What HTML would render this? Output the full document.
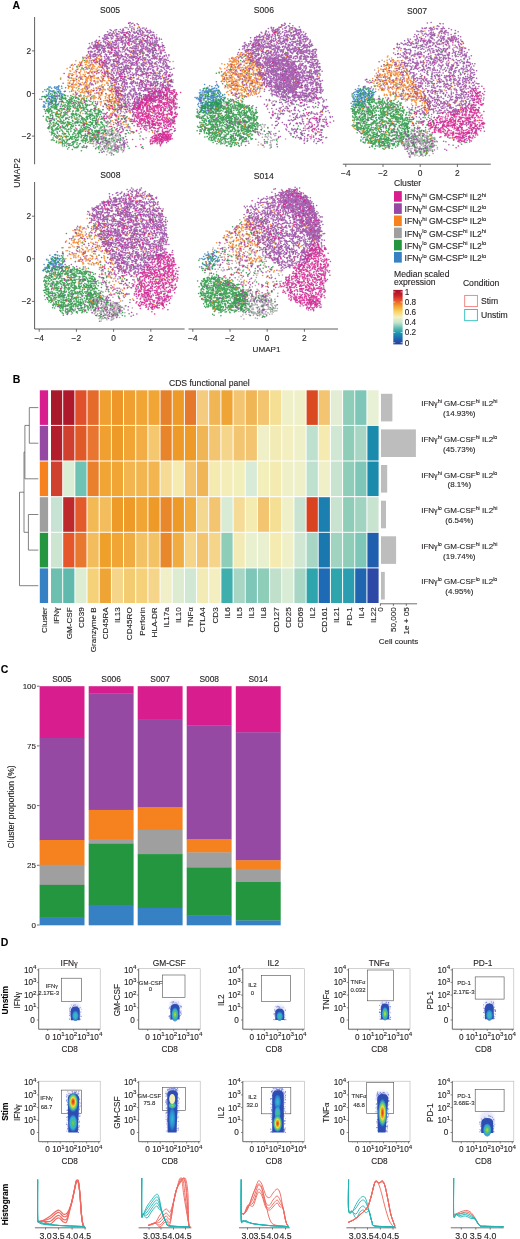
<!DOCTYPE html>
<html><head><meta charset="utf-8"><title>Figure</title>
<style>html,body{margin:0;padding:0;background:#fff;width:520px;height:1239px;overflow:hidden}svg{display:block}text{stroke:#231f20;stroke-width:0.12px}</style>
</head><body>
<svg width="520" height="1239" viewBox="0 0 520 1239" font-family="'Liberation Sans', Arial, sans-serif" fill="#231f20">
<rect x="0.0" y="0.0" width="520.0" height="1239.0" fill="#ffffff"/>
<defs><filter id="sb" x="0" y="0" width="520" height="360" filterUnits="userSpaceOnUse"><feGaussianBlur stdDeviation="0.3"/></filter></defs>
<g filter="url(#sb)"><g transform="scale(0.25)" fill="none" stroke-width="5.6" stroke-linecap="round" stroke-opacity="0.85">
<path d="M626 139h1m-34 0h1m-151 26h1m112 11h1m62-6h1m-30 27h1m18 4h1m-84 22h1m17 11h1m-187 17h1m114 1h1m101 23h1m-82 5h1m107 14h1m-321 29h1m41-6h1m367 3h1m-41 7h1m-155 5h1m-186 2h1m-26 25h1m-31 7h1m69 4h1m285 0h1m-321 8h1m-50 6h1m16 11h1m16 1h1m23-4h1m253-4h1m137 13h1m-232 4h1m-111-4h1m-73 4h1m-28 6h1m42-1h1m64 9h1m75 1h1m17-10h1m28 22h1m-27-9h1m-48 4h1m-136 4h1m-4-6h1m-55-4h1m13 19h1m7-7h1m16 6h1m18-2h1m57 3h1m127-5h1m204-1h1m-150 17h1m-16-3h1m-97 5h1m-109-7h1m-67 9h1m1 1h1m19 3h1m12 3h1m90-1h1m74 5h1m33 1h1m10-3h1m34 9h1m-33 4h1m-13-5h1m-9 7h1m-24-10h1m-31 1h1m-107-1h1m-89 7h1m-21 7h1m44 4h1m55 3h1m142-6h1m22-3h1m40 0h1m115 8h1m13 11h1m-107-6h1m-45 3h1m-6 3h1m-52-2h1m-106 5h1m-34-3h1m-26 2h1m-15-7h1m-58 20h1m50-4h1m149 2h1m19-4h1m14-1h1m13 8h1m24 6h1m-2 6h1m-21-7h1m-1 1h1m-5 1h1m-3-5h1m-4 0h1m-4 0h1m-2 6h1m-7-3h1m-2 2h1m-1 2h1m-6-6h1m-5-1h1m-5 9h1m-5-4h1m-18 4h1m-4 0h1m-1-1h1m-2-4h1m-4 2h1m-46-1h1m-36-3h1m-35-2h1m-78 9h1m6 13h1m24-7h1m28 1h1m1 2h1m106 2h1m4-5h1m3 3h1m4-6h1m1 3h1m0 7h1m5-8h1m5 5h1m5-2h1m8 3h1m0-1h1m0-5h1m1-2h1m5 2h1m6 7h1m0-7h1m0 1h1m1-5h1m1 5h1m2 3h1m5 4h1m-1-1h1m1 1h1m0-10h1m-1 4h1m1 3h1m0-5h1m1 1h1m5-1h1m4 5h1m2 0h1m2-4h1m6 7h1m-1-8h1m107 19h1m-97-1h1m-8-5h1m-8 3h1m-5-6h1m-4 2h1m-4-1h1m-2 5h1m-7 1h1m-2 2h1m-2-1h1m-5-3h1m-17-6h1m-8-1h1m-5 10h1m-2-7h1m-8 3h1m-2 0h1m-6-2h1m-1-3h1m-2 7h1m-1-5h1m-4 7h1m-4-4h1m-4 2h1m-6-6h1m-1 1h1m-2 5h1m-1-3h1m-1 1h1m-5-4h1m-2 3h1m-1-4h1m-1 7h1m-4 0h1m-3-6h1m-2 0h1m-4-1h1m-1 10h1m-5-8h1m-14 1h1m-34-1h1m-5 0h1m-46 8h1m-53-4h1m15 16h1m9-3h1m123 2h1m3-4h1m4 4h1m8-5h1m1-3h1m3 3h1m2-2h1m-1-1h1m2 6h1m1-1h1m0 0h1m1-5h1m0 7h1m0 1h1m2-1h1m0-1h1m0-2h1m1-5h1m1 8h1m1 1h1m2-1h1m0 1h1m1-6h1m3 3h1m7-2h1m-1 5h1m1 2h1m3-7h1m3 1h1m0 4h1m5-7h1m6 7h1m5-6h1m0 5h1m2 1h1m0 1h1m0-7h1m1 1h1m6 5h1m1-3h1m66-2h1m40 11h1m-106-1h1m-1 2h1m-3-3h1m-13 10h1m-13-7h1m-6-5h1m-4 6h1m-2 4h1m-6-9h1m-1 7h1m-5-7h1m-2 0h1m-3 3h1m-6 6h1m-3 1h1m-2 1h1m-1-2h1m-3-6h1m-2-2h1m-3 6h1m-2-1h1m-3-1h1m-11 2h1m-6-2h1m-3 5h1m-3-6h1m-1-5h1m-4 7h1m-5-5h1m-5 4h1m-2 5h1m-10-9h1m-2 6h1m-7-4h1m-2 5h1m-11 2h1m-85-7h1m-40 18h1m62-3h1m59 2h1m8-5h1m2-2h1m11 3h1m0 4h1m3 1h1m4-8h1m10 5h1m4 0h1m0 1h1m-1-3h1m1 4h1m-1 1h1m4 2h1m0-11h1m1 3h1m6 2h1m0 5h1m0 1h1m3-4h1m2 2h1m1-5h1m3-3h1m0 6h1m3 1h1m5-2h1m0 2h1m5-2h1m3 0h1m4-4h1m0 3h1m4-6h1m4 9h1m0-6h1m10-2h1m-9 12h1m-4 6h1m-1 2h1m-3-6h1m-6 8h1m-4-10h1m-3 9h1m-1-1h1m-6-9h1m-3 1h1m-4 11h1m-5-1h1m-2-9h1m-2 7h1m-3-7h1m-1-1h1m-2 2h1m-8 0h1m-5 8h1m-7-2h1m-5-2h1m-8 0h1m-3-3h1m-9 3h1m-3-6h1m-3 7h1m-3 2h1m-4-8h1m-10 3h1m-3 2h1m-10-4h1m-6-2h1m-4 1h1m-5-1h1m-4 4h1m16 7h1m2 2h1m0 0h1m-1 1h1m2 6h1m9-2h1m10 0h1m2-4h1m0-3h1m4 10h1m-1 2h1m4-4h1m-1 2h1m2-8h1m0 9h1m4-8h1m0-1h1m2 1h1m2-2h1m-1 4h1m4-4h1m2 7h1m3-1h1m0 3h1m1-4h1m11-6h1m0 0h1m3 8h1m-46 13h1m-6-9h1m-15 7h1" stroke="#9f9f9f"/>
<path d="M195 348h1m5 0h1m17-1h1m8 0h1m1 1h1m4-5h1m-1 3h1m11 7h1m-9 7h1m-7-8h1m-1 0h1m-1 5h1m-2-4h1m-1 2h1m-6 4h1m-2-9h1m-3 3h1m-5 0h1m-4-3h1m-12 3h1m-11-2h1m-2 8h1m-17 0h1m5 6h1m14-3h1m0 2h1m4 1h1m2 0h1m-1 2h1m1-2h1m4 5h1m1 1h1m1-2h1m4 3h1m3-6h1m3 1h1m2-6h1m3 8h1m1-3h1m18-1h1m-10 12h1m-4 2h1m-3-1h1m-2-4h1m-1 8h1m-1-6h1m-6-2h1m-2-1h1m-2 4h1m-2 6h1m-2-8h1m-5 8h1m-5-3h1m-3-6h1m-10 8h1m-1-7h1m-7 8h1m-10-9h1m-10-1h1m-2 4h1m-7 5h1m-3-2h1m-19 7h1m11-1h1m1 5h1m10 3h1m2-5h1m-1-4h1m0 9h1m1-9h1m-1 10h1m4-9h1m2 4h1m2-4h1m1 6h1m0-7h1m1 8h1m4 2h1m-1-2h1m2 0h1m3-8h1m1 0h1m9 11h1m1-8h1m6 0h1m2 3h1m-10 7h1m-2 8h1m-15-8h1m-3 5h1m-2 3h1m-3 1h1m-8-7h1m-3 2h1m-1-1h1m-2 6h1m-2-6h1m-6-4h1m-1 7h1m-1 1h1m-14-1h1m-1 4h1m-8-9h1m-12 8h1m-16-10h1m16 11h1m2 0h1m3 6h1m10 2h1m0 0h1m1-8h1m0 11h1m1-9h1m3 7h1m3-3h1m13-4h1m1 7h1m5 1h1m40 3h1m-40-1h1m-7 11h1m-23-6h1m-12-4h1m-2 6h1m-13 1h1m-3-7h1m-2 3h1m-3 5h1m-2-9h1m-3 7h1m96 7h1m134 17h1m-224-6h1m82 29h1m122 17h1m-53 1h1m-103 5h1m138 7h1m-53 24h1m-93-1h1m117 16h1m-7 0h1m-93 29h1" stroke="#3680c4"/>
<path d="M551 121h1m-1 14h1m-10-3h1m-35 1h1m-71 9h1m106 16h1m73 19h1m-159 4h1m-79 2h1m-10 0h1m24 18h1m147-6h1m72 6h1m-10 9h1m-41 0h1m37 11h1m-278 14h1m4 7h1m-31 24h1m9 0h1m9 7h1m5 2h1m22-2h1m155 1h1m52 7h1m-73 6h1m-1 2h1m4 18h1m-137 2h1m-121 7h1m41-4h1m21 5h1m148 2h1m64-2h1m104 2h1m59 4h1m-4 4h1m-51 7h1m-63 0h1m-92-10h1m-203 10h1m-32 11h1m29 1h1m162 1h1m18-7h1m164 2h1m-175 15h1m-40-8h1m-9 7h1m-17-4h1m-49 0h1m-24 3h1m-125 0h1m-4 2h1m-18 10h1m24-3h1m-1 5h1m16-5h1m1-1h1m3 6h1m14 0h1m0-2h1m50-2h1m63 6h1m1-5h1m84-3h1m30 0h1m17 2h1m72 10h1m-85 7h1m-5 0h1m-110-4h1m-28 6h1m-14-4h1m-8 3h1m-33-1h1m-22 1h1m-5-4h1m-3 4h1m-38 0h1m-3-11h1m-9 5h1m-10 0h1m-10 4h1m-21 5h1m5 0h1m2 3h1m1-2h1m4-1h1m1 9h1m17-4h1m3 0h1m5-4h1m-1-3h1m2 12h1m-1-9h1m0 7h1m2-9h1m5 7h1m5-8h1m8 11h1m-1-4h1m2 0h1m0-5h1m0 4h1m1 4h1m0 1h1m3-2h1m1-1h1m0 4h1m0-5h1m1 2h1m7-9h1m12 5h1m0 3h1m4-6h1m0 9h1m2-5h1m5-3h1m1 6h1m3-3h1m7 3h1m14 0h1m4 1h1m1-2h1m9 3h1m15-4h1m4-5h1m7 2h1m63 16h1m-77 2h1m-17 0h1m-2-3h1m-5 1h1m-2 0h1m-5-3h1m-12-4h1m-3 5h1m-3 6h1m-1 0h1m-7-10h1m-4 0h1m-3 9h1m-7-3h1m-7 0h1m-3-1h1m-1-2h1m-9-5h1m-1 9h1m-4 0h1m-2-2h1m-1-5h1m-1 7h1m-1-1h1m-5-7h1m-4 4h1m-1 6h1m-1-6h1m-4-2h1m-2 8h1m-6-4h1m-4 0h1m-5-6h1m-14 7h1m-3 3h1m-2-9h1m-2 8h1m-1 1h1m-8-11h1m-17 8h1m-3-5h1m-4 5h1m-10 1h1m-1 3h1m-4-4h1m-5-4h1m-15 6h1m-2-4h1m-21-5h1m26 18h1m4-1h1m3-5h1m4 1h1m1 3h1m5 4h1m4 2h1m-1 0h1m0-5h1m1-5h1m6 9h1m3-3h1m10 1h1m-1 3h1m1-11h1m6 2h1m5 8h1m3-8h1m5 5h1m0-7h1m-1 7h1m-1 1h1m1 1h1m-1-8h1m0 4h1m0 2h1m3-3h1m3-2h1m1 5h1m2 0h1m5 0h1m2 2h1m2 2h1m0-8h1m1 1h1m1 1h1m0 0h1m7-1h1m-1-3h1m3 9h1m1-7h1m4 1h1m-1 1h1m3 3h1m1-1h1m6-7h1m2 9h1m0-2h1m5 3h1m21-8h1m-1 6h1m11-2h1m41 4h1m20-5h1m23 4h1m27-1h1m1 11h1m-43-7h1m-2 12h1m-73-8h1m-2 7h1m-3 1h1m-2-8h1m-4-1h1m-3-1h1m-18-2h1m-2 1h1m-7-1h1m-2 1h1m-5 5h1m-1-4h1m-4 9h1m-1-10h1m-4 8h1m-8 3h1m-1-4h1m-3-6h1m-3 8h1m-7 1h1m-3-6h1m-2-1h1m-1-2h1m-4 8h1m-2-6h1m-3-3h1m-6 5h1m-2 6h1m-7-4h1m-4-7h1m-5 4h1m-2-1h1m-2 6h1m-1-2h1m-4-5h1m-8 3h1m-5-5h1m-1 6h1m-9-2h1m-1 4h1m-3 2h1m-4-7h1m-8 1h1m-1-2h1m-1 1h1m-6-1h1m-3-2h1m-4 5h1m-23 0h1m-3-4h1m-3 9h1m-3-6h1m-2 5h1m-3-4h1m-1 5h1m-7-2h1m-1-8h1m-2 3h1m-5 7h1m-3-5h1m-11 5h1m-19 7h1m7 4h1m0-4h1m1 6h1m1-4h1m1-6h1m0 9h1m1-3h1m0 2h1m4-9h1m0 6h1m0 1h1m3 3h1m8-8h1m4 0h1m2 1h1m2 0h1m0 2h1m4 3h1m3 3h1m-1-3h1m2-7h1m0 1h1m3-1h1m1 9h1m0-5h1m-1-2h1m5-1h1m0 2h1m-1 0h1m11 5h1m-1 0h1m0-4h1m0-2h1m1-3h1m1 2h1m0 4h1m2 0h1m0 5h1m2-9h1m10 8h1m12-8h1m-1 8h1m4-4h1m0-4h1m-1 7h1m-1 1h1m0 1h1m1-2h1m-1-5h1m10-4h1m0 11h1m5-3h1m0-6h1m0-2h1m2 3h1m7 1h1m4 7h1m-1-6h1m10 6h1m0-3h1m0-3h1m3 0h1m7 4h1m0-7h1m-1 7h1m-1-7h1m2-3h1m-1 3h1m0 3h1m0 2h1m2-1h1m7 2h1m-1-3h1m1-3h1m2 8h1m1-2h1m10-2h1m1 0h1m23 2h1m20-1h1m21-5h1m5-2h1m176 8h1m-193 10h1m-55 3h1m-2 1h1m-11-8h1m-6-2h1m-4 4h1m-1-4h1m-2-1h1m-3 11h1m-2-7h1m-2 4h1m-2 4h1m-6-2h1m-4 1h1m-4-2h1m-2-7h1m-2 0h1m-11 6h1m-6-7h1m-2 2h1m-2-1h1m-3 9h1m-3-9h1m-2-1h1m-11 5h1m-1-1h1m-4 4h1m-3 2h1m-2-9h1m-20 3h1m-11-4h1m-7 10h1m-3-2h1m-11 2h1m-3-9h1m-3 7h1m-11-8h1m-17 5h1m-4 3h1m-1-6h1m-2 6h1m-6-2h1m-10-1h1m-1 0h1m-3 3h1m-15-6h1m-2 6h1m-3-4h1m-1-1h1m-1 1h1m-3 4h1m-1-2h1m-3 5h1m-8-6h1m-8-1h1m-2 5h1m-3-8h1m-8 0h1m-4 2h1m-2 4h1m-5-6h1m-9 7h1m-10 12h1m12 3h1m3-1h1m1 0h1m8-7h1m-1-2h1m-1 6h1m1-3h1m6 1h1m11-3h1m1 5h1m0-6h1m1 8h1m-1-1h1m2 2h1m0-10h1m0 9h1m1-8h1m6-1h1m0 7h1m-1-3h1m6 3h1m3 2h1m-1 1h1m0-1h1m0-4h1m-1-2h1m4 0h1m4-3h1m2-1h1m9 12h1m6-2h1m-1-10h1m1 11h1m1-6h1m-1-2h1m4 0h1m1 6h1m3-8h1m1 1h1m1 2h1m2 2h1m4-5h1m3 8h1m0 2h1m1-6h1m4 4h1m21 1h1m0-1h1m0-9h1m3 1h1m-1 8h1m2 0h1m2-5h1m0 3h1m1-4h1m0-1h1m3-1h1m0 7h1m2-4h1m2 3h1m4 2h1m6-1h1m0-3h1m1 7h1m0-2h1m3-6h1m4 8h1m2-10h1m13 9h1m83-4h1m8 4h1m25-9h1m-31 12h1m-6 5h1m-5-4h1m-7 5h1m-16-3h1m-1 4h1m-40-5h1m-20 7h1m-5-6h1m-4 3h1m-3-3h1m-5 4h1m-11-1h1m-10-3h1m-7-4h1m-2 4h1m-6 0h1m-4 3h1m-8 1h1m-2-7h1m-4 2h1m-9 5h1m-1-2h1m-2-4h1m-2 5h1m-4-5h1m-1 0h1m-2-2h1m-5 9h1m-4-3h1m-2 1h1m-5 1h1m-2-2h1m-1-4h1m-3 3h1m-3-5h1m-1 10h1m-13-2h1m-9 1h1m-1-3h1m-11-3h1m-10-1h1m-3 1h1m-11-3h1m-2 9h1m-2-1h1m-9-4h1m-4-1h1m-2 5h1m-13-6h1m-6-1h1m-5 10h1m-2-4h1m-5-5h1m-2-1h1m-11 6h1m-10 4h1m-3-3h1m-4-9h1m-2 8h1m-1 0h1m-1-6h1m-2 5h1m-4 0h1m-5-1h1m-3 1h1m-8-3h1m-10 4h1m-1 4h1m1 1h1m2 5h1m7 0h1m2 2h1m0 3h1m2-9h1m1 1h1m5 8h1m2-2h1m1-8h1m7 8h1m4-6h1m0 1h1m3 2h1m3 2h1m3-1h1m0-6h1m4 6h1m0 4h1m2-2h1m0-8h1m0 1h1m5 9h1m-1-1h1m7-3h1m0 4h1m0-2h1m3-1h1m0 2h1m6 0h1m5-9h1m1 2h1m-1 3h1m9 2h1m-1 3h1m0-1h1m3 1h1m0-5h1m3 5h1m-1-1h1m-1-7h1m3 5h1m5-4h1m-1 7h1m2-1h1m2 2h1m3-8h1m1 4h1m-1-4h1m0 8h1m5-10h1m2-2h1m-1 2h1m0 2h1m0 3h1m10 2h1m2-1h1m1-1h1m0 3h1m3 2h1m0-1h1m1-9h1m-1 10h1m1-3h1m1-7h1m5 0h1m1 6h1m3-7h1m1 9h1m2-3h1m12 3h1m0-3h1m3 3h1m7-8h1m1-1h1m5 10h1m18-7h1m18 8h1m32-4h1m25-2h1m0-1h1m67 5h1m99-8h1m-179 15h1m-39-5h1m-40 0h1m-8 0h1m-2 12h1m-4-1h1m-10-2h1m-6-2h1m-4-5h1m-2-2h1m-8 8h1m-6-3h1m-3 2h1m-6-5h1m-2 6h1m-5-3h1m-1 0h1m-1-5h1m-7 10h1m-2 1h1m-7-6h1m-1-4h1m-4 4h1m-6 4h1m-1-1h1m-6 1h1m-3-2h1m-7-1h1m-2-4h1m-1 0h1m-4 3h1m-4-3h1m-2-1h1m-4 9h1m-2-6h1m-1 3h1m-3-5h1m-2 9h1m-1-7h1m-2 7h1m-2-2h1m-14-1h1m-3 2h1m-1 0h1m-2-1h1m-13 1h1m-5-7h1m-6 9h1m-4-10h1m-5 8h1m-1 2h1m-4-6h1m-6-1h1m-3-4h1m-2 0h1m-3 1h1m-2 5h1m-4 3h1m-4-5h1m-3 3h1m-9-6h1m-2 1h1m-8 7h1m-2-9h1m-5 1h1m-10 8h1m-4-4h1m-4-1h1m-1 0h1m-3-4h1m-5 1h1m-3 7h1m-6-5h1m-1 8h1m-1 0h1m-5-3h1m-9-5h1m-6 6h1m-4-6h1m-7 16h1m3 2h1m0-7h1m2 0h1m5 5h1m1-4h1m2 5h1m2-7h1m4-2h1m6 10h1m2-3h1m0 3h1m2-7h1m1 8h1m5-4h1m0-1h1m-1 3h1m7-6h1m2 1h1m1 0h1m-1 1h1m4 1h1m2-5h1m1 10h1m5-8h1m12 2h1m1-4h1m1 9h1m3-7h1m11 5h1m-1 0h1m17 4h1m3-8h1m0 2h1m3 5h1m6-3h1m0 2h1m1-1h1m3-6h1m0 8h1m2-10h1m-1 11h1m0-7h1m4 1h1m-1-1h1m0 2h1m2 0h1m4-7h1m11 6h1m4 3h1m1-5h1m6-1h1m14 1h1m-1 2h1m-1 4h1m3-6h1m1 0h1m-1 0h1m6-2h1m30 9h1m10-4h1m10-7h1m10 7h1m37-3h1m181 14h1m-31 3h1m-61-1h1m-106-3h1m-14-4h1m-25 8h1m-20-2h1m-28-1h1m-2 4h1m-4-3h1m-2-3h1m-8 0h1m-5 1h1m-8-1h1m-1 0h1m-2 6h1m-5-4h1m-2 5h1m-6-2h1m-2 2h1m-1-5h1m-3 0h1m-3 3h1m-5-2h1m-1 5h1m-11-4h1m-2-3h1m-2-2h1m-2 5h1m-8-6h1m-4 2h1m-3-1h1m-3 6h1m-3 0h1m-10 1h1m-3-8h1m-7 1h1m-3 3h1m-1 3h1m-6 3h1m-2-8h1m-2 6h1m-2-5h1m-3 0h1m-5 2h1m-5 2h1m-11-2h1m-1-1h1m-3 2h1m-3 1h1m-2-5h1m-3-2h1m-14 6h1m-1 2h1m-2-10h1m-8 0h1m-3 2h1m-2 8h1m-6 0h1m-1-6h1m-9-4h1m-10 11h1m-3-6h1m-5-1h1m-7 5h1m-7-7h1m-2 0h1m-8 1h1m-2 1h1m-2-4h1m-7 4h1m-2 2h1m-4 5h1m-4-6h1m-1-2h1m-4 0h1m-2 11h1m0-2h1m0 8h1m1-6h1m0 5h1m0-1h1m4-1h1m3 4h1m8-5h1m19 3h1m5 4h1m0-2h1m-1 0h1m-1-3h1m5 1h1m11-3h1m1 5h1m0 2h1m12 0h1m1-3h1m-1 0h1m2-6h1m3 4h1m4 6h1m4-6h1m2-3h1m0 6h1m-1 1h1m-1-3h1m0-4h1m2 3h1m1-5h1m0 0h1m0 5h1m0 1h1m1 4h1m16-3h1m-1 3h1m8-6h1m1 1h1m-1-2h1m0 4h1m2-1h1m-1-6h1m0 5h1m3-1h1m0 1h1m7-3h1m-1 8h1m-1-8h1m3 6h1m9 2h1m3-9h1m0 1h1m0 8h1m0-9h1m1 7h1m0-6h1m3 0h1m7 2h1m4-2h1m0 2h1m12 0h1m17 6h1m1-4h1m3 3h1m1 1h1m26-1h1m22-3h1m11-4h1m21-1h1m24 14h1m-59 2h1m-9 6h1m-34-10h1m-70 2h1m-2 3h1m-12-1h1m-2 5h1m-3-9h1m-3 10h1m-2-9h1m-2-2h1m-3 9h1m-4-9h1m-5 9h1m-5-1h1m-2 1h1m-1-3h1m-10-2h1m-2-4h1m-3 10h1m-5-9h1m-5 5h1m-4 5h1m-2-10h1m-2 9h1m-8-9h1m-4 8h1m-1 1h1m-1-4h1m-10-3h1m-2 4h1m-2-5h1m-4 6h1m-9-8h1m-1 7h1m-5 4h1m-3-6h1m-7 1h1m-3 2h1m-6-3h1m-2 2h1m-1 4h1m-11-6h1m-5 0h1m-3-2h1m-3 7h1m-2-5h1m-4 0h1m-11 4h1m-5-5h1m-3-1h1m-7 0h1m-4-3h1m-5 5h1m-6-4h1m-3 7h1m-9-8h1m-1 3h1m-12 16h1m4-1h1m0 0h1m0-7h1m3 10h1m11-9h1m7 5h1m2-3h1m1 2h1m6-1h1m-1-1h1m3 6h1m13 3h1m2-6h1m0 4h1m4-5h1m0 0h1m0 1h1m-1-3h1m3-2h1m4 2h1m0 2h1m3-1h1m9 3h1m1 0h1m0 4h1m0-11h1m1 9h1m3 0h1m0-4h1m12 6h1m1-2h1m2 2h1m1-6h1m3 5h1m0 0h1m3 0h1m-1-7h1m2 5h1m0-5h1m1 6h1m-1-5h1m1 4h1m9-3h1m-1 7h1m-1-8h1m2 6h1m0-3h1m0-1h1m0-1h1m1 7h1m3-11h1m-1 5h1m1 1h1m3-6h1m2 2h1m1 3h1m3-6h1m1 8h1m3 3h1m1-6h1m0-4h1m22-1h1m2 9h1m0-9h1m0 3h1m0 8h1m13-9h1m12-1h1m4 9h1m11-4h1m12-5h1m1 7h1m-6 9h1m-40-1h1m-4-1h1m-9 7h1m-19-7h1m-22 0h1m-22 7h1m-6-8h1m-4 7h1m-10-3h1m-9-3h1m-2-1h1m-2 7h1m-10-5h1m-12 6h1m-5 2h1m-10-5h1m-9-6h1m-2 4h1m-2-3h1m-5 8h1m-2-8h1m-2 6h1m-1 4h1m-5-6h1m-9 5h1m-15-7h1m-5 4h1m-5-4h1m-2-4h1m-7 10h1m-2-9h1m-2 4h1m-7 0h1m-4 0h1m-6 3h1m-10-7h1m-2 5h1m23 10h1m7-4h1m0 7h1m7 2h1m7-4h1m1-4h1m1 5h1m5 0h1m4-2h1m2-1h1m1 8h1m12-10h1m4 7h1m22-2h1m10 3h1m47 2h1m25-3h1m6-6h1m68 3h1m14 4h1m58 2h1m-55 6h1m-33-1h1m-38-3h1m-5 6h1m-9-2h1m-3 0h1m-24 4h1m-17-2h1m-13 0h1m-38-4h1m-7-2h1m-10 1h1m-1-1h1m-3-1h1m-18 0h1m-5 3h1m-1-3h1m-6 2h1m-4 1h1m-11 7h1m-15-8h1m-6 6h1m54 7h1m71 7h1m16-5h1m49-2h1m-11 16h1" stroke="#23963f"/>
<path d="M537 100h1m0 2h1m16 5h1m-20 10h1m-60 10h1m29 2h1m0 1h1m58 7h1m-70 4h1m-42-7h1m-12 3h1m20 15h1m2-5h1m18 4h1m13 1h1m84 2h1m-21 7h1m-54-5h1m-123 13h1m48 3h1m67 1h1m14 5h1m84 2h1m-58 8h1m-14 3h1m-44-2h1m-1 1h1m-46 1h1m-22 0h1m-14-4h1m-34 1h1m-12 4h1m-3-12h1m42 15h1m16 8h1m62-6h1m36 5h1m50-2h1m34-6h1m33 5h1m-79 9h1m-4-3h1m-9 5h1m-13 5h1m-28-10h1m-110 3h1m-35 8h1m-8 0h1m-26 3h1m2 7h1m1 1h1m19-4h1m0 5h1m15-4h1m1 0h1m-1-2h1m7 5h1m58-9h1m2 6h1m45-3h1m11-3h1m16 8h1m33-10h1m42 9h1m21 7h1m-172 6h1m-3-3h1m-2-1h1m-57 2h1m-11-1h1m-1 4h1m-6-4h1m-7-2h1m-3 7h1m-14-1h1m-2 1h1m-8-5h1m-8-1h1m-14-4h1m-6 0h1m-4 2h1m-33 11h1m14 8h1m-1-2h1m2 2h1m8-7h1m0-3h1m7 9h1m3-9h1m-1 5h1m2 4h1m-1-7h1m1 0h1m0-2h1m0 5h1m-1 0h1m3 6h1m2-8h1m0-3h1m16 6h1m0 0h1m6 1h1m1-5h1m1 7h1m2-5h1m6 6h1m17-1h1m161-7h1m28 4h1m85-1h1m-73 11h1m-33 0h1m-76-4h1m-50 6h1m-20 4h1m-5 0h1m-20-11h1m-14 6h1m-3 1h1m-24-3h1m-11 6h1m-2-3h1m-5 0h1m-2-2h1m-5 0h1m-2 1h1m-10 6h1m-4-2h1m-8-4h1m-4 1h1m-12 3h1m-8 1h1m-8-2h1m-4-2h1m-22 4h1m-4-5h1m-22 16h1m21-1h1m17-3h1m0-5h1m0 4h1m1 7h1m15-6h1m15-3h1m2 3h1m7-1h1m2-5h1m1 0h1m6 10h1m-1-3h1m3-3h1m-1-3h1m-1 2h1m3 7h1m2-8h1m10 6h1m4-5h1m-1-1h1m2 3h1m3 0h1m2-4h1m-1 1h1m4 4h1m0 2h1m13-6h1m93 7h1m13 1h1m22 0h1m-61 11h1m-24 0h1m-28-5h1m-15 3h1m-3-6h1m-3 6h1m-3 1h1m-6 3h1m-5-9h1m-15 7h1m-7-5h1m-10 4h1m-4-7h1m-5 8h1m-10 0h1m-3-8h1m-7 9h1m-3-5h1m-3 5h1m-10-9h1m-6 11h1m-3-10h1m-6 10h1m-3-8h1m-5-2h1m-9 1h1m-2 0h1m-2 6h1m-21-3h1m-13-4h1m-9 7h1m-4-2h1m-6 16h1m1-5h1m4 1h1m6 0h1m5 4h1m1-10h1m7 7h1m11-6h1m3 2h1m0 8h1m10-2h1m7 0h1m-1 0h1m11-5h1m1-2h1m13-2h1m2 6h1m4-6h1m10 3h1m9-1h1m8 5h1m1-7h1m9 3h1m-1 6h1m1-5h1m9-4h1m0 9h1m5-6h1m4 3h1m125-6h1m16 8h1m42-6h1m20 15h1m-39 6h1m-58-3h1m-51-1h1m-49 3h1m-8-8h1m-4-3h1m-14 12h1m-2-4h1m-2 1h1m-9-6h1m-6 1h1m-9-2h1m-5 9h1m-3-4h1m-21 5h1m-7-10h1m-3 5h1m-2-6h1m-4 3h1m-3 3h1m-3 0h1m-2-1h1m-2 4h1m-5-4h1m-6-5h1m-4 6h1m-1-1h1m-7 4h1m-3 0h1m-10-4h1m-1-3h1m-10 4h1m-2 0h1m-1 2h1m-5 1h1m-7 0h1m-4 2h1m-6-8h1m-4 3h1m-19-7h1m-1 2h1m-12 7h1m-2-7h1m-1-2h1m-3 9h1m-33 3h1m29 9h1m4-8h1m8-1h1m1 9h1m3-7h1m1 6h1m4 2h1m0-9h1m13 9h1m2 2h1m6-10h1m3 2h1m1 2h1m12-1h1m-1 6h1m0-8h1m0 4h1m1 1h1m-1-7h1m0 10h1m1-8h1m2-3h1m6 4h1m0 6h1m3-8h1m-1 0h1m0 6h1m7 4h1m1-2h1m-1-9h1m12 1h1m3 0h1m4 6h1m10-5h1m0-2h1m3 8h1m4 2h1m13-1h1m-1-10h1m0 3h1m-1 0h1m9 0h1m19 1h1m64-4h1m60 3h1m71 5h1m4-1h1m4 11h1m-2 3h1m-105-5h1m-71 0h1m-31 0h1m-3 6h1m-8-4h1m-16-3h1m-2-1h1m-11 9h1m-4-4h1m-3-3h1m-2 5h1m-17-9h1m-2 2h1m-3 2h1m-5-4h1m-11 4h1m-3-3h1m-3 6h1m-2-5h1m-8 3h1m-15 5h1m-4-9h1m-15 0h1m-5 6h1m-5-4h1m-6 7h1m-3 2h1m-7-6h1m-9 4h1m-2 1h1m-7-2h1m-8-5h1m-12-4h1m-4 6h1m-2 5h1m-5 1h1m-10-3h1m-2-4h1m-7 3h1m-2 9h1m1 2h1m7 1h1m5 1h1m1-7h1m3 2h1m1 8h1m3-9h1m2 1h1m0-4h1m1 1h1m-1 2h1m6 6h1m2 2h1m2-4h1m-1-5h1m0-2h1m6 4h1m6-1h1m6 5h1m-1 3h1m0-7h1m5 3h1m-1-6h1m1 8h1m3-2h1m2 0h1m-1-5h1m1 6h1m13-3h1m0-2h1m24 5h1m-1 1h1m6-2h1m0 1h1m1-6h1m9 2h1m28 1h1m9-3h1m31 7h1m132-1h1m47 11h1m-54-3h1m-3 1h1m-15-1h1m-46 0h1m-80 6h1m-5-3h1m-14-1h1m-4 4h1m-6-5h1m-4 4h1m-2-8h1m-3 4h1m-8 2h1m-3-5h1m-5 8h1m-3 0h1m-1-3h1m-12 3h1m-1 2h1m-3-2h1m-6-6h1m-2 5h1m-1 1h1m-1-2h1m-8 3h1m-2-11h1m-13 0h1m-3 8h1m-4-1h1m-5-3h1m-10 1h1m-10 6h1m-9-10h1m-3 2h1m-7 0h1m-1 7h1m-1-8h1m-6-1h1m-9 6h1m-7 2h1m-2-2h1m-6 4h1m-18-8h1m-4 1h1m-8-3h1m-4-1h1m-5 6h1m-1 4h1m-2-10h1m-4 1h1m-13-1h1m-2 5h1m4 14h1m7-3h1m7-1h1m6 8h1m0-6h1m7-4h1m5 4h1m4 6h1m4-3h1m3-4h1m0-2h1m1 9h1m4-5h1m-1 0h1m0 6h1m4-6h1m-1-5h1m0 3h1m9-1h1m5 6h1m-1-5h1m3 4h1m3-6h1m2 1h1m0-1h1m15 9h1m5-2h1m-1 1h1m2-8h1m5 8h1m3-1h1m1-6h1m1 2h1m29-3h1m1 3h1m0 3h1m1 3h1m4-7h1m8-1h1m9-1h1m11 0h1m160 7h1m-111 13h1m-10 2h1m-44-3h1m-3-8h1m-2 3h1m-14 5h1m-3-3h1m-3 0h1m-3-4h1m-9 4h1m-1 5h1m-4-7h1m-9 3h1m-6 1h1m-10 0h1m-5-6h1m-17 5h1m-5 1h1m-2 3h1m-7 1h1m-4-10h1m-15-1h1m-1 1h1m-4 8h1m-5 0h1m-11-6h1m-7 8h1m-4-9h1m-17 6h1m-14 1h1m-6 0h1m-10-9h1m-5 5h1m-1-3h1m-5 5h1m-2 2h1m-10-6h1m-63 6h1m-10-6h1m57 15h1m23-4h1m18-3h1m0 2h1m1 10h1m1-2h1m7-1h1m7-7h1m4 3h1m2-5h1m12 8h1m6 0h1m7 0h1m-1-7h1m4 5h1m8 4h1m7-1h1m19-7h1m-1 7h1m1-5h1m7 3h1m4-5h1m-1 9h1m1-5h1m9 1h1m-1-3h1m3 7h1m4-3h1m3-4h1m1 5h1m5-4h1m5 5h1m7-10h1m2 0h1m2 5h1m81 3h1m13-4h1m14 3h1m53-1h1m45-4h1m-33 16h1m-167 4h1m-3-3h1m-7 4h1m-3 0h1m-21-3h1m-1-7h1m-11 3h1m-3 3h1m-3 1h1m-3 1h1m-1-1h1m-6 2h1m-4-7h1m-6 2h1m-1-2h1m-3 8h1m-5-4h1m-8 1h1m-5-2h1m-5 0h1m-8 1h1m-11 3h1m-6 1h1m-26-11h1m-2 9h1m-13-7h1m-30 0h1m-3 10h1m-8-3h1m-126 10h1m52-6h1m63-1h1m49 9h1m37-5h1m13 1h1m2 2h1m10-6h1m3 9h1m16-3h1m2-6h1m2 4h1m3-3h1m4 4h1m4-3h1m0 0h1m-1 6h1m4-8h1m6 9h1m-1 0h1m15-1h1m58 1h1m29-6h1m2 3h1m-1 1h1m-90 14h1m-2-7h1m-20-1h1m-8 2h1m-1 6h1m-9-9h1m-12 6h1m-1 3h1m-2 0h1m-4-2h1m-7-7h1m-6 1h1m-4 0h1m-3 5h1m-4 0h1m-6 0h1m-3-3h1m-5 5h1m-24-9h1m-105 12h1m-22-10h1m-23 14h1m18 3h1m48-4h1m70 1h1m39 0h1m0 1h1m6-3h1m5-2h1m2 6h1m5 1h1m2 0h1m6 0h1m2-1h1m-1-6h1m8 5h1m2-4h1m2 6h1m9-3h1m21 3h1m92 12h1m-90-1h1m-4 0h1m-27-3h1m-35-2h1m-8 3h1m-6 5h1m-5 1h1m-112 0h1m-11-1h1m-50-6h1m-30 9h1m-4-11h1m-14 5h1m8 17h1m179-4h1m19 0h1m3-3h1m3-3h1m13 4h1m15 6h1m1-7h1m14 6h1m43-2h1m133 1h1m5 7h1m-14 5h1m-65-9h1m-80 9h1m-6-3h1m-2 0h1m-46 2h1m-9 2h1m-39-4h1m-28 2h1m-86-5h1m-11 2h1m-105 3h1m35 8h1m101 4h1m11 3h1m45-3h1m27-2h1m28-3h1m4 7h1m14-7h1m21 8h1m11-9h1m14 1h1m115 18h1m-131-4h1m-10 2h1m-53-3h1m-114-2h1m-59 3h1m-59 2h1m201 17h1m34-7h1m35 0h1m17-1h1m14 5h1m30-7h1m44 21h1m-36-10h1m-32 10h1m-76-3h1m-101 0h1m-21-2h1m-82 7h1m102 10h1m37-11h1m20 10h1m37-5h1m65 1h1m12-2h1m22 2h1m53-4h1m20 3h1m-252 12h1m-4-1h1m-122 2h1m-14 2h1m-12 1h1m-5 3h1m35 5h1m69-2h1m239 3h1m-206 16h1m-16-8h1m-114 5h1m-7-6h1m196 16h1" stroke="#f5821f"/>
<path d="M548 95h1m-18-2h1m-7 2h1m-6-5h1m-6 3h1m3 8h1m8 6h1m8-7h1m15-1h1m31 14h1m-6 5h1m-6-6h1m-7 1h1m-9 7h1m-1-4h1m-5-6h1m-8 3h1m-15 6h1m-2-7h1m-9 2h1m-8-6h1m-2 0h1m-7 9h1m-7-6h1m-8-1h1m-9 6h1m-12 2h1m-16 1h1m-3 0h1m-25 0h1m-11 8h1m8 5h1m1-1h1m3-9h1m7 9h1m1 1h1m3-11h1m3 7h1m10-2h1m7 3h1m5-6h1m0 0h1m-1 6h1m2 2h1m1-8h1m0 8h1m2 0h1m11-3h1m7 1h1m2 2h1m4-7h1m6 4h1m0 2h1m2-2h1m7 1h1m0-3h1m10 1h1m-1-4h1m0-1h1m-1-1h1m2 6h1m1 5h1m3-10h1m2 10h1m-1-5h1m4 2h1m10-1h1m1-3h1m2 4h1m-1-7h1m8 8h1m-1 1h1m-1-9h1m-1-1h1m0 7h1m1 0h1m-1 0h1m1 0h1m6 1h1m1 1h1m1 10h1m-2 0h1m-5 1h1m-2-2h1m-2 2h1m-7 0h1m-8-8h1m-9 8h1m-1 0h1m-6 1h1m-2 1h1m-1-1h1m-4-2h1m-1 0h1m-8 0h1m-2-6h1m-5 9h1m-4-3h1m-3-3h1m-8 0h1m-3-1h1m-1 2h1m-3-6h1m-2 1h1m-5 11h1m-10-11h1m-6 9h1m-3-3h1m-11 1h1m-3 0h1m-2-2h1m-2 1h1m-1 4h1m-12-11h1m-5 7h1m-4 3h1m-5-2h1m-6-8h1m-5 1h1m-1 0h1m-6 11h1m-5-8h1m-6 1h1m-3-2h1m-4-1h1m-2 6h1m-2 4h1m-5-4h1m-12-4h1m-2-1h1m-1 7h1m-6-1h1m-2 2h1m-6-2h1m-2-8h1m-2 8h1m-3-3h1m-6 2h1m-6-1h1m-4 0h1m-4 3h1m-21 5h1m12 6h1m1 0h1m0 1h1m4-6h1m1 6h1m1-7h1m3 1h1m0 4h1m-1 3h1m1-2h1m-1-5h1m4 5h1m9-3h1m0 6h1m0-1h1m3-2h1m0-9h1m0 2h1m0 1h1m10 9h1m1-10h1m1 1h1m1 9h1m0-11h1m-1 2h1m-1 7h1m-1 0h1m0 0h1m0 2h1m2-1h1m3-5h1m3 4h1m1-2h1m0 1h1m0-2h1m-1-5h1m-1 1h1m2 0h1m1 4h1m6-2h1m1-4h1m2 1h1m0 6h1m-1 0h1m8-1h1m2-5h1m3 8h1m3-10h1m1 5h1m-1-4h1m0 10h1m0-3h1m5-1h1m0-3h1m3-1h1m1-1h1m0-2h1m-1 8h1m3 1h1m3-4h1m3-3h1m3 1h1m8 4h1m-1 4h1m0-4h1m4 4h1m1-9h1m9 9h1m2-9h1m1 0h1m4 3h1m4 4h1m2-2h1m1-2h1m1 5h1m-1-2h1m0 2h1m6-8h1m0 6h1m4 3h1m3-1h1m9-1h1m7 4h1m-9 2h1m-8 4h1m-4 1h1m-4-4h1m-4 6h1m-5-2h1m-8-8h1m-2 8h1m-9 4h1m-2-3h1m-3-5h1m-8 4h1m-2-4h1m-2 3h1m-3 2h1m-5-3h1m-3 4h1m-3-2h1m-1 0h1m-4-1h1m-2-2h1m-2-3h1m-8 7h1m-2 0h1m-4-4h1m-2 7h1m-3-11h1m-1 10h1m-4-3h1m-2 2h1m-5-9h1m-5 1h1m-5 7h1m-5-7h1m-1 2h1m-3 8h1m-5-5h1m-7 2h1m-7-7h1m-1 7h1m-4-5h1m-2-2h1m-1 8h1m-3-8h1m-3 4h1m-2-6h1m-2 6h1m-1-1h1m-12-2h1m-2 3h1m-1 0h1m-9 0h1m-1 5h1m-4-1h1m-3-1h1m-2-5h1m-7 1h1m-6 0h1m-4-1h1m-3 3h1m-4 0h1m-7 0h1m-2 0h1m-11 3h1m-27-10h1m-3 2h1m-2 10h1m-6-9h1m-3 6h1m-2-1h1m-16-2h1m-4 2h1m-10-3h1m-4 4h1m-4 1h1m-24 8h1m9 2h1m0-6h1m10 9h1m1 0h1m-1-3h1m-1-5h1m5-1h1m2 6h1m1-1h1m0 0h1m-1 1h1m0 1h1m3 0h1m3 0h1m0-7h1m11-2h1m1 0h1m4 5h1m1 7h1m3-9h1m2 5h1m1 3h1m0-5h1m0 1h1m1-5h1m1 8h1m5-3h1m4-6h1m1 1h1m-1 6h1m4 3h1m0-9h1m2 6h1m2 3h1m0-10h1m1 6h1m7-3h1m7-4h1m0 1h1m2 0h1m1 10h1m1-6h1m6-1h1m1 3h1m3-4h1m5 2h1m1-2h1m2-1h1m0 3h1m1 7h1m7-4h1m1-8h1m4 0h1m9 4h1m-1 3h1m2 3h1m3-2h1m1-1h1m4 1h1m1-6h1m2 0h1m0 0h1m0 1h1m-1 0h1m2 7h1m0-6h1m1 0h1m1 6h1m-1 0h1m4-3h1m7-5h1m3 8h1m-1-3h1m-1-2h1m2-3h1m4 4h1m1-2h1m-1 0h1m1 0h1m0 1h1m-1 6h1m2-2h1m2-4h1m0-2h1m-1 5h1m0-1h1m3 0h1m1-4h1m6 1h1m-1 6h1m1-1h1m0-1h1m-1 2h1m1-9h1m3 9h1m15-7h1m9 19h1m-5-7h1m-6-3h1m-1 5h1m-2 1h1m-7 1h1m-4 2h1m-4 1h1m-2-4h1m-3-4h1m-4 0h1m-8 3h1m-2-2h1m-2 1h1m-4 6h1m-3-9h1m-1 3h1m-3-2h1m-1 9h1m-6-1h1m-2 1h1m-5-6h1m-3-1h1m-6-1h1m-2 0h1m-6 8h1m-5-7h1m-3 2h1m-3 6h1m-3-3h1m-7-5h1m-2 0h1m-1 4h1m-2-2h1m-2-6h1m-6 11h1m-1-6h1m-4 0h1m-2 1h1m-12-2h1m-6 1h1m-2 7h1m-2-12h1m-2 1h1m-3 6h1m-4-2h1m-4-2h1m-2 9h1m-5-5h1m-1 0h1m-9 3h1m-2 0h1m-1 1h1m-4 1h1m-4-10h1m-8 9h1m-8-8h1m-3-1h1m-3 5h1m-2 3h1m-3-3h1m-6 4h1m-2 0h1m-7-1h1m-10-2h1m-2-8h1m-2 1h1m-2 5h1m-4 6h1m-1 0h1m-5-3h1m-2 3h1m-8-1h1m-4-6h1m-2 1h1m-5-1h1m-3-5h1m-1 4h1m-3 6h1m-4-1h1m-2-6h1m-1 7h1m-1-3h1m-6-6h1m-3 8h1m-2-2h1m-1-2h1m-3 6h1m-2 0h1m-4-10h1m-2 1h1m-1 1h1m-7 4h1m-6-4h1m-2 3h1m-1-4h1m-5 7h1m-2-2h1m-2-6h1m-1 8h1m-4-1h1m-3-7h1m-5 7h1m-1-5h1m-3 4h1m-2-5h1m-2 9h1m-3-2h1m-2-2h1m-3-7h1m-1 4h1m-2 7h1m-2-9h1m-4 5h1m-2 5h1m-3-5h1m-3-2h1m-1-3h1m-3 5h1m-4-2h1m-10 5h1m-6-5h1m-2 6h1m-3 1h1m-6 3h1m2-3h1m13 3h1m4-1h1m1-1h1m4 10h1m7-6h1m2 7h1m1-1h1m0-3h1m-1-1h1m1-2h1m1 4h1m1-3h1m5-4h1m2 1h1m0 7h1m0-8h1m1 2h1m1 8h1m-1-10h1m0 7h1m-1-3h1m1 4h1m-1-1h1m0-7h1m15-2h1m-1 1h1m0 0h1m6 3h1m1 6h1m1-5h1m7 4h1m4 0h1m1-7h1m9 6h1m0 0h1m-1 3h1m1-2h1m13-2h1m1-5h1m0 2h1m-1-1h1m6 7h1m0-2h1m0 0h1m2-5h1m4 3h1m-1 2h1m0 2h1m0 0h1m4 0h1m9-8h1m1 0h1m0-2h1m4 9h1m3-6h1m1 0h1m1 5h1m6 2h1m0-2h1m1-8h1m1 10h1m6 0h1m-1-4h1m4-5h1m-1 6h1m0-1h1m0 5h1m2-9h1m9 4h1m4-6h1m0 12h1m-1-8h1m3 8h1m0-2h1m0-1h1m1-6h1m0 6h1m0-6h1m3 7h1m1-4h1m3-5h1m1 4h1m-1 3h1m-1-7h1m0 8h1m3-9h1m0 11h1m2-3h1m0-6h1m0 2h1m4 7h1m8-9h1m2 1h1m4 5h1m10 3h1m2-3h1m2 10h1m-16 5h1m-1-6h1m-2 3h1m-4-7h1m-1 9h1m-2-3h1m-8 4h1m-2 1h1m-6-1h1m-6-4h1m-10 2h1m-1-2h1m-2-4h1m-2 2h1m-2 6h1m-3-7h1m-8 0h1m-4 6h1m-2-8h1m-4 2h1m-5-1h1m-14 5h1m-5 3h1m-5-1h1m-2-10h1m-2 3h1m-1-3h1m-5 0h1m-3 11h1m-1-7h1m-2 2h1m-3-5h1m-2 4h1m-9 6h1m-5 0h1m-2-7h1m-1 2h1m-2-6h1m-4 11h1m-1-9h1m-1 1h1m-3 2h1m-2-1h1m-3 4h1m-1-8h1m-1 3h1m-2 2h1m-4 5h1m-2 0h1m-4-4h1m-1-3h1m-2-1h1m-3-1h1m-3 5h1m-18 4h1m-4-1h1m-7-6h1m-9 1h1m-9 0h1m-1-1h1m-2-2h1m-8 5h1m-1 3h1m-1 1h1m-3-2h1m-3-3h1m-4-3h1m-1 6h1m-3-7h1m-3 10h1m-3-2h1m-1-2h1m-3-2h1m-14 4h1m-1 1h1m-5 1h1m-3-5h1m-4-6h1m-4 5h1m-11-3h1m-1 10h1m-7-6h1m-3-2h1m-9 0h1m-3 6h1m-8-6h1m-6 0h1m-4 2h1m-11 3h1m-3-8h1m-9 3h1m-3 0h1m-3-3h1m-1 2h1m-3 3h1m-2-5h1m-9 7h1m-2-5h1m-8 16h1m10 2h1m1-2h1m-1-6h1m0-1h1m1 5h1m0 0h1m-1 5h1m6-6h1m0 7h1m3-9h1m1 8h1m1-9h1m1 8h1m0-6h1m-1 0h1m-1 3h1m0 2h1m0-4h1m3-2h1m6 2h1m3-3h1m1 3h1m0 1h1m1 3h1m1 3h1m10-1h1m3-8h1m3 7h1m0-4h1m-1-2h1m6 8h1m1 1h1m2-11h1m5 10h1m7-3h1m0-5h1m0 6h1m2-4h1m1 1h1m-1 2h1m4-7h1m0 5h1m-1-3h1m1 0h1m2 3h1m0-5h1m0 1h1m3 3h1m2 3h1m4-3h1m-1-4h1m0 2h1m0 7h1m2-3h1m0 1h1m-1 3h1m5 0h1m4 0h1m4-10h1m4 8h1m0-6h1m1 1h1m3 7h1m5-1h1m2 0h1m3-1h1m0 0h1m1-7h1m0 8h1m0-2h1m4 1h1m3 2h1m4-4h1m0 0h1m7-5h1m0 9h1m0 0h1m-1 0h1m7-2h1m-1 0h1m0-1h1m0-1h1m0 0h1m9-3h1m1-1h1m3 4h1m0-5h1m2 6h1m0-2h1m-1-2h1m4 7h1m12-4h1m-1 3h1m4-3h1m-1-4h1m2 0h1m1 9h1m1-2h1m5-2h1m7 1h1m3 0h1m8 3h1m6-5h1m6-3h1m0 4h1m9-5h1m-1 4h1m-6 9h1m-5 8h1m-5-3h1m-6 0h1m-7-5h1m-6 2h1m-2 5h1m-4 0h1m-2-4h1m-4 2h1m-1-4h1m-4 7h1m-8-7h1m-2 3h1m-4-5h1m-8-1h1m-1 6h1m-5-4h1m-2 0h1m-3 3h1m-6-1h1m-6 5h1m-5-9h1m-8 9h1m-7-7h1m-2 8h1m-2-2h1m-2-6h1m-4-1h1m-2 7h1m-3-4h1m-4-3h1m-4 6h1m-5 1h1m-3 1h1m-1-2h1m-2-8h1m-5 0h1m-2 3h1m-1 2h1m-4 1h1m-3 4h1m-4-8h1m-6 4h1m-3-7h1m-6 2h1m-2 0h1m-2 10h1m-2-10h1m-3 0h1m-5 4h1m-4-4h1m-3 1h1m-2 0h1m-5-1h1m-2 1h1m-10 3h1m-3-3h1m-6 9h1m-9-4h1m-1 3h1m-10-9h1m-4 5h1m-3-2h1m-3-1h1m-2 7h1m-2-4h1m-1-5h1m-6-1h1m-6 5h1m-10 4h1m-5 2h1m-9-1h1m-7 1h1m-2-8h1m-2 5h1m-3-6h1m-2 3h1m-2 6h1m-2-11h1m-2 4h1m-6 4h1m-2 3h1m-5-8h1m-15 5h1m-5 2h1m-15-9h1m-4 8h1m-5-2h1m-20-8h1m-1 4h1m-11-1h1m-7 3h1m-15-5h1m-6 19h1m37-4h1m0-1h1m1 8h1m6-8h1m4 8h1m1 0h1m0-2h1m1-1h1m4 1h1m6-3h1m2-4h1m5 9h1m-1-9h1m1 3h1m1 5h1m1-2h1m2 2h1m3-8h1m-1 0h1m-1 2h1m3 4h1m2 4h1m-1-2h1m-1-3h1m0-1h1m9 5h1m1 0h1m1-6h1m0-4h1m12 0h1m0 4h1m-1 2h1m1-7h1m2 0h1m0 6h1m4 3h1m2-4h1m1 2h1m1 1h1m-1 2h1m0-8h1m-1 1h1m0 0h1m1 6h1m14 0h1m6 2h1m2-7h1m0-2h1m0-1h1m0 10h1m0-10h1m-1 0h1m2 4h1m4-5h1m-1 2h1m0 1h1m1 7h1m1-9h1m2 4h1m5 4h1m3 2h1m-1-10h1m4 10h1m6-4h1m0-3h1m-1 0h1m2 4h1m1-5h1m2 0h1m0-3h1m1 11h1m13-9h1m1 8h1m1-2h1m2 3h1m6-3h1m7 1h1m0-3h1m0-4h1m-1 7h1m2-9h1m0 9h1m2-8h1m0 0h1m6 10h1m-1-3h1m11 2h1m5-3h1m6 4h1m4-6h1m0 2h1m1 4h1m-1-8h1m9-2h1m1 10h1m-1-5h1m4-5h1m1 5h1m0 4h1m4-9h1m5 1h1m-5 19h1m-4-8h1m-3 5h1m-2 3h1m-2 1h1m-1 0h1m-7-7h1m-4 4h1m-3 1h1m-2-7h1m-14 10h1m-10-3h1m-5-5h1m-5-1h1m-4 0h1m-8 8h1m-4 0h1m-2-7h1m-6-1h1m-2 0h1m-2 4h1m-4-5h1m-13-1h1m-1 1h1m-3 2h1m-3-2h1m-3 8h1m-5-4h1m-2 5h1m-2-2h1m-4 3h1m-2-8h1m-2 3h1m-3 3h1m-2-5h1m-15 0h1m-3 0h1m-1 4h1m-3-8h1m-1 8h1m-4-6h1m-5 7h1m-2-2h1m-6-7h1m-2 7h1m-1 2h1m-5-5h1m-2-4h1m-1 5h1m-2 2h1m-1-6h1m-2 9h1m-2 0h1m-3-7h1m-2-2h1m-8 10h1m-4-1h1m-5-1h1m-3 0h1m-4 0h1m-11-1h1m-2-8h1m-4 5h1m-2-5h1m-5 3h1m-5 2h1m-1 0h1m-2 0h1m-6 4h1m-4-5h1m-3-2h1m-10 8h1m-3-6h1m-3 6h1m-3-7h1m-3 1h1m-5 5h1m-2-3h1m-1 1h1m-3-2h1m-11-5h1m-3 4h1m-2-1h1m-6-2h1m-1 0h1m-2 2h1m-3 6h1m-3-2h1m-4 5h1m-1-11h1m-3 8h1m-2-4h1m-2-2h1m-5-3h1m-1 12h1m-11-3h1m-4-5h1m-38 4h1m-35-8h1m-5 9h1m-1-3h1m-2-2h1m-23 2h1m-20 11h1m59 1h1m6 3h1m16 3h1m42-7h1m0-2h1m1 2h1m1 6h1m6-8h1m5-3h1m1 5h1m-1 5h1m1 2h1m-1-10h1m3 6h1m3 0h1m9-7h1m3 11h1m-1-8h1m0 7h1m2 0h1m1-3h1m1-6h1m4 0h1m1-1h1m1 2h1m1 8h1m1-6h1m2 0h1m0 6h1m0-5h1m5 0h1m1-2h1m9-1h1m0 7h1m0-3h1m2 5h1m0-9h1m0-3h1m0 2h1m-1 6h1m3 0h1m1-4h1m2 4h1m-1-1h1m1 5h1m4-1h1m3-6h1m-1 5h1m0 0h1m18 1h1m1-1h1m0-2h1m2-1h1m-1-6h1m0 9h1m4-10h1m0 9h1m1-3h1m-1-1h1m1 0h1m2 5h1m0 0h1m0 1h1m6-10h1m0 3h1m-1 8h1m3-2h1m3 2h1m2-10h1m5 8h1m3-5h1m0 4h1m2-8h1m1 0h1m2 10h1m3-8h1m2 2h1m3 0h1m1-2h1m7-1h1m5 2h1m0 7h1m0-1h1m8-7h1m4-1h1m0 4h1m5 1h1m1-2h1m-1 4h1m5-7h1m2 0h1m0-1h1m0 8h1m2-2h1m1-5h1m0 8h1m0-8h1m0 6h1m3-5h1m16 6h1m-10 4h1m-8 1h1m-11 10h1m-4-1h1m-3-5h1m-1 6h1m-7-10h1m-10 6h1m-6 0h1m-1-5h1m-2 6h1m-5 1h1m-3 0h1m-1-1h1m-10-4h1m-14 2h1m-2 3h1m-1-5h1m-4-4h1m-2 6h1m-9-6h1m-8-1h1m-4 3h1m-1-3h1m-4 2h1m-2 5h1m-11 2h1m-2-8h1m-4 2h1m-4 8h1m-5 0h1m-7-9h1m-1 7h1m-7-6h1m-5 2h1m-2 6h1m-1-5h1m-6 1h1m-3-6h1m-2 3h1m-15-4h1m-8 9h1m-3-4h1m-13 5h1m-1-1h1m-3-7h1m-1 6h1m-1 1h1m-6-8h1m-3 0h1m-2 9h1m-2-7h1m-2-1h1m-2 10h1m-1-10h1m-2 4h1m-6-5h1m-6 9h1m-4-8h1m-2 7h1m-10-4h1m-3 7h1m-6-12h1m-4 7h1m-11 0h1m-4-3h1m-17 7h1m-15-3h1m-13-3h1m-15 0h1m-4 5h1m-81-8h1m-3 8h1m-3 2h1m12 3h1m38 1h1m9-1h1m19 4h1m6-4h1m22 3h1m2-4h1m1 7h1m3-5h1m5-1h1m-1 3h1m0 6h1m4-6h1m6 5h1m0-11h1m1 9h1m1 1h1m4-9h1m0 2h1m-1 1h1m0 2h1m9-3h1m-1 2h1m0 3h1m7 0h1m0-1h1m-1 4h1m1-2h1m1-2h1m1-4h1m1 2h1m1 6h1m1-1h1m1-8h1m5 5h1m1 3h1m9-7h1m0 2h1m1 2h1m3-6h1m1 1h1m0 1h1m2 8h1m2 0h1m4-7h1m4 5h1m4-1h1m3-7h1m0 6h1m1-3h1m-1 6h1m5 0h1m11-1h1m2 2h1m2-2h1m0-7h1m-1 2h1m3 3h1m1 1h1m2-2h1m2-3h1m1 7h1m0-5h1m-1-3h1m5 2h1m6-2h1m6 2h1m1 3h1m5-1h1m-1 3h1m0-9h1m1 5h1m2-4h1m-1 4h1m0 1h1m1 2h1m9-2h1m3-2h1m0 8h1m-1-9h1m1 3h1m14 1h1m2-5h1m4 6h1m0-7h1m-1 0h1m1 1h1m13 0h1m8 7h1m-8 9h1m-4-6h1m-3 4h1m-5-2h1m-1 3h1m-9 6h1m-1-6h1m-6-5h1m-2 10h1m-2 1h1m-6 0h1m-4-10h1m-9 5h1m-4 6h1m-2-3h1m-2 0h1m-2 3h1m-2-8h1m-6 0h1m-3-3h1m-3 4h1m-3 5h1m-2-7h1m-2 8h1m-4-9h1m-4-1h1m-3 9h1m-6-6h1m-10-3h1m-6 1h1m-4 7h1m-2-4h1m-7 4h1m-1-6h1m-12 9h1m-6-8h1m-4-1h1m-6 0h1m-2-1h1m-6-1h1m-12 2h1m-9 8h1m-3 0h1m-2-8h1m-2-2h1m-9 8h1m-4-1h1m-10-5h1m-12 3h1m-3-1h1m-1 5h1m-4-2h1m-9-2h1m-4 1h1m-5-7h1m-3 0h1m-2 5h1m-6 4h1m-3 2h1m-1-1h1m-5 0h1m-5-9h1m-10 8h1m-2-5h1m-2 1h1m-10 4h1m-9-3h1m-6 0h1m-18-1h1m-22 5h1m-26-4h1m-7-2h1m-20 2h1m-23 2h1m-15-3h1m-19-3h1m-16 7h1m-2-3h1m21 17h1m10-4h1m16-3h1m0-1h1m79 9h1m9-11h1m25 10h1m0-11h1m6 2h1m-1 3h1m0 0h1m1 5h1m2-9h1m1 7h1m3 2h1m2-3h1m0-2h1m1 6h1m2-9h1m2 2h1m8 5h1m1-9h1m-1 3h1m2 8h1m7-7h1m0-1h1m0 1h1m0 5h1m-1-2h1m2 0h1m-1-2h1m5 4h1m5-8h1m0 0h1m2 1h1m-1 1h1m5 1h1m4 3h1m20-3h1m4-2h1m-1 3h1m7 2h1m4 3h1m6 1h1m1-11h1m6 8h1m5 0h1m1 3h1m3 1h1m8-10h1m6-2h1m1 7h1m5-3h1m0 0h1m0 0h1m5 1h1m6-2h1m10 1h1m1-2h1m10 7h1m2 1h1m2-5h1m7 0h1m0 1h1m2-4h1m7 8h1m-1-1h1m2-3h1m5 11h1m-5-4h1m-3 2h1m-5-2h1m-3 0h1m-2-1h1m-6 2h1m-4 2h1m-8 0h1m-4 1h1m-3-3h1m-4 5h1m-5 4h1m-8-5h1m-3 0h1m-12-4h1m-3 2h1m-1 5h1m-4-5h1m-2-2h1m-4 5h1m-2 2h1m-4-8h1m-2 6h1m-3 5h1m-1-5h1m-2-3h1m-12-1h1m-2 6h1m-1-4h1m-7-2h1m-2 0h1m-1 2h1m-1-4h1m-1 1h1m-5 1h1m-5 5h1m-8-6h1m-3 9h1m-8-10h1m-4 0h1m-2 3h1m-3-3h1m-1 1h1m-3 3h1m-2-4h1m-1 2h1m-2 3h1m-4 1h1m-2 3h1m-9 0h1m-1-5h1m-7 3h1m-3 2h1m-2-6h1m-7-3h1m-2 5h1m-1-5h1m-3 1h1m-2 7h1m-2 1h1m-4-3h1m-2 2h1m-2-6h1m-2 4h1m-4 3h1m-12-2h1m-4 3h1m-2-1h1m-1-4h1m-4 5h1m-5-5h1m-1-3h1m-4 1h1m-5-3h1m-1 4h1m-3 6h1m-1 0h1m-2-2h1m-16 2h1m-3-9h1m-8 5h1m-4-3h1m-5 1h1m-8 4h1m-3 1h1m-4-1h1m-3-1h1m-62 3h1m-22-4h1m-3 4h1m-20-5h1m-89 3h1m34 5h1m34 0h1m22 9h1m19-8h1m0-2h1m2 0h1m42 10h1m19-6h1m11 0h1m2 2h1m4 0h1m6 2h1m2 3h1m1-10h1m9 0h1m1 10h1m8-6h1m-1-1h1m2-5h1m3 12h1m3-5h1m0-5h1m1 8h1m0 0h1m-1-1h1m6-7h1m0 8h1m8 1h1m8-9h1m3 6h1m5 3h1m9-5h1m1 0h1m7-2h1m-1 5h1m0-2h1m-1-4h1m0 7h1m5-7h1m1 0h1m2 4h1m0-5h1m-1 9h1m9-9h1m-1 4h1m2 6h1m-1-7h1m0-3h1m0 2h1m14 4h1m-1-5h1m0 4h1m2-5h1m4 5h1m-1-7h1m3 5h1m-1-4h1m9 3h1m3 3h1m2-4h1m8 8h1m0-11h1m0 7h1m2-5h1m3 9h1m3-8h1m1 3h1m-1 5h1m6-5h1m2 5h1m4-10h1m-1 2h1m2 5h1m0-1h1m-1 5h1m1-11h1m4 5h1m-1 5h1m1-7h1m4 6h1m1 0h1m-12 9h1m-4 5h1m-5-9h1m-3 8h1m-2-7h1m-4 7h1m-3-1h1m-4-5h1m-23 2h1m-3 5h1m-5-7h1m-4 3h1m-7-4h1m-5 4h1m-2 2h1m-3 1h1m-5-7h1m-2 1h1m-6 3h1m-5 1h1m-4-3h1m-4 4h1m-4-1h1m-1-4h1m-5 6h1m-2-6h1m-6 1h1m-1 3h1m-3-3h1m-2 0h1m-1-5h1m-2 10h1m-2-9h1m-6-1h1m-10 0h1m-1 4h1m-10 2h1m-2-1h1m-3 0h1m-14 2h1m-3-3h1m-1 6h1m-2-5h1m-2 3h1m-4 1h1m-2-2h1m-6 0h1m-7-8h1m-11 3h1m-6 8h1m-5-5h1m-1-5h1m-6 10h1m-5-3h1m-1-5h1m-4 4h1m-8-4h1m-2 0h1m-8 3h1m-4 1h1m-1-7h1m-1 5h1m-6-4h1m-2 10h1m-3-10h1m-1 4h1m-4 2h1m-2-4h1m-13 8h1m-48-4h1m-2 5h1m-5-7h1m-46 1h1m-8 2h1m-82-5h1m-6 15h1m45 5h1m43-4h1m7 3h1m20-9h1m9 1h1m-1 10h1m66-6h1m10-4h1m-1 7h1m-1-2h1m0 2h1m0 1h1m0-5h1m3 6h1m0-3h1m0 2h1m0-6h1m2-2h1m5 3h1m4 1h1m-1-4h1m1-1h1m4 6h1m2-7h1m0 2h1m16 8h1m3-2h1m-1-7h1m2 3h1m2 0h1m7-1h1m0 0h1m1-3h1m1 2h1m0 7h1m-1-4h1m4 5h1m8-9h1m4 10h1m4-9h1m3 0h1m5 2h1m-1 1h1m2-4h1m5 2h1m5-1h1m2 3h1m0 4h1m-1-2h1m0 1h1m-1-3h1m1 5h1m0-3h1m4-1h1m-1 0h1m4-2h1m1-3h1m4 10h1m4-6h1m5-3h1m0 4h1m2 5h1m-1-2h1m0 2h1m2-2h1m3-9h1m1 11h1m0-4h1m1 2h1m-1-5h1m-1-1h1m7 2h1m0 5h1m1 0h1m4-1h1m2-7h1m0-1h1m0 1h1m9 3h1m3 4h1m0-6h1m2 7h1m3 0h1m-1 2h1m11-7h1m-15 12h1m-19 3h1m-1 0h1m-5-1h1m-5 0h1m-3-2h1m-10 6h1m-3-6h1m-1-3h1m-4 3h1m-4-4h1m-4 11h1m-1-10h1m-2 5h1m-3-7h1m-1 12h1m-1-11h1m-1 3h1m-2 4h1m-3 2h1m-14-9h1m-2-1h1m-1 4h1m-2 4h1m-5-5h1m-3 9h1m-1-6h1m-5-2h1m-2-3h1m-7 6h1m-1 1h1m-5-3h1m-3 3h1m-5 1h1m-2 2h1m-5-1h1m-2-3h1m-3 5h1m-2-4h1m-4-1h1m-3-1h1m-14-5h1m-1 8h1m-3-7h1m-3 2h1m-1 4h1m-2-5h1m-8 2h1m-1 2h1m-2-4h1m-6 3h1m-2 1h1m-1 0h1m-2-6h1m-7 3h1m-2 3h1m-6 5h1m-6-7h1m-1 3h1m-1-3h1m-2-1h1m-3 1h1m-4-3h1m-6 2h1m-3 5h1m-2-3h1m-8 3h1m-1-1h1m-3-6h1m-3 10h1m-1-1h1m-1-2h1m-3 2h1m-4 0h1m-2-2h1m-4-2h1m-5 2h1m-8-7h1m-4 6h1m-3-7h1m-3 10h1m-6-9h1m-2 5h1m-30 4h1m-14-8h1m-17-2h1m-12 3h1m-36 4h1m-8-5h1m-49 3h1m-101 4h1m19 4h1m82 6h1m8-7h1m44 10h1m33-6h1m50 0h1m14 5h1m-1-10h1m6 2h1m-1 3h1m1 1h1m1-1h1m0 2h1m5 2h1m5 3h1m3-2h1m0-10h1m3 5h1m2-1h1m1 7h1m6-6h1m2-4h1m1 2h1m1 9h1m0-8h1m11 3h1m0 4h1m0-5h1m0-2h1m2-2h1m4 7h1m1-1h1m1-1h1m2-5h1m2 1h1m1 5h1m4-1h1m1-1h1m6 2h1m-1-7h1m0 9h1m7 1h1m0-6h1m-1 0h1m2 4h1m4-3h1m-1-4h1m0 10h1m1-6h1m0-3h1m3 8h1m0-9h1m0-1h1m3-1h1m-1 10h1m0-9h1m-1 4h1m3 7h1m1-2h1m-1-3h1m-1-2h1m0-3h1m1 9h1m4-2h1m0-5h1m2 4h1m-1 2h1m3 2h1m1-5h1m0-4h1m0-2h1m-1 4h1m3-4h1m5-1h1m0 1h1m1 2h1m1-1h1m-1 8h1m5-1h1m0 0h1m6-7h1m7 0h1m5 8h1m2-5h1m23-5h1m1 3h1m10 11h1m-13 5h1m-20-5h1m-8 0h1m-29 4h1m-3 0h1m-20 0h1m-1 1h1m-4-2h1m-3 2h1m-6-1h1m-5 0h1m-3-2h1m-4 3h1m-5-4h1m-9 4h1m-2 1h1m-2-7h1m-1 3h1m-6-1h1m-4-3h1m-2 5h1m-1 1h1m-1 0h1m-5-5h1m-2 0h1m-6 2h1m-3 6h1m-12-1h1m-2 2h1m-1-7h1m-3 4h1m-1 3h1m-2-6h1m-4 8h1m-2-11h1m-1 7h1m-10-7h1m-3 10h1m-16-8h1m-1 0h1m-7 9h1m-3-2h1m-3-3h1m-2-5h1m-8 10h1m-4-11h1m-4 5h1m-5-3h1m-7 0h1m-2-2h1m-2 5h1m-3-4h1m-5-1h1m-3 1h1m-1 3h1m-2 5h1m-6 0h1m-13 1h1m-30-4h1m-3-2h1m-27-4h1m-22 10h1m-24-3h1m-109 2h1m-5-1h1m-23 0h1m-21 5h1m31-2h1m78 4h1m22-2h1m48 8h1m31-1h1m1-2h1m11 4h1m41 1h1m4-11h1m4 7h1m-1 0h1m8-3h1m3-1h1m0 1h1m0 0h1m-1 0h1m9 0h1m2-3h1m5 3h1m0 1h1m8-1h1m-1 1h1m1 0h1m2-1h1m3 2h1m-1 4h1m1-2h1m1-4h1m0-3h1m0 4h1m0-1h1m0 7h1m4-5h1m0-3h1m-1-1h1m3 7h1m-1-6h1m1 0h1m0 6h1m0-5h1m1-5h1m5 2h1m1 0h1m3 2h1m-1-3h1m1 2h1m4 6h1m3-8h1m-1 5h1m0-3h1m17 0h1m17-2h1m23 1h1m8 7h1m-1 1h1m24-8h1m12 1h1m14 4h1m-7 13h1m-4-1h1m-4-5h1m-13 7h1m-9-2h1m-2 0h1m-24 2h1m-22-7h1m-10 2h1m-23 2h1m-22-6h1m-3 1h1m-7 7h1m-2 2h1m-12-6h1m-2 5h1m-1-6h1m-3 5h1m-4-4h1m-2 4h1m-3-4h1m-7 5h1m-5-5h1m-2 0h1m-4 1h1m-2 3h1m-3 4h1m-6-11h1m-6 5h1m-6-2h1m-7-4h1m-2 8h1m-6-3h1m-2 4h1m-2-9h1m-2 5h1m-1-5h1m-5 8h1m-2-4h1m-6 1h1m-3 2h1m-4 2h1m-2-8h1m-2 2h1m-2 5h1m-2-2h1m-3-4h1m-3 10h1m-5-10h1m-2 7h1m-5-6h1m-28 1h1m-8 7h1m-13-9h1m-14 3h1m-103-5h1m-51 10h1m-20-5h1m211 13h1m7-1h1m9 4h1m3-3h1m6 3h1m19-3h1m6-2h1m-1 2h1m7-5h1m0 1h1m0 9h1m1 1h1m2-7h1m3 4h1m0-2h1m0-4h1m1 1h1m3-3h1m8 1h1m3 9h1m2-11h1m0 3h1m9 5h1m12 3h1m10-10h1m30 4h1m0 6h1m23 0h1m14-5h1m0 2h1m2-6h1m19 8h1m0-5h1m-1 0h1m21-4h1m-4 18h1m-15 4h1m-3-3h1m-10 3h1m-9-10h1m-37 10h1m-15 1h1m-1-5h1m-7-6h1m-9 4h1m-39 5h1m-2-3h1m-28-1h1m-10-1h1m-24-1h1m-4-3h1m-6 7h1m-16-5h1m-4 7h1m-11-6h1m-4-3h1m-14 7h1m-185-5h1m-5 3h1m-59 11h1m109 0h1m39 3h1m1-2h1m56 3h1m2-8h1m5 7h1m30-7h1m2 0h1m1 7h1m-1-3h1m3 0h1m27 1h1m34 3h1m-1-4h1m12-2h1m9 0h1m6 5h1m1 1h1m6-5h1m13 5h1m1 0h1m7-4h1m22 5h1m11-3h1m25-3h1m23-4h1m8 2h1m11 11h1m-22 4h1m-8 7h1m-22-8h1m-10-4h1m-5 3h1m-70 5h1m-31-3h1m-37 0h1m-17 2h1m-41-6h1m-62 8h1m-61-2h1m-25 2h1m-93-3h1m-12-1h1m2 10h1m108 8h1m73 1h1m6-11h1m33 7h1m13 2h1m31-2h1m4-1h1m19-1h1m6 2h1m0-4h1m34 2h1m1 1h1m4-4h1m2 3h1m39 4h1m1-8h1m2 4h1m15-1h1m3 1h1m13 5h1m38-3h1m0-2h1m4 2h1m1-1h1m6 2h1m1-6h1m4 1h1m2 0h1m0 3h1m4-3h1m-34 20h1m-10-8h1m-35 5h1m-6-5h1m-1 0h1m-7 2h1m-13-4h1m-32 1h1m-18 4h1m-3 5h1m-14-1h1m-65-6h1m-7-2h1m-214 17h1m81-3h1m3 0h1m22 6h1m55-3h1m65-7h1m3 1h1m0 8h1m20-10h1m1 7h1m1-6h1m41 1h1m17 3h1m3-2h1m4 2h1m0 0h1m2 7h1m21-9h1m4 4h1m47 2h1m30-5h1m5 14h1m-4 3h1m-20-4h1m-2 4h1m-14 2h1m-12 1h1m-4-4h1m-16 0h1m-5 0h1m-5 3h1m-47-10h1m-36 7h1m-18 3h1m-5 0h1m-6-6h1m-11 1h1m-18-2h1m-1 4h1m-20 0h1m-9-7h1m-22 10h1m-25-2h1m-45 12h1m46-1h1m22 1h1m1 2h1m55-4h1m29-7h1m29 0h1m59 12h1m8 0h1m2-2h1m3-4h1m0 0h1m1 2h1m6 4h1m4-9h1m0 6h1m0-5h1m15 10h1m-6 3h1m-3 0h1m-2 3h1m-4-5h1m-3 2h1m-9 7h1m-5-2h1m-4-3h1m-1 1h1m-6-6h1m-4 5h1m-19 5h1m-1-2h1m-4-7h1m-3 1h1m-134-2h1m-43 1h1m-26 8h1m-11-4h1m-183 0h1m146 13h1m15-3h1m20-1h1m5-3h1m9 10h1m4 1h1m18-11h1m27 7h1m17-7h1m5 10h1m31-5h1m40-3h1m53 3h1m15 6h1m2-5h1m1-1h1m9-3h1m4 0h1m6 2h1m1-5h1m-5 19h1m-20-4h1m-3 1h1m-7 7h1m-3-2h1m-16-8h1m-4 6h1m-111-2h1m-8 3h1m-5 2h1m-5-4h1m-2 6h1m-14-6h1m-14-4h1m-35 1h1m-6 2h1m-4 6h1m-24-5h1m-4 5h1m-7-2h1m-5-3h1m-3-2h1m-14-1h1m-103 7h1m-6 2h1m79 10h1m67-1h1m43 0h1m10 0h1m17-5h1m8 7h1m-1-9h1m74 16h1m-7-4h1m-93-1h1m-2 7h1m-6-3h1m-7-1h1m-2 3h1m-5 3h1m-41-6h1m-85-4h1m74 21h1m38 6h1" stroke="#9649a3"/>
<path d="M514 93h1m-23 25h1m-40 8h1m50 5h1m11-5h1m9-6h1m56 1h1m-71 14h1m-14 6h1m-5-3h1m12 10h1m80 2h1m0-5h1m11 9h1m22-5h1m-47 14h1m-77 2h1m-20-8h1m-23 7h1m-30 2h1m-7-4h1m-40 8h1m41 7h1m69 2h1m10-1h1m0-8h1m23 3h1m21-1h1m6-4h1m32 11h1m53 3h1m-3 10h1m-18-8h1m-75-3h1m-114 11h1m-64-11h1m2 12h1m0 4h1m55-4h1m1 5h1m2 2h1m9-7h1m14 0h1m58 10h1m42-8h1m46 5h1m11 0h1m12 3h1m-132 4h1m-71 3h1m-6-2h1m-88-2h1m100 15h1m14 6h1m29-8h1m47 0h1m106 6h1m-35 8h1m-70 2h1m-19-5h1m-5 8h1m-38-1h1m-120 5h1m2-1h1m21 2h1m11 7h1m4-8h1m36 5h1m10-2h1m2 1h1m28-1h1m47 3h1m133-1h1m-75 9h1m-196 5h1m-12-3h1m-3-4h1m-75 6h1m-39 1h1m200 8h1m33-2h1m107 9h1m-143 5h1m-60 5h1m-172 8h1m94-2h1m27-3h1m29 1h1m62 1h1m13 2h1m86 4h1m16-3h1m12-4h1m61 6h1m10 3h1m10 2h1m-12 5h1m-83-5h1m-64 0h1m-8 10h1m-35-5h1m-3 0h1m-8 0h1m-3-6h1m-64 6h1m-6 13h1m34-6h1m39 0h1m3 4h1m28-5h1m14 11h1m29-1h1m90-7h1m24 8h1m4 4h1m-80 6h1m-17-9h1m-18 6h1m-196-6h1m186 12h1m19 9h1m6-7h1m8 5h1m4-1h1m13 4h1m27-4h1m0-1h1m1-2h1m26 2h1m20 19h1m-5-1h1m-23-4h1m-8-4h1m-5 5h1m-3-4h1m-6-2h1m-3 0h1m-5 3h1m-2-2h1m-1 3h1m-2 6h1m-1-3h1m-2 2h1m-2-1h1m-67 0h1m-20-2h1m-188 7h1m32 9h1m36-9h1m16 4h1m3-1h1m3-4h1m125 8h1m13-3h1m-1-3h1m5 4h1m3 4h1m-1-6h1m0 2h1m-1 1h1m0 1h1m1-10h1m-1 3h1m1 3h1m2-1h1m5 0h1m1-2h1m2 7h1m0-7h1m1 4h1m-1 2h1m5-1h1m4 2h1m9-10h1m2 2h1m1 6h1m-1-4h1m8-4h1m6 10h1m0-7h1m3 7h1m2-8h1m1-1h1m0 6h1m3 2h1m6 2h1m16-1h1m-15 8h1m-4-5h1m-3 10h1m-2-5h1m-3 3h1m-3 2h1m-7-9h1m-4 3h1m-2-1h1m-11 4h1m-9-8h1m-2 5h1m-2 5h1m-1-3h1m-2 2h1m-3 3h1m-1-11h1m-2 7h1m-1 2h1m-5-1h1m-4-1h1m-2 2h1m-2-5h1m-2-2h1m-11 6h1m-6 2h1m-4-2h1m-1 1h1m-16-5h1m-1-2h1m-7 0h1m-8-1h1m-3 9h1m-4 0h1m-3 1h1m-3-10h1m-1-1h1m-5 7h1m-4 2h1m-11-3h1m-18 3h1m-82-4h1m-3-4h1m-10 1h1m-277 20h1m360-2h1m15-7h1m8 2h1m2 7h1m0-2h1m2-4h1m0 1h1m7 4h1m-1-2h1m0 1h1m-1-5h1m-1-1h1m3 4h1m-1 2h1m1 0h1m3 2h1m2-9h1m-1-1h1m1 1h1m0-2h1m0 3h1m1 4h1m1-7h1m1 7h1m3-5h1m1 4h1m3 6h1m3-5h1m2-3h1m0-3h1m0 0h1m1 2h1m4 2h1m2-2h1m0 5h1m-1 4h1m7-3h1m-1 2h1m3-10h1m2 7h1m-1-8h1m1 6h1m1 5h1m4-7h1m1-1h1m6 4h1m7 2h1m-1 2h1m3-6h1m0-4h1m-1 5h1m1-3h1m-1 5h1m1 2h1m-9 7h1m-1 6h1m-1-7h1m-2-3h1m-3 6h1m-3 3h1m-3-8h1m-1 1h1m-3 8h1m-3-3h1m-4-5h1m-2-3h1m-3 8h1m-2-7h1m-6 9h1m-4-2h1m-2-2h1m-7-6h1m-3 3h1m-12-1h1m-3 8h1m-4-4h1m-5 3h1m-5-5h1m-1 4h1m-3 4h1m-4-9h1m-6 2h1m-1-1h1m-4 1h1m-6 5h1m-3-2h1m-3 3h1m-1-9h1m-2 0h1m-6 0h1m-1 9h1m-3 1h1m-3-9h1m-5 6h1m-4-4h1m-2 3h1m-3-7h1m-4 6h1m-5-1h1m-5-6h1m-2 6h1m-5-6h1m-1 4h1m-10 7h1m-1-8h1m-2 1h1m-1 0h1m-2-1h1m-1 6h1m-4 3h1m-6-7h1m-5-4h1m-16 11h1m-3-2h1m-1-6h1m-3 7h1m-71-7h1m-22 8h1m-8-10h1m-3 9h1m-47 1h1m-55-8h1m-44 10h1m95 5h1m113 0h1m35 4h1m9-7h1m3 3h1m4 4h1m2 1h1m1-9h1m0 3h1m1 1h1m0 4h1m2-9h1m-1 4h1m9 2h1m0-3h1m-1 6h1m3-2h1m0-8h1m0 8h1m2-7h1m1-1h1m7 6h1m4-6h1m4 6h1m20 2h1m1-8h1m3-1h1m-1 9h1m2-6h1m2-1h1m6 6h1m1-4h1m0-1h1m2 1h1m0 5h1m-1 3h1m0-8h1m0-2h1m-1 7h1m3 0h1m1-7h1m1 4h1m-1 6h1m0-8h1m-1-1h1m1 3h1m-1-4h1m-1 1h1m2 2h1m1 5h1m2-7h1m6 2h1m-1-4h1m6 10h1m-1-8h1m0 3h1m0 5h1m4-6h1m0 4h1m1-5h1m-1 5h1m14 13h1m-11-2h1m-13-1h1m-2 0h1m-7 4h1m-4-4h1m-3-2h1m-5-3h1m-3 8h1m-4-9h1m-7 7h1m-3 0h1m-5-1h1m-5-3h1m-10 4h1m-4 3h1m-2-9h1m-6 4h1m-1-2h1m-2 6h1m-2-8h1m-2 1h1m-5 2h1m-2 5h1m-2-8h1m-2 4h1m-3-3h1m-1-1h1m-1 6h1m-3 2h1m-2-8h1m-3 1h1m-2 5h1m-5-4h1m-2 2h1m-2 6h1m-5-6h1m-3-4h1m-8 7h1m-6-3h1m-2-1h1m-1-4h1m-5 0h1m-3 11h1m-3-7h1m-1 5h1m-2-8h1m-4 6h1m-5-5h1m-5-3h1m-3 7h1m-4 2h1m-2 0h1m-3-7h1m-9 6h1m-1-4h1m-2 7h1m-2 0h1m-3-3h1m-3-5h1m-4 2h1m-3 6h1m-6 0h1m-6-7h1m-2 7h1m-6-8h1m-3 9h1m-17-12h1m-30 10h1m-40-4h1m-4-3h1m-247 15h1m56-2h1m43-4h1m78 1h1m49 2h1m8 0h1m10-2h1m12 6h1m37-1h1m14 6h1m16-7h1m2 0h1m3-1h1m1 2h1m5 5h1m-1-11h1m-1 4h1m3 8h1m0-7h1m-1-5h1m2 3h1m0 2h1m2-1h1m-1 0h1m1-3h1m4 6h1m4 0h1m0-5h1m13 5h1m-1-3h1m0 3h1m-1 3h1m1-6h1m-1 1h1m0 2h1m4 4h1m1-5h1m0-6h1m-1 4h1m4 2h1m1-2h1m0-2h1m1 3h1m0-3h1m-1 5h1m2-7h1m0 12h1m1-3h1m0-5h1m6 7h1m4-8h1m3 1h1m-1 7h1m8-4h1m0 3h1m-1-7h1m0 7h1m-1-4h1m0 5h1m-1-5h1m0 0h1m9-5h1m-1 3h1m0 6h1m17 0h1m1-3h1m-1 1h1m0 1h1m1-6h1m4 1h1m0 1h1m0-1h1m0-1h1m11 4h1m0-6h1m0 16h1m-4 5h1m-10-5h1m-2 2h1m-2-5h1m-6 4h1m-1-5h1m-11 8h1m-20-1h1m-1-7h1m-2 4h1m-3 3h1m-3 1h1m-4 2h1m-5 1h1m-2 0h1m-4-5h1m-3 2h1m-3-8h1m-1 7h1m-5-1h1m-6 2h1m-8-8h1m-6 7h1m-12-7h1m-6 3h1m-2 6h1m-3 1h1m-1-10h1m-4 0h1m-4 1h1m-2 8h1m-5-4h1m-3 5h1m-2 0h1m-3-9h1m-5 2h1m-3 4h1m-2 3h1m-6-10h1m-4 6h1m-3 2h1m-5 1h1m-1-5h1m-6 4h1m-5-2h1m-2 0h1m-13 2h1m-4-7h1m-83 10h1m-22-6h1m-5 5h1m-19 11h1m24 1h1m12 1h1m3-6h1m13-1h1m2 6h1m21-4h1m7 1h1m39-7h1m4 6h1m1 3h1m-1-5h1m3 7h1m2-4h1m1-4h1m1 5h1m1-9h1m-1 9h1m-1-9h1m11 7h1m2-5h1m-1 5h1m0 3h1m0-2h1m2-6h1m1-2h1m0 11h1m3-10h1m0 9h1m-1-1h1m0 2h1m1-3h1m1-3h1m1 5h1m0-5h1m0-1h1m1 6h1m2-7h1m-1 0h1m0-2h1m3 5h1m2 2h1m3-2h1m6 2h1m6-6h1m0 9h1m3-3h1m3 0h1m4-6h1m4 8h1m3-6h1m3 1h1m0 4h1m-1 3h1m-1-2h1m3-6h1m-1-3h1m0 2h1m7-1h1m1 0h1m1 3h1m2-3h1m8-1h1m1 0h1m3 2h1m-1 3h1m9 5h1m4-2h1m1-8h1m1 9h1m1-7h1m1-3h1m-12 14h1m-3 6h1m-3-7h1m-1 2h1m-1 4h1m-4-5h1m-4 7h1m-6 0h1m-12 1h1m-5-4h1m-2-5h1m-2 2h1m-3 5h1m-6-7h1m-1 7h1m-3-6h1m-6 10h1m-4-4h1m-3-1h1m-2 3h1m-2 0h1m-10-9h1m-2 10h1m-6 0h1m-3-5h1m-2-2h1m-3-3h1m-5 8h1m-7-1h1m-2 1h1m-4-5h1m-8 2h1m-4 1h1m-2-6h1m-1 5h1m-2 5h1m-6-8h1m-2 2h1m-5 4h1m-2-7h1m-1 6h1m-4-5h1m-5 8h1m-4-5h1m-6 2h1m-2 3h1m-2-4h1m-7 3h1m-1-4h1m-6 3h1m-2 0h1m-1-6h1m-7-2h1m-2 4h1m-2 2h1m-3-1h1m-1-1h1m-4-3h1m-10 9h1m-3 1h1m-8-2h1m-5-1h1m-2 1h1m-25-1h1m-56-8h1m-6 6h1m-11-7h1m-5 5h1m-9 1h1m-149-2h1m113 12h1m47 1h1m-1 1h1m31-4h1m7 8h1m10-6h1m42 1h1m5 0h1m3 2h1m2-6h1m15 10h1m0-1h1m2-7h1m-1-3h1m-1 6h1m2 3h1m1-3h1m0-2h1m4-3h1m3 10h1m0-11h1m0 5h1m1-3h1m-1-1h1m2 4h1m2 3h1m0 0h1m8-4h1m-1 5h1m4-2h1m-1 3h1m-1-1h1m7-5h1m0-3h1m-1 11h1m0-10h1m-1-1h1m1 6h1m-1-4h1m0 8h1m5-7h1m8 5h1m2-8h1m0 2h1m5-2h1m2 10h1m0-10h1m8-1h1m2 3h1m1 1h1m-1 7h1m1-2h1m0-6h1m-1 0h1m2 4h1m1 0h1m0 0h1m0-3h1m0-1h1m4 8h1m-1 0h1m2-4h1m1-5h1m0 3h1m1-4h1m1-1h1m8 10h1m-1 1h1m4-2h1m1-8h1m1 6h1m0 8h1m-8-1h1m-9 0h1m-1 5h1m-3 4h1m-4-10h1m-2 5h1m-3-1h1m-4 1h1m-2 2h1m-2 0h1m-5-8h1m-6 6h1m-9 4h1m-10-9h1m-3 6h1m-2-2h1m-2-3h1m-5 9h1m-1-10h1m-5 0h1m-2 6h1m-2 3h1m-1-9h1m-9 2h1m-2 2h1m-2 3h1m-5-4h1m-2 4h1m-3-5h1m-2 1h1m-1 3h1m-2-3h1m-1 1h1m-2 5h1m-2 0h1m-2-6h1m-3 2h1m-2 0h1m-8 5h1m-4-7h1m-1 3h1m-6-6h1m-1 10h1m-7-1h1m-4 0h1m-1-8h1m-3-2h1m-2 10h1m-9 1h1m-7 1h1m-1-7h1m-5-3h1m-5 1h1m-7 4h1m-4-3h1m-21-2h1m-46-1h1m-9 8h1m-22-3h1m-119 0h1m-142 11h1m45-2h1m64 9h1m132-10h1m5 0h1m22 8h1m30-3h1m62 3h1m14 2h1m20-8h1m-1 6h1m1 0h1m3-5h1m2 0h1m8 3h1m-1-1h1m0-1h1m1 2h1m1 2h1m7 1h1m1 0h1m2 1h1m1-5h1m4-3h1m4 1h1m0 1h1m-1 0h1m9-6h1m-1 9h1m-1-7h1m7 5h1m4 4h1m0-11h1m2 2h1m6 1h1m10 0h1m6 7h1m-14 4h1m-5 1h1m-14 8h1m-6-2h1m-3 2h1m-13-10h1m-2 7h1m-21 3h1m-10-4h1m-2 1h1m-14-3h1m-23 1h1m-39 0h1m-60 5h1m-10-9h1m-16 2h1m-109 11h1m8 3h1m28-5h1m88 1h1m1-1h1m133 6h1m-1-3h1m14 8h1m0-3h1m4-2h1m2 1h1m3 2h1m1 0h1m0-6h1m3 0h1m-1 7h1m0-7h1m0 4h1m0-5h1m0-2h1m1 9h1m2 1h1m0-2h1m3 1h1m0-8h1m0 6h1m2 1h1m0 3h1m0-11h1m4 7h1m-1 3h1m1-1h1m0 0h1m5-4h1m-5 10h1m-1-3h1m-2 0h1m-1 4h1m-2 6h1m-2 0h1m-2-2h1m-4-3h1m-1 5h1m-3-7h1m-2 2h1m-2 1h1m-1-2h1m-1 7h1m-2-5h1m-2 0h1m-1 0h1m-3 3h1m-5-6h1m-1 3h1m-2-6h1m-2 8h1m-4-9h1m-3 10h1m-3-3h1m-1-2h1m-2-1h1m-1 0h1m-2 5h1m-2 1h1m-2-7h1m-1 5h1m-2 1h1m-2-8h1m-4 5h1m-2 2h1m-1 2h1m-5-6h1m-7 5h1m-1 0h1m-2 3h1m-2-10h1m-3 9h1m-2-11h1m-2 9h1m-4-3h1m-3-4h1m-1 4h1m-2 4h1m-4-9h1m-2 7h1m-12 1h1m-1-2h1m-3 3h1m-4 1h1m-238 5h1m138 2h1m94 2h1m5 0h1m3-6h1m3 9h1m0-9h1m0 1h1m0-1h1m0 8h1m0-8h1m-1 9h1m-1-6h1m3 3h1m-1-3h1m0-1h1m0-4h1m-1 4h1m1 3h1m0-7h1m1 8h1m-1-6h1m-1 7h1m3-2h1m3 0h1m-1-4h1m-1 2h1m-1 1h1m0 3h1m0-3h1m-1-3h1m1 6h1m-1-6h1m0-1h1m0 3h1m3 1h1m1-1h1m-1 6h1m-1-8h1m1 8h1m3-3h1m1-4h1m2 6h1m0 0h1m1-7h1m0 0h1m0 3h1m0-4h1m0 2h1m-1 8h1m1-4h1m0-5h1m-1 4h1m2-6h1m0 6h1m0 0h1m0-4h1m0-3h1m0 6h1m1-1h1m5-2h1m-17 10h1m-22 3h1m-1-1h1m-4-2h1m-2 0h1m-1 6h1m-2 3h1m-9-6h1m-1-3h1m-3 1h1m-7 3h1m-2 1h1m-2 3h1m-1 0h1m-1 2h1m-3-11h1m-7 1h1m-7 0h1m-4 3h1m-2 6h1m-2-8h1m-5 8h1m-3-1h1m-2 3h1m-2-11h1m-139 14h1m79 7h1m19-7h1m77 4h1m0-4h1m-149 24h1" stroke="#d81e8e"/>
<path d="M1113 154h1m-100 26h1m-28 18h1m32 14h1m212 14h1m-120 23h1m-108 19h1m22 10h1m-154 13h1m121 15h1m-112-6h1m83 20h1m128-5h1m-177 57h1m297 1h1m-53 9h1m-204-2h1m260 23h1m-127 5h1m-5-5h1m-185 2h1m-20 10h1m11-7h1m37 2h1m13 9h1m6-9h1m154 0h1m45 9h1m-25 7h1m-181-1h1m-48-3h1m-23 7h1m-9-7h1m-4 7h1m-25 2h1m-70 12h1m15-11h1m9 2h1m22 7h1m1 2h1m23-3h1m6-1h1m11 3h1m11-7h1m60 3h1m19-6h1m1 7h1m14 0h1m5 3h1m8 12h1m-78-3h1m-11-4h1m-9 6h1m-14-4h1m-48 2h1m-2 12h1m18 2h1m104 14h1m-73-5h1m-4-2h1m-68 12h1m56-3h1m12 3h1m108 7h1m8-8h1m261 18h1m-15 1h1m-212-3h1m-6 1h1m-8-3h1m-26-2h1m-3 1h1m-47 0h1m-11 5h1m-8-1h1m-7 0h1m-152-1h1m30 16h1m40-9h1m15 9h1m71-4h1m18 4h1m46 0h1m3-8h1m-1 0h1m12 0h1m2 6h1m8-5h1m13 5h1m12 13h1m-28-3h1m-31 3h1m-10-3h1m-53 0h1m-146-2h1m50 10h1m23 7h1m59-3h1m20 0h1m52-2h1m0-4h1m1 5h1m0-5h1m3 0h1m11 7h1m16-2h1m0 0h1m33 8h1m-5 1h1m-18 5h1m-9-4h1m-5 6h1m-6-4h1m-5 1h1m-12 2h1m-14-7h1m-78 5h1m-55-1h1m-5 10h1m170 1h1m9 6h1m2-11h1m2 11h1m3-4h1m4 1h1m6-3h1m2 0h1m3-2h1m30 1h1m62 0h1m-97 11h1m-29 3h1m-13-4h1m-8 0h1m-29 3h1m-115 0h1m-27-1h1m2 8h1m134 4h1m16 1h1m28-1h1m4 0h1m0 4h1m-1-7h1m22 1h1m-28 15h1m-25-5h1" stroke="#9f9f9f"/>
<path d="M818 338h1m28 8h1m-1 1h1m14-4h1m4-6h1m6 8h1m-2 4h1m-8 5h1m-8-2h1m-3 0h1m-3 3h1m-3 0h1m-4 0h1m-2 1h1m-10 2h1m-6-2h1m-3 4h1m-3-11h1m-3 4h1m-5-1h1m-2 4h1m-1-3h1m-11 7h1m-18 11h1m2-11h1m2 9h1m5-5h1m0 8h1m2-11h1m2 5h1m0 2h1m1 2h1m0-3h1m2-5h1m1 0h1m-1 9h1m-1-4h1m0-4h1m-1 3h1m1 4h1m0-1h1m0-4h1m1 2h1m-1 5h1m3-10h1m-1 6h1m-1-3h1m1 1h1m3-5h1m-1 2h1m0 5h1m1 0h1m1-3h1m-1 4h1m3-4h1m1 3h1m0 4h1m1-9h1m2 9h1m0 0h1m2-8h1m-1-3h1m3 0h1m2 8h1m0-6h1m-1-2h1m0 0h1m3 2h1m-1 3h1m0 2h1m3 1h1m16 9h1m-9 3h1m-1 1h1m-9-8h1m-5 5h1m-2 4h1m-2-6h1m-5-3h1m-3 10h1m-8 0h1m-2 0h1m-6-1h1m-1-9h1m-4 9h1m-2-10h1m-2 0h1m-3 8h1m-1 3h1m-5-10h1m-3 6h1m-12-2h1m-3 5h1m-4 0h1m-8-1h1m-6-10h1m-4 10h1m-2 1h1m-2-1h1m-4-3h1m-2 4h1m-2-6h1m-6 2h1m-2-3h1m-21 14h1m5 4h1m8 0h1m1-5h1m0-5h1m0 2h1m0 9h1m-1-2h1m1 1h1m0-5h1m-1 5h1m3-4h1m2-5h1m3 8h1m0 1h1m5-1h1m-1-7h1m1 2h1m-1-3h1m4 8h1m1-5h1m3 6h1m-1-7h1m4 0h1m0 0h1m0-1h1m0 3h1m2-3h1m-1 1h1m-1 7h1m0-4h1m0-2h1m0 6h1m1-5h1m-1 3h1m1 0h1m-1-4h1m2 0h1m-1-2h1m5 5h1m0 0h1m1-6h1m-1 8h1m-1-1h1m4-4h1m0-3h1m6 1h1m-1-1h1m1 4h1m0-1h1m-1-3h1m3 9h1m0-7h1m11 6h1m1-4h1m1 2h1m-8 10h1m-4-1h1m-10 7h1m-1-8h1m-2 5h1m-4 0h1m-3-7h1m-3 2h1m-3-2h1m-1 3h1m-8 6h1m-6-2h1m-4 2h1m-3-1h1m-2-6h1m-3 0h1m-2-2h1m-3 5h1m-2 2h1m-5-2h1m-4 6h1m-3-11h1m-3 11h1m-3-1h1m-3-8h1m-2-2h1m-8 10h1m-12-8h1m-8-3h1m-2 7h1m-2 3h1m-3 0h1m-1-5h1m-6 4h1m-2-5h1m-4-3h1m-2 1h1m-2-2h1m-2 22h1m2-5h1m7-1h1m0 2h1m1-3h1m-1-2h1m2 3h1m0-1h1m1 8h1m-1 1h1m3-11h1m4 10h1m-1-5h1m2 2h1m-1 1h1m2-1h1m0-6h1m0 8h1m0-5h1m0-3h1m-1 0h1m0 3h1m1 6h1m4-10h1m1 2h1m0 7h1m1-9h1m1 7h1m-1-2h1m-1-3h1m0 1h1m0-2h1m0 1h1m1 5h1m1-5h1m4-2h1m0-1h1m-1 7h1m0-7h1m4 5h1m-1-2h1m0 6h1m0-3h1m-1-6h1m3 2h1m-1 0h1m0 0h1m0 6h1m1-7h1m0 9h1m-1-4h1m3 3h1m2 8h1m-13 2h1m-2-4h1m-1-2h1m-2 6h1m-6 1h1m-5-4h1m-6-1h1m-5-1h1m-1 7h1m-2-7h1m-1 0h1m-1-1h1m-1 5h1m-1 3h1m-2-7h1m-2 6h1m-2 1h1m-2 0h1m-2 0h1m-1-6h1m-4 5h1m-3-3h1m-3-2h1m-7-1h1m-11 6h1m-2-2h1m-2 3h1m-1-9h1m-2 10h1m-4-5h1m-6 0h1m-3 3h1m-5-7h1m-2 11h1m-10-7h1m10 9h1m0 0h1m0 7h1m-1-7h1m-1-2h1m1 10h1m-1-6h1m3-2h1m5 0h1m1 5h1m-1-7h1m0 8h1m4 3h1m0-1h1m0-9h1m1 10h1m0-6h1m-1 4h1m-1-8h1m5 3h1m0 1h1m1-2h1m2 8h1m-1-1h1m1-7h1m1 1h1m0-2h1m10 6h1m5-6h1m1 6h1m5-7h1m-23 12h1m-10 6h1m-19-1h1m-3 2h1m-1 1h1m-4-8h1m-9 5h1m-9-5h1m-2 0h1m-7 4h1m201 25h1m-166 9h1m81 8h1m69-4h1m-78 22h1m105-5h1m-163 14h1m-15 15h1m131 14h1" stroke="#3680c4"/>
<path d="M1159 121h1m-61 15h1m116 10h1m-55 12h1m82 21h1m-33 3h1m-84 7h1m-98-8h1m-21 3h1m-35 0h1m18 14h1m70 4h1m119 10h1m-45-1h1m-83-1h1m-40-5h1m-62 21h1m4-6h1m10 5h1m50 14h1m-69 3h1m39 6h1m192-4h1m-160 14h1m-30 3h1m-86 11h1m215 12h1m-9-6h1m-31 4h1m-236 11h1m10-4h1m16 8h1m93-6h1m0 2h1m7 3h1m7 1h1m10-2h1m259-2h1m-33 17h1m-270-3h1m-69 5h1m49 7h1m25 3h1m11 1h1m45-6h1m211 16h1m-130-2h1m-44-1h1m-71 4h1m-121 1h1m-6-9h1m-48 17h1m68-6h1m34 6h1m27-4h1m4 3h1m229 9h1m-94 2h1m-78-1h1m-21 0h1m-28-2h1m-8 9h1m-136-2h1m-20-3h1m-11-1h1m-5 2h1m17 14h1m-1 2h1m11-8h1m15 3h1m12 6h1m2-11h1m101 6h1m158 2h1m7 10h1m-57 4h1m-146-4h1m-18-6h1m-37 7h1m-26-3h1m-7 0h1m-4 0h1m-2 2h1m-4-6h1m-3 8h1m-17-3h1m-3-4h1m-4 10h1m-6-7h1m-6 1h1m-17 2h1m-16 10h1m15 0h1m14 3h1m1-6h1m13-2h1m20 5h1m14-6h1m12 11h1m7-5h1m5 5h1m12 1h1m32 0h1m12-8h1m11 6h1m7-6h1m3-2h1m170 1h1m72-2h1m69 20h1m-159-3h1m-168 5h1m-4-3h1m-16-1h1m-9 4h1m-6-1h1m-5 0h1m-6-8h1m-4 6h1m-6-7h1m-2 9h1m-4-4h1m-4 1h1m-16 5h1m-7-1h1m-1-6h1m-3 0h1m-2-3h1m-9 2h1m-2 5h1m-6-1h1m-5-4h1m-2 1h1m-7-5h1m-2 6h1m-3 4h1m-1-8h1m-1 5h1m-1-4h1m-1 3h1m-9-5h1m-2 3h1m-3 6h1m-13-9h1m-8 11h1m-3-8h1m-8 4h1m-3 3h1m-7-7h1m-17-1h1m9 14h1m6 7h1m4-1h1m0-7h1m6 2h1m-1 5h1m4-10h1m4 1h1m2 8h1m2-6h1m3-3h1m1 8h1m0 3h1m2-4h1m1-5h1m0 7h1m1 1h1m1-8h1m0 4h1m1-5h1m0 4h1m1-6h1m0 11h1m0-4h1m0 2h1m-1 0h1m0-2h1m-1 2h1m2-3h1m-1-3h1m2 5h1m2-4h1m0 3h1m0-3h1m-1 3h1m1-6h1m-1 2h1m-1 9h1m17-11h1m0 5h1m-1-3h1m2 9h1m1-6h1m-1 3h1m0-1h1m-1-6h1m0 5h1m-1-1h1m2-3h1m1 1h1m6 5h1m2-1h1m7-5h1m1 7h1m0-1h1m9-6h1m3-1h1m0 7h1m0-2h1m2-2h1m2 4h1m0 2h1m1-3h1m4 3h1m2-2h1m215 1h1m74 9h1m-167-7h1m-90 7h1m-1 5h1m-10-1h1m-2-9h1m-6 4h1m-2 5h1m-4-3h1m-4 2h1m-2 1h1m-1-1h1m-3-3h1m-5-7h1m-2 9h1m-3-5h1m-3 3h1m-2 2h1m-2-6h1m-2 2h1m-2-4h1m-2 8h1m-4-5h1m-1 8h1m-3-2h1m-2-2h1m-1 3h1m-3-10h1m-4 3h1m-2 4h1m-1-8h1m-5 6h1m-2-4h1m-2 10h1m-5 0h1m-1-11h1m-5 5h1m-3 4h1m-1-8h1m-2-1h1m-3 7h1m-7-4h1m-2 4h1m-1 0h1m-8-3h1m-1 3h1m-4-8h1m-6 10h1m-3-9h1m-1 10h1m-2-4h1m-2 3h1m-2 0h1m-2 1h1m-8-3h1m-5 0h1m-3-3h1m-2 3h1m-1-2h1m-6-2h1m-4 6h1m-2-1h1m-5 2h1m-1-9h1m-4 8h1m-1-1h1m-2-5h1m-1 7h1m-3-2h1m-4-8h1m-2 4h1m-2-5h1m-1 7h1m-2 2h1m-3 0h1m-3-4h1m-2-4h1m-2 6h1m-4-6h1m-9 2h1m-3 5h1m-3 3h1m-4-11h1m-2 1h1m-3 3h1m-5-2h1m-4 1h1m-2 1h1m-2 6h1m-4-5h1m-3-3h1m-2 6h1m-1 0h1m-2 1h1m-5-8h1m-1 6h1m-4 0h1m-5-3h1m-4 0h1m-2 6h1m-2-7h1m-1 5h1m-2 3h1m-2-2h1m-3-7h1m-1 8h1m-2-1h1m-2-2h1m-7 3h1m-12 7h1m13 6h1m2-6h1m-1 4h1m-1-4h1m0-3h1m7 9h1m-1-10h1m1 1h1m0 10h1m1-10h1m1-1h1m-1-1h1m0 2h1m8-1h1m-1 2h1m1 8h1m6-9h1m1-1h1m0 3h1m-1 2h1m3-5h1m0 11h1m4-10h1m2 4h1m2 1h1m0 5h1m0-8h1m-1-2h1m1 1h1m1-3h1m1 5h1m0 5h1m0 0h1m1-3h1m-1-7h1m0 5h1m-1 2h1m1-7h1m1 8h1m3-5h1m3 6h1m5-7h1m0 10h1m1-10h1m0 3h1m5-3h1m4 10h1m-1-6h1m-1 6h1m0-10h1m1 2h1m0 7h1m4-10h1m-1 6h1m2-4h1m3 4h1m0 1h1m0-4h1m1-2h1m0-1h1m-1 8h1m6-8h1m1 9h1m0-7h1m8 6h1m0-9h1m1 7h1m1-4h1m1 7h1m2 2h1m-1-1h1m0-6h1m3 0h1m0-1h1m9 6h1m3-9h1m0 10h1m0-3h1m7-7h1m8 1h1m0-1h1m-1 10h1m0-6h1m1 5h1m1-6h1m0 5h1m5-6h1m1-2h1m13 5h1m189 4h1m29 13h1m-125-8h1m-92 3h1m-3-1h1m-3 4h1m-1-9h1m-2 6h1m-2 4h1m-2-1h1m-3 0h1m-6-2h1m-5-4h1m-1-3h1m-6 4h1m-3 6h1m-1-1h1m-5-5h1m-10-1h1m-3 2h1m-2 0h1m-2-5h1m-2 6h1m-3 3h1m-1-2h1m-5-1h1m-2 6h1m-1-8h1m-2-1h1m-4 4h1m-8 1h1m-1 3h1m-2-10h1m-2 6h1m-2-2h1m-1 2h1m-5 0h1m-3 0h1m-1 4h1m-1-6h1m-3-3h1m-2 1h1m-5 3h1m-19 6h1m-2-2h1m-6-2h1m-2 0h1m-2-4h1m-1-3h1m-3 9h1m-2-7h1m-3-3h1m-4 8h1m-1 1h1m-2-2h1m-2-6h1m-1 7h1m-3-5h1m-6 2h1m-2-2h1m-3-3h1m-2 5h1m-4-2h1m-2 3h1m-16 3h1m-3 1h1m-3 1h1m-1 1h1m-2-11h1m-3 2h1m-3 7h1m-3-1h1m-3-9h1m-1 1h1m-5 10h1m-3-8h1m-2 1h1m-1-1h1m-3 6h1m-1-6h1m-4 5h1m-1 1h1m-7 0h1m-2-3h1m-5-2h1m-2-1h1m-3 3h1m-2 2h1m-3 0h1m-3-2h1m-2 4h1m-2-10h1m-3 4h1m-4 4h1m-2-1h1m-7 4h1m-7-8h1m-2 2h1m-5 2h1m-2-5h1m-4 5h1m-1 0h1m-1-1h1m-9-2h1m-5 0h1m-1-1h1m-3 2h1m-5 5h1m-6-3h1m-1-4h1m-5 17h1m1 3h1m0-2h1m3 2h1m-1-6h1m5-2h1m0 8h1m8-2h1m3 1h1m5-4h1m-1-2h1m2 0h1m6 5h1m2-8h1m5 4h1m2 1h1m0 6h1m1-5h1m-1 3h1m2-4h1m0 0h1m1 2h1m1-8h1m-1 11h1m5-4h1m0 2h1m0 3h1m1-7h1m10 0h1m0-2h1m-1 6h1m0-4h1m-1 2h1m0-2h1m2 5h1m1-1h1m6-4h1m0 4h1m0-3h1m7 4h1m3-6h1m-1 1h1m3 5h1m0-7h1m0-2h1m0 8h1m-1 3h1m0-3h1m1-2h1m0 2h1m0-9h1m0 2h1m0 7h1m0 0h1m0 2h1m-1-4h1m0 1h1m0 3h1m-1-1h1m7-1h1m3 1h1m-1-9h1m-1 3h1m0 1h1m1 0h1m-1-2h1m0 2h1m-1-4h1m0 11h1m3-10h1m-1 1h1m3 6h1m-1 1h1m0-7h1m0 8h1m4-10h1m0-1h1m1 3h1m2 1h1m0 0h1m1 5h1m1-5h1m1 5h1m5-4h1m2-1h1m1 0h1m1 1h1m1-1h1m1 7h1m1-5h1m1-2h1m0-4h1m1 9h1m3-3h1m1 4h1m0 0h1m4 2h1m2-11h1m2 3h1m0-1h1m5 2h1m-1 5h1m0-5h1m2-3h1m0 4h1m6 5h1m4 0h1m-2 2h1m-2 3h1m-3 4h1m-2 1h1m-4 0h1m-3-1h1m-4-6h1m-2 9h1m-1-5h1m-2-3h1m-2 9h1m-4-6h1m-5-5h1m-3 2h1m-1 2h1m-2-4h1m-3 9h1m-1-10h1m-2 3h1m-5-3h1m-2 11h1m-2-7h1m-3 6h1m-1 0h1m-2-7h1m-2-1h1m-4 1h1m-7-2h1m-4 1h1m-4 0h1m-5 5h1m-3 3h1m-1-3h1m-2-1h1m-8-4h1m-3 9h1m-7-6h1m-3-2h1m-2 8h1m-4 0h1m-3-3h1m-2 3h1m-3-3h1m-2-5h1m-1 1h1m-4 6h1m-2-7h1m-2 8h1m-9-4h1m-3 1h1m-3-5h1m-2 5h1m-2-6h1m-1 4h1m-3 1h1m-2-5h1m-3 6h1m-2-7h1m-2 5h1m-1-3h1m-2 5h1m-3-1h1m-1-5h1m-6 3h1m-5 5h1m-3-7h1m-5 5h1m-4 1h1m-2-9h1m-2 4h1m-4-1h1m-2 8h1m-1-4h1m-2 2h1m-3-6h1m-3 7h1m-3-9h1m-2 5h1m-6 1h1m-3-6h1m-3 10h1m-5-4h1m-5 5h1m-1-2h1m-4-2h1m-4 3h1m-4-10h1m-5 8h1m-2-7h1m-4 1h1m-1 2h1m-3 1h1m-2 1h1m-1 1h1m-2-6h1m-1-1h1m-4 0h1m-3 11h1m-6-6h1m-3 0h1m-2-2h1m-1-1h1m-2 0h1m-7 6h1m-2 0h1m-1 2h1m-1-3h1m-7-1h1m-4-1h1m-2-2h1m-5 8h1m-2-9h1m-4 1h1m-7 1h1m-10-3h1m9 19h1m-1 2h1m0 0h1m6 0h1m1-10h1m1 1h1m3 7h1m-1-4h1m1-1h1m1 5h1m0-9h1m3 1h1m1 4h1m8 1h1m0 4h1m1-5h1m1 6h1m0-4h1m0 1h1m1 0h1m0-7h1m0 5h1m4 2h1m-1-3h1m0 0h1m1-2h1m-1-2h1m0 5h1m-1-5h1m2 5h1m-1-1h1m0 3h1m0-8h1m1 1h1m0 8h1m0-7h1m1 9h1m1-5h1m1-5h1m0 5h1m0-3h1m1 1h1m1 4h1m0-4h1m2 4h1m0-3h1m4 5h1m0-8h1m3-1h1m-1 6h1m1 3h1m5-2h1m0-7h1m6 5h1m-1-1h1m0 1h1m0 4h1m2-8h1m3 1h1m1 5h1m1-7h1m2 11h1m-1-6h1m0 2h1m0-1h1m-1-5h1m0 4h1m0-2h1m3 6h1m0-2h1m4 0h1m0-3h1m0 3h1m-1-5h1m0 1h1m1 0h1m-1 4h1m0-3h1m6 5h1m-1-1h1m1-3h1m1 6h1m1-2h1m-1 0h1m-1-1h1m0-4h1m0-4h1m3 6h1m-1-1h1m0 1h1m0-1h1m5-4h1m0 3h1m2 4h1m1-4h1m-1-3h1m0 1h1m3 6h1m-1-3h1m0-4h1m1 8h1m1-1h1m0-2h1m1 2h1m-1 1h1m3-4h1m2 0h1m-1-4h1m1-1h1m7-1h1m5 9h1m2-7h1m0 3h1m0-4h1m4 0h1m3 9h1m0 1h1m1 0h1m72 11h1m-61-2h1m-7 1h1m-5-7h1m-3 0h1m-1 6h1m-6 0h1m-6-5h1m-4 5h1m-1 2h1m-5-7h1m-3 7h1m-4-5h1m-2-4h1m-3-1h1m-2 0h1m-2 9h1m-4-8h1m-4 8h1m-2 2h1m-2-3h1m-3 0h1m-11-4h1m-4 5h1m-2-3h1m-2-1h1m-10 6h1m-2-11h1m-6 6h1m-5-5h1m-2 4h1m-3-2h1m-2 3h1m-6-2h1m-2-3h1m-2 1h1m-6 9h1m-3-3h1m-2-4h1m-1-3h1m-5 3h1m-3 6h1m-3-5h1m-6-1h1m-2-3h1m-1 2h1m-6 7h1m-1-10h1m-2 5h1m-4 6h1m-2-9h1m-4 9h1m-3-3h1m-7-4h1m-2 1h1m-6 1h1m-7-5h1m-2 10h1m-4-3h1m-4 4h1m-4-11h1m-5 8h1m-1-9h1m-1 12h1m-2-7h1m-9 2h1m-3 4h1m-2 0h1m-2-11h1m-1 5h1m-2 0h1m-2-5h1m-3 5h1m-1 2h1m-10 0h1m-4-3h1m-3 6h1m-4-5h1m-4 0h1m-1 2h1m-3-5h1m-3 2h1m-3-1h1m-5 3h1m-2 3h1m-7 0h1m-2-6h1m-4 0h1m-1 1h1m-7 4h1m-4-3h1m-2 5h1m-5-4h1m-18 7h1m2 5h1m5-1h1m1-5h1m1 1h1m0 4h1m1-3h1m1 8h1m0-9h1m4-1h1m4 6h1m-1-4h1m2 4h1m0 4h1m3-1h1m3 0h1m5 1h1m2 0h1m3-5h1m1 3h1m-1-7h1m0 10h1m1-4h1m1-5h1m0 6h1m1-3h1m-1 2h1m0-3h1m1 0h1m2-2h1m0 7h1m0-5h1m5 1h1m0-2h1m1 5h1m0 1h1m10 1h1m0 1h1m1-3h1m-1 3h1m12-9h1m5 9h1m2-11h1m1 9h1m0-5h1m0 8h1m-1-3h1m1-4h1m1 1h1m0 5h1m2-7h1m0-3h1m0 2h1m0 2h1m3 0h1m0-3h1m2 7h1m2-5h1m1 3h1m2 5h1m9-8h1m0-1h1m-1-1h1m0 6h1m-1-4h1m0-2h1m0 4h1m-1-3h1m10-1h1m0 6h1m0-1h1m1 4h1m1-8h1m1 6h1m0-8h1m0 1h1m1 8h1m0-9h1m0 4h1m4-4h1m0 6h1m1 0h1m4-5h1m-1 8h1m-1-4h1m0 0h1m3-1h1m1 0h1m0-1h1m0-3h1m0 8h1m3-3h1m0-5h1m0 7h1m0-5h1m3 5h1m6-6h1m2 1h1m-1 7h1m1 2h1m4-8h1m41 2h1m118 4h1m2-10h1m94 16h1m-89-2h1m-85 7h1m-40 2h1m-4-1h1m-18-1h1m-14-6h1m-16-1h1m-9 8h1m-2-1h1m-2 3h1m-2-11h1m-5 9h1m-2-3h1m-4 0h1m-1-7h1m-7 10h1m-3 1h1m-2-6h1m-5 3h1m-2 2h1m-3-9h1m-1 3h1m-2 5h1m-2-9h1m-3 10h1m-1-2h1m-1 1h1m-2 0h1m-1-3h1m-1 1h1m-1-5h1m-3 9h1m-1-9h1m-2 2h1m-2 6h1m-5-8h1m-2 7h1m-6-8h1m-1 3h1m-6 2h1m-6-2h1m-1 4h1m-2-6h1m-8 5h1m-4-3h1m-3 5h1m-1 0h1m-4-4h1m-2 0h1m-8-1h1m-1 2h1m-3 5h1m-2-10h1m-3 9h1m-1-10h1m-8 2h1m-2 5h1m-3 3h1m-5-4h1m-2 0h1m-2 5h1m-1 0h1m-7 0h1m-5-4h1m-2-2h1m-3 2h1m-7-2h1m-4 3h1m-3 3h1m-2-1h1m-1-5h1m-3-1h1m-2 0h1m-1 2h1m-3-2h1m-4 6h1m-3-2h1m-2 4h1m-2-1h1m-5-3h1m-4-7h1m-1 4h1m-2-4h1m-1 8h1m-3-5h1m-2-4h1m-5 2h1m-3 3h1m-4 5h1m-3-8h1m-8 4h1m-5 6h1m-1-11h1m-9 2h1m-5 2h1m-2-4h1m-1 10h1m-2 0h1m-1-5h1m-3-5h1m-1 8h1m-5-4h1m-11-4h1m-3 6h1m-2 3h1m-2-7h1m-2 3h1m-7-6h1m-5 10h1m-2-6h1m-2 6h1m-4-7h1m-2 6h1m-12-2h1m9 12h1m18-3h1m7 0h1m0-1h1m-1 3h1m5 0h1m2 4h1m0-6h1m0-3h1m3 2h1m5 3h1m-1-4h1m1 8h1m0-5h1m0-4h1m2 6h1m1-3h1m-1 3h1m0-6h1m0 9h1m0 2h1m0-9h1m0 4h1m1-1h1m1-1h1m1-4h1m2 9h1m1-1h1m0-8h1m4 5h1m0 5h1m-1-2h1m3 0h1m1-2h1m1-2h1m-1-2h1m0-1h1m12 0h1m4 6h1m3 2h1m2-2h1m-1-2h1m0-3h1m8 8h1m8-3h1m1-1h1m0-1h1m7 5h1m1-5h1m-1 0h1m1-5h1m3 11h1m2-12h1m0 9h1m1 2h1m4-6h1m9 0h1m-1-3h1m-1-1h1m5-1h1m-1 8h1m4 0h1m2-1h1m0-2h1m2-5h1m1 11h1m0-10h1m0 0h1m5 6h1m0 0h1m5 2h1m1 2h1m19-11h1m31 11h1m10-4h1m4-6h1m127 9h1m5 3h1m-41 6h1m-165-6h1m-6 11h1m-4-7h1m-6 3h1m-2-2h1m-3-4h1m-4 0h1m-1-1h1m-4 10h1m-3 1h1m-10-4h1m-4 2h1m-5 1h1m-1-2h1m-3-4h1m-3 6h1m-1-5h1m-2-5h1m-4 1h1m-1 0h1m-2 10h1m-3-10h1m-1 1h1m-1-1h1m-4 0h1m-3 2h1m-2-3h1m-1 4h1m-3-4h1m-7 1h1m-2 9h1m-8-2h1m-2-6h1m-4 3h1m-1-3h1m-1 0h1m-3 0h1m-2 0h1m-3 9h1m-1-4h1m-1-7h1m-2 5h1m-4 1h1m-1 4h1m-18-10h1m-2 2h1m-2-2h1m-2 1h1m-1 2h1m-2 3h1m-5-2h1m-8 4h1m-5 1h1m-6-5h1m-4-1h1m-1 1h1m-7-1h1m-6-1h1m-2 3h1m-1-5h1m-4 3h1m-2 7h1m-6-4h1m-3 1h1m-2-4h1m-5 5h1m-6-7h1m-2 6h1m-6 1h1m-3-9h1m-8 6h1m-2 1h1m-10 1h1m15 6h1m0 5h1m7 3h1m0-8h1m-1 5h1m0-7h1m0 9h1m3 0h1m2-5h1m3-3h1m-1 1h1m0 6h1m4-8h1m7 6h1m0-3h1m4 8h1m1-4h1m1-6h1m3 8h1m3-3h1m1-2h1m3-3h1m0 0h1m1 4h1m0-2h1m-1 7h1m2-8h1m5 3h1m5-3h1m6-1h1m0 10h1m0-10h1m-1 6h1m0 3h1m2-5h1m3 4h1m0-8h1m2 10h1m0-2h1m0 1h1m-1-3h1m0-4h1m0 2h1m1 5h1m-1-1h1m2-3h1m10 3h1m1-5h1m0 2h1m4-3h1m4 7h1m0-2h1m1 4h1m3-5h1m0-6h1m-1 3h1m4 1h1m3-1h1m17-2h1m-1 4h1m4-3h1m13 2h1m33 2h1m48 2h1m121 4h1m-161 7h1m-2-4h1m-76-3h1m-10 1h1m-8 1h1m-9 1h1m-4 5h1m-13 1h1m-3-3h1m-10 0h1m-3 4h1m-2-3h1m-6-3h1m-5 3h1m-2-3h1m-3-1h1m-8 6h1m-1-9h1m-6 11h1m-4-6h1m-1-4h1m-8 2h1m-5 4h1m-1-7h1m-2 7h1m-11 2h1m-7-6h1m-1 4h1m-2 4h1m-3-9h1m-3-2h1m-5 4h1m-7-4h1m-3 10h1m-7-10h1m-10 5h1m52 13h1m2 0h1m9-7h1m2 10h1m2-6h1m0 6h1m1-9h1m-1 2h1m10 2h1m7-3h1m7 4h1m2 3h1m24-3h1m126 5h1m-26 2h1" stroke="#23963f"/>
<path d="M1169 111h1m-6 8h1m-42-11h1m-31 15h1m12 6h1m59 3h1m-75 11h1m-38 9h1m20 0h1m40-4h1m36 3h1m24 0h1m-66 15h1m-32 1h1m-16-2h1m-30 2h1m-6 10h1m35-4h1m14 5h1m-38 13h1m-26-11h1m-18 18h1m36 4h1m23 1h1m98-6h1m27-2h1m5 15h1m-59-1h1m-61-4h1m-81 4h1m-7 6h1m-2-8h1m-8 6h1m-4-2h1m-13 4h1m-13-3h1m-15 15h1m4-3h1m5-4h1m2-2h1m7 2h1m7-3h1m5 4h1m2 3h1m2 3h1m0-4h1m4-5h1m4 3h1m1 5h1m1 0h1m-1 1h1m5-10h1m0 9h1m21-8h1m112 9h1m103 1h1m-46 5h1m-68 4h1m-41-5h1m-14-3h1m-26 5h1m-45 6h1m-5-2h1m-5-3h1m-1-4h1m-9-1h1m-2 7h1m-4 1h1m-3-6h1m-3-2h1m-4 6h1m-2-5h1m-16-3h1m-7 5h1m-3-5h1m-8 2h1m-5 1h1m-13-1h1m-3 9h1m-4 0h1m-2-6h1m-3 0h1m-2 6h1m-3-3h1m-3-6h1m-13 6h1m-1 10h1m3-3h1m1 2h1m0 1h1m4 4h1m0 0h1m-1-4h1m2-1h1m0-3h1m0 6h1m2-5h1m-1 4h1m0-3h1m3 2h1m0-2h1m0 7h1m2-9h1m0 1h1m2-3h1m-1 0h1m-1 1h1m2 11h1m19-4h1m6-6h1m1 10h1m0-11h1m5 1h1m-1 7h1m-1-7h1m0 0h1m7-1h1m10 7h1m2 1h1m3 0h1m5-1h1m-1 1h1m4-2h1m23 1h1m38 0h1m8 4h1m45-5h1m16 3h1m101 4h1m-114 5h1m-47-2h1m-53 6h1m-19 1h1m-6-12h1m-2 10h1m-8-10h1m-4 8h1m-1 0h1m-1-5h1m-7 5h1m-4-7h1m-2 0h1m-3-1h1m-1 5h1m-2 3h1m-4-6h1m-2-1h1m-4 2h1m-5-2h1m-1 10h1m-4 0h1m-14-10h1m-5 8h1m-3 0h1m-11-3h1m-3-5h1m-2 2h1m-6 5h1m-4 4h1m-6-10h1m-4 4h1m-9 0h1m-2 5h1m-9-5h1m-4 1h1m-2 1h1m-6-3h1m-5 5h1m-3-2h1m-2 0h1m-4-5h1m-13 3h1m-12-3h1m-9 17h1m3 4h1m15-2h1m8-4h1m-1 1h1m1-4h1m10 0h1m0 1h1m3-2h1m0 2h1m3 7h1m-1-5h1m2 6h1m2-8h1m4 3h1m6 1h1m4 0h1m0 2h1m-1-6h1m2 7h1m1-6h1m5 2h1m4-2h1m10 4h1m0-6h1m3 5h1m0-2h1m1 0h1m-1-5h1m-1 4h1m5 6h1m1-4h1m0 5h1m1-9h1m0-3h1m2 11h1m-1 0h1m1 0h1m2-1h1m3-5h1m0 3h1m2-8h1m6 1h1m9 9h1m1-1h1m0-1h1m2-7h1m8 2h1m30-2h1m29 2h1m165 17h1m-38-3h1m-5 6h1m-55-7h1m-5-3h1m-120 8h1m-2 2h1m-19-5h1m-4-4h1m-6 9h1m-2-2h1m-4-6h1m-2 0h1m-2 3h1m-2-5h1m-11 4h1m-3 6h1m-17-8h1m-4 1h1m-2 6h1m-5-5h1m-1 0h1m-1-2h1m-3-2h1m-5 4h1m-5 2h1m-1 4h1m-3-6h1m-3-1h1m-5 2h1m-4 4h1m-2-7h1m-6 3h1m-1-1h1m-2 1h1m-16 4h1m-2-1h1m-7-8h1m-1 9h1m-5-9h1m-2 4h1m-3-3h1m-3 1h1m-7 4h1m-1-5h1m-2 7h1m-1-2h1m-5-4h1m-2 2h1m-5-3h1m-3 9h1m-12 1h1m-25 4h1m16 3h1m-1 0h1m2-4h1m-1 4h1m3 0h1m0-2h1m2 3h1m5-6h1m0 1h1m5-3h1m1 5h1m1 7h1m6-2h1m0-2h1m0-6h1m2 4h1m4 4h1m0 1h1m-1-7h1m0-3h1m0 4h1m-1 0h1m0 0h1m1 2h1m-1 4h1m2-1h1m0-10h1m3 6h1m0 2h1m3-1h1m0-1h1m1 5h1m4-3h1m1-3h1m-1 1h1m0 3h1m4-8h1m0 1h1m-1-1h1m4 4h1m4 4h1m3-8h1m2 6h1m3 5h1m-1-8h1m1 0h1m7 4h1m4 2h1m0-9h1m-1 11h1m0-5h1m0-7h1m0 6h1m10 2h1m1 0h1m0 0h1m1-7h1m3 2h1m1 5h1m0-7h1m-1 9h1m-1-2h1m0-6h1m0 4h1m0-6h1m2 1h1m7 9h1m1-5h1m14 2h1m55 3h1m46 0h1m23-7h1m78 16h1m-101-4h1m-116-2h1m-14 7h1m-1 1h1m-6-3h1m-10-2h1m-11 5h1m-3-6h1m-5 8h1m-6-9h1m-8 4h1m-6 6h1m-2-7h1m-2 2h1m-1 1h1m-5-5h1m-1 7h1m-1 2h1m-4-8h1m-3-2h1m-7 5h1m-3-4h1m-3 3h1m-1-5h1m-1 6h1m-3-2h1m-1-3h1m-6-1h1m-5 2h1m-1 1h1m-4 1h1m-6-2h1m-2 7h1m-1-2h1m-2-1h1m-2-2h1m-4 5h1m-2-10h1m-2 2h1m-5 0h1m-2-2h1m-16 8h1m-4 0h1m-5 1h1m-1 3h1m-2-1h1m-7 1h1m-2-7h1m-2-3h1m-6 9h1m-5-10h1m-2 1h1m-3 1h1m-10 2h1m-7 1h1m-1-3h1m-5 0h1m4 17h1m0-7h1m1 5h1m3-4h1m2 6h1m2-1h1m1-2h1m2-5h1m0 5h1m1 0h1m3 1h1m8-3h1m-1 7h1m1-10h1m2 5h1m1 4h1m6-8h1m1 7h1m-1 0h1m6-2h1m8 4h1m0-5h1m1-3h1m1 4h1m0-3h1m5 1h1m9 7h1m-1-5h1m0 1h1m2-1h1m3-5h1m1 7h1m6-2h1m0 3h1m1-3h1m1-5h1m0 2h1m1 6h1m-1 3h1m0-12h1m4 8h1m-1 3h1m4-4h1m2 4h1m2-9h1m2 2h1m5 3h1m0-3h1m0-2h1m0-1h1m0 5h1m3 1h1m4-6h1m5 6h1m4-4h1m0-3h1m82 12h1m41-11h1m9 17h1m-7-2h1m-3-3h1m-5 6h1m-110 5h1m-13-4h1m-3 0h1m-6 1h1m-6-2h1m-9-1h1m-7-3h1m-3 7h1m-2-8h1m-2 5h1m-5-2h1m-1 4h1m-4-4h1m-4 1h1m-6-1h1m-3-3h1m-2 3h1m-4 5h1m-7 2h1m-1-2h1m-9-8h1m-1 3h1m-6 4h1m-1-1h1m-4-5h1m-9-2h1m-5 7h1m-1-5h1m-3 5h1m-18 0h1m-4-8h1m-2 7h1m-6-6h1m-2 8h1m-3-7h1m-8 4h1m-2 5h1m-3-8h1m-1 4h1m-1 0h1m-5-2h1m-2 6h1m-3-10h1m-10 1h1m-1 1h1m-7 3h1m-4-5h1m-19 0h1m12 17h1m0 5h1m7-3h1m-1-1h1m1 0h1m0-1h1m1-2h1m0 4h1m2-6h1m-1 3h1m1 5h1m0-5h1m5 1h1m6-1h1m2-3h1m0-2h1m0 7h1m-1-5h1m0 9h1m5-5h1m-1-5h1m3 3h1m-1 8h1m2-6h1m2-2h1m-1 6h1m5-1h1m4 2h1m0-1h1m2-9h1m13 5h1m1-1h1m-1 2h1m10-2h1m1-2h1m1 1h1m4 1h1m2 5h1m7-2h1m0-2h1m1-2h1m7-3h1m4 9h1m1-10h1m2 4h1m4-1h1m2 4h1m1 0h1m62 2h1m52-8h1m0 4h1m37 2h1m73 2h1m-99 3h1m-133 5h1m-10 5h1m-1-6h1m-11-3h1m-3 10h1m-7-8h1m-1-2h1m-7 7h1m-12-2h1m-3 0h1m-1 3h1m-11 1h1m-3-1h1m-4-5h1m-4-2h1m-2-1h1m-3 3h1m-4 3h1m-2 2h1m-2-1h1m-1 1h1m-12-2h1m-6 4h1m-8-3h1m-5-1h1m-5 0h1m-2-2h1m-2 1h1m-2 6h1m-5-7h1m-2 5h1m-2-3h1m-2 0h1m-6-2h1m-1 1h1m-2 1h1m-5 4h1m-1-9h1m-7-2h1m-8 4h1m-4-1h1m-11 0h1m6 18h1m4-3h1m7-4h1m4 5h1m21-1h1m3-3h1m15-2h1m2-1h1m0 1h1m6 6h1m-1-2h1m4-3h1m2 3h1m13 4h1m6 0h1m1-8h1m0 4h1m0-2h1m0 1h1m2 3h1m0-1h1m4 1h1m1 5h1m2-5h1m1-7h1m9 9h1m1-5h1m136-3h1m7 6h1m70-2h1m-6 10h1m-11 7h1m-207-9h1m-16 4h1m-5-5h1m-6 9h1m-11 0h1m-7-5h1m-2 8h1m-2-4h1m-3-3h1m-4 0h1m-2-4h1m-7 10h1m-3 0h1m-7 0h1m-5 0h1m-2-2h1m-1-9h1m-2 5h1m-7-5h1m-1 11h1m-4-8h1m-9 2h1m-5-4h1m-5 11h1m-7-3h1m-4-3h1m-3 3h1m-17-2h1m-102 0h1m136 13h1m4-2h1m12-2h1m1-2h1m59 1h1m108-3h1m-167 13h1m-11 4h1m-26 6h1m131 10h1m91-7h1m-172 12h1m-18 8h1m-175 8h1m65-6h1m3 0h1m33 5h1m71-3h1m144 6h1m35 3h1m131 6h1m-7-4h1m-31 8h1m-19-2h1m-270 3h1m-126-9h1m36 12h1m349 17h1m-215 5h1m-57 3h1m254 5h1m-238 9h1m-165 3h1m-3 4h1m18 12h1m71-3h1m74-6h1m172 3h1m70 3h1m51 16h1m-253-2h1m-141-2h1m-27 7h1m20-2h1m95 4h1m24 5h1m249 2h1m-48 11h1m-325 9h1m10-3h1m157 19h1m-100-4h1" stroke="#f5821f"/>
<path d="M1159 94h1m-19 2h1m-4-3h1m-13 6h1m0 5h1m1-2h1m1-1h1m5 0h1m7 6h1m7-4h1m3 2h1m13-2h1m25 5h1m3 10h1m-6 1h1m-7 1h1m-5 0h1m-2-3h1m-3-1h1m-3-1h1m-2 5h1m-1-7h1m-3-1h1m-8 0h1m-4 6h1m-3-7h1m-7 0h1m-2 4h1m-3 1h1m-14-7h1m-3 4h1m-5-1h1m-9 4h1m-8-7h1m-5 1h1m-4 7h1m-2-8h1m-2 7h1m-6 1h1m-1-2h1m-2 4h1m-6-1h1m-10-7h1m-3 7h1m-1-2h1m-7-5h1m-2 2h1m-2-4h1m-12 5h1m-30 15h1m17-1h1m1-5h1m0 3h1m8 2h1m12-8h1m1 4h1m0 3h1m4 4h1m0-8h1m1 8h1m0-6h1m-1-4h1m0 10h1m-1-5h1m2-1h1m-1 3h1m4-2h1m2 1h1m0-5h1m4 8h1m1-5h1m9 4h1m1-2h1m7 5h1m0-2h1m-1-8h1m4 1h1m1 7h1m-1-4h1m6 1h1m0-3h1m0 1h1m3 3h1m4 3h1m7-6h1m-1 4h1m0-3h1m-1 1h1m-1-2h1m3 0h1m2-4h1m1 4h1m1 6h1m0-4h1m5-5h1m1 9h1m0-1h1m4-9h1m0 7h1m-1-4h1m0-4h1m3 8h1m7 0h1m8 6h1m-4 4h1m-11 0h1m-4 1h1m-6 4h1m-4-8h1m-3 3h1m-1-1h1m-2-2h1m-1 1h1m-4 0h1m-2 7h1m-2-8h1m-2-1h1m-2 8h1m-4-7h1m-2 2h1m-2-4h1m-5 6h1m-3 4h1m-4-5h1m-5 4h1m-4-1h1m-4 2h1m-4-7h1m-5 7h1m-2-1h1m-6-4h1m-6 1h1m-2 4h1m-8-1h1m-2-4h1m-3 5h1m-2 0h1m-13-8h1m-3 1h1m-6 6h1m-1 0h1m-2-9h1m-3 1h1m-2-1h1m-3 7h1m-1 1h1m-1 1h1m-2-8h1m-9 8h1m-2-3h1m-6-4h1m-18 6h1m-1-4h1m-4 4h1m-7-4h1m-3 6h1m-6-4h1m-1-6h1m-2 0h1m-6 10h1m-10-11h1m-9 12h1m-2-6h1m-4 6h1m-34 7h1m16 0h1m6-6h1m0 4h1m-1-1h1m1 0h1m1-1h1m5 2h1m4 1h1m4-4h1m2-1h1m1 7h1m1-2h1m0-6h1m7 8h1m1 1h1m1-7h1m1 8h1m1-9h1m0 1h1m-1 0h1m2 4h1m-1 2h1m1-4h1m6-1h1m1 3h1m1-6h1m5 10h1m5-8h1m0 6h1m12-1h1m0-2h1m3 7h1m0-8h1m2 6h1m3-8h1m4 9h1m1-3h1m-1 3h1m7 1h1m0-9h1m3-2h1m0 7h1m0-8h1m0 5h1m9 5h1m4-9h1m0 0h1m6 0h1m0 6h1m1-3h1m3 6h1m12-2h1m0-3h1m0 1h1m-1 2h1m2 2h1m0-5h1m-1 7h1m-1-7h1m2-3h1m1 6h1m7-3h1m1-5h1m0 12h1m2-1h1m0-9h1m-1 8h1m2-9h1m1 8h1m1 1h1m1-6h1m3 7h1m9 12h1m-2-1h1m-2-6h1m-1 4h1m-17-1h1m-2 2h1m-2-7h1m-1 8h1m-2-9h1m-10 1h1m-1 2h1m-1 7h1m-5-8h1m-5 9h1m-3-1h1m-1-3h1m-2-2h1m-4 0h1m-4 3h1m-7 0h1m-1-5h1m-7 5h1m-3 2h1m-6 1h1m-2-11h1m-1 9h1m-3-9h1m-4-1h1m-3 2h1m-2 7h1m-17-4h1m-2-4h1m-2 0h1m-1 5h1m-2 5h1m-1-10h1m-3 2h1m-3 1h1m-2 0h1m-3-2h1m-3 7h1m-2-5h1m-2 3h1m-2 4h1m-3-5h1m-2 1h1m-4 3h1m-3 1h1m-9 0h1m-1-1h1m-2-4h1m-2-6h1m-6 7h1m-2 0h1m-9-6h1m-1 0h1m-2 0h1m-1 2h1m-2-3h1m-3 6h1m-6 4h1m-3-5h1m-4 1h1m-4 1h1m-2-6h1m-4 6h1m-2-1h1m-6 4h1m-4-8h1m-7-1h1m-3 2h1m-7 6h1m-2-2h1m-4 2h1m-3-7h1m-5 0h1m-3 5h1m-3-4h1m-7-1h1m-2 3h1m-2-4h1m-2 0h1m-3 3h1m-3-1h1m-1 8h1m-1-4h1m-2-3h1m-4 3h1m-4-4h1m-1-3h1m-4 6h1m-3 5h1m-5-10h1m-2 6h1m-12 4h1m-5-2h1m-25 7h1m1-2h1m1 8h1m1-1h1m10-2h1m1 4h1m4-5h1m0 1h1m9-2h1m0 5h1m1-1h1m-1 1h1m0-7h1m-1 6h1m5 2h1m-1-5h1m2-5h1m0 4h1m2-2h1m-1 0h1m-1-1h1m0-1h1m1 3h1m0 5h1m3-3h1m2 5h1m4-8h1m0-3h1m-1 5h1m1 4h1m6-7h1m2 7h1m0 0h1m3-5h1m5 2h1m1 2h1m0 1h1m0-5h1m3 4h1m3-1h1m1-6h1m2 0h1m9 7h1m8 1h1m3-6h1m3 4h1m5-2h1m1-3h1m2 8h1m0-7h1m1 1h1m0 3h1m4-1h1m4-5h1m3 5h1m0 5h1m1-3h1m6 1h1m2 3h1m1-1h1m0-9h1m2 0h1m2 6h1m3 3h1m1-2h1m0-3h1m0-6h1m7 1h1m1 1h1m2 7h1m1 1h1m-1 2h1m1-6h1m5 2h1m0-3h1m-1 4h1m2-2h1m-1-5h1m1 3h1m11 7h1m3-4h1m0 3h1m-1-11h1m0 0h1m15 5h1m2-3h1m-1 8h1m8-2h1m2 6h1m-7 3h1m-2-3h1m-6 4h1m-2 4h1m-2-3h1m-2-1h1m-5-1h1m-3 6h1m-2-1h1m-3-10h1m-2 10h1m-2 1h1m-2-7h1m-4-4h1m-2 10h1m-2-4h1m-2-5h1m-2 8h1m-4-6h1m-5 3h1m-6 3h1m-4-8h1m-5 1h1m-2 9h1m-6-2h1m-5-8h1m-4 10h1m-3-4h1m-2 1h1m-4 0h1m-7-5h1m-6-1h1m-1-1h1m-8 3h1m-2-2h1m-4 9h1m-3-6h1m-3-4h1m-3 8h1m-5 3h1m-5-5h1m-3-2h1m-2 5h1m-6-5h1m-6 1h1m-11 4h1m-3-3h1m-2-2h1m-2 5h1m-4-4h1m-3 6h1m-3-8h1m-4 7h1m-4-2h1m-2-5h1m-2 8h1m-2-10h1m-4 1h1m-2 3h1m-5-2h1m-4-3h1m-3 3h1m-3-3h1m-4 6h1m-1 5h1m-5-8h1m-2 6h1m-3-6h1m-5 5h1m-3 1h1m-1-5h1m-4 4h1m-2 1h1m-2-6h1m-6 5h1m-3 2h1m-3-5h1m-1-6h1m-2 5h1m-3 0h1m-3 2h1m-3-5h1m-4 2h1m-3 1h1m-2 4h1m-2-2h1m-4-4h1m-4 1h1m-3-2h1m-2 7h1m-4-8h1m-3 1h1m-2 0h1m-2 6h1m-1-5h1m-3-2h1m-2 7h1m-3-3h1m-3 4h1m-2 1h1m-3-1h1m-1-3h1m-4-2h1m-2 1h1m-1 6h1m-2-7h1m-1-1h1m-3-2h1m-3 10h1m-11-7h1m-6 0h1m-2 7h1m-4-9h1m-9 5h1m-2 3h1m-2-7h1m-1 4h1m-7-2h1m-1 11h1m5-1h1m0 0h1m2 7h1m1-1h1m4-2h1m1 1h1m3 2h1m-1-4h1m6 1h1m0 2h1m0-2h1m5-5h1m0 9h1m2-2h1m0-1h1m6-2h1m3-1h1m-1-2h1m0 8h1m1-6h1m1 1h1m1-5h1m0 7h1m-1 3h1m-1-10h1m3 3h1m0-3h1m1 7h1m4-7h1m0 3h1m5 4h1m0-2h1m0-2h1m0-4h1m17 11h1m1-1h1m4-8h1m5-2h1m2 6h1m4 0h1m-1-3h1m5 1h1m0 4h1m0 1h1m4-8h1m2 2h1m0 5h1m1-1h1m0-5h1m1 1h1m3 5h1m3 0h1m0 2h1m2-3h1m4 5h1m0-3h1m0-4h1m1-1h1m9-1h1m1 0h1m0 2h1m0 4h1m0-4h1m0 5h1m3-4h1m0 5h1m0-9h1m4 4h1m-1 2h1m4-3h1m2-5h1m0 3h1m0 9h1m-1-8h1m2 0h1m-1 7h1m0-2h1m1-7h1m-1 2h1m0-3h1m2 10h1m0-9h1m-1 7h1m0 0h1m3-4h1m4 6h1m0-7h1m0-2h1m1 6h1m1-1h1m4 0h1m-1 2h1m1 3h1m2-7h1m2 7h1m0-11h1m4 10h1m5-1h1m0-4h1m4 3h1m2 1h1m1-2h1m2 1h1m11-1h1m0 2h1m-1-3h1m4-1h1m3-1h1m3 1h1m-1 2h1m-4 7h1m-2 6h1m-2-7h1m-2 6h1m-8 1h1m-2 3h1m-1-9h1m-3-3h1m-4 2h1m-1 9h1m-8-3h1m-1-5h1m-3 6h1m-2-8h1m-5 9h1m-5-7h1m-3 3h1m-2 1h1m-2-3h1m-1 3h1m-6-4h1m-1 1h1m-4 1h1m-2-1h1m-3 7h1m-1-3h1m-2-6h1m-1 0h1m-4 8h1m-3-6h1m-1 2h1m-3 3h1m-3-9h1m-3 10h1m-1-6h1m-3 5h1m-4-6h1m-6-2h1m-1 7h1m-3-4h1m-1 7h1m-1-3h1m-4 1h1m-7-7h1m-7 2h1m-5 7h1m-2-3h1m-2 2h1m-2-1h1m-3-3h1m-4-4h1m-2 3h1m-11 3h1m-2 1h1m-1-4h1m-9 3h1m-5 3h1m-6-8h1m-2 2h1m-4 3h1m-2-8h1m-4 1h1m-5 2h1m-10 4h1m-3-6h1m-5 4h1m-2 3h1m-1-3h1m-2 5h1m-6-6h1m-1-2h1m-2 4h1m-2-6h1m-3 7h1m-3 1h1m-9-7h1m-2 4h1m-2 5h1m-2-7h1m-3 4h1m-1-3h1m-2 3h1m-2 1h1m-2 0h1m-4-1h1m-1 0h1m-2 4h1m-2-10h1m-3 9h1m-6-9h1m-3 9h1m-2-3h1m-8-1h1m-1 0h1m-4-4h1m-3 2h1m-3 5h1m-2 1h1m-1-8h1m-2 0h1m-13 9h1m-2-8h1m-1 7h1m-5 1h1m-7 0h1m-5-8h1m-4 8h1m-2-9h1m-1 5h1m-2-1h1m-3 5h1m-1-2h1m-3-2h1m-2 1h1m-3 4h1m-1-12h1m-4 9h1m-3 0h1m-7 1h1m-2 2h1m-3-3h1m-2 0h1m-4-9h1m-2 1h1m-4 1h1m-5 2h1m-15 3h1m-15-1h1m-4 7h1m9 8h1m10-6h1m9 2h1m2-2h1m-1 0h1m7 8h1m1-3h1m9-4h1m3 4h1m-1 2h1m0 1h1m9-5h1m0 2h1m0 1h1m-1-3h1m3 0h1m-1 3h1m0 2h1m4-6h1m0-2h1m0 2h1m2-2h1m-1-3h1m8 6h1m-1-2h1m-1 7h1m0-5h1m8-5h1m2 8h1m-1 0h1m6-6h1m2-1h1m1 5h1m5 1h1m7-1h1m0-5h1m2 2h1m3 4h1m5-3h1m2-4h1m0 1h1m2 7h1m0-6h1m4 2h1m0 5h1m2-3h1m0 3h1m-1-8h1m4 6h1m2 3h1m-1-2h1m0-6h1m1 2h1m3 0h1m-1-2h1m7-1h1m1 0h1m0-2h1m0 6h1m0-1h1m0-2h1m-1-2h1m3 3h1m0 3h1m1 4h1m0-11h1m4 8h1m1-2h1m1 2h1m1-1h1m1 1h1m13 1h1m2 0h1m0-1h1m3 1h1m2-6h1m0-1h1m6 10h1m-1-1h1m2-2h1m-1-1h1m1 3h1m1-4h1m-1-2h1m6 5h1m3-7h1m0 6h1m1-2h1m0 3h1m5-3h1m0 3h1m1 0h1m3 2h1m2-11h1m4 8h1m4 2h1m-1-1h1m2-8h1m0 5h1m3-3h1m2 7h1m2-4h1m3-4h1m-1 1h1m0 8h1m-1 10h1m-5 1h1m-3-11h1m-3 11h1m-5-9h1m-3 8h1m-4-8h1m-2 9h1m-1-6h1m-1 6h1m-7 0h1m-1-9h1m-15-1h1m-2 10h1m-1-8h1m-2 0h1m-4 2h1m-2 6h1m-2-2h1m-1-8h1m-5 7h1m-2-4h1m-4 5h1m-11 0h1m-2-4h1m-4-3h1m-2 6h1m-2 0h1m-8-7h1m-3 3h1m-7 3h1m-2 0h1m-7-7h1m-2 4h1m-3 2h1m-8-4h1m-3 9h1m-2-8h1m-4-2h1m-2 9h1m-2-6h1m-4-1h1m-3 6h1m-6-6h1m-2 9h1m-1-8h1m-2 2h1m-3 1h1m-1-2h1m-5 5h1m-2-9h1m-2 8h1m-2-4h1m-2 6h1m-2-10h1m-1 10h1m-2-4h1m-3-6h1m-2 2h1m-2 6h1m-2 3h1m-5-9h1m-2 8h1m-4 0h1m-2 0h1m-5-2h1m-4-6h1m-2 5h1m-1-2h1m-4-3h1m-1 3h1m-2 0h1m-3 0h1m-2 0h1m-3-4h1m-3-1h1m-1 9h1m-2-6h1m-2 5h1m-4-4h1m-2 5h1m-4-2h1m-2-4h1m-3 7h1m-4-5h1m-4 0h1m-2-6h1m-2 10h1m-1-7h1m-2 8h1m-2-7h1m-2-1h1m-4 6h1m-1-1h1m-2-3h1m-1 2h1m-6-7h1m-2 10h1m-1-5h1m-1 6h1m-2 0h1m-3-7h1m-1-3h1m-3 7h1m-1-2h1m-1 2h1m-4-8h1m-4 1h1m-3 6h1m-3 0h1m-1-5h1m-10 3h1m-3-3h1m-3 5h1m-3-1h1m-3 4h1m-2-6h1m-2 2h1m-2 3h1m-1 1h1m-7 0h1m-6-6h1m-2 1h1m-5-2h1m-6 4h1m-6 5h1m-4-10h1m-4 7h1m-4-6h1m-4 7h1m-12-3h1m-16-3h1m-16 0h1m-10 4h1m9 11h1m14 0h1m5-6h1m1 5h1m22-2h1m1-3h1m4 5h1m1-3h1m3-1h1m-1 8h1m5-3h1m4-7h1m-1 4h1m2 0h1m-1 8h1m-1-2h1m3 0h1m2-8h1m0 3h1m0 4h1m-1-7h1m-1 7h1m0 2h1m-1-11h1m1 11h1m0 0h1m9-8h1m6 5h1m0 0h1m2-3h1m2-5h1m-1 12h1m0-1h1m-1-2h1m0 0h1m1 2h1m-1-2h1m-1-1h1m1-8h1m0 12h1m-1-8h1m-1-4h1m0 8h1m0-3h1m-1-3h1m2 1h1m-1 8h1m0-2h1m0-4h1m-1 4h1m1-6h1m-1 0h1m0 7h1m2-5h1m4 3h1m-1-6h1m-1 7h1m1-6h1m-1 4h1m-1-3h1m2 2h1m0 5h1m0-4h1m-1-5h1m1 1h1m0 2h1m0 4h1m-1-3h1m0-2h1m0 6h1m0-7h1m-1 5h1m0 2h1m0-2h1m-1-7h1m-1 10h1m4-1h1m-1-9h1m1 9h1m-1-5h1m1 2h1m-1 5h1m0-1h1m-1-10h1m3 7h1m0-5h1m5 1h1m0 4h1m0-1h1m1-2h1m0 2h1m-1 0h1m0-7h1m0 3h1m3 2h1m1-4h1m2 1h1m1 3h1m1 5h1m-1-3h1m1-2h1m-1-4h1m0 7h1m0 4h1m-1-10h1m0 4h1m0 3h1m0-9h1m0 0h1m0 7h1m4 0h1m6-3h1m1 4h1m4-2h1m-1 5h1m2 0h1m-1-5h1m0-1h1m2 0h1m0 1h1m5 1h1m4-4h1m5 2h1m7 0h1m12 3h1m4-4h1m4 3h1m1 0h1m3 2h1m0-4h1m1 4h1m1 1h1m2-10h1m0 10h1m0-1h1m4-1h1m6-3h1m0 1h1m2-6h1m3 12h1m0-2h1m1 0h1m1-9h1m-1 5h1m6 8h1m-7 2h1m-4 7h1m-2-7h1m-2 3h1m-8 1h1m-6 1h1m-2 0h1m-1-6h1m-3-2h1m-4 7h1m-1-5h1m-2 1h1m-3 7h1m-1-2h1m-6-2h1m-10-6h1m-10 9h1m-2 1h1m-8 1h1m-4-10h1m-4 6h1m-2-6h1m-1 8h1m-4-3h1m-4 5h1m-3-11h1m-6 8h1m-11 3h1m-5-3h1m-3-4h1m-3-3h1m-4 5h1m-1-1h1m-1-4h1m-2 3h1m-3 6h1m-1-3h1m-2-7h1m-1 0h1m-4 0h1m-1 5h1m-2 2h1m-3-6h1m-1 4h1m-2 2h1m-1-8h1m-6 12h1m-2-7h1m-2-2h1m-1 9h1m-2-7h1m-1-1h1m-3-2h1m-2 7h1m-3-2h1m-1-2h1m-1-2h1m-1-1h1m-2 6h1m-4-7h1m-1 10h1m-1-2h1m-3-7h1m-1-2h1m-1 8h1m-1 0h1m-3-7h1m-1 0h1m-2 0h1m-2 11h1m-1-7h1m-3 6h1m-3-6h1m-2 1h1m-1 0h1m-3-3h1m-2 2h1m-1 5h1m-2-5h1m-1 2h1m-3 4h1m-2-11h1m-2 5h1m-4-5h1m-2 4h1m-1 0h1m-2-1h1m-3 1h1m-1 6h1m-3-7h1m-1 9h1m-3-8h1m-1 7h1m-1-2h1m-2-2h1m-4-6h1m-4 1h1m-2 4h1m-1-6h1m-3 0h1m-2 11h1m-1-6h1m-1 2h1m-3 4h1m-1-4h1m-3 2h1m-1-5h1m-3 5h1m-2-5h1m-2 4h1m-1-6h1m-2 0h1m-1 8h1m-4-4h1m-2-6h1m-2 1h1m-1 11h1m-2-1h1m-2 0h1m-3-9h1m-2 10h1m-1-9h1m-4 5h1m-2 3h1m-2-3h1m-3-2h1m-4-5h1m-1 7h1m-2 1h1m-4 0h1m-2 0h1m-3 3h1m-1-10h1m-2 4h1m-1 0h1m-1-6h1m-4 10h1m-1-7h1m-3 6h1m-2-5h1m-2-3h1m-2 6h1m-4-5h1m-6 8h1m-3-4h1m-2 6h1m-1-7h1m-3 0h1m-4 5h1m-2-6h1m-3-3h1m-3 7h1m-1-7h1m-6 9h1m-3-5h1m-3-5h1m-2 12h1m-1-6h1m-3 3h1m-5-5h1m-25-3h1m-2 3h1m-12-2h1m-27 5h1m-7 2h1m-24-1h1m-9-4h1m-1 4h1m1 7h1m15 1h1m8-1h1m28 5h1m14 2h1m5 0h1m10-5h1m14-2h1m4 3h1m8-1h1m4 4h1m3 1h1m1-5h1m1-3h1m1 5h1m4-2h1m5 5h1m0 1h1m-1-10h1m1 6h1m2-1h1m2 0h1m0 0h1m1-5h1m1 6h1m2-4h1m0 7h1m-1-9h1m0 1h1m-1 1h1m5 7h1m1-3h1m-1-6h1m2 9h1m2-10h1m-1 10h1m2-7h1m4 5h1m0 1h1m-1-8h1m1 7h1m1 1h1m-1 3h1m-1-6h1m0 5h1m2-2h1m0-3h1m0-1h1m1 4h1m0-4h1m0 2h1m0-7h1m0 2h1m3 9h1m0-4h1m-1 4h1m2-1h1m-1-10h1m0 9h1m-1-4h1m0 3h1m1 0h1m-1 2h1m1-1h1m-1 0h1m0 0h1m2 3h1m0-10h1m1-1h1m1 0h1m0 10h1m1-7h1m0 3h1m0 5h1m0-8h1m0-1h1m1 7h1m0-2h1m-1-1h1m0 3h1m0-6h1m-1-1h1m-1-2h1m0 6h1m-1-4h1m-1-3h1m1 6h1m-1 2h1m0 1h1m-1-8h1m1 10h1m-1-8h1m0 3h1m0-1h1m0 2h1m2 2h1m-1-1h1m0-1h1m-1 0h1m1 3h1m0-7h1m1 0h1m0-2h1m3 2h1m0 8h1m-1-4h1m0-3h1m1 8h1m4-3h1m0-7h1m0-1h1m-1 4h1m2 4h1m2-3h1m1-2h1m0 7h1m0-2h1m10-1h1m2-5h1m3 8h1m1-4h1m0-3h1m-1 7h1m11-9h1m3 4h1m2-5h1m0-1h1m2 6h1m4-3h1m2 8h1m0-5h1m0 4h1m6-4h1m1-4h1m5 3h1m2-3h1m0 6h1m2-4h1m7 17h1m-8-7h1m-4 2h1m-6 3h1m-4 4h1m-2-6h1m-3-1h1m-2 1h1m-2 5h1m-3-2h1m-4 1h1m-2-4h1m-6 6h1m-10-7h1m-1 6h1m-7-3h1m-1 0h1m-1-3h1m-2 6h1m-3 1h1m-2 0h1m-8-1h1m-8-5h1m-3 2h1m-1 0h1m-2 5h1m-1-3h1m-6 2h1m-2-4h1m-3-4h1m-6 5h1m-5-7h1m-6 1h1m-7 9h1m-4-7h1m-2 0h1m-4-2h1m-4 4h1m-2-2h1m-2-1h1m-2-3h1m-1 3h1m-3 7h1m-1-7h1m-2 5h1m-2-6h1m-3 7h1m-2-2h1m-1 4h1m-2-10h1m-1 9h1m-3-10h1m-1 5h1m-4 4h1m-3 2h1m-1 0h1m-4-3h1m-1-5h1m-1 5h1m-2-6h1m-3 1h1m-1 9h1m-2-9h1m-1 1h1m-5 8h1m-1-1h1m-1-3h1m-3-2h1m-3-4h1m-1 8h1m-4 2h1m-1-5h1m-3-4h1m-2-3h1m-3 11h1m-1-2h1m-1 2h1m-5-3h1m-4 0h1m-2-7h1m-2 11h1m-3-11h1m-1 6h1m-1-7h1m-2 3h1m-5 0h1m-3-1h1m-1 4h1m-2-2h1m-2-3h1m-5 1h1m-3 2h1m-1 3h1m-2-5h1m-2 4h1m-1 0h1m-2-3h1m-2-2h1m-3 10h1m-2-2h1m-2-8h1m-2-1h1m-2 5h1m-2 2h1m-6 4h1m-2-1h1m-1-7h1m-1-2h1m-4 9h1m-1-2h1m-2-3h1m-1 5h1m-2-5h1m-1 5h1m-2-1h1m-2-9h1m-1 4h1m-1-4h1m-2 9h1m-2 2h1m-1-3h1m-1-6h1m-2 6h1m-2-1h1m-1 3h1m-1 1h1m-2-6h1m-3 4h1m-5-2h1m-2-3h1m-3 0h1m-2 7h1m-5-10h1m-1 1h1m-2 3h1m-2 5h1m-3-10h1m-1 6h1m-4 6h1m-6-8h1m-14 1h1m-7 6h1m-2-8h1m-2 7h1m-29-7h1m-13 1h1m-1 5h1m-18 0h1m-8-8h1m-12 5h1m-17-2h1m-5 2h1m-19-3h1m-5 0h1m-35 8h1m40 2h1m7 3h1m8 5h1m18-2h1m22 3h1m33 1h1m2-5h1m6 4h1m1-2h1m1-5h1m0 0h1m1 3h1m1 5h1m2-7h1m-1 4h1m4 2h1m0-7h1m1 7h1m-1-6h1m1 2h1m1-2h1m-1 6h1m3 0h1m1-1h1m1-3h1m0 0h1m2 0h1m5 4h1m-1-9h1m-1 5h1m0 1h1m0 2h1m-1-7h1m0 8h1m5-10h1m-1 2h1m2-2h1m-1 5h1m0 0h1m0 0h1m1 4h1m1-8h1m0 1h1m3 7h1m-1-6h1m0 8h1m2-1h1m1-2h1m0 2h1m-1-10h1m0 5h1m0-3h1m0-2h1m0 6h1m0-6h1m0 6h1m0 5h1m0-4h1m2 2h1m-1-2h1m0 1h1m-1 4h1m4-1h1m1-6h1m-1 7h1m-1-3h1m0 1h1m0-8h1m-1 5h1m2 2h1m0 2h1m0 0h1m-1-3h1m3-3h1m0 7h1m0-3h1m3-1h1m-1-3h1m1 0h1m1 1h1m0-2h1m-1 4h1m-1-7h1m0 0h1m0 10h1m0-2h1m0-4h1m1 4h1m-1 1h1m1-10h1m1 1h1m0 0h1m0 8h1m-1-6h1m5 5h1m-1-5h1m1 9h1m-1-5h1m1-6h1m-1 11h1m-1-12h1m0 11h1m-1-8h1m1 2h1m-1-1h1m2 3h1m0-1h1m0 5h1m-1-11h1m2 6h1m-1 2h1m1-7h1m5 7h1m-1-6h1m-1 4h1m0-5h1m1 10h1m0-10h1m0 0h1m-1-1h1m-1 9h1m1 1h1m-1-2h1m0-3h1m0-5h1m0 4h1m0 1h1m0 3h1m2 2h1m1-9h1m-1 11h1m1-10h1m1-1h1m0 2h1m1 2h1m2 4h1m-1-6h1m0 5h1m5-7h1m0 4h1m7-2h1m2-1h1m4 1h1m2-3h1m-1 9h1m2-5h1m1-1h1m2 6h1m-1-2h1m1 1h1m2-2h1m4-3h1m2-3h1m-1 0h1m0 8h1m1-4h1m0 6h1m-1-1h1m3-6h1m2 6h1m8-1h1m0 5h1m-12 2h1m-2 3h1m-15 4h1m-2-3h1m-2 3h1m-4-6h1m-1 2h1m-3 5h1m-1-8h1m-4 9h1m-2-6h1m-5-4h1m-1 6h1m-2-4h1m-3-1h1m-2 8h1m-4-5h1m-2-2h1m-1-1h1m-3-2h1m-4 3h1m-1-3h1m-4 3h1m-1 0h1m-4 8h1m-3-1h1m-3-9h1m-2 3h1m-4 2h1m-2-6h1m-4 9h1m-2-5h1m-1 3h1m-2 1h1m-3 1h1m-4-1h1m-3-4h1m-2 6h1m-1-6h1m-2 5h1m-1-8h1m-3 1h1m-1 1h1m-3 0h1m-5 2h1m-4 1h1m-2-7h1m-1 2h1m-2 8h1m-3-4h1m-2-1h1m-1-2h1m-3 6h1m-6-3h1m-1 4h1m-2 1h1m-2-9h1m-2 4h1m-1-4h1m-2-2h1m-1 8h1m-2 0h1m-2-5h1m-1 6h1m-2-6h1m-1 7h1m-4 0h1m-2 0h1m-3-5h1m-3-3h1m-1-1h1m-1 0h1m-1 1h1m-1 3h1m-2-4h1m-2 3h1m-2-1h1m-3 6h1m-2-6h1m-1 2h1m-2 6h1m-4-4h1m-6 0h1m-1-1h1m-2-5h1m-3 7h1m-2 3h1m-1 0h1m-1-9h1m-2 9h1m-2-4h1m-2-5h1m-1 1h1m-5 6h1m-1-1h1m-2-7h1m-1 0h1m-1 3h1m-3-4h1m-1 7h1m-2 5h1m-1-2h1m-2-4h1m-2-1h1m-6-1h1m-1 4h1m-2-3h1m-3 2h1m-6 4h1m-2-4h1m-5-6h1m-2 0h1m-2 4h1m-1-1h1m-2 1h1m-1 6h1m-2-8h1m-2 2h1m-2 1h1m-2-3h1m-5-3h1m-2 1h1m-2 8h1m-2-5h1m-2 6h1m-1 0h1m-2 2h1m-2-11h1m-8 6h1m-4-2h1m-2 7h1m-6-9h1m-2 0h1m-1 5h1m-2 1h1m-7-1h1m-2 0h1m-5-6h1m-7 0h1m-1 9h1m-6-6h1m-3-1h1m-4 8h1m-1-9h1m-1 1h1m-2 5h1m-4-7h1m-7 2h1m-9-4h1m-43 12h1m-8 0h1m-3-3h1m-26-1h1m-3-1h1m-27-4h1m-5 7h1m-19-9h1m-6 10h1m-3 6h1m72-1h1m24 7h1m4-11h1m25 3h1m-1 8h1m24-2h1m2-5h1m2-3h1m1 1h1m-1 4h1m0 1h1m-1 5h1m2-7h1m3-3h1m-1 6h1m2 2h1m1 0h1m7-9h1m0 11h1m1-9h1m-1 5h1m0 1h1m0 1h1m1 0h1m-1-1h1m0 2h1m0-8h1m0 9h1m1-8h1m3 2h1m0 5h1m0-11h1m3 10h1m1-3h1m1 0h1m0-2h1m0 5h1m0-3h1m3 1h1m-1-5h1m-1 3h1m3-5h1m-1 5h1m0-1h1m0-3h1m0-1h1m0 1h1m-1-2h1m0 1h1m-1 8h1m0-8h1m0 10h1m-1 1h1m-1-8h1m1 2h1m0-4h1m-1 7h1m1-7h1m-1 8h1m0-8h1m0-1h1m0 4h1m0 5h1m0-2h1m0-8h1m0 1h1m-1 7h1m0-1h1m0 1h1m-1-7h1m-1 1h1m-1 5h1m2 2h1m1-7h1m-1 3h1m-1 1h1m0-6h1m-1 11h1m0-7h1m0 1h1m2 6h1m-1-1h1m0-5h1m-1-5h1m0 3h1m0-1h1m0 6h1m-1-8h1m1 1h1m0 4h1m0-4h1m0 11h1m-1 0h1m-1-11h1m1 7h1m0 2h1m1-3h1m1-6h1m-1 6h1m-1-4h1m-1 4h1m0-1h1m-1-3h1m0 2h1m2-3h1m1 3h1m1 3h1m-1 2h1m0-10h1m0 4h1m0 0h1m4 0h1m0-1h1m-1 4h1m0 1h1m-1 1h1m1-2h1m-1 1h1m-1 0h1m0 1h1m-1-7h1m1 0h1m0 3h1m-1-3h1m2 5h1m1 2h1m0-6h1m-1 6h1m1-5h1m0-1h1m0 1h1m0 5h1m2 1h1m4-7h1m2 6h1m3 1h1m0-9h1m4 8h1m-1-4h1m1 4h1m-1-8h1m-1 1h1m1 1h1m3 9h1m-1-10h1m2 0h1m0 2h1m0 3h1m0-2h1m6 2h1m2-2h1m2 5h1m2-10h1m3 4h1m0 8h1m1-2h1m0 1h1m1-5h1m0-1h1m3-2h1m2 3h1m1-4h1m3 1h1m1-3h1m-1 10h1m0 2h1m10-2h1m-7 13h1m-2-9h1m-1-1h1m-2 10h1m-9-1h1m-5-5h1m-2 1h1m-3 4h1m-1-1h1m-4 1h1m-1-6h1m-8-3h1m-2 3h1m-3 0h1m-6 2h1m-2 1h1m-6-2h1m-3 1h1m-1 3h1m-1-4h1m-4 3h1m-3 0h1m-8-1h1m-2-7h1m-12 3h1m-6 0h1m-4 4h1m-4 3h1m-1-2h1m-6-2h1m-4 5h1m-1-1h1m-2-10h1m-1 4h1m-4-3h1m-2 8h1m-3-7h1m-2 3h1m-3 5h1m-2-9h1m-1 10h1m-2-11h1m-2 3h1m-2 8h1m-2-8h1m-3 6h1m-3-3h1m-1 1h1m-4-4h1m-3 8h1m-2-2h1m-1-3h1m-2 0h1m-1-1h1m-8-4h1m-2 8h1m-1-7h1m-2-1h1m-1 3h1m-4-3h1m-1 3h1m-2 5h1m-2-7h1m-1-1h1m-2 5h1m-5-5h1m-1 9h1m-1 2h1m-2-4h1m-2-7h1m-4 3h1m-2 0h1m-2-3h1m-2 7h1m-1 2h1m-2-7h1m-2 6h1m-3-2h1m-2 0h1m-3 1h1m-1 2h1m-2 1h1m-3-2h1m-2-8h1m-1 4h1m-3 7h1m-3-2h1m-5-5h1m-4 0h1m-5 6h1m-2-1h1m-1-3h1m-2 1h1m-1-5h1m-8 8h1m-2-9h1m-2 0h1m-1 6h1m-1 2h1m-4-3h1m-2-3h1m-1 3h1m-4-1h1m-2 4h1m-1-4h1m-7 0h1m-7-5h1m-3 2h1m-2 0h1m-1 0h1m-1 5h1m-5-1h1m-2 4h1m-1-11h1m-3 1h1m-2 5h1m-1 0h1m-2 4h1m-4-1h1m-5-7h1m-1 7h1m-3 0h1m-2-1h1m-9-5h1m-1 5h1m-1 3h1m-2-4h1m-3 0h1m-25-3h1m-22-1h1m-3 8h1m-5-2h1m-19 3h1m-17-10h1m-2 5h1m-25-6h1m-18 9h1m-11-9h1m-22 1h1m-32 1h1m3 15h1m32 3h1m28-4h1m14 1h1m2 2h1m28-5h1m6-2h1m29 8h1m27-2h1m1-1h1m4-3h1m6-3h1m-1 4h1m6 8h1m-1-1h1m1-6h1m3-1h1m2 4h1m2 3h1m0-8h1m1 7h1m2-1h1m-1-8h1m2 6h1m0 2h1m0-5h1m7 3h1m-1 1h1m4 1h1m0-5h1m0-2h1m-1 0h1m0 8h1m0 1h1m0-7h1m0 1h1m0-4h1m-1 4h1m1 3h1m-1 0h1m1-5h1m0 7h1m-1-2h1m-1-1h1m2 1h1m2-1h1m-1-5h1m0 8h1m1 0h1m0 1h1m-1-10h1m0 2h1m0-3h1m-1 9h1m0 1h1m0-4h1m-1-2h1m0 7h1m5-4h1m-1 1h1m1-4h1m1-2h1m-1 0h1m1 6h1m3 1h1m0-5h1m0-2h1m0 9h1m0-6h1m0-3h1m1 9h1m-1 0h1m0-3h1m-1 0h1m-1-1h1m0-6h1m0 9h1m-1-2h1m0 0h1m0-2h1m0 0h1m0-3h1m-1 2h1m1-3h1m-1-1h1m0 4h1m0 6h1m-1-5h1m2 0h1m-1 5h1m3 1h1m0-1h1m0-3h1m1-6h1m1 0h1m-1 2h1m0-1h1m0 8h1m-1-2h1m0-6h1m1-1h1m0 2h1m-1 1h1m0 4h1m0-2h1m-1-1h1m2-3h1m1 7h1m-1-5h1m0-2h1m-1 0h1m-1 5h1m3-5h1m-1 7h1m-1-4h1m0 2h1m1-6h1m0-1h1m-1 0h1m1-1h1m-1 12h1m0-1h1m6-5h1m-1-3h1m2 3h1m8 3h1m-1-1h1m0-2h1m1-4h1m1 2h1m0 3h1m-1 3h1m4-8h1m0 9h1m0-3h1m10-1h1m0-4h1m2-3h1m4 9h1m-1-9h1m11 3h1m5 0h1m3 1h1m2 0h1m4 0h1m0 4h1m9 16h1m-7-9h1m-2 8h1m-5 0h1m-1-8h1m-1-1h1m-2 7h1m-5-8h1m-8 2h1m-1-1h1m-3-2h1m-2 9h1m-3-6h1m-2 8h1m-6-5h1m-3 5h1m-1-5h1m-4 5h1m-4-6h1m-2 0h1m-2 0h1m-4 3h1m-10 0h1m-1 0h1m-2-1h1m-1 3h1m-3-3h1m-2 1h1m-3-4h1m-2-3h1m-5 8h1m-1-2h1m-3 1h1m-4-5h1m-11 0h1m-6-1h1m-5-1h1m-3 4h1m-5-5h1m-6 1h1m-5 8h1m-2-1h1m-1-6h1m-5 4h1m-2 5h1m-1-6h1m-3-2h1m-1 1h1m-1 3h1m-4 0h1m-4-6h1m-2 5h1m-2 3h1m-3 0h1m-1-7h1m-3 2h1m-2 6h1m-1-2h1m-4-2h1m-2-2h1m-2 5h1m-2-5h1m-2 1h1m-1 2h1m-3 1h1m-2-6h1m-6 9h1m-1-4h1m-2-1h1m-3-1h1m-2-4h1m-2 6h1m-6-5h1m-3 9h1m-2-10h1m-4-1h1m-1 0h1m-2 8h1m-1-4h1m-2-1h1m-2 7h1m-4-7h1m-1-1h1m-2 7h1m-1-6h1m-2 2h1m-1 4h1m-2-8h1m-2 3h1m-3-4h1m-2 10h1m-3-3h1m-1 5h1m-2-1h1m-2-4h1m-1-4h1m-2 2h1m-1-4h1m-3 10h1m-1-11h1m-2 7h1m-1-1h1m-2-4h1m-1 5h1m-3-5h1m-2 5h1m-2 3h1m-2-10h1m-1 11h1m-3-1h1m-1 2h1m-1-5h1m-3 0h1m-1-5h1m-3-1h1m-3 2h1m-3 9h1m-2-11h1m-2 11h1m-9-1h1m-3-7h1m-3 2h1m-3 2h1m-24 1h1m-17-4h1m-14 2h1m-15 3h1m-19-10h1m-63 11h1m-12-11h1m3 23h1m21-11h1m43 3h1m5-2h1m0 4h1m20-4h1m34 4h1m18-3h1m8-1h1m0 1h1m0 6h1m0-5h1m1 1h1m0 0h1m5 4h1m1-1h1m1-2h1m-1 4h1m3 0h1m2 1h1m-1-3h1m2-1h1m2-1h1m-1 5h1m0-4h1m1-5h1m2 4h1m-1-2h1m2 2h1m5 4h1m1-3h1m0 5h1m1-11h1m-1 1h1m0 3h1m2 5h1m1-7h1m-1 3h1m0 5h1m-1-5h1m1-3h1m2 3h1m-1-3h1m0-2h1m3 11h1m1-6h1m-1-4h1m0 8h1m-1-8h1m-1 0h1m-1 10h1m3-7h1m1 7h1m-1-4h1m-1 1h1m0-3h1m0-2h1m-1 0h1m-1-2h1m1 7h1m0-7h1m-1 5h1m0-4h1m0 7h1m-1-2h1m0 5h1m-1-12h1m-1 9h1m0-3h1m0 3h1m-1-7h1m0 5h1m1-5h1m1 8h1m0-3h1m-1 0h1m-1-6h1m3 6h1m0 1h1m0-2h1m0 6h1m0-3h1m-1-1h1m-1 3h1m-1-1h1m0 1h1m-1-3h1m2 2h1m7-1h1m0 1h1m5 1h1m-1-2h1m0 1h1m2-1h1m1-5h1m1-3h1m-1 9h1m6-9h1m1 2h1m5 2h1m-1-3h1m1-2h1m1 3h1m6 8h1m3 0h1m2-10h1m1 7h1m0-5h1m1 3h1m1-4h1m3 9h1m2 1h1m2-5h1m2-1h1m0 0h1m0-5h1m0 9h1m2 0h1m-1-8h1m6 7h1m2 1h1m0-7h1m-1 7h1m1-1h1m-1-1h1m5-3h1m-7 8h1m-21 5h1m-8 3h1m-2-5h1m-1-4h1m-1 8h1m-4-6h1m-2 0h1m-3 1h1m-7 0h1m-2 0h1m-4 2h1m-3 6h1m-3-6h1m-1-4h1m-1 3h1m-5 4h1m-2 0h1m-2 1h1m-4-7h1m-1 7h1m-4-8h1m-2 9h1m-4-6h1m-1 5h1m-4-9h1m-2 2h1m-2 9h1m-2-7h1m-3-3h1m-2 6h1m-4 4h1m-5-7h1m-2 2h1m-3 6h1m-5-2h1m-2 2h1m-3-3h1m-2 2h1m-5-1h1m-2-2h1m-2-3h1m-4-1h1m-3 4h1m-2-3h1m-3 5h1m-3-4h1m-1 0h1m-2 5h1m-1 0h1m-1-1h1m-5-9h1m-2 7h1m-1-8h1m-2 1h1m-16 1h1m-2 2h1m-8 3h1m-2-4h1m-2 2h1m-8-4h1m-5 6h1m-2 4h1m-6-2h1m-2-8h1m-1 5h1m-3-1h1m-8 2h1m-2-4h1m-2-1h1m-7 8h1m-3-2h1m-1 4h1m-3-9h1m-1-3h1m-3 8h1m-6-1h1m-7-2h1m-4 0h1m-6-2h1m-59 1h1m-23 0h1m-13-2h1m-39-1h1m-9 4h1m-7 3h1m-96 3h1m99 4h1m7 6h1m32-6h1m55-1h1m68-1h1m0 2h1m7 1h1m1 4h1m3-6h1m3 5h1m0-6h1m0 0h1m2 4h1m0-4h1m3 6h1m0-5h1m-1 3h1m-1 0h1m0-4h1m3 8h1m2-9h1m2 4h1m1 6h1m0-2h1m0 1h1m1-5h1m2 3h1m6-4h1m0-2h1m3 3h1m0-2h1m1-1h1m-1 6h1m0 4h1m1-5h1m1 1h1m1-3h1m5 1h1m3-4h1m0 4h1m0 3h1m0-7h1m-1 4h1m0 1h1m2-4h1m0 1h1m0-2h1m0 6h1m1-1h1m1-1h1m8 0h1m0-4h1m2 0h1m4 3h1m0 7h1m-1-8h1m1 0h1m0 1h1m3 0h1m-1-2h1m9 1h1m2-1h1m-1-1h1m-1 2h1m0 3h1m-1 3h1m4 0h1m0-1h1m0-1h1m1 3h1m0-7h1m-1 1h1m5 3h1m-1-1h1m-1-3h1m1 4h1m0 3h1m2-2h1m7-1h1m3 1h1m3-3h1m19 10h1m-11 2h1m-6-5h1m-17 0h1m-4 1h1m-17 3h1m-1 1h1m-8-2h1m-2 4h1m-3 3h1m-5-5h1m-2-3h1m-1 8h1m-3-3h1m-2-6h1m-1 6h1m-3 3h1m-9 2h1m-5-7h1m-4-5h1m-2 9h1m-2-7h1m-3 2h1m-6 3h1m-6-5h1m-8 4h1m-3-6h1m-5 1h1m-8 6h1m-5 4h1m-1-3h1m-6-2h1m-4 0h1m-4-4h1m-1 1h1m-5 6h1m-6-4h1m-10 0h1m-1 5h1m-6 1h1m-3-10h1m-2 11h1m-4-6h1m-9-4h1m-1 2h1m-7-2h1m-10 2h1m-15 6h1m-14-1h1m-14-3h1m-3-4h1m-2 5h1m-12-4h1m-1 1h1m-141 0h1m-125 3h1m107 13h1m147 1h1m29-5h1m10 6h1m19-8h1m6-1h1m3 7h1m11-6h1m10 6h1m9-5h1m1 0h1m1 4h1m0-6h1m2 5h1m4 3h1m25-5h1m0-2h1m4 1h1m9 6h1m8 1h1m25-8h1m9 3h1m9-5h1m1 3h1m2 1h1m14-4h1m17 18h1m-5 0h1m-5 4h1m-5-4h1m-1 2h1m-7-1h1m-3-6h1m-18-1h1m-3 10h1m-17 1h1m-5-5h1m-16 2h1m-7 1h1m-14-9h1m-2 2h1m-5 0h1m-8 3h1m-6-1h1m-7-4h1m-15 9h1m-22-5h1m-3-1h1m-10 7h1m-2-4h1m-16-1h1m-9 5h1m-30-8h1m-5-1h1m-24 1h1m-4 4h1m-41 4h1m-15-7h1m-27 1h1m-55 0h1m-47 1h1m-52 18h1m9-7h1m97-1h1m127 1h1m16-2h1m17 3h1m8 6h1m2-10h1m2 2h1m8 8h1m3-4h1m4 4h1m1-10h1m7 2h1m0 8h1m3-9h1m11 9h1m10-3h1m2-5h1m0 7h1m12-1h1m-1 1h1m25-7h1m2 3h1m66 3h1m2-3h1m1-5h1m8 1h1m8 9h1m4 8h1m-15-5h1m-15-1h1m-6 2h1m-5 4h1m-14 1h1m-11 4h1m-11-4h1m-2-5h1m-2 3h1m-9 0h1m-5 3h1m-20 1h1m-17-7h1m-20 7h1m-3 1h1m-8 0h1m-12-7h1m-5-2h1m-21 8h1m-7-9h1m-2 9h1m-6-1h1m-13 3h1m-10-2h1m-4 0h1m-9-9h1m-15 5h1m-101 5h1m-52-9h1m-21 6h1m-55-5h1m-38 17h1m108 2h1m90-5h1m72-2h1m2-1h1m-1 5h1m18 1h1m9-7h1m11 0h1m39 1h1m10 9h1m2-5h1m0 0h1m1-6h1m13 5h1m0 5h1m5-4h1m4 2h1m1-4h1m3 4h1m7-6h1m27 9h1m5-10h1m19 9h1m0-7h1m4 0h1m12 9h1m17-2h1m8 1h1m-9 3h1m-17 7h1m-3 3h1m-7-3h1m-7 1h1m-14 2h1m-1-8h1m-9 2h1m-6-2h1m-1 8h1m-2-6h1m-17-2h1m-8 3h1m-5 4h1m-9-5h1m-20 4h1m-2-2h1m-3-8h1m-10 1h1m-8 3h1m-4-3h1m-5 0h1m-3 8h1m-2-3h1m-4 4h1m-5-8h1m-10 9h1m-1 0h1m-48-8h1m-2 4h1m-5-4h1m-2 6h1m-2-8h1m-7 4h1m-22 0h1m-2-3h1m-94 2h1m-40 4h1m-14-4h1m-45-3h1m-26 1h1m-5 3h1m-12 4h1m-50-4h1m-11-4h1m111 16h1m18 1h1m19 2h1m10 4h1m17-7h1m2 4h1m123-3h1m4-1h1m21 5h1m23-9h1m4 1h1m11 1h1m2-2h1m24 10h1m10-11h1m0 7h1m22 1h1m3-7h1m-1 6h1m5 3h1m20-8h1m2-2h1m0 11h1m0-5h1m1 4h1m1 1h1m2-10h1m22 7h1m5 0h1m28-4h1m-30 15h1m-11 4h1m-4 1h1m-6 0h1m-2-1h1m-15-4h1m-24 3h1m-17-6h1m-14 8h1m-7-9h1m-10 0h1m-5 0h1m-1-2h1m-13 2h1m-6-1h1m-11 8h1m-14-9h1m-4 5h1m-14 1h1m-9-1h1m-25-5h1m-5 6h1m-4 3h1m-19-2h1m-160-3h1m-24 3h1m-47-4h1m-6 6h1m-37 9h1m84-1h1m88 1h1m3-5h1m100 6h1m47-8h1m20 10h1m46-1h1m13 2h1m3-2h1m2-3h1m-1 4h1m2-9h1m4 5h1m4-3h1m3 8h1m13-7h1m3-3h1m2 10h1m11-11h1m6 2h1m3 3h1m-10 10h1m-4 1h1m-6 8h1m-6-11h1m-17 2h1m-7 8h1m-3-9h1m-16 6h1m-15-3h1m-8 1h1m-8 2h1m-19-7h1m-5 7h1m-2-4h1m-4 6h1m-3-10h1m-3 12h1m-4-10h1m-4 2h1m-4-1h1m-2 0h1m-13 7h1m-10-6h1m-4-4h1m-99 3h1m-24-1h1m-11 5h1m-60 3h1m-72-6h1m-15-1h1m-24 0h1m-26-3h1m17 14h1m101 5h1m33 2h1m46-7h1m11 8h1m8-3h1m37-3h1m2 5h1m11-1h1m64-3h1m2 7h1m0-6h1m12 0h1m9-5h1m14 2h1m1 3h1m-1-3h1m3 9h1m0-6h1m7 0h1m13 5h1m2 0h1m26-5h1m-1-2h1m0 7h1m2-5h1m17 4h1m2-8h1m19 20h1m-4 1h1m-12-4h1m-7 2h1m-33-5h1m-1 5h1m-9-1h1m-17-5h1m-13 4h1m-16 2h1m-3 2h1m-9-1h1m-6-8h1m-2 2h1m-6 7h1m-9-4h1m-54-1h1m-8 2h1m-132 3h1m-19 0h1m-43-3h1m-29 2h1m-16-7h1m78 12h1m25 9h1m213-8h1m5-2h1m10 7h1m-1 2h1m1-8h1m9-1h1m1 1h1m-1 7h1m12-7h1m13 5h1m16-5h1m3 3h1m3 3h1m3-2h1m3 12h1m-16-6h1m-6 1h1m-6 8h1m-11-7h1m-197 6h1m-2-6h1m-64 6h1m-31 7h1m141-3h1" stroke="#9649a3"/>
<path d="M1098 130h1m2-2h1m-13 10h1m-30-1h1m-41 13h1m209 9h1m-85 0h1m-41 9h1m-85-8h1m-12 18h1m25 1h1m168-6h1m22 7h1m-273 18h1m36 1h1m54 5h1m147-7h1m-106 20h1m58 8h1m-111 7h1m-116 1h1m78 11h1m85 5h1m169 5h1m-63 5h1m-109 6h1m88 19h1m-37 2h1m-13-9h1m-226 4h1m177 15h1m95-6h1m57 18h1m-110-6h1m7 20h1m12-10h1m40 17h1m-258-2h1m128 19h1m24 2h1m114-3h1m3-3h1m55 0h1m4 15h1m-112-8h1m-186 1h1m291 33h1m-83-3h1m-244-7h1m314 18h1m11 1h1m-59 7h1m-277 2h1m-30 19h1m298-9h1m-25 19h1m46 21h1m-136 0h1m0 9h1m66 4h1m74-2h1m35-5h1m7 9h1m1 11h1m-3 2h1m-2 0h1m-14-6h1m-7 2h1m-6-2h1m-336 16h1m44 0h1m223 3h1m51-2h1m38-3h1m13-2h1m12 6h1m14-2h1m-12 6h1m-53 4h1m-11-3h1m-21 1h1m18 9h1m9 9h1m3-2h1m50-8h1m-29 15h1m-13 7h1m-7-7h1m-17 4h1m-3-3h1m-145 13h1m180 7h1m-7 0h1m-39 6h1m-127 3h1m149 4h1m-48 19h1m-166 8h1" stroke="#d81e8e"/>
<path d="M1814 143h1m-183 35h1m107-8h1m-66 12h1m-86 22h1m-63 37h1m243 18h1m-81-2h1m-134 3h1m199 13h1m-262 7h1m64 18h1m164-1h1m-230 7h1m-33 15h1m337 14h1m-270 0h1m76 38h1m247-2h1m-257 24h1m175-8h1m126 14h1m-360 9h1m-13-3h1m-55-5h1m-8-2h1m120 22h1m141-1h1m145-2h1m37-8h1m-180 14h1m-32-3h1m-26 2h1m-97 9h1m-20-4h1m-24-5h1m-43 1h1m-14 8h1m-13-1h1m-37-3h1m-38 14h1m39-3h1m9 3h1m99 1h1m265 11h1m-13-7h1m-146-2h1m-23 11h1m-2 0h1m-12-5h1m-52-4h1m-119 2h1m-55-3h1m122 20h1m73-6h1m92 0h1m22 8h1m78-6h1m-122 16h1m-38-7h1m-53 9h1m-4-1h1m-45-9h1m-17 1h1m-87 21h1m38 1h1m83-9h1m23 4h1m89 1h1m89 10h1m-109-3h1m-9 6h1m-7-8h1m-25 4h1m-18 7h1m-3-1h1m-12 1h1m-85-2h1m-2-9h1m-7 7h1m-39 2h1m-2-1h1m-41-1h1m-9 4h1m55 4h1m138 5h1m15 3h1m29-2h1m10-3h1m7-1h1m-1 6h1m175 7h1m-141-6h1m-5 10h1m-11 0h1m-4-2h1m-10-4h1m-11 3h1m-2 0h1m-3-1h1m-20 4h1m-2-1h1m-3-3h1m-2 1h1m-3-2h1m-3-5h1m-4 2h1m-3 8h1m-11-1h1m-16-7h1m-84 9h1m-11-9h1m-84 12h1m22 7h1m0-2h1m4-3h1m35 0h1m57-2h1m38 8h1m1-2h1m16-2h1m0 5h1m5-9h1m10 6h1m6 0h1m3-1h1m5 0h1m1-1h1m6-6h1m2 0h1m3 3h1m1-1h1m-1 8h1m0-5h1m4 2h1m-1-3h1m1-1h1m5 2h1m-1 6h1m12-10h1m1 1h1m4 3h1m9 3h1m2 0h1m14 13h1m-12-2h1m-1 1h1m-2 0h1m-6-7h1m-7 4h1m-5 5h1m-5-7h1m-2-3h1m-3 7h1m-2 2h1m-4-7h1m-3 8h1m-3-6h1m-5-3h1m-4 10h1m-5-1h1m-4-4h1m-3-6h1m-2-1h1m-7 9h1m-7 3h1m-2-6h1m-2-2h1m-4 6h1m-3-8h1m-8 2h1m-5-2h1m-1 9h1m-1-5h1m-1-2h1m-2 2h1m-3-1h1m-7 5h1m-2 1h1m-2 1h1m-4-1h1m-4-9h1m-5 0h1m-1 5h1m-4-1h1m-1-1h1m-2-4h1m-1 3h1m-24 7h1m-79-1h1m-3 1h1m-20-5h1m-4 4h1m-18 1h1m-21-9h1m6 14h1m84-4h1m29 12h1m7-3h1m12-1h1m4-4h1m0 3h1m0-6h1m0 2h1m2-3h1m0 0h1m2 1h1m4 4h1m4 3h1m-1-1h1m2 2h1m1 0h1m0-2h1m2-6h1m11 6h1m-1 3h1m0-6h1m2 2h1m0 6h1m1-12h1m-1 1h1m0 5h1m-1 0h1m4 0h1m2-5h1m0 7h1m1-1h1m3-3h1m4-1h1m-1 6h1m2-5h1m-1 7h1m1-1h1m2-4h1m0-3h1m0 4h1m2 1h1m0 4h1m-1-4h1m2 1h1m8-2h1m-1 4h1m1-9h1m-1 8h1m0-5h1m2-2h1m3 4h1m0-1h1m2-3h1m-1 3h1m2 0h1m0 3h1m0-5h1m2-2h1m-1 9h1m9-6h1m8 7h1m94 7h1m-103-3h1m-8-1h1m-1-1h1m-2 6h1m-2-1h1m-2 0h1m-3 4h1m-10-2h1m-5-6h1m-5 4h1m-2-1h1m-2 0h1m-1 3h1m-4-3h1m-2 3h1m-4 0h1m-1-4h1m-2-2h1m-2-2h1m-11 8h1m-2-6h1m-1 6h1m-2 3h1m-3-2h1m-2-8h1m-2 8h1m-3-4h1m-1 2h1m-3-4h1m-4-1h1m-1-2h1m-2 1h1m-2 3h1m-1-2h1m-2-1h1m-4 5h1m-6-5h1m-3 5h1m-1 3h1m-7 0h1m-6-10h1m-1 5h1m-3-1h1m-2 7h1m-1-7h1m-1 2h1m-2 1h1m-3 2h1m-2-5h1m-2 2h1m-3-1h1m-5 7h1m-4-2h1m-1-7h1m-3 5h1m-2-6h1m-1 9h1m-8-6h1m-5 5h1m-1-9h1m-2 9h1m-1-2h1m-2 3h1m-5 0h1m-1-2h1m-3-1h1m-1-5h1m-5 5h1m-4-4h1m-1 2h1m-3-1h1m-56 2h1m-55 6h1m8 5h1m25 2h1m76-6h1m3 5h1m0-1h1m1-2h1m2 1h1m0-3h1m-1 9h1m0-9h1m2 1h1m3 5h1m0-8h1m0 10h1m-1-7h1m1 0h1m-1 4h1m0 2h1m-1 2h1m1-4h1m-1 5h1m-1-4h1m2-6h1m1 2h1m-1 2h1m5 4h1m5-6h1m-1 4h1m-1 0h1m4-7h1m0 8h1m0-7h1m0 3h1m2 7h1m-1-1h1m4-8h1m2 8h1m8 0h1m0 0h1m0 0h1m0-10h1m2 3h1m0 1h1m6 3h1m0 2h1m-1-8h1m6 8h1m0 1h1m-1-6h1m0 6h1m1-8h1m4 5h1m0 3h1m2-7h1m4 4h1m0-1h1m0 4h1m-1-8h1m-1 3h1m1-3h1m3 6h1m0-2h1m4-4h1m2 7h1m8-4h1m4 14h1m-27-2h1m-2 0h1m-2-3h1m-1 5h1m-4-8h1m-2 7h1m-2 1h1m-2 1h1m-7-2h1m-1 4h1m-3-7h1m-2 2h1m-2 1h1m-9-1h1m-6 4h1m-3-5h1m-2 2h1m-5 1h1m-1 3h1m-4-6h1m-3-2h1m-1 2h1m-1 3h1m-4-3h1m-2 3h1m-2-3h1m-6 0h1m-4-2h1m-3 3h1m-2 6h1m-2-8h1m-3-4h1m-2 8h1m-2-3h1m-2 0h1m-11 1h1m-3 1h1m-4 0h1m-9-2h1m-4-5h1m-1 11h1m-2-4h1m-3-1h1m-3 2h1m-9-5h1m19 10h1m-1 0h1m0 0h1m2 6h1m0-3h1m8 6h1m7-4h1m5 4h1m-1-1h1m-1-2h1m4-3h1m0-1h1m3 6h1m1 2h1m0-6h1m5 0h1m5 6h1m0 0h1m0-7h1m-1 5h1m0-2h1m-1 0h1m1-3h1m2-3h1m0 2h1m0 3h1m0-2h1m2 5h1m6-7h1m-1 4h1m3-4h1m1-1h1m1 1h1m7 2h1m-13 18h1m-9-9h1m-6 4h1m-4-1h1m-12 7h1m-2-6h1m-6-4h1m-3 3h1m-15 5h1m-5-8h1m-3 3h1m-4 7h1m-4-6h1m-2 0h1m-4-1h1m-13 5h1m-2-2h1m0 11h1m0-5h1m34 0h1m15-1h1" stroke="#9f9f9f"/>
<path d="M1435 343h1m23 2h1m33 11h1m-18-2h1m-2 6h1m-2-9h1m-8 7h1m-1 0h1m-7-10h1m-2 0h1m-4 1h1m-7 8h1m-12 1h1m-1 0h1m-1-2h1m-5 4h1m-5-6h1m-12 4h1m-7 13h1m4-3h1m4-1h1m1-5h1m0 6h1m1-4h1m1-2h1m-1 9h1m2-10h1m0 2h1m1 2h1m1 7h1m0-1h1m-1 0h1m2-10h1m0 5h1m0-5h1m5 2h1m1 7h1m-1-9h1m0 1h1m1 1h1m-1 0h1m-1 9h1m-1-3h1m0 3h1m0-6h1m1 6h1m13-1h1m-1-3h1m1-1h1m3-3h1m3 3h1m0 1h1m3-7h1m1 9h1m4 0h1m-4 8h1m-3-6h1m-3 10h1m-1-4h1m-5 4h1m-4-6h1m-7 6h1m-3 0h1m-3-4h1m-1-4h1m-4 9h1m-3-4h1m-3-5h1m-5 1h1m-2-2h1m-2 2h1m-1 4h1m-2-4h1m-2-2h1m-4 8h1m-2-6h1m-3-1h1m-3 1h1m-5 4h1m-1-6h1m-3 7h1m-2-4h1m-3 6h1m-2 0h1m-1-2h1m-3-5h1m-4 7h1m-2-2h1m-4-2h1m-2 2h1m-5-2h1m-9 1h1m-7-4h1m-2 14h1m1 6h1m-1-11h1m2 8h1m0 1h1m3-7h1m0 0h1m8 0h1m0 6h1m2 2h1m2-8h1m1 5h1m0-6h1m0 9h1m0-2h1m0 0h1m3-3h1m-1 6h1m3-6h1m3 5h1m0-8h1m4 2h1m6 5h1m0-8h1m0 8h1m0 0h1m0-2h1m0 0h1m2-5h1m0-1h1m4 3h1m-1 2h1m-6 13h1m-2-3h1m-2-4h1m-5 6h1m-3-2h1m-11 7h1m-2-5h1m-2 3h1m-6 2h1m-5 1h1m-2-7h1m-3-4h1m-1 0h1m-3 4h1m-3 6h1m-4 1h1m-3-10h1m-1 0h1m-3 1h1m-1 6h1m-2-3h1m-2 2h1m-4-1h1m-2-5h1m-2 9h1m-2 1h1m-5-3h1m-3 1h1m-1-7h1m-4 7h1m-3-6h1m-7 6h1m-7 7h1m7 5h1m3-3h1m2 3h1m1-1h1m1-2h1m0 4h1m-1 0h1m0-3h1m-1 3h1m5 1h1m0-5h1m0-6h1m1 8h1m-1 1h1m1-3h1m0-1h1m0-3h1m10 5h1m-1 0h1m1-8h1m2 2h1m4 6h1m19 2h1m-24 8h1m-5-2h1m-10-1h1m-6 5h1m-8-4h1m-12-1h1m-5 8h1m-6-7h1m77 39h1m59-2h1m0-1h1m58 16h1m-96-3h1m-11-3h1m-51 44h1m36-4h1m135-1h1m5 16h1m-94 2h1m-30-9h1m111 22h1m-174 16h1m145 0h1m-21 17h1m-39 2h1m-86-5h1m60 7h1m38 3h1" stroke="#3680c4"/>
<path d="M1738 142h1m65 19h1m-41 2h1m-93 4h1m18 18h1m-50 17h1m129 0h1m-10 6h1m-110 12h1m176-3h1m28 4h1m-138 13h1m-2-4h1m-70 8h1m-16 1h1m-67 0h1m274 6h1m0 1h1m-230 7h1m-73 7h1m-5 3h1m149 2h1m19 5h1m83 12h1m-170 0h1m-2 1h1m82 6h1m33 11h1m96-8h1m-117 14h1m-46 1h1m-34 1h1m-169 14h1m53 2h1m17-11h1m21 7h1m26-3h1m101 2h1m181-4h1m-112 10h1m-45 8h1m-5-1h1m-95 0h1m-48 4h1m-38-4h1m-19-6h1m-45 22h1m13-2h1m24-5h1m56-2h1m14-2h1m264 13h1m-214 1h1m-18-2h1m-103 10h1m-60-6h1m-7 5h1m-2-4h1m-1 0h1m-9 0h1m-3 2h1m-1-7h1m-13 7h1m-10 14h1m8-10h1m9 11h1m10-1h1m9-5h1m2-5h1m6 5h1m8 4h1m10-3h1m107-1h1m27 19h1m-37-3h1m-30-4h1m-11 2h1m-73 5h1m-4 0h1m-3-11h1m-1 9h1m-9-9h1m-3 7h1m-4-3h1m-1-1h1m-10 7h1m-11-3h1m-4 0h1m-10-5h1m-35 1h1m-1 8h1m16 8h1m1-1h1m1-5h1m13-2h1m2 6h1m-1 1h1m13-1h1m1-3h1m14 5h1m4 0h1m3-4h1m0 3h1m4 2h1m23-8h1m0 9h1m0-1h1m13 1h1m47-9h1m69 2h1m46 3h1m3 5h1m162 13h1m-185-3h1m-52-6h1m-23-2h1m-15 8h1m-19-3h1m-10 1h1m-3 1h1m-2 2h1m-5-1h1m-9-8h1m-4 6h1m-1-3h1m-18-4h1m-2 5h1m-3 5h1m-1-5h1m-4 6h1m-2 1h1m-5-9h1m-1 8h1m-5-10h1m-2 8h1m-2 0h1m-18-3h1m-2 6h1m-4-10h1m-3 7h1m-3 0h1m-2-7h1m-3 8h1m-4-6h1m-1-3h1m-8 0h1m-2 2h1m-3 2h1m-5 2h1m-6-6h1m-4 3h1m-3 7h1m-3-9h1m-6 7h1m-14 3h1m-1-1h1m-9-2h1m-4-7h1m-6 7h1m-11 2h1m5 1h1m6 9h1m4-6h1m1 7h1m1-5h1m7 4h1m3-8h1m-1 10h1m-1-6h1m1 2h1m4 1h1m8 4h1m4-11h1m3 1h1m1 4h1m1 5h1m-1-6h1m0 1h1m-1-6h1m0 4h1m-1 7h1m3-1h1m1-9h1m3 1h1m1-2h1m10 4h1m1 1h1m2 3h1m0-4h1m5-1h1m0-3h1m2 7h1m2-5h1m-1 5h1m3 2h1m1 1h1m0-8h1m2 2h1m0 1h1m-1 1h1m0 0h1m3-6h1m2 5h1m-1-2h1m4 5h1m3 1h1m0-1h1m0-3h1m2-2h1m4 6h1m2-1h1m1-7h1m2 7h1m1-4h1m1 4h1m3-1h1m-1-2h1m2 2h1m0 1h1m8 3h1m0-9h1m1 10h1m8-8h1m0 0h1m0 4h1m3-4h1m112 5h1m159-5h1m-178 19h1m-99-9h1m-2-1h1m-1 11h1m-10-5h1m-3-1h1m-2-2h1m-7 8h1m-6-7h1m-6 6h1m-1-4h1m-2 2h1m-2-7h1m-3 7h1m-6-8h1m-3 8h1m-1 0h1m-2 1h1m-2-7h1m-4 6h1m-2-3h1m-3 4h1m-3 0h1m-1-3h1m-1 4h1m-2 1h1m-4 0h1m-2-5h1m-4 3h1m-3-9h1m-2 5h1m-2 1h1m-4 3h1m-8 1h1m-3-6h1m-2-2h1m-1-1h1m-13 10h1m-6-7h1m-2 5h1m-3-2h1m-3 0h1m-2 0h1m-5 1h1m-7-7h1m-3 3h1m-8 2h1m-2-3h1m-4 1h1m-9 6h1m-2 0h1m-4 0h1m-7 0h1m-3-8h1m-5 3h1m-2 1h1m-2 4h1m-2-2h1m-2-1h1m-3-6h1m-4 5h1m-3 2h1m-2 0h1m-3-1h1m-3-7h1m-6 1h1m-1 1h1m-4 8h1m-2-11h1m-3 2h1m-6 8h1m-2-10h1m-2 7h1m-2 0h1m-4-6h1m-1 11h1m-7-4h1m-8-3h1m-4 10h1m2 0h1m1-1h1m0 3h1m0 4h1m2-3h1m2 0h1m-1 3h1m0-3h1m10 6h1m0-2h1m-1-4h1m0 5h1m1-1h1m3-9h1m-1 4h1m1 4h1m2-6h1m-1 3h1m5 5h1m3-1h1m0-8h1m14 3h1m0-1h1m1-3h1m1 7h1m-1 4h1m2-3h1m-1-4h1m-1-2h1m4 5h1m0 3h1m2-10h1m1-1h1m2 10h1m0-4h1m0 5h1m2 0h1m-1-7h1m-1 8h1m0-10h1m1 1h1m2-1h1m1 8h1m0-1h1m-1 1h1m0 2h1m4-11h1m9 8h1m1-7h1m-1 10h1m-1-4h1m3-6h1m0 1h1m3 7h1m1-7h1m-1 8h1m-1-5h1m1-5h1m1 0h1m-1 2h1m1-3h1m8 9h1m1-6h1m2 4h1m0-6h1m3 8h1m0 0h1m-1 2h1m6-11h1m-1 7h1m1-4h1m3 4h1m6 4h1m1-5h1m0 0h1m1 3h1m2-4h1m1 3h1m2-3h1m4 4h1m-1-2h1m0 1h1m1-5h1m2 9h1m2-1h1m1-1h1m1-9h1m3 11h1m0-4h1m1 0h1m32 0h1m28-2h1m87-5h1m146 9h1m-258 4h1m-19 9h1m-1-5h1m-3-5h1m-11 5h1m-14 2h1m-2-2h1m-5-4h1m-6 9h1m-10-7h1m-3 3h1m-3-5h1m-3 10h1m-4-6h1m-1-4h1m-5 5h1m-10-6h1m-1 11h1m-5-9h1m-4 5h1m-3 1h1m-2-1h1m-6 2h1m-2 1h1m-5-1h1m-3 0h1m-1-7h1m-1 2h1m-3 3h1m-1-4h1m-7-2h1m-4 5h1m-3 3h1m-2-8h1m-4 5h1m-4-3h1m-1-4h1m-1 12h1m-2-1h1m-4-6h1m-2 6h1m-3-8h1m-2 4h1m-1-1h1m-2-1h1m-2-1h1m-9-3h1m-15 5h1m-1-1h1m-1 2h1m-10 4h1m-2-5h1m-1 3h1m-2 2h1m-1-3h1m-2-8h1m-3 2h1m-2 3h1m-3 3h1m-2-7h1m-3 3h1m-3-2h1m-4 3h1m-2-4h1m-1 9h1m-6 1h1m-1-7h1m-2-3h1m-1 2h1m-9 1h1m-2 7h1m-1-10h1m-4 11h1m-2-3h1m-4 1h1m-2-9h1m-5 4h1m-8-4h1m-3 4h1m-2 2h1m-2 4h1m-1-3h1m-3-1h1m-4-5h1m-3 2h1m-1-1h1m-3 0h1m-1 2h1m-2-2h1m-2 8h1m-3-3h1m-2-5h1m-3 2h1m-2 4h1m-3-8h1m-3 8h1m-2-1h1m-3 1h1m-3-7h1m0 18h1m0 2h1m5-9h1m2-1h1m-1 8h1m-1-3h1m4-5h1m0 11h1m10 0h1m0 1h1m0-3h1m4-5h1m2-3h1m0 1h1m3 9h1m3-5h1m1-2h1m-1 2h1m-1 4h1m1-1h1m0-5h1m9 4h1m0-8h1m3 1h1m2 4h1m1-2h1m4 6h1m1-7h1m1 6h1m5-1h1m0 1h1m2-3h1m0-1h1m2 2h1m0-3h1m8 1h1m3 2h1m2 6h1m1-10h1m0 9h1m-1 1h1m3-11h1m-1 4h1m0 6h1m2-10h1m1 2h1m0 3h1m2 2h1m0-1h1m0-4h1m0 0h1m2-1h1m3 2h1m0-1h1m10-3h1m0 4h1m0 6h1m3-3h1m0 4h1m4-2h1m0-5h1m2 4h1m0-7h1m0 10h1m2-3h1m2-6h1m0 9h1m2 1h1m5-9h1m1 0h1m3 2h1m0-3h1m0 6h1m1 4h1m1-1h1m1-5h1m1-1h1m12-2h1m-1 2h1m1-4h1m9 4h1m28-4h1m33 6h1m0-6h1m15 4h1m-3 8h1m-7 9h1m-8-7h1m-24-2h1m-25 7h1m-7 3h1m-6-1h1m-6-8h1m-2 9h1m-1-2h1m-8 3h1m-1-9h1m-1 5h1m-4-5h1m-3-1h1m-4 3h1m-2 6h1m-2-3h1m-8 4h1m-3-5h1m-2-6h1m-1 4h1m-2-3h1m-2 6h1m-2-2h1m-6 1h1m-1 3h1m-3-7h1m-6 4h1m-2-4h1m-3-2h1m-3 0h1m-2 10h1m-1-3h1m-2 4h1m-2-6h1m-2-1h1m-1 1h1m-3-2h1m-1 4h1m-2-5h1m-1 7h1m-3-8h1m-2 2h1m-2-2h1m-6 1h1m-3 3h1m-3 0h1m-3-1h1m-8 4h1m-7-2h1m-2 0h1m-4-2h1m-3-1h1m-4-2h1m-15 7h1m-7-1h1m-1-7h1m-4 0h1m-1 1h1m-2-2h1m-3 9h1m-4-2h1m-2-5h1m-10 8h1m-5-6h1m-10-3h1m-2 1h1m-2 9h1m-6-9h1m-3 8h1m-1-7h1m-3 2h1m-6-2h1m-5 2h1m-3-2h1m-1 6h1m-3 0h1m-5 2h1m-4-11h1m-2 7h1m-6-3h1m-4 5h1m-5-6h1m-2 5h1m-2-7h1m-4 7h1m-4-2h1m-1 4h1m-5-8h1m-4 9h1m-3-2h1m-2-4h1m-1 0h1m-2 4h1m-4-9h1m-2 8h1m-5-7h1m-4 9h1m-2-6h1m-7-2h1m-2 12h1m4 1h1m8 8h1m1-10h1m-1 10h1m2-1h1m3 2h1m1-1h1m2-8h1m4 1h1m4 0h1m-1-3h1m3 11h1m-1-1h1m0-4h1m3-2h1m1-1h1m4 6h1m1-1h1m2-7h1m3 0h1m15 9h1m2-3h1m0-2h1m2-3h1m0 5h1m3-2h1m2-5h1m-1 2h1m2-3h1m7 10h1m2-4h1m0-1h1m1 0h1m3-4h1m0 1h1m1 7h1m-1-9h1m1 9h1m0-5h1m4 2h1m-1-2h1m-1 4h1m4-4h1m3 2h1m0 3h1m7-7h1m-1 0h1m0 5h1m0-6h1m-1 4h1m2-1h1m0-4h1m-1 6h1m2 6h1m1-6h1m9 0h1m6-1h1m4 3h1m1-4h1m0 5h1m3-5h1m4 3h1m0 0h1m6 4h1m0-6h1m2-1h1m4-3h1m0 8h1m5 3h1m0-10h1m6 4h1m0 5h1m4-6h1m0 2h1m4-1h1m22-1h1m8 0h1m15 1h1m36 1h1m0-5h1m136 7h1m8-2h1m-167 13h1m-4 0h1m-21-7h1m-13 0h1m-12 0h1m-15 0h1m-18 1h1m-3 3h1m-3-2h1m-2 7h1m-2 0h1m-1-3h1m-2-5h1m-3-1h1m-1 10h1m-2-1h1m-2-3h1m-2 2h1m-2-6h1m-2 8h1m-3-9h1m-1 8h1m-3-2h1m-4-6h1m-2 4h1m-6-1h1m-1 6h1m-2-5h1m-5 2h1m-2 1h1m-4 2h1m-2-10h1m-12 4h1m-3 0h1m-5 5h1m-5-7h1m-1 6h1m-4-7h1m-2-1h1m-2 0h1m-2 4h1m-3 3h1m-2-6h1m-4 3h1m-1-3h1m-3 6h1m-1 3h1m-4-1h1m-2 1h1m-3-9h1m-6 0h1m-1-1h1m-2 1h1m-6 9h1m-4-4h1m-2-1h1m-3 2h1m-6 1h1m-4-2h1m-5-5h1m-6 8h1m-3-9h1m-10 0h1m-4 3h1m-2-3h1m-3-1h1m-2 9h1m-4-8h1m-13 0h1m-1 4h1m-4-1h1m-1 7h1m-4-5h1m-6 1h1m-5-1h1m-6 0h1m-3-1h1m-6-1h1m-2 6h1m-3 0h1m-2-9h1m-7 2h1m-4 8h1m-4 0h1m-3-1h1m-3-5h1m-2-5h1m-6 2h1m-2 1h1m-5-2h1m-3 10h1m-1-4h1m-2-1h1m-1-4h1m-6 7h1m-4 0h1m-1 3h1m-8-5h1m-1 1h1m-4 2h1m3 5h1m9 9h1m2-7h1m-1-2h1m0 9h1m1-3h1m0-6h1m-1 7h1m-1-2h1m2-1h1m0-2h1m2 7h1m1-6h1m0 5h1m3-7h1m0 6h1m-1-2h1m0 1h1m1-8h1m1 10h1m3-4h1m0-3h1m0 7h1m4-8h1m0 0h1m0 6h1m-1-4h1m0 3h1m5-1h1m0 4h1m0-9h1m2 8h1m-1-9h1m0 1h1m-1 0h1m6 7h1m2-3h1m13 2h1m0-2h1m4 4h1m0-8h1m0 5h1m7-4h1m-1 7h1m3-7h1m1 4h1m8-6h1m2 6h1m8-2h1m0 6h1m-1-3h1m0-4h1m7 7h1m3-6h1m-1 7h1m2-12h1m13 11h1m2-10h1m3 1h1m8 7h1m5-5h1m4 4h1m1 0h1m5 1h1m0 1h1m4 2h1m0-11h1m1 3h1m2 7h1m3-9h1m-1 6h1m0-3h1m3 1h1m0 3h1m-1-7h1m4 7h1m1-2h1m19-1h1m20 1h1m22 9h1m-9 3h1m-10-1h1m-1 2h1m-3 3h1m-5-2h1m-24-8h1m-9 6h1m-16-1h1m-3-1h1m-3-2h1m-8 9h1m-1-1h1m-3-3h1m-3-4h1m-1 6h1m-2-7h1m-11 2h1m-12 6h1m-2-5h1m-5-3h1m-3 0h1m-4 8h1m-8-1h1m-2-8h1m-3 1h1m-3 7h1m-2-2h1m-2-4h1m-5-2h1m-2 3h1m-2 6h1m-3-3h1m-10-4h1m-2-1h1m-2 2h1m-3 5h1m-6-3h1m-14 3h1m-8-1h1m-3-6h1m-3-2h1m-1 0h1m-5 10h1m-3-3h1m-3-1h1m-8-7h1m-4 6h1m-4-6h1m-6 1h1m-5 5h1m-4-4h1m-5 1h1m-4 2h1m-1 1h1m-2-3h1m-1 3h1m-3-2h1m-2 4h1m-5 2h1m-5-5h1m-2 3h1m-1 3h1m-2-10h1m-3 5h1m-6 4h1m-4-8h1m-3-1h1m-3 3h1m-3 3h1m-10-4h1m-6 8h1m-2-1h1m-4-8h1m-6 3h1m-2-3h1m-1 13h1m18 4h1m2-2h1m1-5h1m2 12h1m-1-9h1m0 7h1m-1 0h1m-1-9h1m2 10h1m0-2h1m-1-4h1m-1 0h1m3-1h1m0-1h1m-1 4h1m0-1h1m-1-1h1m2 3h1m0 2h1m0-9h1m3 0h1m2 8h1m8-9h1m0 4h1m3 1h1m0 5h1m0 1h1m0-10h1m0 9h1m2-7h1m0 6h1m3 1h1m-1 1h1m0-2h1m2-3h1m0-6h1m-1 7h1m10-6h1m2 8h1m6 0h1m0 1h1m3-2h1m2 0h1m3-5h1m4 8h1m6-8h1m1 9h1m0-3h1m2-5h1m9-2h1m9 10h1m-1-2h1m0 1h1m2-9h1m1 2h1m2 4h1m9-7h1m-1 0h1m-1 5h1m1 0h1m-1 5h1m0-6h1m2 2h1m0-5h1m5-2h1m-1 8h1m4-2h1m2 2h1m-1-2h1m7 3h1m4-8h1m0 9h1m10-5h1m12 3h1m60 4h1m8-4h1m-18 9h1m-22 0h1m-2-2h1m-13-2h1m-9 3h1m-8 3h1m-7-1h1m-4 5h1m-9-4h1m-12 0h1m-4-4h1m-3 3h1m-14 0h1m-4 4h1m-2-5h1m-1 2h1m-5 0h1m-2-7h1m-1 6h1m-1-1h1m-3 6h1m-1-3h1m-2-2h1m-7-3h1m-10-2h1m-3 9h1m-1-6h1m-2-3h1m-2 7h1m-3 1h1m-8-7h1m-6-2h1m-3 3h1m-5 2h1m-7-4h1m-4 2h1m-4 7h1m-7-1h1m-5-2h1m-3-7h1m-2 1h1m-3 1h1m-2 6h1m-1-6h1m-9 2h1m-3-2h1m-2 2h1m-6 1h1m-5-2h1m-5 2h1m-4-4h1m-2 9h1m-2-10h1m-2 10h1m-3-7h1m-1-2h1m-5 6h1m-5-1h1m-3 0h1m-4-4h1m-1 10h1m-1-2h1m-5-5h1m-2 6h1m-1-1h1m-3 2h1m-4-11h1m-1 2h1m-8-1h1m-4 2h1m-5 3h1m-2 5h1m-9-3h1m-6 1h1m-10-2h1m-3 16h1m-1-4h1m18-3h1m0 6h1m0-4h1m4 0h1m1 1h1m-1 0h1m-1 1h1m1 0h1m4-7h1m1 2h1m-1 5h1m2 3h1m-1-11h1m0 3h1m7 6h1m-1-10h1m4 12h1m1-5h1m1-4h1m2 6h1m2-2h1m2-1h1m2 1h1m2 0h1m1-4h1m1 9h1m0-12h1m-1 4h1m2-3h1m0 7h1m1-7h1m0 4h1m5 0h1m0-2h1m-1-2h1m2 5h1m-1 6h1m-1-8h1m2 2h1m2 3h1m0-7h1m1 8h1m-1 0h1m0-3h1m2 3h1m0 2h1m-1-11h1m-1 9h1m0-6h1m0 3h1m1-4h1m2 8h1m2-4h1m1 1h1m0 4h1m3-6h1m2-1h1m-1 7h1m0-10h1m2 2h1m-1-1h1m1-2h1m1 5h1m4-3h1m-1 0h1m5 0h1m7 7h1m0-10h1m1 3h1m0 9h1m0-8h1m3 6h1m3-5h1m12 0h1m14-4h1m5 8h1m13-3h1m31 4h1m5-2h1m23-5h1m2 8h1m6-11h1m6 4h1m126 13h1m-139-5h1m-8 2h1m-5 3h1m-10-4h1m-5 7h1m-12 0h1m-22-8h1m-18 4h1m-4 5h1m-5-2h1m-17 1h1m-25 0h1m-3 1h1m-2-2h1m-8-6h1m-4 4h1m-1-3h1m-4 8h1m-3-8h1m-7 2h1m-3-1h1m-7 7h1m-7 1h1m-1 0h1m-5 0h1m-3-11h1m-6 8h1m-3 2h1m-5-4h1m-3-2h1m-4 6h1m-5-5h1m-2-2h1m-2-1h1m-5 7h1m-2 2h1m-1-3h1m-5-5h1m-1 1h1m-3 5h1m-4-4h1m-2 4h1m-1-6h1m-2 2h1m-3 0h1m-6-5h1m-1 6h1m-3-1h1m-4-4h1m-2 5h1m-1-1h1m-1 2h1m-7-7h1m-4 5h1m-4-4h1m-2 9h1m-1-5h1m-4 5h1m-1-3h1m-2 4h1m-4-3h1m-1 0h1m-6-6h1m-1 6h1m-3 1h1m-3-5h1m-4 5h1m-2-1h1m-6-2h1m-2-4h1m-2 6h1m-3 0h1m-12-3h1m-2 3h1m-8-4h1m33 16h1m1-1h1m0 4h1m1-10h1m0 1h1m7-2h1m1 9h1m8-1h1m5-4h1m1 3h1m1-3h1m-1 6h1m0-5h1m2 2h1m1-2h1m4 1h1m2-4h1m1 0h1m-1 6h1m3-1h1m5 5h1m0-6h1m2-2h1m1 3h1m2 5h1m1-11h1m0 7h1m11-6h1m-1 4h1m2 0h1m1-6h1m1 3h1m-1 0h1m3 9h1m5-7h1m1 3h1m0-3h1m2-4h1m20 3h1m16 1h1m17 1h1m3-4h1m1 1h1m0 8h1m61-1h1m4-1h1m12-4h1m74 0h1m33-4h1m-143 19h1m-2-2h1m-4-4h1m-8 5h1m-18 4h1m-14-9h1m-5-1h1m-30 1h1m-63 4h1m-13-1h1m-1-2h1m-16 0h1m-6 6h1m-6-3h1m-15-6h1m-19 7h1m-22-6h1m150 17h1m14 2h1m15-6h1m1 7h1m4-1h1m12-2h1m2 5h1m13-3h1m7-5h1m0 2h1m-1 5h1m-1-1h1m21-9h1m-23 15h1m-24 6h1m-32-9h1m-7 1h1" stroke="#23963f"/>
<path d="M1736 108h1m-38 16h1m63 1h1m10 6h1m45 11h1m-69-2h1m-69 8h1m120 1h1m-155 17h1m-63 11h1m178-6h1m83-2h1m-1 19h1m-15-1h1m-23 3h1m-25-9h1m-8 1h1m-120 1h1m-90 12h1m24 6h1m179-1h1m0-1h1m60 2h1m-122 13h1m-54 1h1m-122 13h1m1-4h1m104 2h1m30-2h1m150-5h1m-31 20h1m-27-2h1m-45-8h1m-39 9h1m-76-5h1m-58 6h1m-3-7h1m-10 5h1m-21 9h1m10-5h1m-1 9h1m0 0h1m13-4h1m4-4h1m2 8h1m2-5h1m0-2h1m13 0h1m5 1h1m1 7h1m12-10h1m86 10h1m99-2h1m83 7h1m-66-1h1m-210 3h1m-13 2h1m-3 2h1m-2 1h1m-8-9h1m-2 9h1m-2-4h1m-3-4h1m-2 4h1m-2 3h1m-12-1h1m-4 1h1m-3-3h1m-6 0h1m-2 0h1m-4 5h1m-2-7h1m-5 5h1m-2-2h1m-12-1h1m-26 13h1m10 4h1m12-11h1m8 6h1m0 4h1m7 0h1m1-10h1m-1 8h1m1-2h1m6-1h1m-1-4h1m14 8h1m1-9h1m2 9h1m2-9h1m1 0h1m1 9h1m4-5h1m8-4h1m2 3h1m2-1h1m9 5h1m1 3h1m69-7h1m112 0h1m-162 10h1m-11 8h1m-6 0h1m-3-3h1m-14-1h1m-1 1h1m-1-2h1m-11-2h1m-1 8h1m-9-10h1m-3 10h1m-8-5h1m-10 3h1m-5 3h1m-2-3h1m-2-1h1m-9 1h1m-12-3h1m-8 5h1m-2-6h1m-9-5h1m-5 9h1m-3-4h1m-2 4h1m-9-7h1m-11 3h1m-10 12h1m11 6h1m0-3h1m1 0h1m1 1h1m7 2h1m8-5h1m0 4h1m8-4h1m3-4h1m4-1h1m2 11h1m-1-8h1m1 4h1m0-2h1m2-3h1m5 5h1m-1 1h1m7 0h1m-1-2h1m1-6h1m1 6h1m2 4h1m-1-1h1m0-6h1m4-1h1m0 0h1m1 8h1m2-2h1m1-5h1m8 3h1m0-6h1m14 3h1m-1 0h1m0 7h1m-1-6h1m0 5h1m0 0h1m228-5h1m-51 11h1m-25-2h1m-99 1h1m-54 2h1m-1 2h1m-3-5h1m-9-2h1m-9 3h1m-1 8h1m-6-10h1m-5 0h1m-3 0h1m-13 4h1m-4-5h1m-4 9h1m-2 3h1m-2-1h1m-5-9h1m-4 0h1m-3-1h1m-13 4h1m-3-4h1m-3 8h1m-9-9h1m-4 7h1m-4 0h1m-3-1h1m-1 2h1m-7 0h1m-1-8h1m-4 7h1m-9-4h1m-4 7h1m-3-2h1m-6 0h1m-5 0h1m-6 3h1m-4-2h1m-16 5h1m10 8h1m6 0h1m0-8h1m7 7h1m0-1h1m5-1h1m1 1h1m4 2h1m10 1h1m1 0h1m2-3h1m7 3h1m0 1h1m-1-9h1m1 0h1m-1-2h1m5 9h1m10 0h1m6-1h1m0-3h1m2 0h1m1 5h1m2-8h1m4 5h1m2 2h1m3-1h1m7-3h1m3-5h1m11 2h1m-1 6h1m0-3h1m1-2h1m2 0h1m1-1h1m3 6h1m3 0h1m1-8h1m9 7h1m1 2h1m3-7h1m25 1h1m6 0h1m52 4h1m124 2h1m12 13h1m-62-1h1m-12-5h1m-36 5h1m-43 2h1m-84-10h1m-1 3h1m-3-2h1m-3 0h1m-5 9h1m-2-11h1m-2-1h1m-2 5h1m-11-4h1m-1 4h1m-3 4h1m-2-7h1m-2 2h1m-3-1h1m-16 4h1m-2-4h1m-2-1h1m-3 10h1m-1-5h1m-3 1h1m-4-1h1m-12 4h1m-6-3h1m-4-1h1m-7-3h1m-3 0h1m-4 4h1m-3-2h1m-1-6h1m-6 6h1m-4-2h1m-18 2h1m-7 0h1m-2 3h1m-3-4h1m-5 5h1m-13-7h1m-1 8h1m-10-5h1m-4 3h1m-13-7h1m-2 7h1m-8-3h1m-12 2h1m18 11h1m2-1h1m2 2h1m6-2h1m1 4h1m3-7h1m1-2h1m4 6h1m2-1h1m15-4h1m5-2h1m0 2h1m3 7h1m0 3h1m21-7h1m-1-2h1m5 0h1m4 4h1m1-2h1m9-3h1m6 10h1m4-6h1m-1 1h1m2 2h1m0 2h1m0-8h1m0 0h1m0 2h1m0-4h1m2 6h1m12 2h1m1-4h1m1-3h1m5 5h1m4-6h1m0 2h1m2 3h1m0 6h1m2-9h1m3 2h1m1 4h1m0 0h1m13 0h1m0-2h1m0 1h1m36-1h1m88 2h1m1 1h1m43 11h1m-33-4h1m-19-1h1m-130 5h1m-6-2h1m-7-4h1m-3-1h1m-5 9h1m-4-3h1m-3-4h1m-4 2h1m-3 0h1m-1 0h1m-3 3h1m-6-2h1m-13-7h1m-1 1h1m-2 9h1m-2-5h1m-5-3h1m-9 8h1m-3-3h1m-11 2h1m-3-5h1m-1-4h1m-6 2h1m-2 5h1m-2-4h1m-4 3h1m-4 1h1m-1 2h1m-1-2h1m-8-3h1m-10-4h1m-1 9h1m-3-5h1m-2 2h1m-5-5h1m-8 6h1m-7 3h1m-11-6h1m-5 8h1m-8-8h1m-3 4h1m-4-3h1m-5-1h1m-7 7h1m-13-3h1m23 6h1m5 0h1m21 1h1m1 5h1m4 4h1m0-4h1m10 0h1m5 3h1m3-6h1m1-4h1m7 9h1m21-8h1m16 1h1m1-2h1m-1 0h1m4 5h1m9-3h1m-1 4h1m0-5h1m7 8h1m5-3h1m0 4h1m-1 1h1m2-3h1m1-6h1m7 7h1m0 1h1m1-8h1m0 1h1m1 1h1m5 3h1m6-8h1m15 6h1m26 4h1m1-6h1m34-4h1m94 8h1m-171 14h1m-19-3h1m-1 4h1m-2-10h1m-4 1h1m-6-2h1m-7 7h1m-3 4h1m-1-4h1m-3-2h1m-4-1h1m-4-4h1m-2 12h1m-6-8h1m-10-1h1m-3 7h1m-3-1h1m-6-4h1m-2 3h1m-3-2h1m-3-1h1m-1-2h1m-4 2h1m-1 0h1m-6-4h1m-2 6h1m-1 2h1m-2-4h1m-1 6h1m-8-10h1m-3 8h1m-5-5h1m-11 2h1m-15 2h1m-2-5h1m-9-1h1m-4 1h1m-10 8h1m-2-1h1m-2-5h1m-13 5h1m-3-4h1m-9 0h1m-2-1h1m-1 5h1m-71 12h1m74-3h1m9 1h1m28-1h1m1 1h1m2-7h1m2 1h1m2 0h1m1 0h1m2-1h1m15 7h1m-1-2h1m1-4h1m13 9h1m2-2h1m0-4h1m1 4h1m6-5h1m3 0h1m4-4h1m7 2h1m2 5h1m1 5h1m-1-7h1m5 6h1m1-1h1m2-4h1m6-5h1m2 10h1m0-7h1m0 0h1m1 2h1m0 1h1m0-2h1m6-2h1m3 1h1m-1-3h1m152 17h1m-16 5h1m-18-5h1m-3-2h1m-72 1h1m-22 2h1m-15-5h1m-7 5h1m-1 2h1m-6-6h1m-8 7h1m-2 1h1m-2-6h1m-1 1h1m-3-5h1m-9 4h1m-6 3h1m-15-5h1m-3 3h1m-6 5h1m-3-6h1m-3-2h1m-2-1h1m-5 1h1m-2 3h1m-4 2h1m-2-6h1m-17-2h1m-8 8h1m-2-8h1m-7 1h1m-34 0h1m-4 0h1m-20 4h1m-53-3h1m-67 6h1m203 12h1m14-8h1m2 3h1m-1 5h1m24-4h1m8 3h1m-1-4h1m1-3h1m4 3h1m3 3h1m1 5h1m7-7h1m55-1h1m-1-2h1m2 2h1m16 6h1m0-2h1m5 4h1m20-10h1m19 19h1m-104-2h1m-22 0h1m-3 4h1m-2 0h1m-3-6h1m-1 1h1m-14-3h1m-4 1h1m-2 6h1m-2 3h1m-1-3h1m-5 2h1m-5-10h1m-4 2h1m-22-2h1m-54 6h1m-54-1h1m-110 8h1m125 2h1m85 0h1m39 6h1m0-4h1m2 5h1m1-8h1m1 0h1m0 9h1m4-1h1m9-6h1m115 4h1m-23 15h1m-28-5h1m-43-5h1m-43 8h1m-3-5h1m-29 5h1m-84 2h1m-51-9h1m-109-1h1m110 11h1m92 6h1m18-4h1m-10 9h1m-38 10h1m-50-4h1m-74-5h1m-81 11h1m2 11h1m112 0h1m14 1h1m24-2h1m80-1h1m27 2h1m125-7h1m108-2h1m13 11h1m-201 7h1m-37 1h1m-20 3h1m-18-3h1m-2-8h1m-7 9h1m-131 0h1m-7-1h1m-67 2h1m-37 0h1m7 10h1m94 1h1m50 1h1m155-2h1m180 15h1m-90 0h1m-109 0h1m-248-4h1m-9 0h1m2 4h1m17 7h1m77-4h1m134 3h1m192-6h1m-56 22h1m-98-6h1m-104-2h1m-15 1h1m-54-2h1m-17 7h1m-66 1h1m18 6h1m20 7h1m85-2h1m125-5h1m86-1h1m-204 17h1m-130-4h1m-4 3h1m48 8h1m32-2h1m175 7h1m14 7h1m-209 4h1m152 13h1m12 1h1m24 6h1" stroke="#f5821f"/>
<path d="M1772 95h1m-12 0h1m-3-1h1m-36-4h1m-16 2h1m38 12h1m1-1h1m4 3h1m49 13h1m-11-5h1m-19 0h1m-6-2h1m-1-4h1m-4 8h1m-1-1h1m-3 0h1m-4 0h1m-15 1h1m-3 0h1m-4-2h1m-9 2h1m-5-7h1m-3 10h1m-4-4h1m-3 0h1m-4-5h1m-1 10h1m-3-5h1m-5-2h1m-13-2h1m-4 3h1m-5-1h1m-9 1h1m-3-2h1m-22 12h1m4 2h1m7 1h1m3-5h1m2 6h1m0-2h1m3-1h1m22-2h1m5 8h1m3-7h1m0 7h1m6-2h1m22 1h1m1-2h1m1 0h1m3-2h1m-1-4h1m3 5h1m0-3h1m5 8h1m2-6h1m1-2h1m2 1h1m0 5h1m-1-8h1m6 8h1m0 2h1m28-10h1m10 5h1m0 16h1m-12-10h1m-5 1h1m-15 4h1m-13 2h1m-13-3h1m-3-5h1m-13 2h1m-3 9h1m-9-8h1m-4 9h1m-15-9h1m-2 6h1m-4-2h1m-1 4h1m-3-7h1m-5 3h1m-1 3h1m-3-5h1m-2 6h1m-6-5h1m-3-3h1m-8 3h1m-2 5h1m-7-5h1m-3-5h1m-7 3h1m-6 6h1m-5-7h1m-16 3h1m-8 5h1m-8-5h1m-4 9h1m10 0h1m1 8h1m-1-3h1m8-2h1m5 5h1m2 0h1m14-8h1m17 1h1m0 2h1m2-5h1m0 8h1m1-2h1m2 2h1m17-3h1m11-2h1m2 5h1m1 2h1m3-7h1m0 0h1m0 6h1m0-6h1m1 2h1m-1 1h1m0-3h1m0-3h1m0 1h1m16 10h1m-1-3h1m0 3h1m0-3h1m1-1h1m7-6h1m0 4h1m0-1h1m0-1h1m4-1h1m1 4h1m0 5h1m-1-8h1m0 3h1m1-3h1m4 4h1m7 3h1m8-8h1m6 19h1m-4 0h1m-4-6h1m-11 5h1m-4 3h1m-4-10h1m-5 0h1m-1-1h1m-2 6h1m-1 3h1m-10-3h1m-2-6h1m-2-1h1m-2 4h1m-2 4h1m-6-4h1m-2 3h1m-1 3h1m-2-9h1m-5 3h1m-7 7h1m-2 1h1m-3-1h1m-2-6h1m-4 6h1m-2-6h1m-8-5h1m-4 4h1m-9-1h1m-3 6h1m-1-2h1m-2 3h1m-8-8h1m-2 5h1m-4 0h1m-16-3h1m-7-4h1m-8 11h1m-2-5h1m-3 4h1m-2-3h1m-5-6h1m-1 6h1m-1-3h1m-4 2h1m-3 4h1m-9-5h1m-4 4h1m-5-9h1m-1 9h1m-5 2h1m-1-5h1m-7-2h1m-4 1h1m-2 4h1m-9-5h1m-1 3h1m-8-7h1m-4 7h1m-3-4h1m-3 0h1m-20-2h1m-4 11h1m-4-4h1m-1 3h1m-4-6h1m-2-5h1m-14 7h1m-30 16h1m-1-5h1m7 4h1m6-6h1m3 2h1m5 4h1m0 1h1m4-4h1m1 0h1m0-1h1m0 4h1m5-7h1m7-2h1m5 11h1m-1-1h1m2-9h1m-1 4h1m4 1h1m2 1h1m7-2h1m0-4h1m3 4h1m-1 1h1m2-2h1m18 6h1m4-7h1m4 6h1m2 0h1m2-7h1m0-2h1m0 7h1m0-4h1m0 3h1m6-6h1m1 3h1m2-2h1m8 0h1m0 1h1m0 5h1m2-1h1m9-6h1m0 6h1m0-7h1m2 10h1m4-4h1m1 4h1m5-2h1m6-5h1m0 4h1m1-4h1m5-3h1m0 9h1m3 1h1m4-5h1m0-3h1m2 6h1m16 4h1m22-3h1m0-7h1m10 8h1m6-4h1m-7 16h1m-10-3h1m-3-6h1m-11 6h1m-4 1h1m-4-7h1m-23 3h1m-3 3h1m-2 2h1m-23-5h1m-18 8h1m-5-2h1m-8-3h1m-4-5h1m-1 4h1m-2-1h1m-12-4h1m-9 3h1m-1 2h1m-5-2h1m-4 2h1m-4 4h1m-8-7h1m-2 8h1m-9-4h1m-11-2h1m-1-4h1m-6 1h1m-2 7h1m-8 2h1m-8-3h1m-1-5h1m-5 8h1m-3-2h1m-5 0h1m-2 1h1m-6-1h1m-12-7h1m-9-1h1m-34 8h1m-8 1h1m-5-1h1m-13 6h1m18 0h1m9-1h1m11 1h1m0 2h1m2-3h1m2 5h1m3 0h1m6-1h1m5-1h1m1 5h1m17 1h1m10-8h1m11 2h1m3-1h1m1-3h1m5 4h1m14 6h1m1-5h1m5-2h1m0 6h1m6-7h1m4 0h1m0 8h1m2-1h1m8-3h1m5 3h1m3-3h1m3 4h1m3-8h1m3 4h1m6-5h1m0 0h1m-1 5h1m4-5h1m0 10h1m3-4h1m2-4h1m1-2h1m8-2h1m12 5h1m-1-1h1m2 6h1m-1 1h1m14-11h1m7 4h1m1 7h1m3-11h1m0 5h1m1 5h1m1 1h1m-1-5h1m1-5h1m11 0h1m12 6h1m-8 11h1m-11 6h1m-2-10h1m-11 2h1m-1 6h1m-1-3h1m-4-2h1m-2 3h1m-9-2h1m-3-4h1m-10 0h1m-4 8h1m-2-5h1m-6 1h1m-3-6h1m-5 9h1m-14-3h1m-1 2h1m-13-4h1m-6-1h1m-11-1h1m-1 2h1m-5 1h1m-12 5h1m-5-7h1m-5-2h1m-11 4h1m-5 1h1m-3-2h1m-10 0h1m-8 7h1m-1 0h1m-13-10h1m-7 5h1m-12 0h1m-1 6h1m-5-1h1m-2-8h1m-3 9h1m-4-1h1m-3-6h1m-5 7h1m-2-3h1m-10 0h1m-17-6h1m-3 5h1m-6 0h1m-2 0h1m-9-2h1m-5-2h1m-4-3h1m-2 2h1m-4 7h1m-5-3h1m-20 3h1m-4 2h1m-17-4h1m6 6h1m19-1h1m5 6h1m4 2h1m0 3h1m2-9h1m3-2h1m2 7h1m5 3h1m8-9h1m6 6h1m3-3h1m9 3h1m-1-6h1m1-1h1m6 2h1m1 0h1m4-1h1m0 8h1m-1 0h1m5-9h1m4 0h1m7 10h1m-1-4h1m11 3h1m5-8h1m2 8h1m6-3h1m-1 5h1m17-10h1m2 6h1m4-6h1m2 3h1m0 0h1m1-5h1m2 2h1m4-1h1m3 0h1m3 4h1m1 7h1m3-6h1m1 1h1m1 0h1m-1-1h1m6-6h1m0 4h1m2 3h1m1-5h1m2 2h1m11 4h1m10-2h1m0-4h1m0 9h1m2-3h1m6 2h1m7-8h1m3 9h1m5-7h1m0 3h1m4-3h1m5 3h1m1-7h1m0 6h1m-1 5h1m10 1h1m8-5h1m-16 16h1m-11-11h1m-3 5h1m-3 5h1m-2-4h1m-13 5h1m-19-1h1m-15-1h1m-11-3h1m-6-1h1m-3 2h1m-2-6h1m-8 4h1m-4 1h1m-5-3h1m-1 0h1m-5 0h1m-2 3h1m-2 5h1m-2-4h1m-9-5h1m-6 3h1m-3 6h1m-1-11h1m-4 10h1m-7-2h1m-1-5h1m-2 4h1m-2-3h1m-3-3h1m-4 3h1m-3 3h1m-9 1h1m-7 2h1m-1-5h1m-11 1h1m-2 0h1m-8-4h1m-7 2h1m-23-1h1m-3 0h1m-13 3h1m-16 2h1m-12-4h1m-9 1h1m-2-1h1m-5-2h1m-4 6h1m-4-6h1m-2 2h1m-20-3h1m-10 1h1m-30 14h1m16 6h1m3-1h1m21-6h1m0 8h1m4-1h1m4 0h1m1-2h1m14-5h1m1 9h1m4-9h1m1-3h1m7 9h1m-1-4h1m3 4h1m9 2h1m3-7h1m1 6h1m11 0h1m-1-5h1m-1 6h1m4-2h1m4-1h1m0-5h1m0 6h1m11-6h1m0 8h1m3-8h1m2-1h1m4 6h1m0-1h1m0 3h1m8 1h1m0-3h1m-1-1h1m1-2h1m0 4h1m0-1h1m0-8h1m4 2h1m6 5h1m-1-3h1m8-1h1m3-1h1m3-1h1m1 10h1m3-5h1m15 2h1m5-6h1m20 0h1m5 7h1m5 1h1m4-7h1m5 0h1m2 8h1m13-2h1m2 0h1m8 0h1m1-4h1m2 4h1m1 0h1m4 1h1m0 0h1m19 5h1m-11 0h1m-9 2h1m-5 6h1m-6-2h1m-8 0h1m-9-7h1m-5 10h1m-1-9h1m-2-2h1m-19 8h1m-6-8h1m-1 9h1m-2-2h1m-3-6h1m-14 6h1m-6 3h1m-2-4h1m-14-5h1m-2 7h1m-2-6h1m-6 6h1m-1-1h1m-4-5h1m-15 7h1m-2-1h1m-11 1h1m-5-5h1m-4 7h1m-9-12h1m-6 0h1m-2 6h1m-6 5h1m-3-9h1m-5 2h1m-6 5h1m-3-8h1m-7 4h1m-9 4h1m-2 2h1m-1-3h1m-3 2h1m-10-6h1m-7 5h1m-15-7h1m-3 3h1m-1-3h1m-2 8h1m-5-6h1m-2 8h1m-2-5h1m-2-4h1m-3 8h1m-3-10h1m-3-1h1m-8 12h1m-9-10h1m-13 9h1m-2-8h1m-2 9h1m-2-3h1m-5-8h1m-5 10h1m-2-9h1m-2 4h1m-3 2h1m-15-3h1m-2 4h1m-18-4h1m-6 1h1m-30-2h1m-16 3h1m-11 6h1m31 6h1m29 4h1m9-2h1m2-4h1m11 4h1m2 0h1m5-7h1m3-2h1m13 0h1m4 12h1m-1-9h1m2 4h1m11 0h1m-1 3h1m0-7h1m3 5h1m-1-8h1m0 9h1m7 0h1m5-3h1m10-5h1m3 7h1m9-6h1m2 8h1m5-4h1m2 3h1m1-2h1m2 1h1m14 2h1m-1-4h1m26-6h1m-1 12h1m1-6h1m-1-4h1m15 5h1m8 1h1m1-7h1m8 3h1m3 5h1m0-5h1m1 5h1m2-7h1m9 7h1m1-2h1m2-1h1m1 0h1m15 6h1m0-3h1m4 1h1m2-7h1m0 1h1m4 8h1m4-5h1m1-4h1m0 3h1m8-5h1m5 8h1m2-5h1m9-4h1m10 19h1m-12-2h1m-6-4h1m-2 0h1m-7 3h1m-3 7h1m-3-7h1m-7 3h1m-5-3h1m-2 7h1m-1-9h1m-6 7h1m-4 1h1m-8-9h1m-2 3h1m-2 8h1m-15-9h1m-2 8h1m-3-3h1m-11-1h1m-6-2h1m-3 4h1m-4 2h1m-10-6h1m-2-2h1m-3-3h1m-6 0h1m-13 5h1m-4 4h1m-6-8h1m-7 3h1m-1 0h1m-14 4h1m-10-2h1m-1-2h1m-9 1h1m-5-1h1m-6 1h1m-2-5h1m-2 3h1m-11 1h1m-10 2h1m-4 5h1m-9-6h1m-3-3h1m-5-1h1m-5 6h1m-2-3h1m-2-2h1m-6 4h1m-9 3h1m-7-8h1m-16 0h1m-13 1h1m-5 5h1m-1 3h1m-12-9h1m-9 8h1m-25-9h1m-9 7h1m-29 0h1m-4 0h1m-17-6h1m-8 9h1m-2-8h1m-20 10h1m-5 12h1m93-9h1m3-3h1m1 11h1m2 0h1m-1-10h1m10 0h1m3 5h1m11 2h1m2-5h1m1 0h1m6 0h1m3 5h1m-1-5h1m4 9h1m5-4h1m15 0h1m14-7h1m9 5h1m1 3h1m17 2h1m0-5h1m-1-6h1m7 3h1m7-1h1m3 8h1m3-7h1m6-1h1m12 2h1m21-4h1m1 1h1m2 7h1m1-6h1m2 2h1m8 7h1m1-6h1m5-4h1m19 8h1m0 2h1m-1-3h1m1 2h1m6-7h1m6 4h1m-1 2h1m0-2h1m11 2h1m11-3h1m3-4h1m2 2h1m5-2h1m1 8h1m-4 12h1m-2-10h1m-5 10h1m-6-4h1m-5 1h1m-2-3h1m-3 7h1m-7 0h1m-3-6h1m-9 1h1m-10 4h1m-12-10h1m-10 3h1m-1 8h1m-15-5h1m-4-4h1m-5 6h1m-3-6h1m-4-1h1m-8 5h1m-2 1h1m-3 2h1m-1-5h1m-1 1h1m-2-3h1m-5 2h1m-5 2h1m-1-2h1m-5 4h1m-3 1h1m-2 0h1m-1 3h1m-4-9h1m-2 7h1m-12-9h1m-9-1h1m-1 7h1m-5-4h1m-3 4h1m-4-6h1m-10 6h1m-2-1h1m-3-4h1m-10 6h1m-2-3h1m-16-5h1m-15 8h1m-12-6h1m-4 4h1m-18 5h1m-12-4h1m-2-4h1m-3 9h1m-2-5h1m-2-4h1m-18 8h1m-24-3h1m-9 4h1m-40-10h1m-9 9h1m-16 1h1m-3-8h1m-7 5h1m-15-7h1m-8 2h1m-4-2h1m-3 8h1m-47 10h1m4-3h1m23 5h1m11-3h1m10-1h1m1 0h1m23 4h1m3-2h1m15-3h1m10 4h1m13-7h1m24 6h1m6-4h1m37-2h1m0 6h1m4-5h1m7 7h1m0-9h1m0 7h1m5-6h1m3 1h1m3 8h1m1-10h1m4 6h1m-1-1h1m2 3h1m4-8h1m4 9h1m-1 0h1m0-2h1m1-5h1m16 0h1m-1-1h1m3 2h1m5 5h1m6-8h1m14 2h1m2 0h1m5 4h1m18 0h1m1-2h1m0 2h1m0 3h1m8 0h1m1-3h1m-1-3h1m2-2h1m0 2h1m-1 8h1m0-7h1m8 0h1m0-1h1m3 1h1m1-3h1m-1 7h1m4-1h1m7 4h1m4-8h1m-1 6h1m1-10h1m9 11h1m0-11h1m-1 7h1m4-5h1m2 1h1m0 9h1m0-5h1m1-6h1m2 7h1m0 0h1m0-5h1m1 0h1m3 8h1m4-5h1m0-6h1m4 10h1m1-6h1m0-3h1m17 0h1m3 22h1m-7-2h1m-7-8h1m-5 6h1m-2 1h1m-4-2h1m-13-1h1m-3 4h1m-1-2h1m-11 0h1m-2-3h1m-3 3h1m-8-4h1m-2 8h1m-5-6h1m-11 5h1m-1 1h1m-2-2h1m-6-1h1m-3-3h1m-5-1h1m-14 7h1m-2-11h1m-2 6h1m-11 5h1m-17-2h1m-2-8h1m-10 10h1m-3-7h1m-3 8h1m-6-11h1m-7 4h1m-4-2h1m-3 4h1m-2-7h1m-6 4h1m-3-1h1m-4 7h1m-11 0h1m-6 2h1m-5-10h1m-5 1h1m-6-3h1m-4 9h1m-5-9h1m-1 6h1m-4-5h1m-14 0h1m-7 7h1m-2 3h1m-6 1h1m-3-3h1m-4-2h1m-4 1h1m-4-1h1m-11-4h1m-10 4h1m-6 3h1m-32-10h1m-11 3h1m-11 2h1m-25-2h1m-18 1h1m-10 8h1m-28-11h1m-15 8h1m-23-4h1m-4 1h1m-16-3h1m51 20h1m13-8h1m4 5h1m24-8h1m9 11h1m10-2h1m18-5h1m1-2h1m34 8h1m13 0h1m6 1h1m1-9h1m8 8h1m0-5h1m6 7h1m0-5h1m3 2h1m0-1h1m15 0h1m7-8h1m0 0h1m-1 9h1m15-1h1m6-2h1m13 4h1m2-3h1m6 4h1m4 0h1m-1-1h1m11 1h1m1-4h1m4-4h1m1 7h1m1-9h1m1 11h1m2-10h1m0-1h1m2 6h1m4-2h1m4 4h1m13-3h1m8-4h1m0-2h1m0 8h1m1 1h1m2-6h1m2-2h1m5 11h1m-1-2h1m4-7h1m3-3h1m-1 11h1m6 1h1m1-8h1m1 4h1m-1-3h1m-1 4h1m12 0h1m0 0h1m12-2h1m2-1h1m0-1h1m1-1h1m17 6h1m-5 8h1m-8 4h1m-2-3h1m-7-1h1m-5 3h1m-1 2h1m-6-6h1m-3 3h1m-6-5h1m-3-2h1m-8 5h1m-9 2h1m-10-1h1m-8 2h1m-3 2h1m-3-10h1m-2 0h1m-2 8h1m-2 3h1m-3-9h1m-1 0h1m-15 7h1m-6 2h1m-5-4h1m-13 3h1m-5-8h1m-4 4h1m-3 3h1m-2-2h1m-4-2h1m-4-6h1m-7 3h1m-25 7h1m-2 0h1m-16-6h1m-4 1h1m-4-5h1m-5 3h1m-5 8h1m-3-10h1m-23 6h1m-2 0h1m-13 0h1m-3-3h1m-15 8h1m-1-10h1m-7 6h1m-5-2h1m-2-5h1m-7 9h1m-10-8h1m-17 7h1m-43-8h1m-4 3h1m-29-2h1m-9 2h1m-18 4h1m-8 1h1m-47-2h1m-48 10h1m147 7h1m27-12h1m3 3h1m41 3h1m5 0h1m5 6h1m22-2h1m0-3h1m1-1h1m14 4h1m1-7h1m2 0h1m6 5h1m2-6h1m3 9h1m0-7h1m4 1h1m2-2h1m2 6h1m-1-7h1m0 2h1m1 1h1m3 2h1m3-2h1m7 7h1m0-7h1m-1-5h1m1 6h1m3-5h1m0 5h1m15-3h1m2 8h1m17-3h1m19 0h1m1 3h1m-1-9h1m16 1h1m2 4h1m2-2h1m2 5h1m3-5h1m2 5h1m5 1h1m15-7h1m6 4h1m29 2h1m18-4h1m-30 7h1m-5 2h1m-4 6h1m-1-8h1m-1-1h1m-12 10h1m-6-2h1m-6-7h1m-2-1h1m-8 7h1m-8-3h1m-5 3h1m-8 1h1m-3-8h1m-5 5h1m-6 3h1m-1-6h1m-3 8h1m-7-3h1m-2 1h1m-1 1h1m-2-1h1m-1 0h1m-7-2h1m-6 1h1m-11-7h1m-9 7h1m-1-5h1m-12 7h1m-13-2h1m-2 4h1m-8-8h1m-1-3h1m-22 11h1m-5-1h1m-2-7h1m-9 1h1m-11-3h1m-4 0h1m-11 6h1m-1 4h1m-2-5h1m-17 4h1m-4-1h1m-1-5h1m-3-1h1m-26 1h1m-2 8h1m-6-8h1m-5-3h1m-30 3h1m-25 8h1m-2-10h1m-3 2h1m-20 4h1m-14-8h1m-59 22h1m39-1h1m48-8h1m32 1h1m15-1h1m2 3h1m10 4h1m9-6h1m4 8h1m4-9h1m-1 8h1m11-1h1m1-4h1m11 4h1m8-7h1m2 1h1m-1 5h1m1-3h1m3 5h1m4-1h1m2-3h1m10 1h1m0-3h1m-1-2h1m5 5h1m7-4h1m-1 4h1m7 4h1m1 1h1m16-6h1m7-4h1m1 7h1m4-4h1m3-2h1m11 4h1m2-4h1m-1 8h1m0-4h1m1-1h1m-1 2h1m0 3h1m-1 2h1m1-5h1m1-1h1m-1 1h1m5-2h1m-1 4h1m4-5h1m2 6h1m0-2h1m5-7h1m2 7h1m0 1h1m1-5h1m7 0h1m4-3h1m5 3h1m2 0h1m2 7h1m2 1h1m0-2h1m18 0h1m5-7h1m20 5h1m-3 8h1m-15-2h1m-8 9h1m-15-10h1m-4-1h1m-2 5h1m-2 0h1m-4 0h1m-1 2h1m-2-1h1m-10 0h1m-4 5h1m-5-11h1m-6 1h1m-4 11h1m-4-5h1m-11 4h1m-1-1h1m-6-4h1m-1-1h1m-4 4h1m-17-4h1m-2 2h1m-5 3h1m-4-2h1m-1-1h1m-11-5h1m-5 2h1m-2-2h1m-5 0h1m-4 5h1m-8 3h1m-2 0h1m-7-3h1m-7 5h1m-2-1h1m-14-1h1m-3 0h1m-6-4h1m-4-5h1m-5 7h1m-3-6h1m-5-1h1m-3 1h1m-3 6h1m-2-5h1m-3-1h1m-8 4h1m-8 5h1m-6-4h1m-2 3h1m-4 2h1m-4-12h1m-2 9h1m-5-5h1m-4 1h1m-3 5h1m-2-4h1m-7-6h1m-6 6h1m-63-3h1m-20-3h1m-111 1h1m-2-1h1m-40 19h1m74 4h1m18 1h1m30-1h1m124-7h1m3 7h1m2-9h1m3 4h1m3-3h1m14-2h1m6 4h1m0-3h1m2 9h1m2-4h1m10 0h1m-1-6h1m-1 1h1m1 2h1m3 1h1m2 2h1m2-7h1m0 12h1m2-5h1m0-3h1m0 2h1m4 3h1m2-4h1m1-2h1m7 9h1m-1-2h1m13-8h1m3-1h1m1 2h1m-1 3h1m15 6h1m1-4h1m6-4h1m-1 2h1m0 2h1m2 4h1m4-2h1m5-4h1m0 4h1m0-3h1m1 0h1m11 4h1m16 1h1m2-9h1m0 0h1m7-3h1m-1 12h1m22 1h1m-33 7h1m-11-6h1m-1 3h1m-14 4h1m-2-1h1m-1-6h1m-3 2h1m-6 1h1m-3-2h1m-7 9h1m-8 0h1m-1-9h1m-3 6h1m-8-7h1m-4 0h1m-8-1h1m-7 3h1m-13 6h1m-10-2h1m-3-3h1m-3-3h1m-2 10h1m-4-8h1m-5-3h1m-2 3h1m-3 1h1m-9 3h1m-7 4h1m-4-7h1m-1-1h1m-3 2h1m-7 2h1m-7-7h1m-2 1h1m-5 9h1m-9-5h1m-9 0h1m-3-2h1m-5-4h1m-10 3h1m-3 5h1m-5-3h1m-4 7h1m-2-9h1m-12 6h1m-4 2h1m-22-5h1m-15 4h1m-1 1h1m-13-8h1m-3 8h1m-20-2h1m-20 0h1m-32-1h1m-105 0h1m-9-1h1m91 8h1m76 1h1m6 4h1m42-5h1m1 8h1m26-5h1m1-5h1m-1 4h1m4 2h1m3-2h1m0 0h1m1 0h1m3 4h1m0-5h1m6-2h1m2 9h1m10 1h1m2-5h1m2 3h1m2 0h1m3-8h1m6-1h1m3 9h1m7-6h1m0 5h1m4 3h1m10-10h1m1-2h1m9 10h1m3 2h1m-1-9h1m1 5h1m0-4h1m3 4h1m7 0h1m8-3h1m4 6h1m4-5h1m8 2h1m-1-8h1m1 3h1m1 2h1m18 0h1m4-2h1m9 9h1m0-1h1m6-3h1m6-8h1m-14 20h1m-12-1h1m-9-3h1m-7-1h1m-18-2h1m-13 7h1m-11 0h1m-6-8h1m-9 0h1m-4 3h1m-3 2h1m-8 4h1m-6-5h1m-1-3h1m-2 3h1m-3 3h1m-4-2h1m-5-3h1m-2 3h1m-7 2h1m-13-2h1m-2-1h1m-9 5h1m-11-1h1m-6 1h1m-7-1h1m-2 2h1m-15-8h1m-2 5h1m-22 0h1m-2 2h1m-14 1h1m-4-5h1m-5-2h1m-3 4h1m-8 3h1m-7-9h1m-5-1h1m-6 0h1m-3 11h1m-10-2h1m-14 0h1m-177-9h1m-26 10h1m-7 14h1m23-9h1m111 4h1m91 4h1m16-9h1m11-2h1m9 3h1m21-1h1m28 5h1m15 5h1m38-9h1m5-1h1m0 3h1m2-1h1m30 2h1m12-2h1m28 1h1m12 2h1m-18 8h1m-10 1h1m-4 1h1m-7 2h1m-17-5h1m-7 0h1m-12 1h1m-1 7h1m-16-2h1m-14-5h1m-14 9h1m-16-4h1m-46-7h1m-19 5h1m-38 2h1m-28-3h1m-3 4h1m-3 0h1m-3-8h1m-120 1h1m-45 7h1m-2-7h1m-32 9h1m-22 12h1m25-4h1m10-7h1m2 0h1m198 8h1m10 4h1m0-6h1m3 2h1m3-4h1m4 0h1m22-2h1m26 7h1m4 2h1m18-6h1m5 3h1m4-2h1m10 4h1m27-8h1m29 5h1m7-1h1m13 3h1m9 2h1m7-1h1m9-6h1m27 8h1m-7 12h1m-22 0h1m-17 0h1m-7 0h1m-9-6h1m-7-3h1m-11 3h1m-5-4h1m-8 1h1m-7 0h1m-19 7h1m-6-4h1m-4 3h1m-15 2h1m-5 1h1m-4-1h1m-22-3h1m-26-2h1m-12 3h1m-1-8h1m-14 0h1m-9 7h1m-61 2h1m-79-2h1m-6-5h1m-18-2h1m-31 6h1m-31-6h1m-2 2h1m33 14h1m16-2h1m33 5h1m89 3h1m2-5h1m2 4h1m47-2h1m1-1h1m4-2h1m7 2h1m4-1h1m10 1h1m17-6h1m13 5h1m44 3h1m1-1h1m7-3h1m7 1h1m25 1h1m18 0h1m18 3h1m4 0h1m19 11h1m-32-4h1m-5 2h1m-3 5h1m-10-9h1m-4 1h1m-19 8h1m-25-1h1m-23-6h1m-47-3h1m-23 2h1m-40 5h1m-24 0h1m-26-9h1m-2 10h1m-10-3h1m-4 1h1m-28 3h1m-111 0h1m-40-8h1m-49 2h1m94 13h1m39-4h1m10-2h1m10 1h1m29 2h1m0-2h1m3 7h1m33 1h1m33-2h1m3 2h1m115-7h1m1 3h1m39 2h1m6-5h1m11 1h1m5-1h1m22 10h1m-26 10h1m-4-4h1m-13-2h1m-5 7h1m-5-4h1m-5 0h1m-12 0h1m-13-1h1m-3 0h1m-23 6h1m-7 0h1m-39-3h1m-35-8h1m-33 2h1m-19-2h1m-16 0h1m-10 3h1m-16-2h1m-6 1h1m-3 3h1m-35 2h1m-3-5h1m-80 0h1m27 14h1m24 6h1m55-4h1m10-4h1m0 0h1m6 9h1m3-10h1m8 3h1m10-3h1m1 5h1m0 1h1m37-8h1m2 8h1m103 1h1m18-5h1m32-2h1m11 14h1m-96-1h1m-10-2h1m-27 2h1m-10-2h1m-9 9h1m-20-4h1m-15-2h1m-20 5h1m-4-8h1m-15 5h1m-8 5h1m-2-5h1m-7 0h1m-22-5h1m-19 1h1m-93 8h1m-33-9h1m67 23h1m63-5h1m20 3h1m18-3h1m42-1h1m29 3h1m0 3h1m63-9h1m-17 18h1m-43 3h1m-11-11h1m-17 3h1m-6-4h1m-6 5h1m-17 4h1m-3-3h1m-7 1h1m-52 0h1m-7 2h1m15 15h1m11-1h1m18-7h1m28-3h1m1 3h1m10-3h1m20 5h1m55-5h1m-86 21h1m-17-4h1m-39-2h1m-14-1h1m2 12h1" stroke="#9649a3"/>
<path d="M1686 154h1m104-2h1m15 2h1m-112 9h1m-55 10h1m168-2h1m30 4h1m-53 20h1m67-3h1m-62 20h1m-171 2h1m-36 1h1m88 13h1m196 7h1m-363 12h1m222 1h1m23 0h1m49 15h1m-151 4h1m144 10h1m72 23h1m-81 5h1m-104 3h1m55 10h1m160 17h1m-158-11h1m-57 8h1m-19-4h1m-213 0h1m-19 19h1m402-4h1m69 2h1m7 10h1m-34-7h1m-2 6h1m-10 3h1m-183 5h1m163 6h1m6-4h1m4 0h1m7-2h1m2 4h1m2-3h1m0 8h1m4-7h1m3 7h1m3-1h1m2-2h1m3-1h1m13 12h1m-6-5h1m-6 10h1m-7-4h1m-1 2h1m-6-9h1m-3 10h1m-4-3h1m-4-4h1m-16 5h1m-3-8h1m-6 10h1m-113-9h1m-130-1h1m245 13h1m8 1h1m5-3h1m2 4h1m-1-1h1m3-1h1m-1 7h1m5 2h1m6-2h1m-3 9h1m-2 2h1m-2 3h1m-7-7h1m-11-2h1m-8 3h1m-2-5h1m-1 0h1m-188 20h1m47 3h1m116-3h1m3 0h1m13 2h1m1-9h1m0 10h1m11-10h1m3 0h1m2 5h1m6 5h1m3-2h1m1 1h1m2-2h1m2-1h1m-19 15h1m-15 0h1m-2-9h1m-1 1h1m-5 8h1m-6-1h1m-3 2h1m-2-9h1m-3 1h1m-3 0h1m-2 7h1m-21 0h1m-22 2h1m-44-2h1m-129-2h1m-149 0h1m-7-7h1m127 17h1m52 1h1m112 2h1m3-3h1m16 1h1m1 0h1m9 0h1m5-5h1m1 5h1m1 5h1m-1-5h1m4-7h1m2 3h1m6 7h1m5-9h1m4 4h1m0-1h1m0 6h1m0-9h1m0 7h1m8-2h1m0 4h1m4-1h1m3-3h1m1-1h1m3 3h1m3-1h1m21 7h1m-17 6h1m-6-5h1m-3-2h1m-1 4h1m-6 3h1m-9-3h1m-2 5h1m-2-5h1m-10 1h1m-3-4h1m-1-1h1m-2 2h1m-3 0h1m-1-2h1m-5 3h1m-14 0h1m-3 8h1m-2-11h1m-1 6h1m-11-4h1m-1-2h1m-9 3h1m-9-1h1m-6-1h1m-1 9h1m-3-2h1m-1-8h1m-2 6h1m-5 4h1m-10-8h1m-15 6h1m-30-4h1m-4 5h1m-4-3h1m-102-1h1m-6-1h1m-4 4h1m-170 2h1m266 10h1m7 2h1m17-2h1m2-9h1m6 4h1m-1 5h1m10-7h1m4 2h1m1 1h1m3-1h1m0 6h1m0-9h1m0 6h1m-1-1h1m0 6h1m0-2h1m1-10h1m4 11h1m-1 0h1m1-8h1m7 8h1m-1-10h1m11 4h1m0-3h1m0-1h1m7 2h1m-1 1h1m0-3h1m3 7h1m10-4h1m3-3h1m0 5h1m8-2h1m-1 5h1m0-2h1m-1 1h1m2-1h1m2-6h1m-1 0h1m9-1h1m2 6h1m4 4h1m8-2h1m4-4h1m1 12h1m-11-1h1m-8 0h1m-12 8h1m-2-9h1m-4 3h1m-7-4h1m-8 0h1m-3 8h1m-6-6h1m-1 5h1m-3-8h1m-3 8h1m-3-2h1m-3-4h1m-3 6h1m-2 3h1m-3-7h1m-2 8h1m-4-7h1m-16-1h1m-2-3h1m-1 7h1m-2-4h1m-2-3h1m-1 4h1m-1 2h1m-9 3h1m-14-10h1m-9 8h1m-5 2h1m-1 0h1m-5-9h1m-4 9h1m-1-4h1m-4 3h1m-12-4h1m-9-2h1m-13 5h1m-7-1h1m-2-1h1m-4 4h1m-5-9h1m-3 0h1m-4 5h1m-2-1h1m-2-2h1m-7 8h1m-6-8h1m-12 6h1m-34-7h1m-1 19h1m20-2h1m4-4h1m4 8h1m8-6h1m0-2h1m-1 8h1m0-3h1m0 4h1m10-2h1m-1-9h1m1 8h1m9 2h1m0-1h1m-1 0h1m0-7h1m-1 7h1m0-4h1m1 4h1m0-2h1m1 0h1m0 1h1m0-4h1m5 2h1m1-2h1m0-1h1m0 1h1m0 3h1m0-3h1m3-4h1m3 10h1m0-10h1m-1 10h1m2-2h1m0-2h1m3-1h1m3 6h1m-1-7h1m1-2h1m0 3h1m1 5h1m-1-10h1m3 8h1m3-1h1m0-6h1m2 1h1m1-1h1m-1 0h1m-1 4h1m0-2h1m0 4h1m8-2h1m0-3h1m-1-1h1m3 4h1m4 0h1m7-3h1m0 5h1m1-3h1m-1 0h1m1 3h1m5-7h1m3 10h1m3-10h1m4 2h1m3 6h1m0-4h1m-1 3h1m2-2h1m6 1h1m7-2h1m0-3h1m-1-1h1m0 1h1m9 1h1m7 8h1m1-10h1m5 1h1m2 1h1m6 7h1m3 4h1m-4 2h1m-6 2h1m-1-5h1m-5 2h1m-7 4h1m-12 0h1m-7 2h1m-3-2h1m-2-6h1m-1 8h1m-2-5h1m-3-3h1m-6 0h1m-6 6h1m-2-2h1m-2 5h1m-4-1h1m-2-4h1m-7-3h1m-10 9h1m-4-6h1m-14 1h1m-4-3h1m-1 6h1m-3-1h1m-3-5h1m-2 1h1m-1-3h1m-6 10h1m-10-6h1m-8-4h1m-2 2h1m-3-1h1m-1 5h1m-2 5h1m-4-3h1m-2-2h1m-1-3h1m-4 5h1m-1-1h1m-7 0h1m-10-5h1m-2 5h1m-4 3h1m-4-4h1m-1-4h1m-1 0h1m-2 6h1m-10-1h1m-4-1h1m-3-6h1m-2 8h1m-4 3h1m-8-11h1m-10 6h1m-10 4h1m-2-1h1m-8-8h1m-2 5h1m-11-1h1m-2 2h1m-2 3h1m-4 0h1m-1-8h1m-2-1h1m-3 9h1m-4 0h1m-1-10h1m-4 4h1m-20 1h1m-41-2h1m-119 9h1m167 5h1m21-5h1m1 5h1m4-4h1m7 10h1m1-11h1m-1 7h1m0-8h1m1 6h1m3 2h1m10 3h1m3-3h1m0-1h1m0 1h1m0-1h1m1-2h1m3 6h1m-1-3h1m1-8h1m4 2h1m4 0h1m6-1h1m-1 9h1m11-10h1m5 0h1m-1 6h1m6 6h1m0-11h1m-1 5h1m4 3h1m4-5h1m2 6h1m2-4h1m0 0h1m-1 6h1m4-9h1m1-2h1m2 4h1m1 5h1m1-2h1m29 1h1m2-6h1m2 6h1m5-2h1m4 3h1m0-1h1m0-4h1m-1 3h1m3-7h1m0 10h1m2-10h1m2 10h1m0-1h1m-1-4h1m7-4h1m-1-2h1m6 10h1m7-7h1m1 4h1m-13 12h1m-8-5h1m-11 9h1m-2-8h1m-16 7h1m-2-7h1m-2 1h1m-3-3h1m-2 4h1m-9 0h1m-2 1h1m-1 1h1m-8-5h1m-6 3h1m-9 1h1m-7-3h1m-6 1h1m-9 2h1m-3-6h1m-4 5h1m-1-4h1m-1 4h1m-2 2h1m-2 0h1m-3-6h1m-24 6h1m-8-2h1m-3-2h1m-3 3h1m-2 1h1m-2 2h1m-3 2h1m-9-4h1m-8 2h1m-3-8h1m-4 9h1m-7-3h1m-2-3h1m-3 5h1m-2-5h1m-6-2h1m-1 9h1m-2 0h1m-1-6h1m-2 0h1m-9-1h1m-7 5h1m-2-7h1m-1 3h1m-18-5h1m-277 18h1m284-4h1m6-1h1m4 0h1m18-1h1m-1 1h1m3 2h1m8-3h1m4 5h1m4 1h1m-1 3h1m1-4h1m4-1h1m1 6h1m6 2h1m0-8h1m4 1h1m0 0h1m2 3h1m0-1h1m1-3h1m-1 5h1m1 0h1m-1 2h1m-1-11h1m7 5h1m3 0h1m1 2h1m3-2h1m2 5h1m0-5h1m2-5h1m0 8h1m-1 4h1m3-5h1m2-5h1m4 3h1m-1-4h1m0 2h1m3 2h1m3 5h1m3-6h1m-1-2h1m1 7h1m-1-1h1m0-7h1m2 4h1m1-3h1m2-1h1m-1 5h1m0 0h1m7 1h1m1-3h1m-1-2h1m7 4h1m2-3h1m1-2h1m2 4h1m-1 1h1m2 1h1m0-2h1m2 7h1m-12 9h1m-8-3h1m-1-4h1m-6 10h1m-7-2h1m-3-6h1m-2 2h1m-1-2h1m-2 4h1m-13-3h1m-10-3h1m-4 10h1m-2-12h1m-1 10h1m-2-7h1m-3 0h1m-1 6h1m-2-8h1m-5 10h1m-4-2h1m-2 1h1m-3 1h1m-4 0h1m-3-5h1m-2 0h1m-5 1h1m-1 2h1m-6-2h1m-1-1h1m-4 3h1m-3 2h1m-8-1h1m-2-7h1m-2-1h1m-16 0h1m-4 7h1m-2-4h1m-6-5h1m-6 3h1m-2 0h1m-1-2h1m-17 6h1m-189 8h1m155 6h1m83-3h1m11-3h1m5 8h1m3-2h1m2-4h1m-1 5h1m2-1h1m0-9h1m0 11h1m2-8h1m2 9h1m5-5h1m-1 4h1m0 1h1m2-6h1m6 3h1m5-8h1m0 1h1m0 4h1m2 4h1m5 2h1m4-12h1m-31 18h1m-3-4h1m-5 0h1m-9 0h1m-11 2h1m-2-2h1m-2-1h1m-4 0h1m-106 11h1m-1-2h1m-196-8h1m301 18h1m-10 7h1m-167 9h1" stroke="#d81e8e"/>
<path d="M544 763h1m-38 13h1m-52 22h1m23 4h1m82 24h1m70 35h1m-286-4h1m193 14h1m-6 25h1m18 6h1m-18 21h1m-185 17h1m12 16h1m140 25h1m-241 22h1m20 11h1m239 5h1m56-2h1m-371 71h1m123-7h1m10 5h1m2 1h1m254 12h1m-153-4h1m-5 1h1m-9 2h1m-8 6h1m-192 0h1m-29-8h1m-35 9h1m52-1h1m90 6h1m109 1h1m18 1h1m101 11h1m-74-3h1m-64 3h1m-10 3h1m-83-8h1m-26 0h1m-11 3h1m-87 12h1m81-3h1m31-2h1m14 9h1m38 12h1m-62-2h1m-99 1h1m-13 1h1m-28 9h1m152-1h1m23-1h1m7-3h1m113 4h1m-11 14h1m-113 0h1m-106-6h1m-36 8h1m-28-7h1m1 21h1m25-9h1m11 1h1m167 2h1m6 0h1m10 6h1m52-3h1m158-5h1m-182 10h1m-18 2h1m-6 7h1m-3-2h1m-2-7h1m-3 6h1m-14-4h1m-1 6h1m-5-4h1m-1 1h1m-1 1h1m-7-4h1m-1 8h1m-5-10h1m-8 8h1m-3-4h1m-2 0h1m-2 1h1m-3 1h1m-3 5h1m-3-3h1m-3-2h1m-4 5h1m-4-3h1m-4-7h1m-13 9h1m-6-4h1m-5 0h1m-60 3h1m-43-10h1m77 22h1m19-10h1m0 7h1m7 5h1m4-4h1m-1-7h1m2 2h1m10 4h1m2 0h1m0-4h1m0 1h1m2-4h1m2 8h1m-1-6h1m2 4h1m2 4h1m2-8h1m-1 4h1m1 3h1m0-2h1m1-6h1m7 8h1m-1-4h1m0 1h1m5-1h1m3-4h1m6 0h1m2 6h1m-1-1h1m0-1h1m0-1h1m4-1h1m2-1h1m3 9h1m1-2h1m8-2h1m11 4h1m0 0h1m10-1h1m13-7h1m9 21h1m-20-1h1m-7-4h1m-5 2h1m-2-6h1m-3 7h1m-2-9h1m-2 5h1m-6 4h1m-3-6h1m-7-3h1m-2 8h1m-4-4h1m-5 6h1m-5-5h1m-6 4h1m-5-4h1m-2 2h1m-3-6h1m-1-2h1m-2 3h1m-5 6h1m-2-9h1m-1 5h1m-3-5h1m-7 7h1m-3 1h1m-3 1h1m-10 0h1m-1 0h1m-7-8h1m-9 5h1m-7-5h1m-6 5h1m-4-3h1m-4-3h1m-4 10h1m-55-1h1m-18-8h1m-8 0h1m-4 1h1m-25 20h1m19 0h1m28-7h1m58 1h1m2-2h1m16 7h1m0 2h1m0-5h1m-1-1h1m-1 1h1m0 0h1m4 0h1m3 2h1m10-4h1m0-4h1m-1 1h1m3 5h1m0-4h1m3 3h1m3-2h1m0 8h1m14-2h1m-1-4h1m2-3h1m1 0h1m1 5h1m0 1h1m1-5h1m-1 6h1m1-2h1m-1 2h1m-1-3h1m0-4h1m1 9h1m2-7h1m4 8h1m0-7h1m1-5h1m-1 5h1m0 5h1m0-5h1m2-2h1m1 0h1m3 8h1m0-10h1m5 4h1m6 4h1m33-1h1m-34 5h1m-8 6h1m-3 0h1m-4 3h1m-5-2h1m-3-7h1m-1 8h1m-2-3h1m-1 2h1m-3-2h1m-8-3h1m-2 0h1m-4 4h1m-1 1h1m-6-4h1m-2 7h1m-2-2h1m-5-7h1m-2 1h1m-2 6h1m-1-4h1m-2 6h1m-2 0h1m-3-8h1m-2-1h1m-2 3h1m-1-4h1m-5 4h1m-3-2h1m-6 3h1m-9 4h1m-1-5h1m-2 0h1m-1-3h1m-3 2h1m-2 0h1m-1 5h1m-7-5h1m-3 2h1m-1 5h1m-6-8h1m-2 2h1m-1-2h1m-1 0h1m-2 4h1m-1-3h1m-2 5h1m-1 0h1m-2-2h1m-3 3h1m-3-1h1m-3-2h1m-5-1h1m-3-2h1m-2 4h1m-1-2h1m-2-2h1m-3 5h1m-1-4h1m-9 1h1m-1-5h1m-1 10h1m-57-7h1m-26 1h1m-53 3h1m36 13h1m82-5h1m8 1h1m-1 2h1m1 0h1m2-6h1m6 9h1m0-3h1m7-2h1m4-4h1m-1 1h1m0 1h1m0 6h1m7-6h1m2 9h1m1-6h1m0 4h1m7-3h1m-1-3h1m-1 5h1m13-7h1m2 7h1m2-2h1m7-4h1m3 2h1m3 0h1m0-4h1m1 11h1m0-11h1m-1 9h1m2-4h1m2-5h1m10 6h1m14-4h1m-22 19h1m-10-3h1m-3-6h1m-4 3h1m-3-4h1m-9 7h1m-2-2h1m-6 1h1m-6 0h1m-8-1h1m-5 0h1m-2 5h1m-1 0h1m-13 0h1m-4-8h1m-2 0h1m-5 2h1m-1 1h1m-2 1h1m-3 5h1m-8-5h1m-1-4h1m-10 2h1m3 11h1m7 9h1m0-8h1m1-1h1m3-1h1m1 0h1m9-1h1m3 6h1m-1-6h1m16 8h1m0-5h1m0 4h1m4-2h1m0-5h1m2 1h1" stroke="#9f9f9f"/>
<path d="M218 1019h1m4 1h1m28 0h1m-15 4h1m-8-3h1m-2 2h1m-10 7h1m-1 1h1m-9-3h1m-5-1h1m-11-6h1m-14 18h1m0-2h1m16-4h1m2 6h1m1 1h1m-1 1h1m0 2h1m1-2h1m1-2h1m2-7h1m3 3h1m0-2h1m0 8h1m0-3h1m1 1h1m-1 0h1m2-6h1m3 1h1m2 4h1m0 3h1m-1-2h1m5-4h1m0 9h1m-1-10h1m13 6h1m-1 6h1m-5 1h1m-6 7h1m-10 1h1m-2 1h1m-5-5h1m-2-3h1m-4-3h1m-1 5h1m-4 1h1m-6-3h1m-1 6h1m-4-3h1m-2-6h1m-3 3h1m-3-2h1m-4 7h1m-5 3h1m-1-1h1m-1-11h1m-2 9h1m-1-1h1m-2 3h1m-6 0h1m-2-3h1m-1-2h1m-3 4h1m-5-5h1m-19 9h1m12 9h1m0-3h1m-1-1h1m0-3h1m0 4h1m1-1h1m-1-5h1m1 7h1m2-1h1m1-7h1m6 4h1m2-4h1m-1 11h1m3-7h1m-1-3h1m3 9h1m-1 1h1m3 0h1m1-11h1m0 10h1m0 1h1m6-1h1m3-6h1m3-1h1m0-4h1m1 10h1m-1 0h1m2-9h1m5 9h1m-5 10h1m-3-7h1m-9 3h1m-6-2h1m-2 0h1m-8 9h1m-6 0h1m-1-10h1m-5 6h1m-6-2h1m-4-2h1m-13 1h1m-2 2h1m-3-5h1m-6 4h1m-4-4h1m-2 1h1m-2 4h1m-5 2h1m-2-6h1m-10 12h1m11 3h1m1 2h1m4 0h1m2-2h1m8-3h1m0-1h1m7 3h1m-8 10h1m79 22h1m79 31h1m0 27h1m-109 6h1m-49 21h1m114 13h1m-3 8h1m-52-1h1m52 8h1" stroke="#3680c4"/>
<path d="M466 798h1m-34 13h1m85 15h1m-11 3h1m-129 1h1m-7 4h1m17 15h1m7-3h1m5 1h1m78 3h1m142 12h1m-200 13h1m185-8h1m-13 11h1m-182-2h1m-45 24h1m264-8h1m-38 16h1m-232-1h1m-24 3h1m-37 1h1m259 24h1m-175-9h1m-1 2h1m-4 7h1m-44-3h1m-54-1h1m-40 3h1m92 12h1m5-3h1m115-1h1m58-5h1m114 17h1m-41-1h1m-38 6h1m-142-1h1m-33-6h1m-81 0h1m-34 0h1m18 20h1m19-3h1m10-3h1m103 4h1m186 10h1m-105 3h1m-278 8h1m57 2h1m0-7h1m105-2h1m118 4h1m12 2h1m-56 9h1m-69 6h1m-204 13h1m27-10h1m1 6h1m80 3h1m1-4h1m39 2h1m302 16h1m-221-3h1m-64-7h1m-145 7h1m-2 3h1m-1-3h1m-5-5h1m-18 8h1m-38 10h1m12-4h1m3-2h1m7 8h1m2-10h1m0 10h1m0-10h1m6 2h1m-1-2h1m9 2h1m11 3h1m3-3h1m257-1h1m56 6h1m18-3h1m-104 17h1m-101-3h1m-136-1h1m-3-6h1m-17 5h1m-2-2h1m-14 6h1m-15 2h1m-2-8h1m-4 1h1m-2 3h1m-10 13h1m0-6h1m3 9h1m17-3h1m7-8h1m0 6h1m4 5h1m8 0h1m10 0h1m2-1h1m1 0h1m10-1h1m4 2h1m6-4h1m15 4h1m40 1h1m68-9h1m16 1h1m112 2h1m0 3h1m153-3h1m-31 13h1m-241-3h1m-7 6h1m-59-5h1m-20 3h1m-5 1h1m-1 0h1m-3 2h1m-10-6h1m-10 6h1m-3-3h1m-2 1h1m-8 1h1m-4-2h1m-1-5h1m-7 5h1m-2 2h1m-4 1h1m-11-9h1m-2 2h1m-2-2h1m-2 0h1m-2 10h1m-2-7h1m-2 1h1m-7-3h1m-4 6h1m-2-8h1m-3 2h1m-11 5h1m-3-1h1m-2-3h1m-5-1h1m-1 0h1m-4 3h1m-2 1h1m-7 5h1m-3-8h1m-5 7h1m-3-2h1m-1 0h1m-2 1h1m-4-2h1m-2-4h1m-1 8h1m-6-8h1m-5 7h1m-3-4h1m-2 2h1m-2-5h1m-14-1h1m-14 7h1m-5-1h1m-1 1h1m-2 1h1m-2 4h1m12 7h1m2-9h1m3 4h1m-1 2h1m3 0h1m5-4h1m2 5h1m6 3h1m0 0h1m15 1h1m0-2h1m0-2h1m1-8h1m5 9h1m1-2h1m1-1h1m4-5h1m1 6h1m-1-5h1m5 3h1m-1-2h1m1-1h1m3 6h1m2 0h1m1-5h1m0 3h1m1 1h1m7-6h1m-1 5h1m-1 3h1m4-7h1m-1 7h1m0-8h1m-1 5h1m0-5h1m-1 2h1m-1 3h1m7-3h1m-1 0h1m4 5h1m5-7h1m0 10h1m-1-6h1m-1 7h1m0-6h1m4-4h1m2 1h1m1 6h1m1-7h1m1 3h1m0 2h1m4 2h1m6-3h1m0 4h1m3-4h1m0 3h1m2-3h1m1 4h1m1-5h1m3 2h1m6 1h1m-1 0h1m3 1h1m6 1h1m34-7h1m15 8h1m11-6h1m53 18h1m-53-3h1m-55-5h1m-8 2h1m-14 3h1m-5 3h1m-2-3h1m-3-1h1m-2-2h1m-9-4h1m-5 0h1m-1 5h1m-6-2h1m-1 8h1m-5-8h1m-5-3h1m-2 4h1m-4-4h1m-5 1h1m-6-1h1m-2 1h1m-3 0h1m-9 8h1m-1-2h1m-3 1h1m-4-4h1m-2-3h1m-1-1h1m-2 6h1m-3 4h1m-1-2h1m-3-8h1m-2 5h1m-3-2h1m-2-3h1m-1 3h1m-2 3h1m-2-1h1m-1-2h1m-6 4h1m-8 3h1m-3-9h1m-3 4h1m-1 0h1m-2 3h1m-2-5h1m-2-2h1m-4-2h1m-2 4h1m-2-3h1m-4 5h1m-3-2h1m-9-3h1m-3 1h1m-1 2h1m-5-1h1m-5 3h1m-2-1h1m-2-2h1m-2 3h1m-4 3h1m-1-1h1m-2-2h1m-1-2h1m-6 3h1m-1 4h1m-2-4h1m-8-6h1m-1 7h1m-6-1h1m-5-4h1m-6 3h1m-5 5h1m-4-3h1m-1-6h1m-4 9h1m-20 8h1m0-2h1m4 1h1m-1-5h1m4 9h1m1-7h1m0 1h1m4 4h1m0-2h1m2 4h1m4-5h1m1-3h1m0 0h1m2 2h1m7 7h1m5-2h1m0-5h1m2 0h1m3 7h1m1-1h1m1-6h1m1 0h1m0 3h1m0-6h1m2-1h1m1 9h1m1 3h1m-1-1h1m6-1h1m1 2h1m12-6h1m0 1h1m9 0h1m2-5h1m-1 4h1m1-1h1m4 2h1m4-1h1m2 1h1m1-5h1m5-1h1m8 1h1m-1 7h1m0-5h1m2 0h1m8-4h1m2 1h1m2-1h1m1 1h1m1 9h1m-1-8h1m4 3h1m2 5h1m8-2h1m0 2h1m3-1h1m1 1h1m0-7h1m0 7h1m-1 2h1m3-3h1m-1-8h1m3 2h1m4 5h1m26-1h1m4-1h1m3 4h1m11-8h1m-1 4h1m53 4h1m17 1h1m51-2h1m6 3h1m73-9h1m-8 10h1m-120 4h1m-115 2h1m-7 4h1m-5-10h1m-2 10h1m-3-8h1m-2-2h1m-2 3h1m-1-3h1m-4 5h1m-1 2h1m-2-3h1m-2 6h1m-4-9h1m-4 7h1m-5 0h1m-2-2h1m-1 2h1m-6 1h1m-3-3h1m-2 4h1m-3-1h1m-1-7h1m-9 2h1m-2-3h1m-1 3h1m-5-1h1m-3 0h1m-2 4h1m-2-5h1m-2 1h1m-1 5h1m-2-4h1m-4 3h1m-1-7h1m-7 2h1m-2 2h1m-2 4h1m-4-4h1m-2-2h1m-1-1h1m-1 9h1m-2 1h1m-12-10h1m-6 4h1m-4-1h1m-1-3h1m-7 4h1m-2 5h1m-1 1h1m-5-10h1m-2 2h1m-1 2h1m-3-3h1m-2-1h1m-2-2h1m-8 3h1m-1 4h1m-5-2h1m-2-1h1m-2 5h1m-5-4h1m-1 4h1m-4-6h1m-2-1h1m-3 1h1m-10 4h1m-3-2h1m-2 1h1m-3 5h1m-4-4h1m-10 4h1m-5-2h1m-3 2h1m-12-10h1m-3 10h1m-1-11h1m-2 9h1m-7-6h1m-1 1h1m-2 1h1m-7 5h1m-5-10h1m-2 6h1m-7 3h1m-3-1h1m-2 2h1m-3-3h1m-3-1h1m-3-2h1m-3 2h1m-2 4h1m2 11h1m0 0h1m2-9h1m0 3h1m1 4h1m6-2h1m0 1h1m1 3h1m-1-3h1m-1 1h1m7 1h1m1-3h1m3-1h1m0 4h1m-1 3h1m0-2h1m0-6h1m2-2h1m3 7h1m5-1h1m2-4h1m1 4h1m2-1h1m0 1h1m2-6h1m3 5h1m0 1h1m2 2h1m4-7h1m1 10h1m0-7h1m2-2h1m2 3h1m6-5h1m1 10h1m0-4h1m0 5h1m4-5h1m-1 3h1m1-4h1m6 3h1m-1-5h1m1 1h1m2-2h1m0 9h1m4-9h1m0 2h1m-1 3h1m0-5h1m2 0h1m1-3h1m13 8h1m0-3h1m5 3h1m0-2h1m-1-1h1m1 0h1m7 6h1m4-5h1m7 3h1m6-5h1m6 5h1m-1 2h1m1-11h1m1 6h1m4 0h1m2 1h1m2 0h1m5-2h1m2 3h1m9-4h1m8 0h1m2 6h1m6-7h1m8-1h1m12 1h1m80 0h1m34 15h1m-110 5h1m-16 0h1m-3-4h1m-22 3h1m-13-7h1m-2 0h1m-11 7h1m-2 0h1m-2-5h1m-2-3h1m-7 2h1m-7 5h1m-2-7h1m-2 8h1m-3-4h1m-5 4h1m-1-8h1m-3 10h1m-3-11h1m-1 10h1m-2-5h1m-2-5h1m-1 1h1m-2 8h1m-5-9h1m-2 3h1m-2-4h1m-1 9h1m-1 1h1m-3 0h1m-2-2h1m-1 1h1m-2-1h1m-4-1h1m-2-4h1m-5 1h1m-3 7h1m-3 0h1m-6-7h1m-4 3h1m-5-1h1m-2 5h1m-3-11h1m-1 2h1m-2 4h1m-10 2h1m-4 3h1m-2-3h1m-2 1h1m-1 2h1m-3-1h1m-2-5h1m-1-4h1m-6 10h1m-3 0h1m-3-10h1m-3 6h1m-2-3h1m-4 0h1m-4 7h1m-4-1h1m-3-9h1m-1 8h1m-8 3h1m-2-12h1m-1 11h1m-4-2h1m-3-5h1m-3-4h1m-1 9h1m-2-6h1m-1 5h1m-4-6h1m-9 9h1m-2-6h1m-12 2h1m-8 3h1m-1 0h1m-2-9h1m-1 2h1m-3 8h1m-4-11h1m-5 8h1m-2 1h1m-1-7h1m-10 10h1m-3-7h1m-4-3h1m-3 3h1m-10 7h1m-5-7h1m-5 1h1m-1 2h1m-2 1h1m-1-3h1m-4-5h1m-1 9h1m-2-8h1m-6 20h1m2-1h1m4 0h1m0-5h1m0 7h1m1-7h1m2 2h1m2-3h1m0 2h1m1 2h1m10 0h1m8 0h1m-1-4h1m5-1h1m2 7h1m0-8h1m2 6h1m-1 0h1m0-6h1m0 3h1m0 0h1m-1 6h1m3-9h1m2 10h1m0-1h1m2-6h1m0-2h1m0 8h1m12-10h1m-1 3h1m0 9h1m-1-1h1m0-6h1m0-1h1m12 4h1m-1-6h1m2 3h1m-1-1h1m1-4h1m0 2h1m12 9h1m3-8h1m-1-1h1m0 6h1m0-5h1m2 1h1m0-3h1m2 0h1m2 0h1m-1 0h1m6 0h1m4 3h1m8 3h1m0 1h1m6-3h1m12 3h1m-1-4h1m1 4h1m8 3h1m5-2h1m1-4h1m1-3h1m-1 1h1m4 2h1m0-3h1m6 0h1m3 1h1m6 7h1m37 2h1m226 9h1m-60-7h1m-116 5h1m-23 0h1m-30-4h1m-25 1h1m-8-3h1m-4 6h1m-6 1h1m-1 1h1m-3 3h1m-6-2h1m-5-3h1m-3-5h1m-2 0h1m-3 8h1m-2-8h1m-2 3h1m-1 3h1m-2 2h1m-2-7h1m-2-3h1m-10 12h1m-4-2h1m-1-5h1m-4 7h1m-2-3h1m-4-4h1m-2 6h1m-3-4h1m-3 4h1m-2-7h1m-1 0h1m-2-3h1m-2 2h1m-5 6h1m-2-6h1m-1 7h1m-6-6h1m-6 6h1m-5-5h1m-2-2h1m-2-2h1m-1 1h1m-5 8h1m-4-9h1m-2 4h1m-2-1h1m-2 1h1m-4 1h1m-3 5h1m-2-6h1m-1 0h1m-2-1h1m-3 0h1m-2 6h1m-4 0h1m-3-5h1m-2 6h1m-2-4h1m-2-6h1m-1 0h1m-3 7h1m-3 2h1m-8-4h1m-1-6h1m-1 10h1m-4-1h1m-4-9h1m-4 11h1m-3-6h1m-2-1h1m-3 1h1m-10-4h1m-8 4h1m-3 2h1m-4 3h1m-2-8h1m-5 8h1m-2-2h1m-2 1h1m-1 1h1m-2-5h1m-1-4h1m-2 8h1m-1-5h1m-4 6h1m-6-8h1m-5 7h1m-5-3h1m-11 3h1m-3-1h1m-6 2h1m-3-6h1m-2 6h1m-2-7h1m-2 7h1m-6-2h1m-2 2h1m-1-6h1m-3 5h1m-1-2h1m-6 1h1m-2-3h1m-1-4h1m-7 0h1m-4 7h1m-6-2h1m-1 13h1m6-6h1m2 0h1m4 6h1m-1-2h1m1-5h1m-1 10h1m1 0h1m0-1h1m4-2h1m5-1h1m2 3h1m5-3h1m2-3h1m0 3h1m0-3h1m8 7h1m-1-4h1m4-3h1m0 7h1m0-1h1m0 3h1m1-10h1m-1 9h1m0 0h1m3-3h1m0-2h1m1-5h1m0 9h1m-1-6h1m1 6h1m3-4h1m3-2h1m9 3h1m-1 1h1m0-7h1m-1 1h1m2 4h1m-1 4h1m-1-6h1m6 4h1m-1-8h1m3 0h1m0 3h1m0 7h1m1-4h1m3-5h1m16 4h1m3 7h1m3-12h1m5 2h1m-1 1h1m1-2h1m3 6h1m9 0h1m3 0h1m-1 3h1m0-4h1m1 0h1m0 1h1m0-6h1m-1 3h1m0 5h1m2-1h1m1-4h1m2 4h1m-1-6h1m0 9h1m1-10h1m1 5h1m0 5h1m-1 0h1m0-8h1m1-1h1m1 5h1m2-4h1m6 8h1m0-8h1m-1-2h1m2 9h1m0-6h1m0 2h1m8 3h1m0-6h1m-1 9h1m2-5h1m13 1h1m60 3h1m36-11h1m80 4h1m-73 19h1m-101 1h1m-9-2h1m-4-4h1m-4 1h1m-3-6h1m-3 3h1m-3-2h1m-5 5h1m-4-6h1m-5 2h1m-2 8h1m-15-2h1m-4-8h1m-6 3h1m-4 5h1m-3-5h1m-2 1h1m-3 3h1m-8 0h1m-2-1h1m-3-5h1m-3 3h1m-2 4h1m-9-5h1m-1 1h1m-11 3h1m-6-6h1m-2 8h1m-8 2h1m-3-8h1m-3-2h1m-6 3h1m-2-4h1m-2 8h1m-4-4h1m-3 0h1m-1-3h1m-4 5h1m-3 0h1m-3-7h1m-5 2h1m-2 4h1m-7 4h1m-6-5h1m-2 1h1m-6 6h1m-3-4h1m-3-7h1m-2 8h1m-8-6h1m-1-2h1m-3 2h1m-4 7h1m-2-6h1m-8 5h1m-2-1h1m-8-5h1m-5-1h1m-8-1h1m-3 8h1m-1 0h1m-2-3h1m-3-3h1m-1 3h1m-2-5h1m-7 6h1m-7 4h1m-3-7h1m-1 2h1m-1 0h1m-2 3h1m-2-4h1m-4-2h1m-10 5h1m-2-5h1m-1 6h1m4 11h1m-1-6h1m1 1h1m3-2h1m1 9h1m1-8h1m-1 4h1m2-1h1m8-5h1m4 6h1m0 5h1m1 1h1m-1-6h1m5-5h1m1 10h1m-1-3h1m1-5h1m2-1h1m2 6h1m5 2h1m-1-6h1m-1 1h1m1 5h1m2 1h1m0-9h1m0-2h1m-1 9h1m-1 0h1m2-8h1m0 9h1m2-10h1m3 4h1m4-3h1m2 0h1m-1 4h1m-1 0h1m1-1h1m1 4h1m0-5h1m0 6h1m1-1h1m2-2h1m-1-5h1m0 4h1m8 0h1m4-1h1m6 1h1m-1-5h1m0 8h1m2 0h1m0-2h1m0 0h1m1 4h1m5 0h1m-1-4h1m1-1h1m-1 0h1m2 6h1m4-11h1m1 6h1m-1 2h1m-1 2h1m7-7h1m0 5h1m8 1h1m0 0h1m2-6h1m1 6h1m1-2h1m2 1h1m5-1h1m0-3h1m0 5h1m2-8h1m1 0h1m0 8h1m5-1h1m7 1h1m2-4h1m11 0h1m21 5h1m1-2h1m1-7h1m1 9h1m179-3h1m-110 16h1m-55 0h1m-8-8h1m-2 9h1m-18-7h1m-19-2h1m-16 0h1m-5 1h1m-1-1h1m-2 4h1m-7-3h1m-2 0h1m-5 1h1m-2-3h1m-6 0h1m-2 5h1m-2 0h1m-1-5h1m-3 2h1m-2-3h1m-7 6h1m-1-3h1m-1 5h1m-2-1h1m-11 2h1m-9-1h1m-2-3h1m-5-5h1m-4 3h1m-7 7h1m-1-2h1m-4-8h1m-3 9h1m-1-6h1m-1-1h1m-5 1h1m-3 2h1m-3 0h1m-3 6h1m-7-7h1m-1 6h1m-2-10h1m-3 1h1m-2 5h1m-5-1h1m-3 1h1m-3 4h1m-4-11h1m-3 11h1m-2-5h1m-3-4h1m-5 6h1m-1-3h1m-5 2h1m-4-4h1m-3 7h1m-4-1h1m-2 1h1m-3 2h1m-2 0h1m-3-4h1m-5-5h1m-3 0h1m-2 9h1m-2-4h1m-2 2h1m-1-5h1m-7 2h1m-2-7h1m-1 9h1m-5-1h1m-5 2h1m-4-5h1m-4 7h1m-1-2h1m-1 2h1m-3-6h1m-7 1h1m-1-4h1m-3 9h1m-5-7h1m-4 1h1m-2-6h1m-2 11h1m-4-3h1m-1 11h1m7 1h1m12-6h1m5 1h1m1 4h1m0-6h1m1 8h1m0-8h1m0 7h1m0-7h1m2 3h1m1 4h1m0 1h1m-1-2h1m-1 5h1m-1-11h1m0 7h1m-1-4h1m3-2h1m1-1h1m12 0h1m-1 10h1m7-6h1m-1-1h1m0 2h1m2-3h1m1 2h1m-1-1h1m1 5h1m0 2h1m2-11h1m0 2h1m1 1h1m7 0h1m0 0h1m6 6h1m-1-8h1m3 11h1m8-3h1m1-2h1m0 3h1m2-3h1m6 1h1m1-3h1m0-3h1m0 1h1m7-1h1m1-1h1m0 10h1m-1-4h1m-1-6h1m1 3h1m5 5h1m1-3h1m-1-5h1m6 7h1m1 0h1m0-7h1m1 5h1m7 5h1m-1-5h1m5-5h1m16 8h1m3-2h1m8 4h1m11-4h1m50-2h1m-3 15h1m-2-7h1m-2 5h1m-64 3h1m-2 0h1m-34-4h1m-2-1h1m-2 0h1m-3 0h1m-23-2h1m-1 2h1m-12 0h1m-1 4h1m-5-4h1m-3 7h1m-5-8h1m-4 7h1m-2-4h1m-8-1h1m-6 1h1m-9 5h1m-3 1h1m-2-1h1m-11-3h1m-1-3h1m-3-1h1m-6-4h1m-2 3h1m-1-1h1m-2 9h1m-2 0h1m-2-11h1m-2 4h1m-2-1h1m-4 5h1m-1-8h1m-3 6h1m-2 4h1m-5 1h1m-2-2h1m-1-5h1m-4-2h1m-3 10h1m-4-11h1m-3 6h1m-1 2h1m-10-4h1m-10 0h1m-2 5h1m-4-5h1m8 10h1m3 3h1m10-3h1m4 5h1m1-2h1m18-2h1m15-3h1m3 3h1m17-1h1m0-1h1m18 0h1m55 7h1m17 3h1m16-7h1m8 4h1m6-9h1m1 8h1m6 0h1m6 2h1m19-8h1m25 5h1m-18 9h1m-11-2h1m-19 0h1m-53 9h1m-6-8h1m-11 3h1m-5 5h1m-4-8h1m-13-1h1m-133-1h1" stroke="#23963f"/>
<path d="M563 776h1m26 4h1m14 8h1m-11-3h1m-17 3h1m-13-4h1m-12-4h1m-23 10h1m-16-4h1m24 17h1m-78 4h1m-6 12h1m107 5h1m37-1h1m6-2h1m13-1h1m1 17h1m-8-5h1m-13-2h1m-39 6h1m-59 1h1m-35-1h1m-9-2h1m-26 6h1m-1-10h1m-26 7h1m-18 9h1m63 5h1m176-8h1m1 0h1m-2 20h1m-38-2h1m-17-8h1m-77 1h1m-22 6h1m-66 3h1m-75-7h1m-13 18h1m28 1h1m56-8h1m22 6h1m88-6h1m1 4h1m54 2h1m39 12h1m-19 1h1m-14-2h1m-12 3h1m-4-10h1m-38 7h1m-15 1h1m-13 0h1m-77-1h1m-4-8h1m-101 17h1m27 4h1m33-4h1m68-2h1m65 6h1m44-7h1m52 6h1m-52 5h1m-96 6h1m-28 0h1m-50-2h1m-6-1h1m-6 3h1m-20 4h1m-15-4h1m-14 2h1m-7-2h1m-46-2h1m-1 7h1m-2-3h1m-4-1h1m-27 14h1m7 2h1m-1-6h1m4 1h1m4 0h1m5 3h1m13-4h1m13-2h1m21 5h1m4-2h1m1-2h1m10 6h1m2-10h1m11 9h1m4 1h1m87-5h1m15-1h1m17 2h1m68 16h1m-21-6h1m-6 6h1m-30-2h1m-20-5h1m-57-1h1m-84-2h1m-43 3h1m-16-1h1m-1 4h1m-5-7h1m-3 12h1m-4-12h1m-3 12h1m-2-1h1m-3-3h1m-20 16h1m6-3h1m6-1h1m-1-6h1m2 5h1m9-1h1m2-4h1m6 7h1m-1-6h1m0 1h1m1 6h1m7-5h1m5 6h1m7-7h1m0 7h1m0-5h1m5 0h1m1 0h1m12 3h1m7-2h1m2 1h1m3-4h1m4-3h1m2 2h1m15 1h1m52-1h1m25-2h1m15 0h1m46 3h1m32-1h1m11-2h1m37 21h1m-133-3h1m-14-2h1m-48 1h1m-8 0h1m-6 2h1m-21 1h1m-10-2h1m-5 3h1m-4 0h1m-26-6h1m-12 6h1m-7-6h1m-21 5h1m-11-4h1m-6 0h1m-9 2h1m-5 4h1m-49 5h1m21-3h1m4 8h1m0 3h1m0-11h1m1 1h1m-1 5h1m3 4h1m5-2h1m1 2h1m3-2h1m1-3h1m5-2h1m3 7h1m11-10h1m0 2h1m-1-2h1m25 8h1m25 2h1m4-9h1m15 5h1m1 1h1m4-1h1m5-3h1m1 4h1m0-6h1m5 4h1m95-2h1m11 6h1m11-9h1m80 8h1m2-2h1m-43 10h1m-149-3h1m-3 5h1m-4 4h1m-8-4h1m-7-3h1m-7 3h1m-10 2h1m-17 1h1m-10-2h1m-8-2h1m-10-6h1m-1 3h1m-4-2h1m-34 5h1m-7-5h1m-3 10h1m-16-6h1m-29 1h1m-39 13h1m27-1h1m4-1h1m-1 1h1m9-6h1m5 4h1m11-1h1m8 3h1m8 4h1m0 0h1m15-5h1m4 6h1m0-4h1m-1 0h1m15 1h1m5 2h1m10-5h1m4 0h1m0-5h1m4 8h1m3-7h1m3 8h1m-1-4h1m85 0h1m37-1h1m35 5h1m51-1h1m27-7h1m-26 11h1m-39 3h1m-97 6h1m-17-9h1m-18 7h1m-17 3h1m-2-4h1m-5-2h1m-3 7h1m-8-6h1m-14 6h1m-4-2h1m-8-5h1m-18 7h1m-14-8h1m-8 0h1m-7 2h1m-2 5h1m-11-2h1m-7 1h1m-12 3h1m-8-4h1m-1-4h1m-14 0h1m-28 6h1m-15-3h1m18 15h1m8 1h1m3-5h1m5 1h1m2 0h1m12-7h1m7 0h1m2 11h1m-1-3h1m0 0h1m1-3h1m1 1h1m0-4h1m4-1h1m27-1h1m12 8h1m35-3h1m8-1h1m9-4h1m24 6h1m50-1h1m1-1h1m96 18h1m-18 0h1m-7-8h1m-25 1h1m-26 1h1m-60 2h1m-36 3h1m-16 2h1m-14-6h1m-2 6h1m-2-8h1m-19-2h1m-12 7h1m-1-3h1m-16 2h1m-3-1h1m-9-5h1m-19 7h1m-1-4h1m-2 7h1m-5 0h1m-18-1h1m-8-8h1m-3 5h1m-10 4h1m-2-7h1m-7-3h1m-2 9h1m-1-3h1m-26-4h1m-8 12h1m19-1h1m30 7h1m3-2h1m4-1h1m6 1h1m8-4h1m8 5h1m0 0h1m3-4h1m0 4h1m5-7h1m6 4h1m2-3h1m10 2h1m9 4h1m25-5h1m1 7h1m19-4h1m2 3h1m0-1h1m-1-7h1m2 3h1m0-1h1m2 1h1m1 2h1m0 2h1m-1 2h1m24-7h1m67 5h1m-5 6h1m-56 4h1m-38 4h1m-5-4h1m-8-1h1m-17-3h1m-24 2h1m-1-3h1m-4 4h1m-5 5h1m-7-4h1m-5 4h1m-14-4h1m-7 6h1m-13-3h1m-10-9h1m-10 11h1m-3-6h1m-2 1h1m-1 6h1m-6-10h1m-8-1h1m-8 0h1m43 11h1m9 3h1m8 1h1m16-2h1m16 6h1m0 2h1m31 1h1m6-11h1m4 3h1m25 7h1m29 3h1m-38 5h1m-3-2h1m-2-1h1m-27-2h1m-12 6h1m-32-6h1m-5 1h1m-2 7h1m-54-2h1m-28-2h1m-47-1h1m-6 2h1m-46 12h1m39 2h1m179-2h1m8-4h1m36-2h1m13 4h1m14 4h1m27 12h1m-5-7h1m-15 10h1m-80-7h1m-27 3h1m-1-5h1m-11 3h1m-14 1h1m-181 3h1m1 5h1m47 0h1m13 7h1m0-2h1m151-4h1m6 2h1m12 6h1m32 1h1m1-11h1m44 2h1m120 6h1m27-1h1m-44 5h1m-18 7h1m-151 4h1m-24-3h1m-262 15h1m122-8h1m124-4h1m17 11h1m29-5h1m12 0h1m64 13h1m-48 0h1m-63 2h1m-120 3h1m-123 3h1m28 2h1m25 0h1m158 0h1m17-3h1m22 8h1m20-1h1m6-6h1m-11 19h1m-11-8h1m-36 7h1m-21-8h1m-115 21h1m80-6h1m13 6h1m49-9h1m24-1h1m19 3h1m2 6h1m135-8h1m1 21h1m-110-2h1m-311-5h1m-40 7h1m28 7h1m1-2h1m51 3h1m4-3h1m92-2h1m8 10h1m110-7h1m135 15h1m-383-1h1m-23-4h1m237 47h1" stroke="#f5821f"/>
<path d="M526 752h1m38 0h1m15 14h1m-3 2h1m-18-8h1m-4-3h1m-3 7h1m-10 4h1m-1-10h1m-3 8h1m-3-3h1m-6 1h1m-8-7h1m-2 7h1m-11-4h1m-2 1h1m-8 5h1m-1 1h1m-6-9h1m-22 10h1m-38 11h1m13-6h1m2-2h1m2-1h1m1 10h1m7-5h1m3-3h1m11 7h1m0-4h1m-1-1h1m0 3h1m13 1h1m10-4h1m4 4h1m0-9h1m16 7h1m0-2h1m-1-2h1m-1 3h1m6-1h1m-1-3h1m14 4h1m2-5h1m6 6h1m17-1h1m0 3h1m27 11h1m-4 2h1m-15-8h1m-3 9h1m-4-10h1m-3 4h1m-3-1h1m-1-4h1m-6 0h1m-8 4h1m-3-2h1m-1 4h1m-16 3h1m-5-1h1m-1-6h1m-5 1h1m-3-3h1m-3 4h1m-8 1h1m-2-3h1m-2 4h1m-3-5h1m-2 5h1m-4-3h1m-11 7h1m-6-7h1m-2 1h1m-3 0h1m-1 2h1m-8 4h1m-4-10h1m-1 7h1m-6-7h1m-6 2h1m-4 0h1m-1 9h1m-8-7h1m-3-2h1m-9 9h1m-1-5h1m-2 4h1m-17-10h1m-8 9h1m-7 1h1m-19 1h1m-1-6h1m-7 15h1m10-2h1m1 2h1m7-8h1m4 2h1m0-2h1m-1 1h1m-1 8h1m0-6h1m0 2h1m-1-4h1m2 2h1m1 3h1m5-4h1m3-2h1m0 4h1m0-2h1m0 0h1m0-1h1m-1 6h1m6-7h1m1 7h1m1 2h1m-1 0h1m2-8h1m5 5h1m0-4h1m0 0h1m2 3h1m10 2h1m2-3h1m-1 4h1m0-7h1m-1 5h1m0 5h1m0-6h1m-1 6h1m5-2h1m6-9h1m-1 8h1m5-6h1m0-2h1m7 11h1m6-2h1m3 2h1m2-2h1m7-6h1m8-1h1m11 2h1m7 3h1m4-3h1m-1-1h1m5 0h1m2 2h1m9-4h1m6 13h1m-3 4h1m-8 5h1m-2 0h1m-2-6h1m-3-1h1m-5-4h1m-3 8h1m-2-3h1m-6-3h1m-5 2h1m-3 2h1m-3-2h1m-4-4h1m-5 8h1m-6 3h1m-1-2h1m-2-4h1m-1-3h1m-7 8h1m-3-3h1m-2-4h1m-6 1h1m-2 0h1m-3-2h1m-6 2h1m-8 0h1m-1-1h1m-2-2h1m-2 9h1m-7-6h1m-6-3h1m-2 8h1m-3-6h1m-11-1h1m-2 9h1m-1-11h1m-5 2h1m-4 3h1m-2 4h1m-1-7h1m-2-3h1m-5 12h1m-2-4h1m-2-4h1m-2 7h1m-4 0h1m-5-3h1m-3-4h1m-2-3h1m-3 8h1m-2-4h1m-4 2h1m-1-1h1m-2 4h1m-1-2h1m-2-4h1m-3 4h1m-8-3h1m-4-3h1m-2 1h1m-6 6h1m-2-7h1m-3 8h1m-10-9h1m-2-1h1m-2 4h1m-1-3h1m-3-1h1m-2 2h1m-1-2h1m-2 4h1m-3 0h1m-3-4h1m-4 0h1m-2 3h1m-3 4h1m-7-4h1m-4 6h1m-2-6h1m-2-1h1m-4 0h1m-2 5h1m-3 4h1m-3-2h1m-1-6h1m-3-2h1m-6 2h1m-1 2h1m-6 2h1m-3-3h1m-3 5h1m-1-7h1m-2 10h1m-2-4h1m-1-6h1m-2 4h1m-3 1h1m-3 4h1m-2-7h1m-21 16h1m3 4h1m1-4h1m-1 4h1m6-6h1m-1-6h1m6 10h1m7-4h1m4-4h1m4 1h1m0 3h1m-1-3h1m8 2h1m3 2h1m7 2h1m-1-6h1m4-1h1m0 4h1m1 0h1m0-5h1m2 0h1m0 6h1m4-4h1m1 7h1m-1-2h1m2-7h1m2 11h1m0-11h1m9 8h1m-1-4h1m0 0h1m15 6h1m1-2h1m1-7h1m-1 8h1m4-5h1m-1 5h1m5-7h1m1 3h1m0 2h1m2-6h1m2 8h1m0-10h1m4 7h1m1-2h1m1 0h1m-1-3h1m1 3h1m1 5h1m5-2h1m2-7h1m2 3h1m8-2h1m5 6h1m-1-3h1m1 2h1m-1-4h1m1 2h1m4 4h1m2-3h1m0 1h1m-1-6h1m17 3h1m0 2h1m2 5h1m2-1h1m7-2h1m1-6h1m1 4h1m0-2h1m13-3h1m20 19h1m-11-1h1m-6-2h1m-2-5h1m-5 7h1m-2 0h1m-6-3h1m-8 6h1m-6-1h1m-1-4h1m-4 5h1m-12 1h1m-3-4h1m-2 1h1m-8 0h1m-4 3h1m-7-6h1m-4-2h1m-3-3h1m-3 3h1m-1 3h1m-5-6h1m-3 9h1m-5-2h1m-3 4h1m-3-1h1m-2-3h1m-2 1h1m-3 3h1m-7-8h1m-5 4h1m-3-2h1m-3 3h1m-4 0h1m-3-6h1m-2-2h1m-4 6h1m-11-3h1m-3 0h1m-5 6h1m-5-7h1m-4-2h1m-1 5h1m-1 6h1m-4-5h1m-3-4h1m-4 5h1m-3 3h1m-3-10h1m-3 4h1m-1 5h1m-1-5h1m-2 0h1m-2 2h1m-5-2h1m-4 0h1m-11 6h1m-6-5h1m-6 5h1m-1-3h1m-7-4h1m-15 2h1m-3-4h1m-3 4h1m-9 6h1m-4-4h1m-3-1h1m-2-1h1m-1 4h1m-8 2h1m-4-10h1m-9 8h1m-2-1h1m-2-7h1m-2 7h1m-2-6h1m-5 4h1m-4 2h1m-9-2h1m-3-3h1m-1-2h1m-6 0h1m-4 9h1m-7-4h1m-2 3h1m-6 0h1m-2 2h1m-2-7h1m-14 16h1m17-4h1m4-3h1m5 4h1m0 5h1m0-7h1m3 5h1m-1 0h1m4 0h1m0-2h1m7 5h1m5-5h1m-1 3h1m0-1h1m-1-6h1m6 10h1m0-1h1m2 0h1m4-3h1m1-5h1m0 6h1m0 2h1m5 0h1m0-9h1m3 1h1m3 3h1m-1-2h1m0-1h1m2 1h1m11 0h1m0-1h1m0-3h1m0 2h1m3 4h1m0-3h1m-1-3h1m0 6h1m3 0h1m-1-1h1m5 6h1m0-4h1m3-6h1m1 0h1m-1 9h1m0-1h1m-1-8h1m2 2h1m0 2h1m-1 1h1m4 5h1m2 1h1m1-10h1m0 6h1m2-1h1m1-1h1m0 3h1m2 0h1m2-6h1m1 8h1m2 0h1m1 0h1m6-4h1m13-6h1m3 8h1m4-6h1m1 8h1m0 1h1m1-1h1m1 0h1m-1-4h1m5-6h1m1 8h1m2-3h1m-1 0h1m3-3h1m5 4h1m3-3h1m-1-2h1m3 8h1m-1-4h1m1 1h1m1 0h1m5-4h1m1 4h1m0 3h1m0 0h1m4-6h1m0-2h1m1 9h1m3-9h1m2 1h1m1 3h1m2-4h1m-1 1h1m5 1h1m2-1h1m0 9h1m13-8h1m-1-2h1m1 3h1m-1 13h1m-2-2h1m-1-2h1m-5-1h1m-2 3h1m-2 5h1m-4 2h1m-2-4h1m-2-3h1m-2-4h1m-11 9h1m-1-1h1m-8-4h1m-1 4h1m-1-4h1m-3 4h1m-5-7h1m-2-1h1m-2 7h1m-3 3h1m-5-5h1m-4-2h1m-1 4h1m-8-1h1m-3 0h1m-3 2h1m-3 2h1m-5-4h1m-5 5h1m-2 0h1m-2-3h1m-4-4h1m-3 0h1m-2 6h1m-1 2h1m-5-6h1m-6 0h1m-2 1h1m-5-1h1m-4 1h1m-2-2h1m-5 2h1m-2 4h1m-4 0h1m-6-2h1m-1-8h1m-3 2h1m-2-1h1m-5 8h1m-3-1h1m-2 2h1m-7-1h1m-2-3h1m-8-2h1m-1 4h1m-7-4h1m-2 6h1m-2-6h1m-4 6h1m-2-9h1m-1 6h1m-5-3h1m-2 3h1m-4 2h1m-3 2h1m-4-6h1m-2-6h1m-2 2h1m-1-1h1m-6 3h1m-1-4h1m-5 7h1m-2-3h1m-5 0h1m-1 6h1m-3-7h1m-1 4h1m-4-7h1m-2 0h1m-2 10h1m-7-3h1m-3 5h1m-3-7h1m-2 1h1m-4-1h1m-7 6h1m-2-1h1m-7 1h1m-9-7h1m-3 2h1m-2 6h1m-4-12h1m-1 10h1m-17 1h1m-2 1h1m-3-1h1m-6-10h1m-1 2h1m-3 4h1m-4 0h1m-2-3h1m-10 1h1m-1 0h1m-5-3h1m-1 6h1m-2-3h1m-5 5h1m-4 1h1m-3-4h1m-3 4h1m-3-5h1m-2 2h1m-3-7h1m-2 10h1m-3-1h1m-9-1h1m-2-4h1m1 16h1m6 1h1m5-8h1m-1 0h1m2 2h1m3 1h1m2-4h1m3 7h1m2-6h1m-1 5h1m4-1h1m5 1h1m-1 4h1m-1-5h1m1-5h1m-1 5h1m8 5h1m0-1h1m0-8h1m0 8h1m3-4h1m1-3h1m3 2h1m1-5h1m2 4h1m9-4h1m4 4h1m4 5h1m2-9h1m-1 10h1m0-5h1m2 3h1m22 3h1m2-8h1m-1-2h1m-1 10h1m2-9h1m4 6h1m0 1h1m-1 1h1m0-3h1m6-5h1m1 1h1m6 0h1m4-2h1m1 2h1m1 7h1m2-9h1m0 1h1m-1 1h1m-1 7h1m0-1h1m3-7h1m1 3h1m0-2h1m5 2h1m4 4h1m1-3h1m0-2h1m0 5h1m0 2h1m3-5h1m0 4h1m12-10h1m0 2h1m-1 3h1m1 4h1m3 3h1m11-10h1m1 1h1m8-3h1m0 4h1m2 3h1m0-6h1m0 7h1m0-5h1m1 9h1m7-7h1m0 5h1m9-2h1m3-5h1m7 1h1m5 1h1m-1-1h1m2-4h1m-1 8h1m4-6h1m6 0h1m8 4h1m5 15h1m-8-7h1m-8 8h1m-6-10h1m-2 2h1m-2-2h1m-3 7h1m-4-2h1m-2 1h1m-3 0h1m-3-5h1m-3 10h1m-1-3h1m-3-7h1m-8 10h1m-1-3h1m-4 1h1m-2-4h1m-3-2h1m-1 5h1m-9 2h1m-2-6h1m-1 5h1m-2 1h1m-2 1h1m-1-3h1m-1-3h1m-3 1h1m-6-1h1m-3 2h1m-4-5h1m-3 6h1m-11 2h1m-7-5h1m-6-2h1m-2-2h1m-2 3h1m-5 5h1m-2-6h1m-1 5h1m-5 3h1m-4-11h1m-8 5h1m-6 7h1m-5-8h1m-2 5h1m-4-4h1m-1-2h1m-14 1h1m-2 7h1m-3-10h1m-2 0h1m-1 6h1m-2-5h1m-7 2h1m-2 7h1m-2-8h1m-2-2h1m-2 1h1m-2 10h1m-1-11h1m-1 9h1m-2-8h1m-3-1h1m-8 3h1m-7 6h1m-5-5h1m-2-2h1m-3 1h1m-3 1h1m-2-4h1m-1 2h1m-4-2h1m-3 8h1m-5 0h1m-2 1h1m-4-1h1m-3 2h1m-5-2h1m-5-6h1m-3 7h1m-4-8h1m-4 3h1m-2 0h1m-1 5h1m-2 0h1m-4-7h1m-3 7h1m-3-5h1m-2-1h1m-1 1h1m-8 1h1m-8-5h1m-2 1h1m-3 9h1m-1-4h1m-5-5h1m-1-2h1m-7 2h1m-2 7h1m-5-8h1m-1 5h1m-4 3h1m-3-7h1m-6 1h1m-9-3h1m-2 8h1m-2 2h1m-2-7h1m-3 9h1m-4-3h1m-8-5h1m-3 1h1m-5 0h1m-5-1h1m-5-3h1m-2 6h1m-2 6h1m10 6h1m-1 0h1m6-3h1m10 8h1m0-6h1m1-3h1m0 1h1m-1-1h1m0 6h1m2-2h1m5-2h1m0 0h1m1 2h1m2-1h1m4 2h1m2-1h1m1 1h1m0-1h1m2 3h1m1-10h1m1 4h1m3 5h1m0 0h1m4 0h1m4 0h1m1-2h1m1-7h1m5 8h1m6-2h1m2 6h1m3-4h1m1-3h1m1 5h1m1-4h1m-1-2h1m3 1h1m0-3h1m1 9h1m-1-2h1m0-7h1m0 0h1m3 8h1m1-3h1m-1-2h1m1 6h1m-1-4h1m2-1h1m5-1h1m9 3h1m1-5h1m3-1h1m4-1h1m7 3h1m1 5h1m-1-1h1m4 2h1m4-3h1m0 4h1m0 0h1m0-5h1m1 1h1m1 4h1m3-6h1m0 4h1m-1-2h1m3 0h1m-1 0h1m6-5h1m0 3h1m0 5h1m8 0h1m5-5h1m3-1h1m-1 6h1m1-5h1m1-2h1m0 5h1m1 3h1m1-1h1m4-10h1m0 3h1m1 3h1m6 3h1m2-5h1m1-4h1m0 10h1m-1 0h1m3-3h1m4 1h1m0 1h1m0-4h1m5-3h1m-1 9h1m0-9h1m3 7h1m2 3h1m-1-11h1m5 2h1m0 0h1m1 8h1m2 1h1m8-3h1m1 15h1m-3-11h1m-3 10h1m-6-7h1m-3 2h1m-6-6h1m-2 4h1m-2-3h1m-3 5h1m-1 4h1m-6 0h1m-1-5h1m-5 4h1m-1 2h1m-4-6h1m-5-4h1m-1 9h1m-3-3h1m-2-1h1m-5-2h1m-7 5h1m-1-4h1m-4-5h1m-4 5h1m-8 3h1m-2-2h1m-7 4h1m-5-5h1m-4 5h1m-4-6h1m-3 5h1m-4-1h1m-3-4h1m-3 5h1m-1-2h1m-2-1h1m-1 6h1m-2-7h1m-3-3h1m-2 2h1m-1 2h1m-12 2h1m-1 0h1m-3-1h1m-9 2h1m-1 1h1m-7-9h1m-1 9h1m-2-7h1m-2 1h1m-2 7h1m-4-10h1m-6-1h1m-7 6h1m-2 1h1m-3 4h1m-2-3h1m-2-5h1m-3 6h1m-1 1h1m-5 0h1m-3-6h1m-6 2h1m-2 4h1m-2-5h1m-6-4h1m-4 1h1m-4 8h1m-1-2h1m-4 3h1m-1-9h1m-1-2h1m-3 5h1m-2-2h1m-1-3h1m-2 11h1m-3-8h1m-2 8h1m-2 1h1m-3-9h1m-3 1h1m-5 0h1m-6 0h1m-2 2h1m-3 5h1m-9-8h1m-9-2h1m-3 2h1m-4 2h1m-2-2h1m-5-1h1m-3 7h1m-10-7h1m-1 8h1m-5-4h1m-9-3h1m-4 8h1m-3-10h1m-3 8h1m-3-1h1m-3 1h1m-2-1h1m-5-4h1m-4-3h1m-2 10h1m-3-8h1m-6 2h1m-3-3h1m-1 3h1m-5 5h1m-4-1h1m-5-1h1m-2-7h1m-2 1h1m-6 1h1m-25 1h1m-19 8h1m-23-7h1m-12 14h1m7-7h1m9 8h1m19-8h1m27 2h1m9 1h1m5 0h1m0 8h1m-1-8h1m3 2h1m1 0h1m2-3h1m3 2h1m8 3h1m-1 2h1m4-8h1m5 10h1m2 0h1m0-2h1m7-4h1m2 1h1m-1-5h1m0 9h1m2 2h1m0 0h1m4-8h1m3 6h1m1-7h1m5-2h1m1 2h1m3 5h1m0-3h1m1 6h1m-1 1h1m0-8h1m1 5h1m6-4h1m-1 5h1m4 0h1m-1-3h1m-1 3h1m9-1h1m7-1h1m6-5h1m4-1h1m0 0h1m0 0h1m2 0h1m-1 1h1m7 7h1m2 0h1m0-7h1m0 7h1m-1-5h1m-1 0h1m0 4h1m0-1h1m7 0h1m2-6h1m0 9h1m-1-5h1m-1-5h1m4 7h1m1-3h1m-1 4h1m0 3h1m-1-1h1m0-4h1m0 0h1m8 3h1m0-2h1m4 0h1m3-5h1m4-2h1m10 7h1m0-7h1m2 7h1m5 3h1m5-8h1m7-1h1m0 3h1m6 6h1m2 0h1m0-9h1m6 3h1m0 1h1m-1 3h1m5-3h1m4 0h1m3 4h1m1-7h1m1 1h1m1 3h1m-1 1h1m7 4h1m0-3h1m-1-7h1m0-2h1m0 8h1m3 2h1m0 12h1m-2 2h1m-4-1h1m-4-5h1m-6 4h1m-5-4h1m-2 0h1m-1 1h1m-1-3h1m-1 6h1m-7-4h1m-3 0h1m-1 3h1m-8-5h1m-2 3h1m-3-1h1m-1-1h1m-2 3h1m-2-2h1m-6 5h1m-5-3h1m-2-7h1m-2 9h1m-5 0h1m-6-3h1m-6-7h1m-5 9h1m-2 2h1m-1-2h1m-11-7h1m-4 6h1m-4-3h1m-3 5h1m-4-4h1m-3 0h1m-2-4h1m-3 3h1m-4 1h1m-6-4h1m-15-1h1m-4 0h1m-2 10h1m-5-10h1m-3 9h1m-2-4h1m-2-4h1m-2-1h1m-2 1h1m-3 9h1m-4-6h1m-2 2h1m-4 4h1m-8-5h1m-2 2h1m-10 2h1m-1-7h1m-3 4h1m-3 5h1m-6-10h1m-3 6h1m-3-1h1m-5 3h1m-3-10h1m-2 5h1m-5-1h1m-7 6h1m-3 1h1m-1-6h1m-4-2h1m-2-3h1m-3 10h1m-2-6h1m-5 2h1m-5 3h1m-2-4h1m-1 2h1m-2-6h1m-2 10h1m-2 0h1m-3-9h1m-2 3h1m-2-2h1m-3-2h1m-5 6h1m-1 2h1m-3-8h1m-4 2h1m-6-3h1m-4 4h1m-2-1h1m-3 6h1m-2 2h1m-2-10h1m-4 8h1m-3-8h1m-2 1h1m-5 2h1m-2 7h1m-6-4h1m-3 4h1m-3-8h1m-5 0h1m-3 7h1m-2 1h1m-36-3h1m-3-1h1m-5-3h1m-71 17h1m52-9h1m35 4h1m0 1h1m8-4h1m2 6h1m1 4h1m0-11h1m-1 4h1m4 7h1m2-9h1m-1 0h1m0 8h1m1-8h1m1 2h1m3 4h1m4-4h1m0-2h1m3 5h1m1 2h1m1 3h1m-1-12h1m0 6h1m-1 0h1m1-3h1m3 8h1m0-8h1m-1 1h1m0 2h1m0-3h1m1-1h1m0 0h1m-1 3h1m0-5h1m0 7h1m2-5h1m7 9h1m1-5h1m5 2h1m0-2h1m0-1h1m-1 3h1m1 1h1m1 0h1m-1-3h1m-1-6h1m1 11h1m-1-5h1m2-6h1m1 5h1m2 5h1m1-9h1m2 7h1m0-3h1m6-5h1m8 3h1m1 3h1m3-1h1m1 2h1m14-1h1m0 5h1m0-4h1m0 0h1m3 1h1m0-3h1m1 5h1m0-4h1m0-1h1m7 3h1m1-4h1m2 7h1m0-10h1m-1 0h1m2 1h1m5 4h1m0-5h1m2 8h1m0-7h1m1 0h1m5 1h1m3 6h1m0-4h1m0-2h1m0 1h1m13 5h1m1 0h1m2-7h1m2 10h1m8-8h1m12 1h1m2-1h1m0 2h1m11-3h1m4 9h1m6-1h1m-1-3h1m0 1h1m-1 2h1m0-9h1m3-2h1m0 8h1m1-5h1m3-1h1m1 10h1m-1-5h1m-1-7h1m1 3h1m3 11h1m-3 8h1m-10 1h1m-3-5h1m-7-4h1m-2 8h1m-4-4h1m-2 6h1m-2-3h1m-3-5h1m-2 7h1m-3-4h1m-11-6h1m-10 2h1m-1 0h1m-2-3h1m-3 1h1m-10 5h1m-3-5h1m-8 7h1m-11 3h1m-4-7h1m-3 7h1m-1-8h1m-3-1h1m-6 2h1m-2 7h1m-12-8h1m-1 8h1m-5-1h1m-2-2h1m-5-7h1m-1 2h1m-3 0h1m-3 8h1m-4-3h1m-2 2h1m-4-1h1m-3 1h1m-3-3h1m-2-3h1m-5 7h1m-3-7h1m-6-4h1m-1 2h1m-2 8h1m-4-7h1m-6 0h1m-2 4h1m-5-1h1m-3-2h1m-5 7h1m-3-3h1m-4 2h1m-8-2h1m-1-2h1m-4 1h1m-2-2h1m-3 3h1m-4-5h1m-1 1h1m-3 2h1m-1 0h1m-1-4h1m-5 8h1m-2-3h1m-2-7h1m-5 11h1m-3-11h1m-3 5h1m-1 1h1m-3-1h1m-4 7h1m-1-2h1m-2 0h1m-4 1h1m-2-4h1m-1 4h1m-1-6h1m-3 4h1m-3 2h1m-11 0h1m-4-8h1m-2 1h1m-3-2h1m-4 9h1m-9-10h1m-4 1h1m-2 3h1m-6-3h1m-3 7h1m-1 0h1m-3-7h1m-3 7h1m-1-5h1m-3-3h1m-1 8h1m-2-5h1m-2 5h1m-7-7h1m-3 0h1m-5 7h1m-6-2h1m-48-1h1m-14 1h1m-9-1h1m-7-5h1m-25 8h1m-22-2h1m129 14h1m1-2h1m1 0h1m0 5h1m1-6h1m3 5h1m0-7h1m-1 0h1m3 2h1m4-4h1m0 8h1m0 2h1m0-3h1m1 2h1m-1-8h1m0 6h1m0 2h1m1-2h1m2 2h1m1 0h1m0 1h1m4-10h1m0-1h1m0 9h1m0-6h1m8 2h1m3-3h1m2 8h1m2 0h1m-1-9h1m3 0h1m1 7h1m0 2h1m4-9h1m0 2h1m2 0h1m0 3h1m2-4h1m0 5h1m0-6h1m6 10h1m1-3h1m6-5h1m1-2h1m0 9h1m3-2h1m0 1h1m3 1h1m0-10h1m-1 7h1m2 4h1m0-4h1m1-2h1m-1 2h1m6 3h1m3-8h1m3 7h1m0-3h1m4 0h1m0-6h1m6 9h1m6-8h1m4-1h1m2 3h1m2 7h1m4-8h1m3 5h1m0-1h1m0 1h1m4 4h1m0-8h1m2 7h1m2-4h1m17-1h1m0 4h1m-1-7h1m4 1h1m5-1h1m2 8h1m3-2h1m0-9h1m1 6h1m0 0h1m0-4h1m3 6h1m3 0h1m2-3h1m2 3h1m1-1h1m4-4h1m2 6h1m2-5h1m7 14h1m-9 0h1m-8 0h1m-8-3h1m-4 8h1m-7-8h1m-2 4h1m-6-6h1m-2 2h1m-4 6h1m-9 0h1m-4-1h1m-1-4h1m-6 3h1m-4-3h1m-4 2h1m-1-1h1m-3-3h1m-4 0h1m-6 4h1m-4 0h1m-1 5h1m-5-3h1m-2-1h1m-6-1h1m-3 1h1m-3-4h1m-6 0h1m-8 3h1m-1-4h1m-3 3h1m-3-3h1m-10 3h1m-3 3h1m-1-2h1m-2 6h1m-4-5h1m-7-6h1m-3 5h1m-7-6h1m-2 1h1m-2 10h1m-6-10h1m-3 2h1m-1 6h1m-3 1h1m-2-5h1m-6 2h1m-10-6h1m-2 7h1m-2-6h1m-2 7h1m-2-4h1m-5 1h1m-4 0h1m-2 4h1m-3-5h1m-2 4h1m-2-4h1m-7 3h1m-2 3h1m-2-3h1m-4 0h1m-3-4h1m-2 1h1m-2-1h1m-2 1h1m-4-3h1m-2 7h1m-2-1h1m-6-7h1m-1 11h1m-9-5h1m-2-5h1m-3 7h1m-5-8h1m-4 3h1m-7-3h1m-4 9h1m-2-8h1m-1 4h1m-1-5h1m-4 6h1m-6-1h1m-3 0h1m-3-4h1m-4 7h1m-1-4h1m-3-3h1m-1-1h1m-2-1h1m-4 5h1m-3-2h1m-6 0h1m-3-1h1m-2 0h1m-5 3h1m-35 0h1m-21 5h1m-2-8h1m-19 3h1m-60-4h1m35 15h1m1-1h1m54-2h1m10 6h1m9-7h1m15 2h1m6-1h1m3 0h1m4 10h1m0 1h1m0-4h1m-1 1h1m4-9h1m3 9h1m0-9h1m1 9h1m2-6h1m6 7h1m2-7h1m0 0h1m5 2h1m4 0h1m3 1h1m4 3h1m1-9h1m8 2h1m3 4h1m-1 5h1m0-9h1m1 6h1m2 1h1m2-1h1m0-2h1m-1-3h1m1 4h1m-1-2h1m1 1h1m3-5h1m-1 10h1m0-6h1m2 4h1m1-9h1m-1 8h1m-1-1h1m4-1h1m7 4h1m-1-7h1m-1 5h1m0-6h1m3 5h1m6 1h1m-1 1h1m1-1h1m0-1h1m2-2h1m17-5h1m0 4h1m3 0h1m1 3h1m0-1h1m-1 2h1m0 1h1m0 2h1m-1-8h1m0-2h1m1 6h1m0-6h1m5 6h1m-1 4h1m1-6h1m3 6h1m11-9h1m0 1h1m-1 0h1m1-1h1m-1 6h1m1-5h1m1 7h1m-1-9h1m6-1h1m0 10h1m1-7h1m3 1h1m5-2h1m2 7h1m6-6h1m0-1h1m2-1h1m1 11h1m1-6h1m0-4h1m0 7h1m4-3h1m40 12h1m-28-6h1m-6 8h1m-1-8h1m-1 11h1m-7-8h1m-4-2h1m-5 5h1m-3 3h1m-2-2h1m-2-3h1m-8 0h1m-4 0h1m-2 0h1m-2-1h1m-4 4h1m-2-7h1m-7 11h1m-9-6h1m-6 5h1m-10-9h1m-4 10h1m-2-10h1m-4 11h1m-7-8h1m-1 6h1m-14-2h1m-6-6h1m-3 7h1m-1-8h1m-13 2h1m-6 7h1m-4-9h1m-2 10h1m-9-3h1m-3-2h1m-4 4h1m-1-10h1m-19 4h1m-11 3h1m-2-1h1m-1-6h1m-13 8h1m-3 4h1m-4-1h1m-2-3h1m-8-5h1m-1 0h1m-3 2h1m-8-2h1m-11 6h1m-4 0h1m-2-5h1m-3 1h1m-1 5h1m-3-1h1m-1 0h1m-1 0h1m-1-7h1m-4 0h1m-6 3h1m-4 6h1m-8-4h1m-4 0h1m-1-3h1m-1 8h1m-6-6h1m-1 1h1m-2-1h1m-37-4h1m-5 7h1m-6 0h1m-47-6h1m-21 7h1m-5-3h1m-20 8h1m44 0h1m5 3h1m1-6h1m90 9h1m5-2h1m1 2h1m1-5h1m4 6h1m2 2h1m1-5h1m4-1h1m7 2h1m-1-7h1m6 10h1m1-5h1m1-4h1m0 9h1m0-5h1m2 5h1m9-10h1m1 2h1m2-1h1m-1 10h1m3-9h1m0 9h1m2-6h1m-1-2h1m5-1h1m7 3h1m-1-5h1m1 9h1m2 0h1m3-4h1m0 1h1m3-3h1m8 1h1m0-5h1m0 4h1m3 0h1m-1 6h1m0-3h1m2 1h1m-1 1h1m0-5h1m0-1h1m1 8h1m0 0h1m8-2h1m6-6h1m1-3h1m1 9h1m0-2h1m0 2h1m4-5h1m7 2h1m8 1h1m1 3h1m10-7h1m3-1h1m5 7h1m0-4h1m1-4h1m1 10h1m1-10h1m3 11h1m0-3h1m3 0h1m0 3h1m1-5h1m9-5h1m12 7h1m11 1h1m13 13h1m-3 0h1m-9-10h1m-1 3h1m-23-2h1m-4 2h1m-13-3h1m-1 4h1m-2 4h1m-3-4h1m-3-4h1m-2 3h1m-4 5h1m-2-5h1m-2 3h1m-3-1h1m-2 3h1m-2-4h1m-2 6h1m-2-4h1m-1 5h1m-2-5h1m-1-4h1m-2-1h1m-5 0h1m-7 2h1m-2 1h1m-1 3h1m-2-7h1m-2 10h1m-1-6h1m-3-2h1m-1 0h1m-2 6h1m-1-8h1m-2 5h1m-2-4h1m-1 7h1m-4 0h1m-2 0h1m-4-6h1m-3 0h1m-2 9h1m-3-9h1m-2 6h1m-4-7h1m-2 0h1m-4 5h1m-4 1h1m-3 2h1m-7-1h1m-3-2h1m-1 1h1m-2-4h1m-2-3h1m-6 9h1m-5-5h1m-7-4h1m-2 5h1m-2 1h1m-1 3h1m-1-6h1m-2 6h1m-1 2h1m-4-10h1m-1 9h1m-6-9h1m-5 0h1m-3 1h1m-2 7h1m-3-1h1m-9-1h1m-6-5h1m-5 1h1m-2 7h1m-2-6h1m-1 0h1m-5 6h1m-3-9h1m-1 9h1m-6-3h1m-11 2h1m-6 0h1m-1 1h1m-3-7h1m-3 7h1m-2-8h1m-5 1h1m-2 4h1m-2-3h1m-11 2h1m-1 3h1m-5-4h1m-8-3h1m-1 2h1m-1 7h1m-3-12h1m-4 11h1m-5-7h1m-2 6h1m-7-6h1m-15 6h1m-64-6h1m-21-1h1m-92 20h1m59 1h1m6-8h1m6 4h1m13-4h1m15 6h1m26-8h1m52 3h1m1-4h1m4 10h1m0-8h1m7-1h1m4-1h1m3 6h1m-1-1h1m-1 5h1m1-6h1m2 4h1m0 1h1m0-6h1m-1 6h1m-1-2h1m0-4h1m-1 4h1m2-2h1m-1-2h1m2-1h1m-1 7h1m2-10h1m4 6h1m0 3h1m1-4h1m-1 2h1m2 3h1m0-9h1m4 11h1m2-11h1m6 6h1m10-2h1m-1-2h1m1-2h1m3 8h1m4 2h1m1 0h1m0 1h1m2-9h1m1 2h1m1 1h1m2 0h1m-1 6h1m0-2h1m2-1h1m-1 0h1m5-6h1m-1-2h1m6 6h1m0-2h1m1-3h1m-1 4h1m1 4h1m1-6h1m5-3h1m1 7h1m2 2h1m0-9h1m2 0h1m9 0h1m-1 8h1m1 0h1m2-3h1m10-1h1m5-2h1m4 3h1m0-2h1m5-1h1m1 1h1m0 0h1m0 0h1m5 0h1m0 1h1m0-5h1m5 3h1m27 3h1m21-2h1m-1 7h1m-28 8h1m-33-4h1m-3 4h1m-4 2h1m-25-2h1m-5-2h1m-4 2h1m-10-1h1m-3 0h1m-3 6h1m-3-7h1m-5-1h1m-4 7h1m-4-6h1m-1-1h1m-3 0h1m-13 3h1m-17 2h1m-2-7h1m-1 0h1m-3 6h1m-2 2h1m-3-8h1m-11 3h1m-3-1h1m-13-1h1m-5 7h1m-3-5h1m-6-2h1m-3 1h1m-3 1h1m-4 4h1m-2-3h1m-1-3h1m-1 8h1m-3-1h1m-1-7h1m-4 4h1m-4 1h1m-3 0h1m-1-5h1m-9 6h1m-3 2h1m-4-4h1m-2 1h1m-3-3h1m-5 1h1m-5 4h1m-2-6h1m-3 6h1m-17 1h1m-3-4h1m-9 1h1m-2 2h1m-8-4h1m-24-2h1m-28 7h1m-17-10h1m-59 2h1m-1-1h1m-88 21h1m4-3h1m14-5h1m13 6h1m11-7h1m24 0h1m20 8h1m133 1h1m27 0h1m0-3h1m0-6h1m3 2h1m0 5h1m7-2h1m1 4h1m9-2h1m3-9h1m4 0h1m1 7h1m-1-4h1m-1-3h1m1 6h1m-1-3h1m0 1h1m-1 3h1m-1-4h1m-1-1h1m1 1h1m-1 3h1m0-1h1m6 6h1m-1-6h1m0 3h1m4 3h1m-1-8h1m11 7h1m2-1h1m7 0h1m-1-5h1m0 0h1m0 2h1m1-5h1m-1 11h1m2-4h1m3-3h1m3-3h1m0 6h1m-1-2h1m-1 5h1m6 1h1m-1-3h1m1-1h1m2 0h1m0-6h1m4 3h1m-1 2h1m0-4h1m3 2h1m3 5h1m1-9h1m5 4h1m8 4h1m11 2h1m6-11h1m7 10h1m32-7h1m8 4h1m2-1h1m8 9h1m-8 5h1m-6 4h1m-16-10h1m-3 4h1m-8-4h1m-19 9h1m-3-6h1m-14 3h1m-11-2h1m-11-5h1m-11 1h1m-3 1h1m-4 8h1m-8-9h1m-6 8h1m-4 0h1m-5-3h1m-6-3h1m-1 3h1m-8 1h1m-5 0h1m-4-1h1m-5-3h1m-2-4h1m-4 7h1m-4-4h1m-3 5h1m-2-6h1m-3 9h1m-7-6h1m-3 1h1m-1-1h1m-3 5h1m-2-6h1m-2 0h1m-2-2h1m-10 5h1m-3 1h1m-1-4h1m-3-4h1m-3 9h1m-9 2h1m-4-7h1m-1-2h1m-7 5h1m-1 2h1m-3-4h1m-1 4h1m-2 2h1m-2-9h1m-2 9h1m-5 0h1m-2-4h1m-3 0h1m-5-1h1m-2-6h1m-7 2h1m-8-1h1m-9 9h1m-7-10h1m-33 1h1m-2 10h1m-6-7h1m-65-4h1m-33 9h1m-26 1h1m-38-8h1m-2 4h1m-24 17h1m24-9h1m6 4h1m25 2h1m131-4h1m24 5h1m6 1h1m12 1h1m1-7h1m15-1h1m11 3h1m4-4h1m3 3h1m0-1h1m0 6h1m0-1h1m-1 1h1m-1-4h1m0 5h1m0-11h1m0 1h1m-1 3h1m3 5h1m6 0h1m3-8h1m3-1h1m2 1h1m10 11h1m0-2h1m3-4h1m0-2h1m1 5h1m6 0h1m1-3h1m1-5h1m6 11h1m5-11h1m7 5h1m13-5h1m1 9h1m10-4h1m2 2h1m9-7h1m1 5h1m0 1h1m9 4h1m6-7h1m3 7h1m14-9h1m7 0h1m13 2h1m-1 3h1m29-3h1m-4 9h1m-46 3h1m-2 3h1m-5 3h1m-10-1h1m-22-8h1m-20 4h1m-9 5h1m-1-9h1m-27 5h1m-16-5h1m-3 3h1m-7 4h1m-10-4h1m-3-1h1m-1 1h1m-10 8h1m-2-2h1m-3 2h1m-6-6h1m-4-5h1m-18 9h1m-9 1h1m-3-11h1m-18 1h1m-9 6h1m-3 5h1m-25-9h1m-11 9h1m-22-6h1m-1-5h1m-112 10h1m-60-6h1m-33 7h1m34 0h1m17 12h1m15-7h1m3 2h1m53 2h1m63-7h1m2 2h1m13 5h1m0-2h1m31 1h1m24 4h1m4-9h1m46-1h1m21 1h1m17-1h1m30 9h1m20-5h1m18-3h1m12 5h1m18 0h1m4-4h1m17 10h1m-30 1h1m-10 4h1m-4-3h1m-38 5h1m-53 2h1m-5-6h1m-20-1h1m-6-1h1m-25 0h1m-15 6h1m-6 1h1m-3-2h1m-104 2h1m-5-6h1m-3 7h1m-56-8h1m-47 3h1m-57-4h1m-12 21h1m200-10h1m13 8h1m54-3h1m14 5h1m10 0h1m50-2h1m10-3h1m6-1h1m18-5h1m27 9h1m10-2h1m7-3h1m8 4h1m50 16h1m-12-2h1m-3-7h1m-11 2h1m-13 5h1m-11-9h1m-25 8h1m-23-2h1m-8 1h1m-36-1h1m-16 4h1m-22-6h1m-9 6h1m-13-2h1m-1-8h1m-7 0h1m-62 1h1m-21 2h1m-84 6h1m-40-6h1m-17 17h1m69-4h1m68 0h1m8 1h1m16 5h1m16-10h1m-1 10h1m7-10h1m65 3h1m0-4h1m8 2h1m39 8h1m6 0h1m9-2h1m18 4h1m63-3h1m-12 8h1m-14-3h1m-13 0h1m-6-1h1m-21 5h1m-6-5h1m-20-1h1m-17 5h1m-6 2h1m-8 0h1m-4-6h1m-31 11h1m-10-2h1m-22 2h1m-12-2h1m-13 0h1m-13-9h1m-4 8h1m-8 1h1m-154-8h1m-56 3h1m-54 7h1m34 7h1m9 0h1m29 4h1m5-10h1m36 9h1m-1-3h1m24-6h1m21-1h1m70 4h1m46 4h1m13-7h1m37 9h1m29 1h1m-1-7h1m0 7h1m12-6h1m5-2h1m15-2h1m23 7h1m1 3h1m16-9h1m4 8h1m10-6h1m4 5h1m-33 10h1m-6-5h1m-4 4h1m-3-6h1m-49 8h1m-4-7h1m-19-1h1m-5 9h1m-65-7h1m-22 1h1m-42 0h1m-8 0h1m-4 4h1m-39 5h1m-13-10h1m-93 8h1m-67-8h1m-31 1h1m177 21h1m8-6h1m13-3h1m-1 0h1m2 4h1m14-3h1m10 7h1m1-3h1m8-5h1m13-2h1m17 10h1m59-1h1m45 2h1m2-2h1m13-4h1m33 3h1m10 0h1m22-6h1m3 1h1m-1-1h1m3-2h1m16 2h1m-23 19h1m-4-9h1m-1 5h1m-14 3h1m-5-7h1m-24 5h1m-142-7h1m-6 2h1m-22 6h1m-2-3h1m-38-1h1m-15 8h1m-7-2h1m-14-2h1m-34-1h1m-96 2h1m-13 5h1m29 1h1m53 7h1m46-8h1m21 7h1m5-5h1m2 6h1m13-6h1m13 3h1m1-7h1m16 10h1m-1 1h1m31-1h1m3-8h1m9 4h1m25-3h1m69 2h1m12-4h1m1-1h1m9 6h1m14-3h1m3 3h1m-116 10h1m-31 0h1m-2 1h1m-5 3h1m-28-5h1m-14 9h1m-10-10h1m-3 1h1m-6 0h1m-41-1h1m-18 2h1m-65-4h1m-11 3h1m-22 19h1m1-7h1m96-1h1m36 8h1m23-9h1m5 10h1m1-8h1m17 7h1m12-1h1m9-6h1m68 5h1m-15 5h1m-10 4h1m-65-3h1m-12 0h1m-3 6h1m-10-3h1m-11-3h1m-46 0h1m50 12h1m-37 11h1" stroke="#9649a3"/>
<path d="M526 766h1m-90 9h1m75 2h1m61 4h1m-33-1h1m-4 7h1m-100 9h1m51 4h1m7 3h1m12-9h1m9 1h1m35 7h1m49-6h1m-65 15h1m-17-6h1m-51 10h1m-49-6h1m-16 0h1m-1 13h1m0 3h1m17-7h1m26 3h1m33-2h1m67 3h1m31 11h1m-20 2h1m-144 2h1m-5 2h1m-9-4h1m-8 0h1m-22 2h1m-8-5h1m-38 14h1m145-4h1m6 4h1m35-2h1m1-3h1m4 2h1m78 3h1m7 9h1m-24 5h1m-51-2h1m-2 5h1m-89-2h1m-3-7h1m-18 2h1m-42 3h1m-18-5h1m-6 5h1m-15 14h1m38-4h1m84 2h1m8-3h1m109 2h1m40 15h1m-49-6h1m-8-1h1m-9 2h1m-11 1h1m-55 1h1m-11 0h1m-28 1h1m-6-5h1m-36 0h1m-98 12h1m34 10h1m0-10h1m19 8h1m93-8h1m24-2h1m37 7h1m38-6h1m50 0h1m-37 22h1m-6-9h1m-92 4h1m-34-1h1m-22 0h1m-28-1h1m-35 18h1m45-3h1m29-4h1m4-1h1m19 9h1m58-3h1m2-7h1m0 1h1m31-1h1m19 2h1m-15 12h1m-14 1h1m-10 6h1m-37-8h1m-9 6h1m-1 2h1m-59-3h1m-52-1h1m-9-5h1m-25 0h1m-32 5h1m-75 4h1m-5-3h1m13 12h1m118-7h1m15 6h1m0-1h1m31-1h1m52-2h1m41-1h1m33 6h1m-3 12h1m-8 0h1m-30-1h1m-38 4h1m-15-1h1m-8-1h1m-12 1h1m-40-2h1m-61 4h1m-3 0h1m-120-4h1m-24 13h1m120 1h1m91 0h1m22 2h1m55-5h1m4-1h1m9 5h1m19-8h1m62 0h1m11 10h1m-21 10h1m-73-3h1m-13 3h1m-17 0h1m-66 1h1m-36-10h1m-24 5h1m68 8h1m25 1h1m12 2h1m6-3h1m86 5h1m3-5h1m5 6h1m17 4h1m-35 9h1m-15-4h1m-164 2h1m-17-6h1m-16 6h1m-35 2h1m-147 2h1m20 6h1m26 3h1m185-8h1m23 10h1m91-2h1m20-7h1m25 10h1m6 1h1m13-4h1m4-3h1m5-1h1m2 5h1m2-8h1m3 1h1m9 8h1m5 1h1m3-10h1m2 10h1m-19 6h1m-3 3h1m-2-3h1m-3-1h1m-3 4h1m-4 2h1m-6-1h1m-3 3h1m-2-3h1m-1-4h1m-5-3h1m-1 6h1m-3 0h1m-4-6h1m-2 0h1m-7-1h1m-6 3h1m-57-4h1m-3 1h1m-28 6h1m-11 1h1m-11-4h1m-14 5h1m-32-8h1m-8 1h1m-73 8h1m-72-5h1m260 11h1m6-1h1m5 4h1m6-3h1m1 8h1m4-9h1m6 6h1m1-8h1m1 10h1m-1-6h1m0-1h1m6 7h1m2-4h1m4-1h1m1-4h1m1 9h1m5-9h1m-1 5h1m5 4h1m2-4h1m2-7h1m-1 9h1m3-9h1m6 8h1m-1-3h1m0 2h1m6-4h1m1 0h1m0 8h1m-1-10h1m1 16h1m-1 0h1m-2-2h1m-6 1h1m-2 8h1m-1-8h1m-3-3h1m-2 10h1m-2-2h1m-8-5h1m-1-4h1m-5 1h1m-4 1h1m-3 6h1m-2 1h1m-10-4h1m-4 2h1m-3-5h1m-3 8h1m-10-6h1m-2 5h1m-2 2h1m-2-4h1m-3-3h1m-7 6h1m-4-7h1m-13 1h1m-6 2h1m-4 6h1m-3-11h1m-27 5h1m-91 1h1m-76 15h1m63-4h1m45-3h1m4-1h1m0 3h1m54 6h1m5 0h1m1-6h1m0 2h1m13-6h1m8 9h1m0-6h1m0 1h1m7-2h1m5 8h1m0-5h1m-1 5h1m1 0h1m2-6h1m1 6h1m12-8h1m3 7h1m0-8h1m4 8h1m2-3h1m2-2h1m0-1h1m-1 7h1m-1-3h1m-1 0h1m-1-8h1m1 4h1m0-4h1m0 1h1m-1 11h1m5-7h1m-1 4h1m0-3h1m2-5h1m2 7h1m0 0h1m2-5h1m0 5h1m1-6h1m4 0h1m12 12h1m-13 4h1m-14 2h1m-7-1h1m-7 1h1m-2-5h1m-4 2h1m-2-5h1m-2 11h1m-2-5h1m-15-6h1m-1 2h1m-2 6h1m-1-6h1m-4 9h1m-2-2h1m-4-3h1m-2 4h1m-5 0h1m-1-3h1m-2 2h1m-5 0h1m-13-8h1m-1 10h1m-14-10h1m-3 9h1m-6-8h1m-6-1h1m-2 8h1m-1 1h1m-3-7h1m-2 3h1m-4 5h1m-4 1h1m-3-8h1m-1 2h1m-14 4h1m-2-7h1m-99-3h1m-27 10h1m-2-3h1m-33-1h1m-211 5h1m151 13h1m113-6h1m18-2h1m3 8h1m24-7h1m37 5h1m4 0h1m1-1h1m1 0h1m5 1h1m0-6h1m1 5h1m4 1h1m11-7h1m0 0h1m2 6h1m-1 0h1m5-9h1m1 11h1m7-4h1m1-3h1m0 4h1m-1 3h1m2-1h1m-1-9h1m2-1h1m1 10h1m5-8h1m3 3h1m0 1h1m15-2h1m3 5h1m4-3h1m5 2h1m3-1h1m1-3h1m5 6h1m6-1h1m0-6h1m-1 2h1m1 5h1m0-3h1m2-5h1m15 3h1m-1 13h1m-10-2h1m-2 1h1m-10 3h1m-3-6h1m-4 4h1m-2 5h1m-3-1h1m-2 1h1m-1-11h1m-2 10h1m-8-3h1m-4-7h1m-3 9h1m-2-7h1m-2 6h1m-1-2h1m-6-5h1m-4 1h1m-3 8h1m-2 2h1m-4-6h1m-1 3h1m-2-4h1m-3-1h1m-7 0h1m-5 4h1m-2-4h1m-2 0h1m-8 4h1m-3-3h1m-2 1h1m-3 2h1m-1 3h1m-9 0h1m-2-5h1m-5-3h1m-5-1h1m-3 7h1m-2-8h1m-2 3h1m-5-3h1m-2 0h1m-2 10h1m-9-10h1m-2 10h1m-3 0h1m-1-4h1m-2 1h1m-6 3h1m-1-7h1m-2 3h1m-4-3h1m-1 7h1m-4-11h1m-4 9h1m-1 0h1m-3-8h1m-5 1h1m-21 6h1m-42-1h1m-16 4h1m-33-6h1m-26-1h1m-251 6h1m296 7h1m11-1h1m64 5h1m0-4h1m1-2h1m5 1h1m3-2h1m1-1h1m3 10h1m2-5h1m4-3h1m-1 3h1m1-3h1m5-1h1m1 6h1m0-6h1m5 4h1m1 0h1m7 3h1m-1 2h1m0 0h1m-1-6h1m0 7h1m5-8h1m1-2h1m2 1h1m11-1h1m0 6h1m0-2h1m0 2h1m0-7h1m-1 1h1m7-2h1m0 12h1m1-1h1m6-9h1m6 4h1m7-4h1m3 2h1m14 3h1m0-6h1m-1 9h1m0-10h1m1 1h1m2 0h1m2 10h1m5-6h1m1 3h1m-4 8h1m-2 5h1m-11-7h1m-5 5h1m-5-5h1m-2 6h1m-2-7h1m-10 2h1m-3 1h1m-5 7h1m-2-11h1m-3 7h1m-2 1h1m-9-3h1m-3-3h1m-13 1h1m-1 5h1m-5 2h1m-5-6h1m-1 3h1m-2-2h1m-4 6h1m-4-10h1m-10 1h1m-1 0h1m-3 6h1m-2 4h1m-2-2h1m-10-9h1m-6 10h1m-3-8h1m-3 5h1m-21 2h1m-2-9h1m-2 5h1m-8-2h1m-2 3h1m-3-2h1m-1 1h1m-5 5h1m-2 1h1m-5-11h1m-6 5h1m-3 2h1m-3-5h1m-44 1h1m-45 4h1m-46 2h1m-8-6h1m-74-1h1m-82 2h1m-3 18h1m166-7h1m61 2h1m17-1h1m25 2h1m6 2h1m3-9h1m9 10h1m6-6h1m0 7h1m0-7h1m-1 3h1m4-3h1m1-1h1m-1 9h1m0-2h1m-1-10h1m0 11h1m8-4h1m2 5h1m5-9h1m7 8h1m3-7h1m2-3h1m5 8h1m2-4h1m-1-3h1m3 6h1m6-2h1m3-1h1m1-5h1m1 2h1m0 3h1m2-2h1m0 5h1m1-6h1m1 4h1m12-3h1m3 3h1m-1 6h1m5-10h1m0 0h1m-1 7h1m0-1h1m-1-6h1m3 2h1m0 2h1m7-4h1m0 2h1m0 5h1m1 2h1m0-7h1m-1-1h1m0 1h1m4 8h1m0-11h1m13 8h1m3 12h1m-6-8h1m-10 11h1m-1-9h1m-4-2h1m-4 9h1m-2-7h1m-13 6h1m-8 2h1m-11-3h1m-1-2h1m-3 2h1m-1-7h1m-2 3h1m-3 3h1m-3 4h1m-4-10h1m-6 2h1m-3 3h1m-3 4h1m-1 1h1m-2-2h1m-2-3h1m-3 0h1m-8-2h1m-1 0h1m-4 3h1m-5 2h1m-9-5h1m-1 0h1m-1 1h1m-3-3h1m-5 7h1m-9-8h1m-5 1h1m-3-1h1m-4 4h1m-5 1h1m-3 5h1m-5-7h1m-3 7h1m-4-4h1m-5-5h1m-4 2h1m-2 6h1m-3-8h1m-1 1h1m-17 3h1m-2-3h1m-12 1h1m-3-2h1m-7 9h1m-31 1h1m-47-4h1m-20-1h1m-225 7h1m35 0h1m211 3h1m4-1h1m48-4h1m35 12h1m1-6h1m8 3h1m1-1h1m1 1h1m1-9h1m2 7h1m-1-5h1m0 4h1m8 2h1m3-1h1m-1-4h1m1 7h1m4 0h1m1 0h1m1-3h1m4-3h1m-1 6h1m5-8h1m0 0h1m5 0h1m7 8h1m3 1h1m0-1h1m1 0h1m3-7h1m1 5h1m4-5h1m6 1h1m12-3h1m2 6h1m2-3h1m2 8h1m10-1h1m4-5h1m0 0h1m1 4h1m15-4h1m1-4h1m-1 0h1m-3 17h1m-19-5h1m-5 3h1m-3 0h1m-4 2h1m-16 4h1m-12-4h1m-1-3h1m-2-1h1m-1 7h1m-2-9h1m-3 8h1m-6-2h1m-8 4h1m-4-6h1m-5 4h1m-5-2h1m-19 4h1m-1-7h1m-1-3h1m-8 9h1m-2-5h1m-3 1h1m-5 4h1m-3-1h1m-1 1h1m-2-4h1m-2 1h1m-6-2h1m-1 6h1m-1 0h1m-12 0h1m-4-9h1m-6 0h1m-5-1h1m-2 4h1m-11-2h1m-3-1h1m-84 10h1m-57-3h1m-164 8h1m189 4h1m7-6h1m5 1h1m58-1h1m34 1h1m6-3h1m8 7h1m-1-4h1m1-3h1m2 2h1m8 3h1m0-5h1m-1 2h1m1 5h1m0-6h1m7 4h1m0-6h1m7 3h1m0 5h1m0 3h1m2-10h1m3 6h1m2 5h1m4-1h1m-1-4h1m0 4h1m6-5h1m9-1h1m3-1h1m4-1h1m0-1h1m1 0h1m7 8h1m10 0h1m2-7h1m7 3h1m1 4h1m0-4h1m-1 3h1m4 2h1m6-1h1m6-2h1m-6 9h1m-7 6h1m-4-8h1m-4-3h1m-1 0h1m-4 2h1m-2 7h1m-6-4h1m-1 4h1m-3-5h1m-3 6h1m-1-3h1m-10 2h1m-1-4h1m-2-3h1m-13 4h1m-2 5h1m-3-2h1m-4-5h1m-3 0h1m-2 0h1m-3-2h1m-2 2h1m-16 6h1m-5-1h1m-2-7h1m-2-2h1m-2 10h1m-2-1h1m-4 2h1m-4-4h1m-1-7h1m-3 7h1m-1 4h1m-9-10h1m-4 1h1m-1 1h1m-2-2h1m-4 8h1m-3-1h1m-5-8h1m-10 6h1m-15-1h1m-71 2h1m-2-2h1m-78 4h1m-138 5h1m109-1h1m160 0h1m12 6h1m9 5h1m4-6h1m5 3h1m0 1h1m4 0h1m2-7h1m0-1h1m0 9h1m4-11h1m2 6h1m-1-5h1m1 4h1m10 1h1m0 6h1m10-10h1m3 2h1m1-2h1m10 8h1m-1-6h1m1 1h1m5-3h1m-1 9h1m0-9h1m6 10h1m2-4h1m5-7h1m0 0h1m2 7h1m4-5h1m4 3h1m9 7h1m-14 6h1m-14-2h1m-1-4h1m-4 8h1m-1-8h1m-2 7h1m-4-6h1m-2 4h1m-5-6h1m-6 1h1m-6 8h1m-3-5h1m-2-1h1m-2-2h1m-4 10h1m-12-6h1m-2 1h1m-4 6h1m-3-10h1m-5 2h1m-4-2h1m-2 4h1m-4-2h1m-10 4h1m-1-3h1m-6 4h1m-4-7h1m-7 5h1m-8-1h1m-5 4h1m-7 0h1m-3-3h1m-10-7h1m-129 21h1m39 0h1m102-8h1m1 9h1m24-7h1m6 5h1m9-2h1m2 0h1m0 4h1m-1 1h1m2-6h1m2-4h1m3 7h1m0-1h1m-1-5h1m7-1h1m1 3h1m0 2h1m1 2h1m4-1h1m14 4h1m1-10h1m3 5h1m13 9h1m-61-2h1m-3 0h1m-3 10h1m-16-9h1m-199-2h1m-20 8h1m-37-2h1m186 8h1m91 6h1m-153 14h1m-15-9h1" stroke="#d81e8e"/>
<path d="M988 876h1m36-2h1m34 6h1m-10 6h1m-68-5h1m79 12h1m-12 8h1m-97 22h1m61-9h1m16-2h1m9 12h1m33-11h1m29-1h1m-2 22h1m-2-1h1m-27-2h1m-56 2h1m-22-1h1m-1 4h1m-81-5h1m22 8h1m80 3h1m31-6h1m-54 14h1m-45 4h1m-51-4h1m45 17h1m38 3h1m4-3h1m-28 11h1m-25 4h1m-78-1h1m-26 11h1m36 3h1m9-5h1m48 4h1m14 1h1m15-5h1m64 2h1m75-3h1m-1-2h1m-55 12h1m-7 0h1m-47-2h1m-19 3h1m-35-1h1m-6-1h1m-57 4h1m-10 4h1m-18 2h1m24 10h1m213 5h1m-20 8h1m-19 1h1m-24-8h1m-15 2h1m-19-2h1m-27-4h1m-38 6h1m-62 2h1m-9 0h1m-55-3h1m30 18h1m32-4h1m28 4h1m14-10h1m95 8h1m18-4h1m37-1h1m-40 19h1m-3-8h1m-35 1h1m-77 4h1m-19 2h1m-15-4h1m-40-5h1m-13 12h1m47 0h1m45 1h1m16 8h1m-1-4h1m28 0h1m1 0h1m35-1h1m18 3h1m-105 9h1m-4 0h1m-26 5h1m-12-3h1m-26-4h1m-8 9h1m-14-3h1m-24-5h1m-44 2h1m59 13h1m24-3h1m53 6h1m7 1h1m20-11h1m26 8h1m13 2h1m32-1h1m80 11h1m-14 2h1m-4-7h1m-83-2h1m-5 8h1m-162 1h1m-30-2h1m9 15h1m1-3h1m3 2h1m20-7h1m43 8h1m36-7h1m13 2h1m36 2h1m18-2h1m98 15h1m-7 2h1m-25 0h1m-5 1h1m-24-2h1m-47-6h1m-5 6h1m-44 0h1m-12-9h1m-7 8h1m-8-6h1m-92-1h1m-1-2h1m-54 23h1m99 0h1m5-4h1m2-2h1m1-2h1m5 9h1m1-9h1m38 0h1m132 6h1m8 0h1m7 12h1m-94-7h1m-13 5h1m-11 4h1m-58-7h1m-12 6h1m-7-2h1m-29-7h1m-4 3h1m-5-2h1m-24 4h1m-13 0h1m-40 0h1m127 9h1m17 3h1m21 3h1m9-4h1m-1 4h1m7 1h1m0-1h1m24-4h1m4 4h1m54 2h1m5-6h1m2 2h1m-24 17h1m-7-1h1m-6 1h1m-26 0h1m-10-10h1m-8 5h1m-13-3h1m-3 8h1m-16-9h1m-4 6h1m-4 1h1m-7 1h1m-1-5h1m-5 1h1m-13 3h1m-8 1h1m-21-1h1m-70 0h1m-2 1h1m-8-11h1m-42 16h1m21 8h1m57-6h1m47-1h1m1 3h1m1 1h1m1-7h1m2 2h1m7-3h1m5 10h1m5 0h1m5-8h1m3 3h1m8-1h1m-1-1h1m7 6h1m3-2h1m6 3h1m7-8h1m1 1h1m-1 5h1m15-1h1m3-2h1m4 2h1m0-3h1m7 7h1m1-1h1m9-3h1m27 13h1m-21-5h1m-7 6h1m-6-3h1m-3 0h1m-4-4h1m-3 1h1m-4 6h1m-4-2h1m-2-5h1m-4 5h1m-5-8h1m-3 12h1m-1-5h1m-1-5h1m-5 8h1m-1-1h1m-7-4h1m-9-3h1m-15-2h1m-2 6h1m-6 2h1m-3-5h1m-3 8h1m-10-6h1m-6 6h1m-5 1h1m-3-2h1m-6-5h1m-5 3h1m-6-5h1m-2 9h1m-8-4h1m-1-1h1m-4-3h1m-4 3h1m-4 2h1m-2-3h1m-1 3h1m-2-4h1m-5 1h1m-2-5h1m-1 9h1m-5-6h1m-7 7h1m-6-5h1m-6-3h1m-27-1h1m-12 2h1m-1 0h1m-49-3h1m-4 6h1m29 7h1m67 9h1m3-5h1m1 3h1m5-6h1m2 3h1m-1 4h1m2-1h1m1-5h1m-1-1h1m-1 7h1m3-5h1m13 1h1m5 1h1m-1 1h1m4 4h1m5-8h1m8 1h1m8-1h1m5-2h1m3 1h1m-1 8h1m15-10h1m2 1h1m0 1h1m1 2h1m0 5h1m-1-9h1m4 0h1m-1 4h1m0 3h1m2-1h1m0 4h1m1 0h1m0-10h1m1 0h1m3 6h1m-1 1h1m0-5h1m3 2h1m5-2h1m-1 8h1m4-2h1m2-6h1m0 1h1m-1 3h1m2-6h1m-1 9h1m15-2h1m5 12h1m-7 2h1m-9-8h1m-1 1h1m-4 8h1m-3-2h1m-2-1h1m-2-7h1m-2 5h1m-12 3h1m-1-8h1m-6 5h1m-3 1h1m-6-5h1m-2-1h1m-1 8h1m-3-8h1m-2 4h1m-5 1h1m-3 4h1m-1 0h1m-1 0h1m-6-1h1m-17-1h1m-2-2h1m-1 2h1m-7-4h1m-2 2h1m-3 2h1m-8 0h1m-3-2h1m-1 5h1m-5-3h1m-3 4h1m-7 0h1m-4-9h1m-6 3h1m-10 1h1m-9-2h1m-2-2h1m-11 9h1m-5-12h1m-2 8h1m-3-3h1m-2 4h1m-3 2h1m-3-5h1m-8-5h1m-3 0h1m-2 2h1m-38 6h1m-36-4h1m63 9h1m13 5h1m1-4h1m2 3h1m2 0h1m4 4h1m3-4h1m0 0h1m0-1h1m2-2h1m0-1h1m14 5h1m-1-3h1m0-4h1m16 6h1m4 6h1m4-4h1m12-2h1m3 5h1m4-8h1m0 1h1m8-1h1m7 4h1m1-6h1m16 0h1m1 7h1m1-4h1m1 1h1m12-2h1m0 3h1m-1-1h1m7 5h1m-1 0h1m1-2h1m0-7h1m6 9h1m-3 9h1m-6 0h1m-6 1h1m-7-3h1m-2-4h1m-3 9h1m-4-10h1m-4 7h1m-2-5h1m-4-1h1m-4 0h1m-8 1h1m-5 8h1m-4 2h1m-4-10h1m-5 0h1m-2 3h1m-4-2h1m-3 2h1m-5 5h1m-1-2h1m-2 0h1m-7-6h1m-1 8h1m-1-5h1m-3 0h1m-23-3h1m-4-1h1m-3 1h1m-7 5h1m-2 4h1m-1-3h1m-5-5h1m-9 1h1m-3-1h1m-3-2h1m-1 1h1m-5-1h1m-7 9h1m-4-10h1m-2 11h1m-3-10h1m-2 3h1m-3 1h1m-1-4h1m-5 3h1m-3-3h1m-6 9h1m-81 5h1m98 0h1m9 6h1m11 1h1m1-9h1m13 4h1m0 2h1m1-7h1m-1 2h1m2 1h1m0 4h1m-1-2h1m-1-1h1m0-2h1m4 5h1m0 4h1m0-5h1m3-3h1m1 2h1m-1-1h1m0-1h1m1 4h1m2 0h1m1 2h1m1 2h1m0-10h1m5 1h1m3 6h1m5 0h1m1 1h1m3 1h1m4-7h1m0 1h1m5 5h1m3-9h1m5 8h1m3-7h1m-37 19h1m-6-4h1m-15-1h1m-2-2h1m-16 11h1m-9-11h1m-15 1h1m-29-2h1m-8 6h1m10 10h1m53-2h1" stroke="#9f9f9f"/>
<path d="M865 1005h1m-7-4h1m-8 6h1m-22 1h1m-13 8h1m8 4h1m4-5h1m1 2h1m15 1h1m2-7h1m-1 5h1m2-6h1m8 17h1m-5-3h1m-5-2h1m-9 7h1m-4 2h1m-5-6h1m-5 4h1m-4-6h1m-4 5h1m-2 4h1m-2-11h1m-3 10h1m-16-5h1m-16 9h1m7-1h1m9 3h1m2-3h1m11 6h1m1-4h1m4-3h1m0 0h1m2 4h1m0 5h1m2-5h1m0 6h1m6-5h1m1-1h1m3-3h1m5 8h1m1 0h1m0-6h1m-1 0h1m6 4h1m-4 4h1m-15 3h1m-5 7h1m-18-1h1m-2-6h1m-2 7h1m-3-7h1m-12 1h1m-3-1h1m-13 8h1m-13 13h1m7-1h1m6-9h1m3 1h1m5 4h1m6-3h1m3 7h1m1-8h1m0 4h1m16-3h1m1 0h1m2 1h1m-11 12h1m-11 3h1m-4-5h1m-3 3h1m-1-1h1m-4-5h1m-1 10h1m-19-4h1m24 82h1m86 10h1m-122 7h1m76 4h1m9 30h1m57-7h1" stroke="#3680c4"/>
<path d="M1003 864h1m38 11h1m34 11h1m-20-2h1m-13 0h1m-84 7h1m28-2h1m32 0h1m-78 18h1m-2-3h1m-18 3h1m175 16h1m-80 2h1m-22 7h1m-5-3h1m-46 1h1m-37 4h1m29 7h1m43-3h1m118 1h1m-1 12h1m-43 7h1m-1-6h1m-82 3h1m-8-1h1m-79 5h1m-14-8h1m83 13h1m17 0h1m102 4h1m-142 8h1m-14 7h1m-23-10h1m-32 18h1m109 4h1m95-3h1m-34 15h1m-2-1h1m-20-8h1m-146 9h1m-2-7h1m-10 6h1m-21 1h1m-26 9h1m3-1h1m17-6h1m44 9h1m89-1h1m59 14h1m-103-8h1m-9 4h1m-7-4h1m-19 4h1m-4-3h1m-45-2h1m-7 7h1m-2 1h1m-23-5h1m-2-2h1m-10 5h1m-13 3h1m-6-9h1m-30 19h1m16-3h1m19-2h1m16-3h1m3 7h1m0-3h1m8 6h1m44 0h1m2-6h1m1 5h1m37-4h1m156 9h1m-59 2h1m-44 5h1m-21-9h1m-139 1h1m-8 8h1m-3-5h1m-1 1h1m-4 5h1m-13-2h1m-1 2h1m-16-3h1m9 8h1m5 6h1m23 0h1m-1-5h1m3-3h1m1 4h1m25-5h1m90 8h1m1-3h1m32-1h1m33-1h1m48 7h1m-6 12h1m-7-3h1m-16-8h1m-14 5h1m-13 6h1m-20-5h1m-63 6h1m-36-8h1m-47-3h1m-30 7h1m-26-2h1m-17-1h1m1 8h1m8 9h1m1-9h1m149 3h1m13 7h1m59-6h1m-28 8h1m-26 5h1m-28 4h1m-30-10h1m-12 8h1m-54 2h1m-8-4h1m-13-2h1m-16-3h1m-26 22h1m2-1h1m10-3h1m0 4h1m2-6h1m4 3h1m8-2h1m-1 0h1m-1 2h1m0 3h1m-1-1h1m-1-5h1m0-5h1m0 10h1m4-3h1m2-3h1m-1 7h1m3-6h1m-1 5h1m3-5h1m4 6h1m4-4h1m1 0h1m2 0h1m6 2h1m2 1h1m12-2h1m202 13h1m-81 3h1m-96-4h1m-5-5h1m-10 4h1m-3 4h1m-4-2h1m-3-7h1m-3 5h1m-6-1h1m-2 0h1m-4 2h1m-4 0h1m-10-6h1m-11 8h1m-1-4h1m-1 0h1m-1-4h1m-2 8h1m-2-7h1m-3 0h1m-1 1h1m-2-3h1m-2 3h1m-1-4h1m-1 12h1m-2-4h1m-1-2h1m-2 4h1m-2-9h1m-5 5h1m-2-2h1m-1 6h1m-2-4h1m-2 2h1m-2 2h1m-2 2h1m-4-10h1m-4 0h1m-3 10h1m-9-3h1m-1-8h1m-2 11h1m-2-12h1m-2 7h1m-1 0h1m-4 2h1m-2-9h1m-2 0h1m-5 5h1m-4 5h1m-1-6h1m-1 7h1m-4-3h1m-2 0h1m-3-2h1m-2 3h1m-5-5h1m-2 1h1m-4-2h1m-2 7h1m-4 0h1m-4-3h1m-18 1h1m11 9h1m1 0h1m-1 6h1m0 1h1m0-7h1m9 7h1m-1-5h1m0 1h1m1-7h1m0 2h1m-1 5h1m2 2h1m-1-1h1m1-8h1m5 10h1m2-6h1m0 0h1m8 1h1m8 2h1m0-1h1m0 2h1m0 0h1m-1 3h1m0-8h1m0 4h1m-1-6h1m2 7h1m2 0h1m3-2h1m1-6h1m3 3h1m3 7h1m0-5h1m0 0h1m-1-2h1m0 6h1m-1-1h1m1 1h1m0-9h1m0 8h1m4 1h1m0-4h1m0-4h1m5 4h1m2 3h1m-1 3h1m0-12h1m0 3h1m1 4h1m1-4h1m-1-2h1m2-1h1m-1 5h1m0 5h1m-1-9h1m0 9h1m0-5h1m2 7h1m0-1h1m0-6h1m1-1h1m1-1h1m0-1h1m0 2h1m5 2h1m2 3h1m0 2h1m0-2h1m11 2h1m4-2h1m3 1h1m18-6h1m87 0h1m38 18h1m-9-7h1m-43-1h1m-81 6h1m-3-3h1m-14 6h1m-5 0h1m-3-11h1m-3 10h1m-4 0h1m-2-2h1m-5 3h1m-2-9h1m-6-2h1m-2 9h1m-4 3h1m-2-1h1m-1-1h1m-2-1h1m-2-8h1m-4 10h1m-1-2h1m-1 2h1m-3-1h1m-2 1h1m-2-7h1m-1 3h1m-1-3h1m-3 6h1m-2-10h1m-2 4h1m-2-4h1m-4 11h1m-1-7h1m-1 0h1m-2-1h1m-2 0h1m-4 2h1m-2 1h1m-1 1h1m-2 0h1m-5-3h1m-5 7h1m-2-3h1m-1 3h1m-3-10h1m-1 10h1m-2-2h1m-5-8h1m-6 7h1m-2 0h1m-2-4h1m-2 0h1m-5-3h1m-1 7h1m-2 0h1m-1 2h1m-3-2h1m-2-6h1m-4 2h1m-1 5h1m-4-7h1m-3 0h1m-2 9h1m-3-1h1m-2-6h1m-4 0h1m-4 0h1m-3 0h1m-2-2h1m-2 1h1m-1 2h1m-3 6h1m-5-8h1m-3 8h1m-6-1h1m-1 0h1m-1-6h1m-6 7h1m-3-10h1m-3 4h1m-1 7h1m-1-8h1m-4 4h1m-2-5h1m-2 3h1m-6-3h1m-3 6h1m-6-3h1m-3 0h1m-2 5h1m-4-8h1m-12 4h1m7 14h1m-1-3h1m1-3h1m0 0h1m0-1h1m3 2h1m0 2h1m1 1h1m-1 0h1m9-5h1m3 3h1m-1-2h1m0 1h1m1-3h1m2 8h1m6-5h1m1 7h1m0 0h1m0-1h1m1-3h1m1 4h1m-1-11h1m-1 7h1m0-3h1m-1 5h1m1-8h1m0 7h1m8-8h1m-1 4h1m4 5h1m0-9h1m0 8h1m-1-2h1m1 4h1m-1-8h1m0 2h1m4-4h1m-1 12h1m0-4h1m0-4h1m-1-2h1m-1 0h1m4-2h1m1 8h1m-1-3h1m0-5h1m1 10h1m-1-4h1m1-5h1m-1 3h1m0 1h1m0-2h1m0-3h1m0 7h1m1 2h1m0-5h1m0 0h1m0-1h1m0 7h1m0-4h1m2 5h1m0-8h1m2 1h1m6 3h1m1 2h1m0-9h1m3 12h1m4-2h1m-1-1h1m1-6h1m1 0h1m2 3h1m1-5h1m2 5h1m-1 2h1m2-8h1m1 8h1m-1 0h1m0-4h1m-1-3h1m10-1h1m3 11h1m0-1h1m5-2h1m1-3h1m0 4h1m0 0h1m0-3h1m27 4h1m84 6h1m-17 1h1m-86 1h1m-3 4h1m-4-6h1m-4 4h1m-2-2h1m-4-5h1m-2 7h1m-2-4h1m-2 0h1m-2-2h1m-1 9h1m-2-10h1m-3 10h1m-2-10h1m-2 10h1m-3 1h1m-2-11h1m-5 11h1m-1-4h1m-1 3h1m-4-8h1m-1 6h1m-4-4h1m-1-4h1m-7 8h1m-3-4h1m-1 4h1m-3-3h1m-1 2h1m-2 1h1m-3-3h1m-3 1h1m-5 3h1m-2-6h1m-2 5h1m-2-5h1m-2 6h1m-11-1h1m-1-3h1m-1-1h1m-3 3h1m-3-1h1m-5 4h1m-4-4h1m-2 5h1m-2-8h1m-2 6h1m-3 0h1m-2-7h1m-1 8h1m-2-1h1m-3-3h1m-1-1h1m-1 5h1m-4-9h1m-3 5h1m-2 4h1m-8-2h1m-3 0h1m-3-8h1m-3 9h1m-4 2h1m-3-10h1m-4 3h1m-2-5h1m-3 10h1m-4-3h1m-2-5h1m-3 9h1m-1-7h1m-10-4h1m-3 7h1m-4 0h1m-2-1h1m-4 4h1m-3 0h1m-2 0h1m-2-4h1m-5 2h1m-6-3h1m-1 1h1m-1 1h1m-1-5h1m-1 8h1m-2-8h1m-2 0h1m-1 6h1m-2-7h1m-2 8h1m-1 0h1m-2-1h1m-1-6h1m-1 2h1m-2-3h1m-3 10h1m-3-1h1m-3-1h1m-6 1h1m-1-1h1m-2 2h1m-2 0h1m-1-2h1m-3-6h1m-4 1h1m-1-1h1m-2 9h1m-6-3h1m-2-4h1m-8 5h1m5 12h1m3-6h1m2 2h1m3 0h1m1-5h1m2 7h1m2-4h1m2 4h1m5 1h1m1 3h1m0-2h1m0-5h1m2-1h1m2 8h1m3-6h1m1-1h1m1 4h1m0 3h1m1-10h1m0 2h1m0-4h1m0 2h1m4 5h1m0-4h1m-1 6h1m-1-2h1m0-7h1m-1 8h1m0-6h1m1 5h1m0-2h1m5 1h1m-1 0h1m6-4h1m0-1h1m0 4h1m3 1h1m0-4h1m-1 3h1m0 1h1m0 1h1m2-6h1m0 6h1m-1-6h1m2 1h1m1 8h1m1-7h1m5 7h1m0-5h1m5 4h1m0 3h1m4-6h1m-1 1h1m-1 4h1m-1 1h1m1-3h1m0 0h1m5-8h1m2 0h1m0 2h1m0 0h1m0 5h1m-1 3h1m-1-6h1m-1 0h1m1-3h1m2 1h1m0 6h1m1-2h1m0 0h1m-1-2h1m2-5h1m0 8h1m0-2h1m0-5h1m0 10h1m-1-5h1m2 3h1m0-4h1m2-3h1m0 2h1m1 5h1m3-3h1m0 0h1m0-4h1m-1-2h1m0 6h1m-1-1h1m0 6h1m-1-3h1m-1-3h1m2 2h1m1-5h1m0 5h1m0-5h1m1 6h1m1 2h1m1-5h1m-1 1h1m-1 4h1m1-3h1m-1 0h1m1 3h1m-1-7h1m5 0h1m0 4h1m0-5h1m17-1h1m25 7h1m1-1h1m12 2h1m2-3h1m0 3h1m9 3h1m0-6h1m21 15h1m-38 1h1m-12-4h1m-16 0h1m-6 3h1m-3 2h1m-28-1h1m-7-9h1m-2 11h1m-2-9h1m-1 2h1m-3 4h1m-2-1h1m-6-4h1m-2 0h1m-2 4h1m-1-3h1m-3 7h1m-3 0h1m-6-8h1m-1 4h1m-2 1h1m-1 1h1m-1-3h1m-1-2h1m-3-4h1m-1 7h1m-1-5h1m-1 5h1m-6-1h1m-7 3h1m-2-1h1m-1-3h1m-1 2h1m-2-7h1m-4 8h1m-1-2h1m-3-4h1m-4 3h1m-1 4h1m-1-7h1m-2 1h1m-10-4h1m-7 12h1m-2-7h1m-13-4h1m-3 0h1m-2-1h1m-1 4h1m-1 0h1m-3 2h1m-10-3h1m-1 1h1m-2-3h1m-3 6h1m-1-5h1m-2 9h1m-3-5h1m-2 2h1m-2-2h1m-8-4h1m-3 2h1m-3 7h1m-3-4h1m-3-1h1m-2-4h1m-2 9h1m-2-4h1m-3-4h1m-1 6h1m-7-6h1m-2-1h1m-5 0h1m-9 6h1m-2-1h1m-1 2h1m-4-9h1m-1 9h1m-2-9h1m-2 4h1m-2 2h1m-5-4h1m-4 10h1m-2-10h1m-1-1h1m-4 10h1m-4-1h1m-3-4h1m-1-1h1m-2 7h1m-1-2h1m-2-9h1m-1 9h1m-1-1h1m-4 2h1m-3-8h1m-6 8h1m-1-2h1m-6-2h1m-2 1h1m12 12h1m1-4h1m2 4h1m0 2h1m0-4h1m0-3h1m1 0h1m0 1h1m4 0h1m-1 0h1m-1-1h1m3 7h1m0-2h1m0-5h1m0 7h1m4-1h1m-1-2h1m4-5h1m1 6h1m-1-3h1m1-1h1m0 3h1m-1 4h1m1-6h1m1 0h1m-1 0h1m1 5h1m-1-7h1m0 1h1m3 5h1m3 0h1m0 1h1m1-1h1m-1-5h1m0 2h1m0 3h1m6 0h1m-1-5h1m1 4h1m-1 2h1m0-6h1m1-2h1m5 3h1m-1 1h1m3-3h1m0 4h1m5-5h1m0 4h1m2 6h1m0-2h1m-1-3h1m1 4h1m0-10h1m5 1h1m5 6h1m5 2h1m2-5h1m0-1h1m-1 3h1m1 0h1m-1 2h1m1-6h1m3 2h1m-1-3h1m-1 8h1m-1-7h1m4 0h1m0 8h1m-1-10h1m2 0h1m3-1h1m-1 5h1m3-1h1m-1-1h1m0 4h1m1-1h1m1 0h1m1 2h1m1-7h1m0 2h1m1-3h1m0 6h1m-1-4h1m1 0h1m-1 3h1m5-1h1m0 1h1m7 0h1m24 1h1m9-2h1m37-2h1m21 2h1m13 2h1m-49 16h1m-46-8h1m-12-2h1m-2 7h1m-8-5h1m-6 1h1m-3 7h1m-1 1h1m-3-5h1m-3-4h1m-3-2h1m-2 8h1m-1-6h1m-4 3h1m-2 5h1m-2-5h1m-4 4h1m-2-7h1m-2 3h1m-1 1h1m-4-3h1m-2 0h1m-4-1h1m-2 6h1m-3 1h1m-9-8h1m-4 2h1m-1 2h1m-2 6h1m-2-3h1m-2-4h1m-5-2h1m-1 8h1m-5-5h1m-1-5h1m-4 10h1m-1-9h1m-6 3h1m-1 5h1m-3-5h1m-3-1h1m-2 8h1m-2-8h1m-6 7h1m-12-5h1m-2-2h1m-2 6h1m-1-1h1m-3-5h1m-1 1h1m-9-1h1m-9 1h1m-1 4h1m-2 2h1m-1-5h1m-2 6h1m-5 1h1m-2-6h1m-1 3h1m-1-9h1m-3 9h1m-2-8h1m-1 9h1m-3 1h1m-4 0h1m-10-6h1m-2 4h1m-3-5h1m-4 0h1m-2-4h1m-4 11h1m-3-7h1m-3 7h1m-3-5h1m-2 6h1m-2-11h1m-3-1h1m-4 11h1m-3-1h1m-1-5h1m-8 1h1m-2-6h1m-12 3h1m3 10h1m3 5h1m4-5h1m1 2h1m2 1h1m0-1h1m17 5h1m0-2h1m-1-5h1m1 10h1m0 0h1m-1-4h1m-1 3h1m1-4h1m-1-4h1m0 9h1m3-8h1m0-1h1m1 8h1m-1 1h1m0-1h1m0-10h1m1 5h1m0 6h1m-1-9h1m2 9h1m0-7h1m1 8h1m2-1h1m1-3h1m1-4h1m-1-4h1m4 2h1m2 1h1m0 0h1m0 0h1m-1 4h1m8-4h1m1 3h1m4 2h1m1-4h1m1-1h1m1-1h1m-1 2h1m0 0h1m0 4h1m0 0h1m3-5h1m-1 5h1m3-2h1m-1-5h1m3 3h1m0-1h1m0 2h1m8 0h1m2-2h1m1 3h1m0-5h1m12 9h1m0-5h1m1 3h1m1-2h1m-1-4h1m2 8h1m-1-8h1m1-1h1m0 0h1m6 4h1m9 4h1m6 2h1m7-10h1m26 5h1m18-4h1m32 5h1m11 1h1m-7 5h1m-39 1h1m-56 2h1m-4 1h1m-15 0h1m-5 0h1m-4 4h1m-5-7h1m-4 0h1m-2 5h1m-11-6h1m-7 4h1m-5 4h1m-4-5h1m-2 4h1m-8-3h1m-2 0h1m-5 0h1m-3 0h1m-3-3h1m-6 10h1m-1-10h1m-2-2h1m-5 4h1m-9 7h1m-4-10h1m-3 2h1m-6 2h1m-6 3h1m-2-7h1m-4 8h1m-3-5h1m-2 3h1m-2-4h1m-2 9h1m-3-7h1m-5 0h1m-2-1h1m-6-2h1m-2-1h1m-7 2h1m-4 5h1m-3 2h1m-7-10h1m-2 21h1m33-8h1m15-1h1m19 3h1m16-3h1m43 2h1m25 1h1m29-2h1m21 18h1m-7-2h1m-5 4h1m-20-7h1m-30 0h1m-119 1h1m-28-2h1" stroke="#23963f"/>
<path d="M1188 759h1m-43 3h1m-21-4h1m45 13h1m2 17h1m-57 6h1m25 6h1m40-1h1m37-3h1m8 13h1m-20-1h1m-136 4h1m-10-5h1m-20 12h1m19 4h1m68 1h1m88 2h1m10 13h1m-4-8h1m-28 6h1m-14-7h1m-14 7h1m-3 0h1m-16-5h1m-176 9h1m39 2h1m59-1h1m4 7h1m45 2h1m95-1h1m1-9h1m8 6h1m-33 15h1m-69-7h1m-29 4h1m-46-5h1m-32 4h1m-65 7h1m14 0h1m34 6h1m16 5h1m163-4h1m31 0h1m11-1h1m22-1h1m-155 10h1m-87 4h1m-46 0h1m-14-1h1m-3-6h1m-2 6h1m-14 4h1m-8-8h1m6 20h1m9-2h1m5 1h1m2-3h1m0 1h1m-1 4h1m1-10h1m1 8h1m4-7h1m1 7h1m3-4h1m-1 1h1m1-2h1m3 4h1m2-7h1m31 8h1m4-6h1m33 6h1m138-2h1m6-2h1m7 4h1m6 1h1m22 0h1m-3 7h1m-15-2h1m-26 3h1m-8-5h1m-2 2h1m-12 2h1m-9-2h1m-28 6h1m-3-6h1m-47 6h1m-20-6h1m-22 2h1m-63 3h1m-4-3h1m-14 0h1m-12-4h1m-5 2h1m-5-2h1m-6 0h1m-1 9h1m-8 0h1m-3-4h1m-4 0h1m-6 5h1m-9-3h1m-2-6h1m-7 8h1m-1-8h1m-8 7h1m-7 9h1m8 3h1m6-7h1m14 5h1m-1-6h1m5 9h1m8-5h1m5-1h1m6-1h1m4-2h1m4 10h1m4-5h1m14 1h1m11 4h1m8-9h1m19 9h1m18-8h1m159 6h1m11-2h1m23 7h1m-5 6h1m-94 2h1m-83-10h1m-9 10h1m-1 0h1m-10 0h1m-1 1h1m-33-7h1m-11 2h1m-14 0h1m-7 2h1m-8-1h1m-31-5h1m-25 0h1m-8 1h1m-2 6h1m-2-3h1m-23 2h1m-2-1h1m-3 1h1m-12-7h1m-3 5h1m-6-6h1m-7-1h1m-8 18h1m-1 2h1m9 2h1m0 1h1m14-11h1m34 4h1m0 7h1m8-6h1m4 4h1m1-4h1m8-5h1m4 1h1m0-1h1m1 4h1m4 5h1m0-6h1m0 7h1m17-9h1m12 9h1m0-1h1m18 3h1m32-9h1m8 8h1m158-6h1m1-3h1m1 5h1m4-3h1m8 5h1m-13 9h1m-155-3h1m-37 5h1m-18 3h1m-18-10h1m-10 4h1m-25 4h1m-6-7h1m-6 4h1m-2 0h1m-29 4h1m-1-7h1m-9 7h1m-3 2h1m-7-6h1m-17-5h1m-4 0h1m-5 3h1m-26-1h1m-32 20h1m36-9h1m2 0h1m10 7h1m6-1h1m8-1h1m1-6h1m9 3h1m0-1h1m6-2h1m16-1h1m3 1h1m1 3h1m-1 3h1m12-3h1m7 1h1m0 3h1m2-2h1m0 4h1m4-5h1m23-4h1m-1 8h1m2-7h1m1 8h1m0 1h1m3-3h1m14 1h1m5-3h1m25 0h1m0 0h1m168 4h1m-1-6h1m-7 20h1m-59-6h1m-84 5h1m-16-11h1m-62 3h1m-7 4h1m-1-1h1m-7 1h1m-1 4h1m-3 0h1m-3-11h1m-3 4h1m-9 4h1m-2-7h1m-14 4h1m-4 7h1m-15-10h1m-2 7h1m-13-5h1m-7-1h1m-5 9h1m-11-4h1m-13-1h1m-1 0h1m-3-3h1m-4 5h1m-14 0h1m-17-7h1m-29 19h1m48-7h1m1 2h1m7-3h1m0 4h1m7 0h1m8 7h1m8-3h1m3-5h1m5-2h1m18 0h1m12 7h1m4-3h1m31-4h1m2 4h1m27-2h1m29-1h1m21 3h1m83-4h1m10 3h1m-98 15h1m-22 2h1m-68-3h1m-6 1h1m-9 2h1m-10-2h1m-1 3h1m-4-3h1m-23 2h1m-9-9h1m-11 1h1m-2 1h1m-5 2h1m-15 7h1m-3-4h1m-20-7h1m-8 8h1m-14-8h1m-55 2h1m24 10h1m19 7h1m36-8h1m0 11h1m13-10h1m-1 8h1m7-5h1m1 0h1m1 2h1m13-4h1m16-1h1m5 5h1m9-2h1m15 0h1m1-3h1m83 5h1m124 5h1m-57 8h1m-17-2h1m-44 1h1m-39-1h1m-34 6h1m-9-1h1m-5-5h1m-4 7h1m-28 0h1m-2-2h1m-12 0h1m-5-6h1m-12-2h1m-10 7h1m-1-3h1m-16-1h1m-10 5h1m-4-7h1m-24-2h1m-6 4h1m-81 3h1m65 7h1m25 7h1m22-7h1m14 1h1m3 1h1m21 4h1m6-8h1m3 2h1m0 1h1m6 5h1m0 3h1m3-1h1m1-10h1m8 8h1m0-4h1m4-4h1m8 11h1m-1-9h1m136 7h1m-51 12h1m-81-8h1m-9 0h1m-4 1h1m-15-1h1m-16 5h1m-4-4h1m-3 4h1m-9 3h1m-34-8h1m-4 8h1m-3-5h1m-15-5h1m-36 10h1m-83-6h1m164 14h1m63-1h1m119 1h1m-88 9h1m-27-3h1m-71 6h1m-2-5h1m-74 8h1m-4-9h1m-80 0h1m-2 8h1m-14 0h1m18 4h1m108 3h1m1 7h1m0 1h1m79-6h1m38-2h1m22 5h1m2-5h1m18 0h1m7 4h1m-53 17h1m-23-2h1m-28-7h1m-10 6h1m-54 0h1m-37-5h1m-4 2h1m-78-5h1m49 13h1m170 3h1m-69 9h1m-13 8h1m-10-5h1m-57 2h1m-29-1h1m-13 6h1m-18 5h1m15-2h1m30 1h1m98 1h1m59 6h1m1-8h1m26 5h1m19 11h1m-57-1h1m-90-6h1m-58 2h1m-36 17h1m19-2h1m44-2h1m21 6h1m18-2h1m122 14h1m-34 0h1m-17 2h1m-26-10h1m-4 8h1m-10-6h1m-93-2h1m-73 3h1m125 20h1m20-3h1m50-9h1m19 5h1m-105 16h1m-32-9h1m-48 3h1m-43 1h1m-48 1h1m39 18h1m19-9h1m100 5h1m-14 9h1m-98 18h1m16-5h1m43 7h1m-36 9h1m-26-4h1" stroke="#f5821f"/>
<path d="M1101 755h1m53 0h1m4 1h1m19-7h1m6 5h1m10-2h1m-1 14h1m-1 0h1m-10-6h1m-3 7h1m-6-6h1m-4 1h1m-2 4h1m-1-3h1m-2-5h1m-5 8h1m-1-6h1m-6 6h1m-2-8h1m-2 6h1m-5 1h1m-4 2h1m-1-9h1m-2 9h1m-2-6h1m-3 3h1m-1-3h1m-2 6h1m-5 0h1m-3-5h1m-4 5h1m-5-1h1m-2 2h1m-10-2h1m-1 1h1m-4-5h1m-34-5h1m-9 12h1m13 6h1m11 3h1m2-8h1m-1 0h1m1 1h1m1-1h1m0 1h1m1 1h1m-1 2h1m1 4h1m0-7h1m0 4h1m0-2h1m-1 1h1m1 5h1m0-10h1m1 2h1m0 1h1m-1 1h1m0-3h1m1 10h1m1-2h1m0 1h1m3-5h1m-1-5h1m-1 7h1m2 0h1m-1 2h1m2-9h1m1 1h1m-1-1h1m-1 9h1m1 2h1m-1-4h1m0 2h1m-1-6h1m-1 3h1m0 5h1m3-6h1m0 4h1m-1 2h1m0-6h1m3-3h1m-1-1h1m-1 0h1m0 7h1m1-2h1m0 3h1m0 0h1m2-5h1m1 3h1m0-5h1m2 0h1m1 5h1m-1-6h1m0 5h1m4 2h1m-1-4h1m0 3h1m0-1h1m0-1h1m-1-2h1m1 3h1m0 0h1m2 1h1m1 1h1m1-5h1m-1 5h1m1-4h1m0 1h1m0 5h1m7-6h1m27 18h1m-11-1h1m-5-5h1m-2 6h1m-3-7h1m-2 4h1m-3-2h1m-1 3h1m-1 1h1m-4 2h1m-2-1h1m-2-10h1m-2 7h1m-2-2h1m-5 5h1m-1-1h1m-4-3h1m-3 1h1m-4-2h1m-1 2h1m-2-5h1m-5 3h1m-2-3h1m-1 2h1m-2 5h1m-1-6h1m-2 3h1m-2 3h1m-1-8h1m-1 1h1m-3 7h1m-4-7h1m-2 5h1m-3 2h1m-1-5h1m-1 3h1m-2-2h1m-1 6h1m-2-8h1m-3 5h1m-1-3h1m-2 4h1m-3-2h1m-2-3h1m-1 1h1m-2-3h1m-1 1h1m-3 1h1m-1-2h1m-4 8h1m-1-4h1m-2-1h1m-1-1h1m-2-4h1m-4 0h1m-2 1h1m-4 0h1m-2 6h1m-1-3h1m-2 3h1m-3 4h1m-4-10h1m-3 6h1m-1-6h1m-1 10h1m-2-12h1m-2 12h1m-1-10h1m-4 4h1m-3-4h1m-5 8h1m-3-10h1m-2 8h1m-2 1h1m-2-2h1m-2-3h1m-1 0h1m-1-1h1m-3-2h1m-1 2h1m-1 9h1m-2-4h1m-2-4h1m-3 5h1m-2-6h1m-5 9h1m-2-7h1m-1 0h1m-2 7h1m-1-12h1m-1 10h1m-4-5h1m-5-2h1m-9-1h1m-4 1h1m-3 8h1m-3-9h1m-1 3h1m-11 2h1m-3 0h1m-1 3h1m-4 0h1m-2-2h1m-7 1h1m-13-3h1m-35 8h1m9 8h1m1-4h1m4-1h1m4-4h1m7 2h1m2 2h1m4-4h1m7 3h1m11 1h1m0 5h1m-1-7h1m0 1h1m3 1h1m-1 4h1m2 2h1m8-6h1m4 6h1m-1-7h1m3 7h1m1 0h1m0-4h1m-1 3h1m0-1h1m-1-1h1m1-6h1m3-2h1m0 11h1m2-5h1m-1 6h1m1-10h1m0 2h1m-1-1h1m1 5h1m-1 2h1m0 0h1m0 2h1m0-1h1m1-4h1m-1 0h1m-1-2h1m0 6h1m0-9h1m0 7h1m-1 3h1m0-12h1m0 11h1m3-5h1m0-2h1m0 6h1m0-5h1m0 2h1m1 0h1m0 0h1m2 2h1m1 0h1m0-3h1m1-2h1m0 3h1m0 5h1m-1-7h1m1-3h1m0 10h1m0-3h1m0 1h1m0-3h1m1-2h1m-1-1h1m1 3h1m-1-4h1m2 3h1m-1 1h1m0 0h1m0 4h1m0-6h1m-1-2h1m0 1h1m-1-3h1m-1 10h1m1-8h1m0 1h1m-1-3h1m-1 0h1m0 5h1m3 5h1m-1-3h1m0 2h1m0-6h1m1-2h1m2 9h1m-1 0h1m0-3h1m0-6h1m0 9h1m-1-2h1m3-6h1m1 3h1m2-5h1m-1 7h1m-1 2h1m1-2h1m0-1h1m4 3h1m3-3h1m0 4h1m0-7h1m1 1h1m-1 4h1m0-2h1m2 1h1m2 4h1m5-2h1m5 5h1m-2 5h1m-4 3h1m-4-7h1m-2 7h1m-2-4h1m-3 0h1m-1-1h1m-1-1h1m-5 5h1m-2-8h1m-1 5h1m-1 4h1m-4 0h1m-2 0h1m-1-3h1m-2-5h1m-1-1h1m-2-1h1m-3 9h1m-1-3h1m-1-4h1m-2 2h1m-1-5h1m-2 12h1m-2-9h1m-2-1h1m-2 9h1m-2-8h1m-1 2h1m-3-5h1m-1 9h1m-1-2h1m-2 4h1m-3-7h1m-1 3h1m-2-6h1m-2 5h1m-2 1h1m-2 3h1m-3-1h1m-1 1h1m-5-2h1m-3 4h1m-3-11h1m-2 0h1m-2 7h1m-1-8h1m-1 3h1m-2 6h1m-2 3h1m-4-1h1m-2-5h1m-2-1h1m-1 5h1m-2-5h1m-1-5h1m-1 5h1m-1 3h1m-5-4h1m-1-2h1m-2 7h1m-2-1h1m-1-8h1m-2 2h1m-2 2h1m-2 0h1m-1 3h1m-2-7h1m-3 6h1m-2-3h1m-1 5h1m-3-4h1m-1-1h1m-3 5h1m-2 1h1m-3-7h1m-3 4h1m-2 0h1m-2-2h1m-2-2h1m-2 9h1m-1-7h1m-5 6h1m-3-9h1m-2 4h1m-1-5h1m-2 12h1m-1-7h1m-2-4h1m-2 6h1m-2-2h1m-2-1h1m-3 4h1m-2-7h1m-3 3h1m-2 1h1m-3-3h1m-1 8h1m-5 1h1m-1-3h1m-2-1h1m-1-2h1m-4 2h1m-1-5h1m-1 8h1m-4-3h1m-6-4h1m-1 2h1m-2 1h1m-3-5h1m-1 11h1m-1-6h1m-5-4h1m-4 5h1m-3 1h1m-5-4h1m-8 5h1m-5-6h1m-2 3h1m-4-1h1m-5 4h1m-3-5h1m-3 2h1m-5 5h1m-9-1h1m-6-1h1m-2 0h1m-2 3h1m-1-11h1m-4 6h1m-7-2h1m-7 1h1m-7 0h1m-1 0h1m-7-2h1m-2 5h1m-7-2h1m-6-2h1m-9 7h1m-45 9h1m10 0h1m10 2h1m4-6h1m0 5h1m1 1h1m11 0h1m1-3h1m11-5h1m10 3h1m27-4h1m0 8h1m2 0h1m4-1h1m0-3h1m4-1h1m0 1h1m2-1h1m3-1h1m-1 6h1m4-6h1m7 7h1m2-2h1m3 1h1m-1-3h1m2-4h1m6 9h1m2-5h1m1 4h1m5-11h1m4 3h1m0 8h1m1-3h1m1 0h1m0-1h1m1-3h1m1 2h1m2 1h1m-1-4h1m-1-1h1m0 5h1m1 1h1m-1 3h1m-1-7h1m0 8h1m0-6h1m0 4h1m0-6h1m1-3h1m2 8h1m-1-6h1m0 8h1m0-2h1m0-2h1m1 1h1m-1-4h1m-1 5h1m-1-2h1m-1-5h1m0 8h1m0 1h1m-1 1h1m1-5h1m4 4h1m0-6h1m0-3h1m0 7h1m2-6h1m1 5h1m-1-6h1m6 1h1m0 3h1m-1-5h1m0 6h1m0-2h1m-1 1h1m0-3h1m2 7h1m0-9h1m-1 7h1m1 0h1m0-4h1m1-4h1m0 8h1m-1-6h1m-1 2h1m-1 4h1m0 2h1m-1-5h1m0 6h1m0-10h1m-1 9h1m1-5h1m0 1h1m0-1h1m-1-1h1m2 1h1m3 1h1m2 5h1m0 0h1m0-9h1m-1 8h1m-1-9h1m1 2h1m1 5h1m-1-7h1m0 9h1m2-5h1m0-4h1m1 9h1m-1-3h1m0-3h1m1 7h1m0-1h1m0-4h1m-1 4h1m0-1h1m0 3h1m4-3h1m1-2h1m0 4h1m11-5h1m-10 13h1m-3-2h1m-2-2h1m-2-1h1m-2 8h1m-1-5h1m-3 6h1m-1-3h1m-1-2h1m-3-3h1m-1 2h1m-1 3h1m-2 3h1m-1-7h1m-1 4h1m-1 0h1m-1 2h1m-3 1h1m-2 1h1m-2-11h1m-2 4h1m-5 0h1m-1 2h1m-1-5h1m-1 6h1m-1-3h1m-2 3h1m-1-3h1m-1 0h1m-2-3h1m-1 0h1m-3 3h1m-2-3h1m-2 8h1m-4-10h1m-3 2h1m-2 3h1m-1-4h1m-1 2h1m-2-1h1m-1 0h1m-4 1h1m-2-1h1m-4 0h1m-1 8h1m-2-7h1m-1-1h1m-2-1h1m-1 2h1m-1 8h1m-1-4h1m-2-7h1m-1 8h1m-2-4h1m-2 7h1m-1-3h1m-2 1h1m-1-7h1m-2 0h1m-2 3h1m-8 3h1m-1-6h1m-3 3h1m-1-2h1m-2 3h1m-1-1h1m-2-1h1m-3 3h1m-2 2h1m-3-8h1m-3 8h1m-1-6h1m-3 0h1m-2 5h1m-2-1h1m-1-5h1m-5-1h1m-1 9h1m-2-9h1m-2 2h1m-3-3h1m-4 8h1m-2 2h1m-1 1h1m-2-5h1m-4 3h1m-2-9h1m-1 10h1m-2-4h1m-3 0h1m-1-1h1m-2-4h1m-6 3h1m-3 0h1m-2 0h1m-1-1h1m-4 0h1m-2 5h1m-2-2h1m-3-5h1m-1 8h1m-3-9h1m-1 5h1m-1-1h1m-2-1h1m-2-3h1m-4 5h1m-1-1h1m-5-1h1m-4-3h1m-1 8h1m-2 1h1m-2-9h1m-2 4h1m-2 0h1m-3-1h1m-6 3h1m-2-1h1m-13-2h1m-2 1h1m-5 2h1m-1-3h1m-1 0h1m-2 8h1m-4-1h1m-10 0h1m-1-7h1m-7-3h1m-3 3h1m-8 1h1m-2 4h1m-4-3h1m-6-2h1m-4-1h1m-1 4h1m-3-3h1m-3 2h1m-6 2h1m-1-7h1m-10 1h1m-17 1h1m-1-1h1m-8 9h1m-3-4h1m-2 1h1m-3-1h1m-6 5h1m-3-1h1m-5-4h1m-3-4h1m-21 10h1m-10-9h1m5 20h1m-1-7h1m3 6h1m1-5h1m9-5h1m1 10h1m10-3h1m17 1h1m4 2h1m8-5h1m1 2h1m2-6h1m2 1h1m1 2h1m0 0h1m1 5h1m7 1h1m-1-3h1m-1 0h1m1-6h1m8 9h1m-1-6h1m1 7h1m0-4h1m0-5h1m0 10h1m0-5h1m4 3h1m8-6h1m6 0h1m1 7h1m4-9h1m0 5h1m5 3h1m0-7h1m8 2h1m-1-5h1m1 11h1m2-7h1m5 2h1m-1-5h1m0 5h1m1 4h1m0-1h1m6-3h1m-1-5h1m-1 5h1m0-5h1m2 10h1m3-1h1m2-7h1m-1-1h1m0 4h1m2 3h1m0-4h1m0-2h1m-1-3h1m-1 11h1m3-4h1m0-4h1m0 2h1m3 5h1m0-4h1m-1 4h1m1-2h1m-1-5h1m-1 8h1m4 1h1m1-9h1m-1 8h1m0-7h1m2 3h1m-1 3h1m2 0h1m0-1h1m1-3h1m1-3h1m0-3h1m-1 10h1m0-9h1m-1 7h1m0 1h1m2 3h1m-1-7h1m4-2h1m-1 9h1m-1-11h1m-1 5h1m0-1h1m0 1h1m0-2h1m0-2h1m2 1h1m1 0h1m-1-1h1m0 3h1m-1 5h1m1 2h1m-1-9h1m0 3h1m-1-2h1m0 7h1m1-7h1m2-1h1m2 8h1m0-6h1m0 2h1m0 2h1m-1 2h1m-1-4h1m0-6h1m-1 5h1m0 4h1m1-9h1m1 11h1m-1 0h1m0-8h1m0 4h1m0-5h1m-1 9h1m0-12h1m0 9h1m0-6h1m2 2h1m1 2h1m-1 3h1m0-7h1m-1 4h1m0-5h1m-1 10h1m3-1h1m5-5h1m4 6h1m3 11h1m-10-7h1m-4 4h1m-1-5h1m-3 2h1m-5-2h1m-2 6h1m-1-8h1m-1 2h1m-5 3h1m-1-3h1m-3 4h1m-3 2h1m-2-3h1m-2 4h1m-6-7h1m-2 1h1m-4 4h1m-2-1h1m-2-6h1m-1 2h1m-5 0h1m-2 7h1m-5-6h1m-3-1h1m-2 5h1m-2-6h1m-3-1h1m-2 5h1m-1 1h1m-2-4h1m-1 9h1m-1-12h1m-2 9h1m-1-8h1m-2 10h1m-3-2h1m-1-6h1m-4 5h1m-3 3h1m-1-11h1m-2 11h1m-2-8h1m-2 0h1m-6 8h1m-1 0h1m-3-4h1m-2-4h1m-1 8h1m-1-5h1m-2-5h1m-1 6h1m-1-6h1m-3 0h1m-1 8h1m-2-4h1m-1 6h1m-2-7h1m-2 3h1m-1-3h1m-1 5h1m-2 1h1m-1-8h1m-2 6h1m-1-7h1m-2-1h1m-5 11h1m-4-4h1m-2 0h1m-3-1h1m-2-4h1m-5 6h1m-3 0h1m-1 3h1m-2-11h1m-3 11h1m-3-4h1m-18 3h1m-1-9h1m-3 7h1m-1 2h1m-8-8h1m-2 5h1m-2 0h1m-16 4h1m-3-2h1m-2 0h1m-2 3h1m-2-3h1m-5-8h1m-2 4h1m-2 2h1m-2-7h1m-3 3h1m-3 6h1m-4-1h1m-3 0h1m-6-4h1m-2-3h1m-3 9h1m-2 0h1m-4-3h1m-2 3h1m-2-2h1m-8-2h1m-2-2h1m-2 6h1m-3-7h1m-5 2h1m-3 3h1m-5-2h1m-5 1h1m-4 3h1m-1-7h1m-6 0h1m-2-3h1m-2 0h1m-8 2h1m-4 6h1m-4-3h1m-10 4h1m-4 3h1m-3-10h1m-3 3h1m-3-5h1m-6 1h1m-3 6h1m-7-4h1m-7 5h1m-5-7h1m-4 0h1m-2 9h1m-22-4h1m-2 13h1m17-5h1m1 10h1m0-5h1m2 3h1m3-3h1m1 1h1m0-1h1m0-1h1m1 3h1m0-4h1m2-2h1m1-2h1m3 7h1m1 2h1m0-2h1m-1-3h1m1-2h1m6 2h1m-1 5h1m0-6h1m1 0h1m11 6h1m3-5h1m7-3h1m3 5h1m5 4h1m0-9h1m3 0h1m1 5h1m8 4h1m-1-2h1m4-6h1m0 9h1m-1 0h1m5-7h1m1-4h1m6 6h1m4-6h1m-1 10h1m1-5h1m-1 2h1m6 2h1m-1 0h1m1-1h1m1-5h1m0-1h1m1-1h1m0 10h1m2-5h1m0-1h1m5-2h1m0 2h1m0-2h1m15-3h1m0 2h1m0 0h1m-1 7h1m-1-9h1m4 4h1m6 0h1m2 3h1m0-5h1m1 2h1m4 4h1m0-8h1m3 7h1m-1-6h1m-1 3h1m10-4h1m0 4h1m0-3h1m0 6h1m-1 0h1m-1-7h1m6 4h1m-1 6h1m0-9h1m0 3h1m0-4h1m-1 11h1m0-3h1m9-5h1m0-2h1m-1 0h1m4 4h1m0-1h1m-1 2h1m3-1h1m0-2h1m2-2h1m0 5h1m-1-3h1m-1 7h1m1-4h1m-1-3h1m1 3h1m-1 2h1m-1 1h1m0-6h1m1 3h1m2 4h1m0-5h1m1-4h1m0 4h1m0-4h1m0 4h1m-1-2h1m0 4h1m0-1h1m0 2h1m0 2h1m0 1h1m0-1h1m-1-11h1m-1 4h1m0 3h1m0-4h1m0-2h1m1 9h1m0-10h1m-1 2h1m1 8h1m-1 2h1m0-6h1m15-3h1m5 1h1m-3 17h1m-3 1h1m-1 2h1m-7-5h1m-3-2h1m-4-4h1m-2 6h1m-2-2h1m-1 6h1m-1-2h1m-3-2h1m-4-2h1m-4 2h1m-1-4h1m-2 3h1m-3 3h1m-4-8h1m-3 8h1m-3-2h1m-9 1h1m-4-4h1m-1-4h1m-2 2h1m-2 5h1m-2-3h1m-5-1h1m-1 7h1m-3-4h1m-1-1h1m-2 1h1m-1-1h1m-2-4h1m-2 10h1m-1-9h1m-1 8h1m-1-5h1m-5-1h1m-1-1h1m-1 7h1m-2-4h1m-1 0h1m-2 1h1m-4-5h1m-2 10h1m-6-5h1m-4-1h1m-3 3h1m-2 2h1m-4-7h1m-1-2h1m-3 8h1m-1-7h1m-2 4h1m-1-5h1m-3 8h1m-3-6h1m-2 1h1m-2-2h1m-1 0h1m-2 9h1m-3-7h1m-1-1h1m-3-1h1m-2-1h1m-2 2h1m-4 3h1m-4-3h1m-2 0h1m-8 5h1m-1-8h1m-4 2h1m-2-2h1m-14 5h1m-17 2h1m-4-3h1m-6-2h1m-1-3h1m-5 5h1m-2-5h1m-1 7h1m-7-4h1m-7-2h1m-5 3h1m-3 5h1m-1-4h1m-2 4h1m-7-7h1m-6 3h1m-7-2h1m-2-1h1m-2 6h1m-2 0h1m-21-3h1m-6-2h1m-1 4h1m-2 2h1m-5-8h1m-5 0h1m-2 7h1m-3-3h1m-5 4h1m-1 1h1m-3 0h1m-8-4h1m-6-2h1m-1 7h1m-2-8h1m-8 3h1m-3-5h1m-4 3h1m-7-1h1m-2 3h1m-2 5h1m-2-5h1m-2 4h1m-7-6h1m-11 5h1m-1-1h1m-2-1h1m-3-1h1m-4-6h1m-2 11h1m-4-11h1m-1 8h1m-2-8h1m-29 19h1m7 4h1m17-2h1m14-5h1m-1 5h1m-1 1h1m1-6h1m2 7h1m5 0h1m3-3h1m6 2h1m1-9h1m0 5h1m6-6h1m-1 3h1m7-3h1m3 7h1m3-5h1m-1 9h1m2-9h1m1 1h1m-1 2h1m0 2h1m7-1h1m-1-6h1m0 8h1m0 0h1m1-2h1m1-5h1m0 0h1m2 11h1m3-10h1m13 3h1m2 7h1m5-9h1m3 0h1m1 0h1m2 7h1m-1 2h1m0-1h1m1 0h1m-1 1h1m-1-3h1m1-4h1m3 2h1m5 3h1m1 2h1m6-6h1m2-1h1m2-1h1m1-3h1m4 3h1m2-3h1m1 4h1m5 2h1m4-6h1m1 4h1m7 1h1m1 6h1m1-11h1m1 1h1m4 7h1m0-8h1m-1-1h1m0 2h1m0 10h1m2-5h1m4 4h1m2 1h1m1-10h1m0 2h1m4-1h1m-1 5h1m1-5h1m-1-1h1m-1 5h1m3 0h1m0-1h1m-1 1h1m-1 0h1m1 3h1m1 1h1m1-4h1m4-6h1m0 11h1m-1-11h1m0 9h1m-1-5h1m-1-4h1m1 5h1m2-5h1m0 1h1m0 1h1m0 8h1m-1-8h1m0 0h1m-1 7h1m-1-2h1m0 3h1m0-6h1m0 0h1m1-5h1m0 10h1m-1-2h1m-1 4h1m0 0h1m0-7h1m1-5h1m0 11h1m3-9h1m0 3h1m-1-3h1m1 9h1m-1-1h1m0-7h1m3 3h1m-1 5h1m-1-6h1m0-4h1m0 7h1m0-6h1m-1 10h1m1-5h1m-1 0h1m4-4h1m0 1h1m-1 7h1m0-5h1m-1 4h1m1-2h1m0-4h1m-1 4h1m0-8h1m0 8h1m0-2h1m-1-3h1m-1 6h1m-1-8h1m3 2h1m12 7h1m-10 13h1m-3-9h1m-2 7h1m-1-8h1m-3 6h1m-1 4h1m-3-5h1m-3 6h1m-6-7h1m-3 0h1m-2 1h1m-3-5h1m-1 6h1m-1-6h1m-2 1h1m-5 2h1m-2 7h1m-2-5h1m-5 4h1m-1 1h1m-4-2h1m-2-5h1m-5 4h1m-2-8h1m-2 6h1m-2 6h1m-3-3h1m-1-1h1m-2 3h1m-5-10h1m-1 11h1m-1-10h1m-2-2h1m-2 11h1m-2-9h1m-4 10h1m-2 0h1m-6-9h1m-2-2h1m-3 0h1m-1 2h1m-5-3h1m-4 1h1m-2 6h1m-2-3h1m-5-3h1m-1 3h1m-3 6h1m-2-7h1m-3 2h1m-4-3h1m-2 6h1m-4 4h1m-7-5h1m-2-6h1m-2 1h1m-10 4h1m-4-2h1m-15 5h1m-1-4h1m-2 4h1m-4-3h1m-2-4h1m-11 0h1m-2 3h1m-2-1h1m-2 6h1m-1-4h1m-2 1h1m-3 1h1m-5 3h1m-10 1h1m-10-2h1m-5 0h1m-6-4h1m-8-4h1m-3 4h1m-4 4h1m-6-1h1m-3 1h1m-1-5h1m-3-3h1m-3 0h1m-2 4h1m-12 2h1m-3 3h1m-1-5h1m-2-1h1m-2 1h1m-13 3h1m-4-3h1m-5-4h1m-1 3h1m-4 4h1m-4 0h1m-2-2h1m-3-1h1m-4-5h1m-2 4h1m-3-3h1m-2-1h1m-2 4h1m-3-3h1m-2 2h1m-1-2h1m-6 1h1m-4 6h1m-3-2h1m-5 4h1m-3-11h1m-4 10h1m-10-2h1m-5-1h1m-1 1h1m-1 2h1m-3-3h1m-10-1h1m-4 4h1m-28-1h1m-19 5h1m1 4h1m3 0h1m53 1h1m5 2h1m-1 0h1m2-1h1m1-1h1m2-4h1m6 1h1m2-1h1m8-2h1m6 4h1m6 1h1m6-4h1m3 8h1m5-2h1m1-4h1m1 0h1m0 1h1m2-1h1m2 4h1m0-6h1m6 9h1m0-9h1m3 2h1m2 6h1m3 1h1m-1-3h1m0-3h1m4-3h1m2 8h1m0-4h1m8 0h1m8-5h1m-1-1h1m4 11h1m-1-10h1m1 6h1m3-1h1m13-6h1m13 8h1m2-1h1m2 2h1m-1 0h1m1-7h1m0 4h1m2 5h1m2-2h1m8-9h1m0 7h1m2-4h1m0-2h1m1 3h1m0 8h1m1-3h1m1-8h1m3 5h1m7 5h1m2 0h1m0-8h1m-1 1h1m0 3h1m1 0h1m1 3h1m-1-4h1m3 2h1m0-5h1m-1 2h1m-1 5h1m0-10h1m0 0h1m1 4h1m0 7h1m6-4h1m0 3h1m-1-6h1m0 2h1m0 1h1m0 0h1m-1-6h1m-1 6h1m0-6h1m0 5h1m3 4h1m0-2h1m-1 3h1m0-7h1m-1 5h1m1 0h1m2-8h1m0 0h1m-1 10h1m-1-4h1m1-4h1m0-2h1m0 8h1m-1-3h1m-1 6h1m0-10h1m-1-1h1m1 8h1m2 0h1m3-2h1m1-5h1m-1 5h1m-1-1h1m-1 0h1m1-3h1m-1-1h1m0 2h1m-1 4h1m1 2h1m0 2h1m1-6h1m1 5h1m-1-5h1m0-1h1m17 17h1m-6 1h1m-2 0h1m-6-9h1m-2-2h1m-1 1h1m-4 0h1m-6-1h1m-1 2h1m-3 6h1m-3-4h1m-3 1h1m-1 5h1m-3 0h1m-1-1h1m-2 1h1m-1-9h1m-2 1h1m-1 7h1m-2-9h1m-2 3h1m-1 0h1m-3 0h1m-3 2h1m-2 3h1m-3-4h1m-2 2h1m-2 0h1m-2-3h1m-1 5h1m-2-3h1m-1 3h1m-2-2h1m-3-3h1m-2 1h1m-2-1h1m-1 2h1m-2 0h1m-2 6h1m-4-3h1m-1-7h1m-1 7h1m-3 2h1m-2-7h1m-2 0h1m-1 8h1m-1-5h1m-2 3h1m-1-5h1m-2 4h1m-3-2h1m-3 2h1m-2 4h1m-2 0h1m-2-5h1m-1-4h1m-2 4h1m-2 5h1m-2-11h1m-1 7h1m-2-4h1m-3 2h1m-3-3h1m-2 3h1m-3-3h1m-6-2h1m-3 0h1m-3 0h1m-3 3h1m-3 5h1m-6-3h1m-1-5h1m-3 9h1m-2-8h1m-1 7h1m-12-8h1m-5 0h1m-2 10h1m-2-5h1m-5 6h1m-1-7h1m-2 3h1m-10 3h1m-1-11h1m-1 5h1m-2-3h1m-2 1h1m-9 7h1m-10 0h1m-3-9h1m-2 8h1m-3 2h1m-3-4h1m-1-7h1m-7 9h1m-6-8h1m-4 9h1m-3 0h1m-3-6h1m-2 1h1m-1 0h1m-8 5h1m-4-5h1m-5 3h1m-1 2h1m-5-5h1m-2-5h1m-1 8h1m-1-2h1m-7 2h1m-5 3h1m-2-2h1m-2-8h1m-13 10h1m-5-4h1m-1-1h1m-1-3h1m-2 5h1m-6-2h1m-2-5h1m-6 3h1m-2 6h1m-9 1h1m-3-11h1m-6 7h1m-13 3h1m-2-3h1m-8-3h1m-1 4h1m-3-6h1m-9-1h1m-2 2h1m-3 0h1m-3 3h1m-9 5h1m-20 0h1m-47-9h1m-15 7h1m-9-4h1m-5 14h1m26-2h1m27-4h1m41 4h1m0-3h1m4 4h1m3 0h1m7-1h1m0 5h1m6 1h1m7-6h1m1 3h1m-1 3h1m0-3h1m2 3h1m-1-3h1m3-8h1m-1 8h1m0 2h1m3-6h1m1 7h1m6 0h1m0-8h1m0-2h1m1 0h1m1-1h1m2 11h1m5-8h1m0 5h1m4 2h1m8-7h1m1 6h1m-1-3h1m4-6h1m5 12h1m8-11h1m0 4h1m5-1h1m-1 8h1m2-6h1m-1 1h1m3 2h1m3-2h1m-1 2h1m4-5h1m1 2h1m0-4h1m3 7h1m-1-5h1m5-3h1m-1 8h1m0-5h1m4-1h1m2 6h1m3-2h1m1-5h1m-1 9h1m2-7h1m-1 5h1m1-2h1m1 3h1m0-6h1m2 6h1m3 1h1m4 0h1m3 0h1m13 0h1m2-8h1m0-2h1m2 6h1m7-6h1m1 6h1m0-3h1m-1 4h1m-1 2h1m4-6h1m2-1h1m0 6h1m-1-3h1m-1-2h1m2-3h1m1 3h1m1-3h1m-1 11h1m0-11h1m2 5h1m-1-2h1m1 4h1m2-2h1m-1-4h1m0-2h1m-1 1h1m-1 4h1m-1 2h1m0-2h1m0-4h1m-1 4h1m-1 5h1m0-10h1m1 3h1m-1 7h1m0-5h1m-1-1h1m0 8h1m0-6h1m0 0h1m-1 1h1m0-3h1m-1 8h1m-1-3h1m0-4h1m0 3h1m2-5h1m1 4h1m-1 3h1m3-2h1m0 2h1m0-6h1m-1 1h1m3 2h1m0 0h1m0-3h1m0 4h1m0-2h1m1 18h1m-2-1h1m-9-5h1m-1-4h1m-4 2h1m-1 3h1m-1-1h1m-2-2h1m-3 3h1m-3-3h1m-2 0h1m-2 0h1m-2 2h1m-2 0h1m-4 0h1m-1-5h1m-2 10h1m-2-5h1m-1 4h1m-2-4h1m-4 4h1m-3-7h1m-3-2h1m-1 1h1m-4 4h1m-3 2h1m-1-8h1m-5 4h1m-3-2h1m-1 1h1m-4 5h1m-2-5h1m-2 2h1m-2-3h1m-1 8h1m-5-2h1m-2-1h1m-10 3h1m-3 1h1m-4-7h1m-5 8h1m-3 0h1m-6-7h1m-2-2h1m-1 2h1m-5-5h1m-4 7h1m-2-1h1m-2 6h1m-5-2h1m-2 0h1m-3-8h1m-9 1h1m-10 2h1m-4 6h1m-2-5h1m-3 1h1m-4 2h1m-1 1h1m-6-5h1m-21 7h1m-5-6h1m-5-2h1m-7 1h1m-2-3h1m-1 2h1m-3 1h1m-4 2h1m-3-6h1m-1 4h1m-3 5h1m-3-2h1m-9-4h1m-4 4h1m-1-4h1m-5 1h1m-1 6h1m-2-7h1m-2 0h1m-2-4h1m-7 8h1m-1-3h1m-6 5h1m-6-8h1m-3 1h1m-4 5h1m-2-6h1m-5 6h1m-10-5h1m-2 1h1m-2-1h1m-6 5h1m-4-4h1m-3 2h1m-6 5h1m-3 1h1m-3-9h1m-2-3h1m-4 9h1m-2-1h1m-4-2h1m-2-6h1m-1 2h1m-2 4h1m-2-6h1m-6 3h1m-3 5h1m-29-1h1m-25 1h1m-68 1h1m-26 13h1m29-9h1m0 8h1m23-4h1m32 5h1m1-1h1m49-3h1m13-5h1m1 5h1m2-3h1m1 7h1m3-1h1m8-7h1m1 10h1m0-11h1m1 9h1m6-2h1m2-7h1m3 1h1m3 5h1m2 5h1m-1-10h1m1 8h1m3-3h1m1-6h1m5 3h1m0 6h1m1-7h1m1-2h1m1 1h1m17 2h1m4 5h1m0-5h1m4 1h1m9-3h1m2 6h1m1-1h1m-1-4h1m2 0h1m-1 2h1m0 4h1m4-3h1m4-1h1m1-1h1m0 0h1m1 1h1m4 5h1m2-6h1m4 3h1m-1-2h1m2 7h1m4-1h1m4-1h1m0-4h1m1 5h1m0-5h1m-1 1h1m6 5h1m0-10h1m0 3h1m4-2h1m9 3h1m3-6h1m1 11h1m0-3h1m-1-2h1m7-1h1m8 1h1m6 5h1m0-8h1m-1 2h1m1-4h1m3 3h1m3 6h1m6-10h1m0 8h1m1-8h1m4 0h1m-1 5h1m0 2h1m2-1h1m0-2h1m7 6h1m11-9h1m-11 22h1m-3-7h1m-1-4h1m-12 10h1m-5-7h1m-8 6h1m-1-1h1m-8 4h1m-3-2h1m-2-5h1m-5 2h1m-5-2h1m-3 6h1m-2-11h1m-2 9h1m-4-5h1m-4 3h1m-4 4h1m-3-7h1m-5 4h1m-1-6h1m-4 10h1m-2-3h1m-1-6h1m-6-3h1m-3 7h1m-8 3h1m-12-6h1m-4 7h1m-5 1h1m-2-11h1m-4 8h1m-2 1h1m-3-10h1m-1 8h1m-5-5h1m-7 6h1m-2-6h1m-5-3h1m-12 10h1m-3 2h1m-6-7h1m-5-3h1m-2 9h1m-5-4h1m-4-3h1m-5 3h1m-9 4h1m-4-9h1m-8 5h1m-3-3h1m-7 3h1m-5-6h1m-4 0h1m-1 4h1m-15-3h1m-5 9h1m-2-2h1m-2-7h1m-2 6h1m-6 1h1m-1 0h1m-2-1h1m-3 0h1m-2 3h1m-2-6h1m-2-1h1m-8 4h1m-3-3h1m-5 0h1m-7-4h1m-18 4h1m-4-4h1m-29 8h1m-12-9h1m-1 1h1m-14 5h1m-98 17h1m5-2h1m26-2h1m12-2h1m2 7h1m1-3h1m48-8h1m7 0h1m9 9h1m29-6h1m9 3h1m12 5h1m2-5h1m4-1h1m2 5h1m3-9h1m1-1h1m-1 0h1m3 7h1m4-5h1m0 5h1m-1 3h1m0-7h1m0-1h1m5 9h1m0-10h1m1-2h1m-1 6h1m3 6h1m2-1h1m0-3h1m4-2h1m2 0h1m0-5h1m5 8h1m-1-4h1m3 4h1m1-2h1m1-3h1m0-3h1m2 5h1m0 3h1m0 2h1m1-9h1m9 3h1m0 0h1m0-2h1m2 7h1m0 0h1m0-2h1m2 2h1m-1-6h1m-1 2h1m1-1h1m1 4h1m0-4h1m3 5h1m7-1h1m7-5h1m19-4h1m0 6h1m1 2h1m17 3h1m-1-3h1m2 3h1m-1-2h1m5-6h1m11 7h1m0-5h1m0-2h1m4 7h1m2-3h1m3-2h1m-1 6h1m7-9h1m1 6h1m0 0h1m0 4h1m4-7h1m-1 1h1m0 0h1m6 0h1m0 0h1m0 0h1m-1-2h1m5 6h1m3-6h1m10 6h1m-20 12h1m-2-3h1m-10-5h1m-3 2h1m-6-1h1m-6 1h1m-9 4h1m-7-5h1m-1 3h1m-2-5h1m-4 6h1m-4 1h1m-9-5h1m-4 7h1m-1 1h1m-8-7h1m-1 2h1m-1-2h1m-4 3h1m-1 1h1m-3-2h1m-1-5h1m-3 4h1m-2 6h1m-2-6h1m-3 4h1m-1-3h1m-2 5h1m-21-6h1m-6 4h1m-3-2h1m-5-6h1m-2 9h1m-3-10h1m-5 3h1m-1 9h1m-2-3h1m-6-6h1m-5 8h1m-1-10h1m-9 10h1m-3-6h1m-4 1h1m-2-4h1m-8 9h1m-5-6h1m-5 2h1m-1-1h1m-6 5h1m-4-9h1m-7-1h1m-2 10h1m-2-6h1m-3 6h1m-5-6h1m-9 5h1m-1-9h1m-2-1h1m-2 3h1m-2 8h1m-5-5h1m-4 6h1m-2 0h1m-2-7h1m-5 5h1m-12-7h1m-9 9h1m-2-11h1m-3 10h1m-1-7h1m-10 6h1m-3-7h1m-13 3h1m-10 1h1m-21-3h1m-46 4h1m-10 3h1m-25-7h1m-42-3h1m-7 17h1m14-5h1m57 8h1m13 2h1m4-6h1m40-2h1m32 1h1m0 8h1m10-10h1m2 2h1m1 6h1m0 2h1m0-2h1m2-1h1m0-2h1m4-2h1m-1-4h1m0 11h1m1-7h1m12-3h1m1 6h1m0 1h1m2-7h1m1 1h1m1 0h1m-1 4h1m2 3h1m0-9h1m4 4h1m2-3h1m0 7h1m1-2h1m2-5h1m-1 6h1m4-1h1m6-2h1m0-1h1m1 7h1m5-2h1m-1-6h1m0 4h1m0-4h1m-1 3h1m11-4h1m1 6h1m5-8h1m5 9h1m-1-6h1m1 3h1m-1-3h1m8 6h1m-1-5h1m0-1h1m4-2h1m3 6h1m4 1h1m5-6h1m3 8h1m0-6h1m5-2h1m2 2h1m0 4h1m-1 0h1m0-8h1m0 8h1m0-6h1m7 1h1m0 0h1m2 0h1m2 8h1m5-2h1m0-3h1m1 4h1m3-4h1m5-2h1m5-2h1m6 7h1m5-6h1m18 16h1m-27 0h1m-13 0h1m-11-5h1m-8 4h1m-2 1h1m-2 0h1m-2-3h1m-3-1h1m-2 5h1m-1 2h1m-3 2h1m-3-10h1m-2 1h1m-5-3h1m-2 9h1m-3-3h1m-2 5h1m-6-6h1m-4-2h1m-5-1h1m-4 2h1m-2 6h1m-12-8h1m-3 8h1m-2-5h1m-8 2h1m-6 1h1m-2-1h1m-2 4h1m-14-5h1m-3-5h1m-3 3h1m-2 6h1m-2-2h1m-2-5h1m-10 9h1m-9-3h1m-16 2h1m-3-4h1m-4-6h1m-1 2h1m-3-3h1m-2 6h1m-4 5h1m-11 1h1m-7-9h1m-1 8h1m-14-8h1m-2 8h1m-2-6h1m-1 3h1m-1-2h1m-6-3h1m-5 7h1m-12-6h1m-43-4h1m-34 10h1m-2-3h1m-9-3h1m-25-1h1m-10-3h1m-33 7h1m-60-1h1m35 13h1m6 3h1m12 0h1m9 0h1m31-9h1m8 7h1m0-7h1m6 8h1m18 0h1m31-5h1m26 4h1m32-8h1m7 4h1m1 4h1m2 3h1m5-5h1m0 0h1m-1 3h1m0-6h1m1-3h1m1 4h1m-1-1h1m2 3h1m0-4h1m-1 10h1m-1-10h1m0 3h1m1 2h1m0-3h1m2 5h1m8-5h1m6 5h1m16-7h1m2 9h1m-1-2h1m6 1h1m0-9h1m-1 9h1m4-4h1m1 3h1m1-4h1m8-2h1m0 5h1m21-3h1m-1 5h1m0-9h1m1 9h1m2-6h1m3 4h1m3-4h1m2 2h1m0-3h1m5 1h1m0 7h1m0-4h1m1 0h1m16-4h1m45 3h1m14-2h1m14 10h1m-29 2h1m-12 8h1m-9-12h1m-19 12h1m-10-3h1m-16-5h1m-6 1h1m-4-2h1m-6 6h1m-3-8h1m-5 6h1m-2-2h1m-6 4h1m-1-1h1m-11-3h1m-4-2h1m-7 1h1m-7 4h1m-7 1h1m-4-7h1m-3-1h1m-3 2h1m-3 1h1m-1 2h1m-8-4h1m-11 1h1m-2-1h1m-3 5h1m-7 0h1m-3-2h1m-3-3h1m-7 3h1m-2-3h1m-5 2h1m-2 0h1m-8 1h1m-3 6h1m-2-5h1m-2 1h1m-2-7h1m-2 1h1m-1 2h1m-2 6h1m-1-3h1m-11 1h1m-6 0h1m-33-6h1m-21-1h1m-44 10h1m-21-10h1m-25 5h1m-2 3h1m-67-2h1m-22-3h1m-44 13h1m44 0h1m9 0h1m34-3h1m42 5h1m8-1h1m12 7h1m24-3h1m4-9h1m17 8h1m0 2h1m4-3h1m38 4h1m40-5h1m4-3h1m4 3h1m1-6h1m7 3h1m1 1h1m2 3h1m0-2h1m0 0h1m8 4h1m0-8h1m2 6h1m0 3h1m1-7h1m0 7h1m-1-1h1m2-4h1m4-5h1m0 6h1m0 1h1m-1-7h1m14 4h1m7 7h1m-1-5h1m5-2h1m1 6h1m3-8h1m0 1h1m2 0h1m4 4h1m13 5h1m8-6h1m9-2h1m23 6h1m25 1h1m14-11h1m-23 18h1m-16-1h1m-14 6h1m-11-4h1m-58-2h1m-5 0h1m-9-4h1m-10 2h1m-15 0h1m-3-2h1m-13 0h1m-1 0h1m-3 1h1m-8 3h1m-6-5h1m-3 0h1m-5 4h1m-2 1h1m-39-2h1m-48 4h1m-53-5h1m-34 8h1m-5 0h1m-7-9h1m-5 2h1m-27 6h1m-55 0h1m-17-9h1m-9 10h1m-7-4h1m65 6h1m48 9h1m19 2h1m54-7h1m10-1h1m19 8h1m12-3h1m13-1h1m28-6h1m16 0h1m5-1h1m67 4h1m14-3h1m25 1h1m33 3h1m6-2h1m6 2h1m12-1h1m14 5h1m-15 5h1m-2 5h1m-20-2h1m-50 7h1m-26 0h1m-9-8h1m-2-2h1m-16 9h1m-1-7h1m-100 4h1m-88-6h1m-8 6h1m-35-7h1m-32 5h1m-26 5h1m-56-10h1m26 15h1m46 2h1m20 1h1m32-6h1m17 0h1m12 9h1m64-9h1m14 8h1m2-4h1m13 5h1m42-1h1m12 2h1m9 0h1m27-1h1m31-9h1m20 1h1m25 2h1m26 12h1m-6 0h1m-7 4h1m-6-8h1m-9 4h1m-11-3h1m-3 2h1m-27 2h1m-24 5h1m-20-8h1m-3 9h1m-4 1h1m-8-9h1m-3 4h1m-3 0h1m-15-3h1m-20 2h1m-6-4h1m-1-1h1m-146 10h1m-98-3h1m-18 4h1m-13 11h1m21-6h1m16-4h1m51 8h1m37 2h1m8-7h1m36 6h1m21-4h1m38 2h1m11-1h1m32-5h1m5-1h1m40-1h1m30 1h1m7 9h1m3 2h1m25-10h1m13 10h1m6-7h1m4 19h1m-2 0h1m-19-5h1m-31-7h1m-25 10h1m-13-8h1m-6 3h1m-3-3h1m-6 3h1m-13 5h1m-4-8h1m-16-1h1m-3 0h1m-7 7h1m-67-4h1m-22 5h1m-25-3h1m-3 2h1m-50 0h1m-65-1h1m-5-5h1m-24-1h1m-46 9h1m-37-2h1m25 11h1m57 0h1m14-2h1m26-1h1m15 6h1m29 1h1m162 0h1m2-3h1m34 0h1m-1-1h1m5-4h1m1-1h1m13 7h1m8 1h1m2 1h1m10-3h1m7-3h1m2-4h1m16-1h1m23 6h1m-15 13h1m-34 3h1m-26 1h1m-3-4h1m-54-5h1m-3 1h1m-5 4h1m-3-2h1m-5 0h1m-72-5h1m-39 7h1m-21-6h1m-5 10h1m-1-7h1m-24 5h1m-11-8h1m-23 4h1m-25 13h1m1-2h1m22 7h1m3-5h1m2-3h1m10 5h1m18-3h1m0 3h1m2 1h1m40 1h1m2-6h1m4 6h1m6-2h1m42 1h1m66-6h1m23 7h1m1-2h1m5-6h1m44 6h1m12 3h1m8-7h1m6 0h1m-37 9h1m-7 8h1m-28 1h1m-17-6h1m-16 3h1m-5 1h1m-5-7h1m-113 9h1m-7-10h1m-24 2h1m-57 5h1m-31 2h1m-10-6h1m-29 0h1m-17 6h1m-13-3h1m-3-2h1m-5 1h1m-71 3h1m34 7h1m114 4h1m22 5h1m8-6h1m12-2h1m13-1h1m10 5h1m1-7h1m8 5h1m5-5h1m4 6h1m10-5h1m3 5h1m9-4h1m111-2h1m31 7h1m11 2h1m4-7h1m2 6h1m7 0h1m2-5h1m-1-3h1m2 3h1m5 3h1m4 4h1m5-9h1m13 17h1m-8-5h1m-12 7h1m-3-3h1m-5 3h1m-20-6h1m-7 2h1m-2 1h1m-26-1h1m-7-5h1m-94 7h1m-39-1h1m-7 2h1m-113-8h1m-70 18h1m57-5h1m5 6h1m3 3h1m27-3h1m18-4h1m47-2h1m188 7h1m31-6h1m-15 17h1m-5-7h1m-18 4h1m-176-2h1m-5 4h1m-2-5h1m-5 7h1m-12-8h1m-9 9h1m-24 2h1m-13 1h1m-12-2h1m63 6h1m17 11h1" stroke="#9649a3"/>
<path d="M1183 758h1m-6 6h1m-31-1h1m-25 16h1m18-4h1m25 1h1m16-2h1m1 2h1m5-2h1m11-3h1m14 11h1m-9 9h1m-10-2h1m-2-4h1m-12 0h1m-8-2h1m-18-3h1m-14 10h1m-4-8h1m-145 21h1m76-10h1m25 1h1m51-1h1m39 0h1m15 5h1m-1 5h1m33 12h1m-31-2h1m-10-8h1m-10 2h1m-24-3h1m-38 8h1m-5-8h1m-42 20h1m13-5h1m18 3h1m-1-3h1m1 9h1m0-1h1m1-10h1m21 2h1m27 0h1m11 8h1m42-2h1m-5 9h1m-4 3h1m-6 3h1m-33-3h1m-37 2h1m-43 0h1m-15 1h1m-87 0h1m-32-2h1m174 6h1m8-1h1m35-2h1m3 5h1m44 17h1m-12-2h1m-18 0h1m-2-3h1m-17 5h1m-2-1h1m-2-7h1m-18 6h1m-3 1h1m-9-7h1m-53 1h1m-4 3h1m-62-5h1m-73 15h1m13 7h1m171-10h1m17 0h1m21 7h1m2-1h1m44 10h1m-7 2h1m-7-3h1m-17-1h1m-31 7h1m-1-6h1m-3 6h1m-8-8h1m-27-2h1m-55 4h1m-78-5h1m-16 0h1m-31 24h1m42-9h1m46 5h1m36-1h1m47-7h1m0 11h1m30-10h1m17 4h1m25-4h1m8 9h1m-32 6h1m-50 5h1m-54-1h1m-3-2h1m-69 3h1m-26-7h1m-47 9h1m-44-3h1m64 5h1m47 0h1m65 9h1m85-5h1m29 7h1m2-6h1m3-4h1m13 10h1m-57 4h1m-85 2h1m-40-3h1m-27-2h1m-42 7h1m-73 2h1m-4-4h1m-3-3h1m-30 12h1m166 3h1m1-3h1m5-2h1m10 9h1m12-2h1m83-2h1m60 5h1m20 2h1m-24 10h1m-139-4h1m-17 0h1m-16 3h1m-97-1h1m-41-7h1m-67 22h1m97-3h1m31-7h1m0-2h1m102 12h1m131-6h1m6-6h1m14 10h1m27 13h1m-23-5h1m-4 3h1m-1-5h1m-2 3h1m-11-5h1m-5 2h1m-2 4h1m-3 2h1m-2-4h1m-2-1h1m-77 6h1m-51 0h1m-97-3h1m-66-6h1m-3 20h1m106-10h1m159 8h1m8-5h1m6 7h1m3 1h1m8 1h1m4-3h1m0-4h1m7-4h1m0 4h1m5 4h1m19-3h1m-1 5h1m1-3h1m2 5h1m-3 1h1m-5-1h1m-7 9h1m-2-2h1m-4-3h1m-1 3h1m-2 0h1m-4-6h1m-5-1h1m-2 7h1m-2-6h1m-1-1h1m-2 8h1m-4-9h1m-6 12h1m-6-11h1m-1 2h1m-2 5h1m-2 2h1m-5-3h1m-4-5h1m-3 7h1m-2-4h1m-5-2h1m-3 0h1m-3 0h1m-2 5h1m-6-4h1m-1 1h1m-2 3h1m-10 4h1m-1-5h1m-55 4h1m-17-9h1m-96 0h1m-215 18h1m296-2h1m66-3h1m9 8h1m8-3h1m1 0h1m0 3h1m-1 1h1m2-4h1m0 3h1m5 1h1m2-9h1m6 3h1m0-1h1m2 5h1m2-7h1m0 7h1m1 1h1m2-10h1m0 5h1m1-2h1m3 8h1m0-6h1m0 5h1m0-8h1m2 1h1m1 1h1m3 0h1m1 4h1m22-4h1m-14 11h1m-3-4h1m-1 0h1m-2 3h1m-3-1h1m-12 0h1m-6 2h1m-4-1h1m-4 9h1m-2-6h1m-8-2h1m-4 1h1m-2-1h1m-5 2h1m-5-6h1m-8 11h1m-1-3h1m-3-2h1m-4 0h1m-2-3h1m-8 7h1m-4-8h1m-8 5h1m-21-1h1m-54 4h1m-17-5h1m-1-1h1m-52-1h1m-19 6h1m-181 0h1m95 12h1m16-1h1m89-7h1m4 6h1m17-3h1m12-3h1m86 5h1m3 1h1m0 0h1m5-6h1m2 2h1m3 5h1m0-5h1m0 9h1m0-7h1m2-4h1m2 10h1m0-6h1m1 0h1m7-4h1m4 3h1m-1 2h1m2-5h1m3 10h1m0-10h1m1 3h1m1 7h1m3 1h1m4-7h1m8-4h1m0 8h1m12 2h1m1-7h1m2 4h1m4-3h1m-1 4h1m7-3h1m-11 10h1m-1 4h1m-7 4h1m-4-10h1m-2-1h1m-9 0h1m-15 2h1m-2 9h1m-2-6h1m-3-1h1m-1 3h1m-2-1h1m-7 2h1m-2-7h1m-3-1h1m-3 0h1m-10 4h1m-12-4h1m-6 11h1m-2-10h1m-10 4h1m-3 2h1m-3 3h1m-20-7h1m-4 7h1m-11 0h1m-344 1h1m36 5h1m89 6h1m34 0h1m172 1h1m15-10h1m1 9h1m0 0h1m3-7h1m-1 2h1m0 2h1m1-3h1m1-3h1m0 1h1m-1 1h1m5 5h1m2-5h1m1 3h1m5-7h1m6 4h1m5 4h1m0 3h1m2-11h1m-1 12h1m7-12h1m2 9h1m2 1h1m0-1h1m-1-6h1m1-1h1m2 6h1m6-5h1m0 1h1m0 0h1m-1 4h1m0-1h1m9 4h1m-1-11h1m-1 10h1m1-5h1m0-3h1m9 0h1m-1 10h1m3-2h1m1-6h1m-1 2h1m1-2h1m4 8h1m2-6h1m-1 1h1m1-5h1m0 5h1m-12 12h1m-1-6h1m-3 8h1m-7-5h1m-8-2h1m-3 3h1m-1-2h1m-2 9h1m-3-2h1m-3-7h1m-5 5h1m-5-1h1m-3 1h1m-9-6h1m-5 6h1m-1-5h1m-8-1h1m-4 5h1m-6 5h1m-6-7h1m-7-4h1m-4 3h1m-6 6h1m-4-1h1m-1 1h1m-5-8h1m-4-1h1m-4 4h1m-2 1h1m-1-2h1m-4 6h1m-7 1h1m-5-10h1m-2 8h1m-1-4h1m-3 2h1m-1 2h1m-10 2h1m-2-6h1m-8 1h1m-95 5h1m-53-10h1m-124 10h1m-90 2h1m177-1h1m175 7h1m9-5h1m3 3h1m6 3h1m5-2h1m3-4h1m1 6h1m0 2h1m5-10h1m1 11h1m0-10h1m7 4h1m2-5h1m0 6h1m-1-5h1m0 5h1m2-1h1m3 6h1m1-2h1m-1 2h1m15-2h1m1-2h1m8-1h1m2-5h1m0 2h1m19-2h1m4 4h1m0 6h1m6-2h1m4-9h1m2 4h1m7-1h1m0 18h1m-21 2h1m-3 0h1m-3-4h1m-1-4h1m-2 7h1m-2-5h1m-4-1h1m-2 4h1m-5-1h1m-1 2h1m-2-5h1m-7-1h1m-5-1h1m-6 6h1m-4 0h1m-3-7h1m-8 8h1m-3-4h1m-7 4h1m-5-5h1m-4 4h1m-5-8h1m-1 11h1m-1-7h1m-8 2h1m-2 3h1m-3 3h1m-9-6h1m-3 6h1m-1 0h1m-1-4h1m-2-4h1m-6 1h1m-6 0h1m-13-3h1m-9 2h1m-2-3h1m-2 10h1m-1-6h1m-4 6h1m-3-10h1m-2 2h1m-7 9h1m-1-10h1m-4-1h1m-13 7h1m-227-1h1m-37 9h1m180 3h1m65-2h1m3 0h1m5 1h1m2-4h1m-1 6h1m9-3h1m0-3h1m7 9h1m2-8h1m0 1h1m2 4h1m0-4h1m2-2h1m1 4h1m0 4h1m0-9h1m7 3h1m1-4h1m8 7h1m1-4h1m-1 8h1m-1-8h1m0 2h1m3 7h1m0-7h1m3 6h1m1-3h1m6 1h1m5 3h1m6-9h1m-1-1h1m2 5h1m6-1h1m3 0h1m0 3h1m0-2h1m1 0h1m1 4h1m6-11h1m-1 5h1m2-5h1m4 3h1m2 9h1m3-1h1m-1 1h1m-1-3h1m-1-4h1m11 4h1m0-5h1m0 5h1m0 1h1m8 4h1m-6 5h1m-4 3h1m-14-2h1m-7-8h1m-2 12h1m-2-8h1m-6-2h1m-6 3h1m-7 3h1m-6-7h1m-8 8h1m-2-7h1m-2 5h1m-18 2h1m-3 3h1m-3-7h1m-1-5h1m-15 11h1m-1-5h1m-7 6h1m-5 0h1m-10-3h1m-5 2h1m-2-4h1m-20 5h1m-5-12h1m-11 6h1m-2 0h1m-2 1h1m-4-1h1m-1-3h1m-1 6h1m-8-4h1m-235 17h1m54-10h1m0 12h1m24-8h1m40 4h1m69 1h1m27-4h1m0 2h1m-1-4h1m6 1h1m1-4h1m3 12h1m0-6h1m1-1h1m0 2h1m0-7h1m4 8h1m7-5h1m2 5h1m2-3h1m1 3h1m-1 1h1m4-3h1m3 3h1m3 3h1m2-10h1m3 1h1m0-2h1m1 5h1m0 1h1m-1-4h1m6 8h1m0-10h1m1 2h1m0 2h1m8 3h1m5-5h1m5 8h1m3-7h1m4 3h1m5 3h1m0-6h1m1 0h1m0 0h1m0 3h1m4 3h1m3-9h1m2 0h1m3 6h1m14 3h1m0-5h1m4-4h1m-1 2h1m2 6h1m0-4h1m5-1h1m-2 12h1m-2-3h1m-8 10h1m-8-4h1m-1 0h1m-12-6h1m-6 1h1m-9 7h1m-4-8h1m-1 2h1m-2-1h1m-13 10h1m-1-5h1m-4-2h1m-2 2h1m-3-5h1m-5-2h1m-3 9h1m-3-3h1m-3 0h1m-2-2h1m-1 2h1m-8-5h1m-16 1h1m-2 3h1m-20 1h1m-5 5h1m-2-2h1m-8 1h1m-4-2h1m-5 2h1m-1 0h1m-2-1h1m-3 3h1m-1-6h1m-7-6h1m-2 2h1m-3 7h1m-5 1h1m-7-9h1m-5 5h1m-8-1h1m-5 2h1m-4-6h1m-24 2h1m-30 3h1m-22-4h1m-66-1h1m-48 0h1m66 18h1m65 2h1m63 0h1m15 2h1m0-7h1m1 5h1m0-4h1m8 0h1m-1 3h1m14 4h1m0-1h1m5-4h1m4 1h1m9-6h1m4 4h1m-1-4h1m2 1h1m0 8h1m-1 0h1m2-6h1m2-3h1m9 4h1m0-1h1m3 3h1m3-4h1m0 2h1m1-3h1m7-2h1m2 3h1m1 6h1m-1-1h1m3 0h1m2-8h1m1 4h1m1 1h1m4-5h1m1 1h1m2-1h1m5 2h1m0 9h1m1-10h1m1 8h1m-1-7h1m1-2h1m1 11h1m-1-8h1m5 1h1m6 2h1m2 5h1m-4 4h1m-4 0h1m-8 8h1m-10-11h1m-5 4h1m-3 6h1m-9-3h1m-4 0h1m-1-2h1m-15-2h1m-8 5h1m-1-7h1m-3-1h1m-3 0h1m-10 10h1m-3-1h1m-12-3h1m-6-4h1m-1 2h1m-5-3h1m-6-1h1m-2 1h1m-11 0h1m-2 10h1m-13-1h1m-10 0h1m-2-8h1m-2 2h1m-6 4h1m-20 0h1m-5-7h1m-3 2h1m-6 1h1m-46-3h1m-14 10h1m-49-9h1m128 17h1m0-5h1m6 3h1m4 5h1m7-8h1m3 5h1m3 1h1m1 2h1m2-8h1m7 7h1m2-9h1m3 11h1m1-7h1m11 7h1m0-11h1m0 8h1m0-4h1m0 0h1m1 5h1m1-1h1m6-7h1m-1 4h1m1-1h1m-1 6h1m2-6h1m6-2h1m0 4h1m1 4h1m-1-4h1m2 5h1m2-6h1m1 0h1m-1 1h1m2 4h1m1 0h1m2-8h1m6-2h1m0 2h1m10 8h1m3-2h1m0-6h1m8 4h1m2 8h1m-16-2h1m-6 7h1m-7-1h1m-4 3h1m-5-5h1m-2-5h1m-2 11h1m-3-7h1m-7 3h1m-2-6h1m-1 1h1m-5 6h1m-7 0h1m-4-7h1m-2 9h1m-3 2h1m-2-9h1m-2 5h1m-2 2h1m-2 0h1m-5 2h1m-1-2h1m-2 2h1m-5-5h1m-2-4h1m-2 2h1m-8-1h1m-9-3h1m-1 6h1m-4-5h1m-2 0h1m-6 2h1m-7 1h1m-8-4h1m-2 3h1m-3 8h1m-3-10h1m-3 9h1m-5-7h1m-2 4h1m-11 0h1m-2 3h1m-2-10h1m-8 7h1m-135-6h1m-1 1h1m-3 5h1m142 6h1m17 1h1m0-3h1m0 8h1m4 2h1m-1-8h1m0-2h1m-1 10h1m5-3h1m0-1h1m2-6h1m0 10h1m-1-7h1m1 7h1m-1 1h1m0-5h1m-1 6h1m3-11h1m3 11h1m0-10h1m4-1h1m-1 10h1m7-10h1m2 9h1m0-1h1m4-9h1m0 12h1m1-6h1m0 3h1m0-3h1m1 3h1m0-8h1m0 0h1m1 6h1m0 3h1m4-5h1m0 0h1m-1-4h1m1 6h1m1 0h1m0 2h1m4-9h1m0 6h1m-1 2h1m-1-2h1m2-6h1m1 0h1m0 4h1m1-3h1m0 2h1m1 1h1m-1 3h1m3 2h1m1-4h1m-1 8h1m-5 10h1m-7-10h1m-1 3h1m-1 0h1m-2 3h1m-3 1h1m-4-4h1m-1 4h1m-2-7h1m-6 4h1m-4-4h1m-2 0h1m-5 1h1m-3 2h1m-3 3h1m-3-4h1m-2 7h1m-2-5h1m-1-3h1m-2 7h1m-7-7h1m-8 0h1m-2 7h1m-4-2h1m-1-2h1m-5 3h1m-9 3h1m-11-8h1m-3 9h1m25 11h1m0-6h1m1 0h1m0-1h1m3 5h1m0 0h1m0-1h1m0 0h1m2-3h1m1-5h1m4 7h1m3 1h1m0 0h1m3-1h1m3-5h1m5 3h1m13 1h1m3-2h1m-31 11h1m-12 0h1" stroke="#d81e8e"/>
</g></g>
<text x="12.6" y="8.6" font-size="10.5" text-anchor="start" font-weight="bold" fill="#000">A</text>
<text x="110.0" y="13.2" font-size="8.6" text-anchor="middle">S005</text>
<text x="263.9" y="13.2" font-size="8.6" text-anchor="middle">S006</text>
<text x="417.0" y="13.6" font-size="8.6" text-anchor="middle">S007</text>
<text x="110.4" y="178.4" font-size="8.6" text-anchor="middle">S008</text>
<text x="263.8" y="179.0" font-size="8.6" text-anchor="middle">S014</text>
<line x1="34.6" y1="17.0" x2="34.6" y2="164.3" stroke="#4d4d4d" stroke-width="0.9"/>
<line x1="34.6" y1="182.0" x2="34.6" y2="329.0" stroke="#4d4d4d" stroke-width="0.9"/>
<line x1="31.9" y1="50.9" x2="34.6" y2="50.9" stroke="#4d4d4d" stroke-width="0.8"/>
<text x="31.2" y="53.9" font-size="8.4" text-anchor="end">2</text>
<line x1="31.9" y1="93.5" x2="34.6" y2="93.5" stroke="#4d4d4d" stroke-width="0.8"/>
<text x="31.2" y="96.5" font-size="8.4" text-anchor="end">0</text>
<line x1="31.9" y1="136.1" x2="34.6" y2="136.1" stroke="#4d4d4d" stroke-width="0.8"/>
<text x="31.2" y="139.1" font-size="8.4" text-anchor="end">−2</text>
<line x1="31.9" y1="216.2" x2="34.6" y2="216.2" stroke="#4d4d4d" stroke-width="0.8"/>
<text x="31.2" y="219.2" font-size="8.4" text-anchor="end">2</text>
<line x1="31.9" y1="258.8" x2="34.6" y2="258.8" stroke="#4d4d4d" stroke-width="0.8"/>
<text x="31.2" y="261.8" font-size="8.4" text-anchor="end">0</text>
<line x1="31.9" y1="301.4" x2="34.6" y2="301.4" stroke="#4d4d4d" stroke-width="0.8"/>
<text x="31.2" y="304.4" font-size="8.4" text-anchor="end">−2</text>
<line x1="34.6" y1="329.0" x2="184.6" y2="329.0" stroke="#4d4d4d" stroke-width="0.9"/>
<line x1="39.2" y1="329.0" x2="39.2" y2="331.8" stroke="#4d4d4d" stroke-width="0.8"/>
<text x="39.2" y="341.0" font-size="8.4" text-anchor="middle">−4</text>
<line x1="76.4" y1="329.0" x2="76.4" y2="331.8" stroke="#4d4d4d" stroke-width="0.8"/>
<text x="76.4" y="341.0" font-size="8.4" text-anchor="middle">−2</text>
<line x1="113.6" y1="329.0" x2="113.6" y2="331.8" stroke="#4d4d4d" stroke-width="0.8"/>
<text x="113.6" y="341.0" font-size="8.4" text-anchor="middle">0</text>
<line x1="150.8" y1="329.0" x2="150.8" y2="331.8" stroke="#4d4d4d" stroke-width="0.8"/>
<text x="150.8" y="341.0" font-size="8.4" text-anchor="middle">2</text>
<line x1="188.5" y1="329.0" x2="338.0" y2="329.0" stroke="#4d4d4d" stroke-width="0.9"/>
<line x1="192.8" y1="329.0" x2="192.8" y2="331.8" stroke="#4d4d4d" stroke-width="0.8"/>
<text x="192.8" y="341.0" font-size="8.4" text-anchor="middle">−4</text>
<line x1="230.0" y1="329.0" x2="230.0" y2="331.8" stroke="#4d4d4d" stroke-width="0.8"/>
<text x="230.0" y="341.0" font-size="8.4" text-anchor="middle">−2</text>
<line x1="267.2" y1="329.0" x2="267.2" y2="331.8" stroke="#4d4d4d" stroke-width="0.8"/>
<text x="267.2" y="341.0" font-size="8.4" text-anchor="middle">0</text>
<line x1="304.4" y1="329.0" x2="304.4" y2="331.8" stroke="#4d4d4d" stroke-width="0.8"/>
<text x="304.4" y="341.0" font-size="8.4" text-anchor="middle">2</text>
<line x1="342.8" y1="164.2" x2="490.8" y2="164.2" stroke="#4d4d4d" stroke-width="0.9"/>
<line x1="345.8" y1="164.2" x2="345.8" y2="167.0" stroke="#4d4d4d" stroke-width="0.8"/>
<text x="345.8" y="176.2" font-size="8.4" text-anchor="middle">−4</text>
<line x1="383.0" y1="164.2" x2="383.0" y2="167.0" stroke="#4d4d4d" stroke-width="0.8"/>
<text x="383.0" y="176.2" font-size="8.4" text-anchor="middle">−2</text>
<line x1="420.2" y1="164.2" x2="420.2" y2="167.0" stroke="#4d4d4d" stroke-width="0.8"/>
<text x="420.2" y="176.2" font-size="8.4" text-anchor="middle">0</text>
<line x1="457.4" y1="164.2" x2="457.4" y2="167.0" stroke="#4d4d4d" stroke-width="0.8"/>
<text x="457.4" y="176.2" font-size="8.4" text-anchor="middle">2</text>
<text x="266.5" y="351.9" font-size="8.1" text-anchor="middle">UMAP1</text>
<text x="20.0" y="173.0" font-size="8.6" text-anchor="middle" transform="rotate(-90 20.0 173.0)">UMAP2</text>
<text x="394.0" y="185.5" font-size="8.6" text-anchor="start">Cluster</text>
<rect x="394.0" y="191.1" width="7.8" height="10.6" fill="#d81e8e"/>
<text x="404.5" y="200.0" font-size="8.6" text-anchor="start">IFN<tspan font-family="Liberation Serif, serif">γ</tspan><tspan dy="-3.3" font-size="5.8">hi</tspan><tspan dy="3.3" font-size="8.6"> GM-CSF</tspan><tspan dy="-3.3" font-size="5.8">hi</tspan><tspan dy="3.3" font-size="8.6"> IL2</tspan><tspan dy="-3.3" font-size="5.8">hi</tspan></text>
<rect x="394.0" y="203.3" width="7.8" height="10.6" fill="#9649a3"/>
<text x="404.5" y="212.2" font-size="8.6" text-anchor="start">IFN<tspan font-family="Liberation Serif, serif">γ</tspan><tspan dy="-3.3" font-size="5.8">hi</tspan><tspan dy="3.3" font-size="8.6"> GM-CSF</tspan><tspan dy="-3.3" font-size="5.8">hi</tspan><tspan dy="3.3" font-size="8.6"> IL2</tspan><tspan dy="-3.3" font-size="5.8">lo</tspan></text>
<rect x="394.0" y="215.5" width="7.8" height="10.6" fill="#f5821f"/>
<text x="404.5" y="224.4" font-size="8.6" text-anchor="start">IFN<tspan font-family="Liberation Serif, serif">γ</tspan><tspan dy="-3.3" font-size="5.8">hi</tspan><tspan dy="3.3" font-size="8.6"> GM-CSF</tspan><tspan dy="-3.3" font-size="5.8">lo</tspan><tspan dy="3.3" font-size="8.6"> IL2</tspan><tspan dy="-3.3" font-size="5.8">lo</tspan></text>
<rect x="394.0" y="227.6" width="7.8" height="10.6" fill="#9f9f9f"/>
<text x="404.5" y="236.5" font-size="8.6" text-anchor="start">IFN<tspan font-family="Liberation Serif, serif">γ</tspan><tspan dy="-3.3" font-size="5.8">lo</tspan><tspan dy="3.3" font-size="8.6"> GM-CSF</tspan><tspan dy="-3.3" font-size="5.8">hi</tspan><tspan dy="3.3" font-size="8.6"> IL2</tspan><tspan dy="-3.3" font-size="5.8">hi</tspan></text>
<rect x="394.0" y="239.8" width="7.8" height="10.6" fill="#23963f"/>
<text x="404.5" y="248.7" font-size="8.6" text-anchor="start">IFN<tspan font-family="Liberation Serif, serif">γ</tspan><tspan dy="-3.3" font-size="5.8">lo</tspan><tspan dy="3.3" font-size="8.6"> GM-CSF</tspan><tspan dy="-3.3" font-size="5.8">hi</tspan><tspan dy="3.3" font-size="8.6"> IL2</tspan><tspan dy="-3.3" font-size="5.8">lo</tspan></text>
<rect x="394.0" y="252.0" width="7.8" height="10.6" fill="#3680c4"/>
<text x="404.5" y="260.9" font-size="8.6" text-anchor="start">IFN<tspan font-family="Liberation Serif, serif">γ</tspan><tspan dy="-3.3" font-size="5.8">lo</tspan><tspan dy="3.3" font-size="8.6"> GM-CSF</tspan><tspan dy="-3.3" font-size="5.8">lo</tspan><tspan dy="3.3" font-size="8.6"> IL2</tspan><tspan dy="-3.3" font-size="5.8">lo</tspan></text>
<text x="394.0" y="276.8" font-size="8.6" text-anchor="start">Median scaled</text>
<text x="394.0" y="284.8" font-size="8.6" text-anchor="start">expression</text>
<defs><linearGradient id="cb" x1="0" y1="1" x2="0" y2="0"><stop offset="0" stop-color="#2b3a9b"/><stop offset="0.1" stop-color="#2063b0"/><stop offset="0.2" stop-color="#1993b3"/><stop offset="0.3" stop-color="#5fbdb1"/><stop offset="0.4" stop-color="#c3e4cf"/><stop offset="0.5" stop-color="#f4f1c3"/><stop offset="0.6" stop-color="#f8d466"/><stop offset="0.7" stop-color="#f2a42e"/><stop offset="0.8" stop-color="#e8582a"/><stop offset="0.9" stop-color="#c8202b"/><stop offset="1.0" stop-color="#a50f26"/></linearGradient></defs>
<rect x="393.3" y="289.9" width="9.3" height="54.5" fill="url(#cb)"/>
<text x="404.7" y="294.8" font-size="8.2" text-anchor="start">1</text>
<line x1="393.3" y1="291.9" x2="395.3" y2="291.9" stroke="#fff" stroke-width="0.6"/>
<line x1="400.6" y1="291.9" x2="402.6" y2="291.9" stroke="#fff" stroke-width="0.6"/>
<text x="404.7" y="305.0" font-size="8.2" text-anchor="start">0.8</text>
<line x1="393.3" y1="302.1" x2="395.3" y2="302.1" stroke="#fff" stroke-width="0.6"/>
<line x1="400.6" y1="302.1" x2="402.6" y2="302.1" stroke="#fff" stroke-width="0.6"/>
<text x="404.7" y="315.1" font-size="8.2" text-anchor="start">0.6</text>
<text x="404.7" y="325.3" font-size="8.2" text-anchor="start">0.4</text>
<text x="404.7" y="335.4" font-size="8.2" text-anchor="start">0.2</text>
<line x1="393.3" y1="332.5" x2="395.3" y2="332.5" stroke="#fff" stroke-width="0.6"/>
<line x1="400.6" y1="332.5" x2="402.6" y2="332.5" stroke="#fff" stroke-width="0.6"/>
<text x="404.7" y="345.6" font-size="8.2" text-anchor="start">0</text>
<line x1="393.3" y1="342.7" x2="395.3" y2="342.7" stroke="#fff" stroke-width="0.6"/>
<line x1="400.6" y1="342.7" x2="402.6" y2="342.7" stroke="#fff" stroke-width="0.6"/>
<text x="462.9" y="285.6" font-size="8.6" text-anchor="start">Condition</text>
<rect x="464.7" y="295.4" width="12.7" height="11.2" fill="none" stroke="#f27c78" stroke-width="0.9"/>
<rect x="464.7" y="309.5" width="12.7" height="11.2" fill="none" stroke="#2bbcbc" stroke-width="0.9"/>
<text x="481.0" y="304.2" font-size="8.6" text-anchor="start">Stim</text>
<text x="481.0" y="318.0" font-size="8.6" text-anchor="start">Unstim</text>
<text x="12.8" y="382.8" font-size="10.5" text-anchor="start" font-weight="bold" fill="#000">B</text>
<text x="209.3" y="386.4" font-size="8.6" text-anchor="middle">CDS functional panel</text>
<rect x="39.8" y="390.3" width="8.3" height="34.6" fill="#d81e8e"/>
<rect x="51.0" y="390.3" width="11.2" height="34.6" fill="#A8192A"/>
<rect x="63.2" y="390.3" width="11.2" height="34.6" fill="#AE1A2C"/>
<rect x="75.3" y="390.3" width="11.2" height="34.6" fill="#E0502A"/>
<rect x="87.5" y="390.3" width="11.2" height="34.6" fill="#E56B2A"/>
<rect x="99.7" y="390.3" width="11.2" height="34.6" fill="#F0A030"/>
<rect x="111.8" y="390.3" width="11.2" height="34.6" fill="#EE9628"/>
<rect x="124.0" y="390.3" width="11.2" height="34.6" fill="#F0A030"/>
<rect x="136.2" y="390.3" width="11.2" height="34.6" fill="#F0A535"/>
<rect x="148.4" y="390.3" width="11.2" height="34.6" fill="#F0A535"/>
<rect x="160.5" y="390.3" width="11.2" height="34.6" fill="#E5812A"/>
<rect x="172.7" y="390.3" width="11.2" height="34.6" fill="#EE9A28"/>
<rect x="184.9" y="390.3" width="11.2" height="34.6" fill="#E5782A"/>
<rect x="197.0" y="390.3" width="11.2" height="34.6" fill="#F5CB80"/>
<rect x="209.2" y="390.3" width="11.2" height="34.6" fill="#F0B555"/>
<rect x="221.4" y="390.3" width="11.2" height="34.6" fill="#EEA535"/>
<rect x="233.6" y="390.3" width="11.2" height="34.6" fill="#F3C570"/>
<rect x="245.7" y="390.3" width="11.2" height="34.6" fill="#F0B555"/>
<rect x="257.9" y="390.3" width="11.2" height="34.6" fill="#F3C570"/>
<rect x="270.1" y="390.3" width="11.2" height="34.6" fill="#F5DF95"/>
<rect x="282.2" y="390.3" width="11.2" height="34.6" fill="#EFF0C8"/>
<rect x="294.4" y="390.3" width="11.2" height="34.6" fill="#EFF0C8"/>
<rect x="306.6" y="390.3" width="11.2" height="34.6" fill="#DA4A22"/>
<rect x="318.7" y="390.3" width="11.2" height="34.6" fill="#F3C570"/>
<rect x="330.9" y="390.3" width="11.2" height="34.6" fill="#E3EDD3"/>
<rect x="343.1" y="390.3" width="11.2" height="34.6" fill="#8ECDB8"/>
<rect x="355.2" y="390.3" width="11.2" height="34.6" fill="#7EC7B8"/>
<rect x="367.4" y="390.3" width="11.2" height="34.6" fill="#E8F0D5"/>
<rect x="39.8" y="425.9" width="8.3" height="34.6" fill="#9649a3"/>
<rect x="51.0" y="425.9" width="11.2" height="34.6" fill="#B31E2C"/>
<rect x="63.2" y="425.9" width="11.2" height="34.6" fill="#D0402E"/>
<rect x="75.3" y="425.9" width="11.2" height="34.6" fill="#E05A28"/>
<rect x="87.5" y="425.9" width="11.2" height="34.6" fill="#E87530"/>
<rect x="99.7" y="425.9" width="11.2" height="34.6" fill="#F0A030"/>
<rect x="111.8" y="425.9" width="11.2" height="34.6" fill="#EE9A28"/>
<rect x="124.0" y="425.9" width="11.2" height="34.6" fill="#F0A535"/>
<rect x="136.2" y="425.9" width="11.2" height="34.6" fill="#F2AE45"/>
<rect x="148.4" y="425.9" width="11.2" height="34.6" fill="#F5C870"/>
<rect x="160.5" y="425.9" width="11.2" height="34.6" fill="#E8852A"/>
<rect x="172.7" y="425.9" width="11.2" height="34.6" fill="#EE9A28"/>
<rect x="184.9" y="425.9" width="11.2" height="34.6" fill="#EE9A28"/>
<rect x="197.0" y="425.9" width="11.2" height="34.6" fill="#F0B555"/>
<rect x="209.2" y="425.9" width="11.2" height="34.6" fill="#F3C570"/>
<rect x="221.4" y="425.9" width="11.2" height="34.6" fill="#F5D58A"/>
<rect x="233.6" y="425.9" width="11.2" height="34.6" fill="#F3C570"/>
<rect x="245.7" y="425.9" width="11.2" height="34.6" fill="#F3C570"/>
<rect x="257.9" y="425.9" width="11.2" height="34.6" fill="#EFF0C8"/>
<rect x="270.1" y="425.9" width="11.2" height="34.6" fill="#F3EBB5"/>
<rect x="282.2" y="425.9" width="11.2" height="34.6" fill="#F3EFC0"/>
<rect x="294.4" y="425.9" width="11.2" height="34.6" fill="#EFF0C8"/>
<rect x="306.6" y="425.9" width="11.2" height="34.6" fill="#BEE0CF"/>
<rect x="318.7" y="425.9" width="11.2" height="34.6" fill="#F5EBB0"/>
<rect x="330.9" y="425.9" width="11.2" height="34.6" fill="#D0E8D3"/>
<rect x="343.1" y="425.9" width="11.2" height="34.6" fill="#8ECDB8"/>
<rect x="355.2" y="425.9" width="11.2" height="34.6" fill="#A7D6C5"/>
<rect x="367.4" y="425.9" width="11.2" height="34.6" fill="#1A8AAD"/>
<rect x="39.8" y="461.5" width="8.3" height="34.6" fill="#f5821f"/>
<rect x="51.0" y="461.5" width="11.2" height="34.6" fill="#D0402E"/>
<rect x="63.2" y="461.5" width="11.2" height="34.6" fill="#DAEDD5"/>
<rect x="75.3" y="461.5" width="11.2" height="34.6" fill="#6FC3B5"/>
<rect x="87.5" y="461.5" width="11.2" height="34.6" fill="#E8802E"/>
<rect x="99.7" y="461.5" width="11.2" height="34.6" fill="#F0A535"/>
<rect x="111.8" y="461.5" width="11.2" height="34.6" fill="#F0A535"/>
<rect x="124.0" y="461.5" width="11.2" height="34.6" fill="#F2B550"/>
<rect x="136.2" y="461.5" width="11.2" height="34.6" fill="#F2B550"/>
<rect x="148.4" y="461.5" width="11.2" height="34.6" fill="#F2B550"/>
<rect x="160.5" y="461.5" width="11.2" height="34.6" fill="#F5DB95"/>
<rect x="172.7" y="461.5" width="11.2" height="34.6" fill="#F5EBB0"/>
<rect x="184.9" y="461.5" width="11.2" height="34.6" fill="#F3C570"/>
<rect x="197.0" y="461.5" width="11.2" height="34.6" fill="#F0B555"/>
<rect x="209.2" y="461.5" width="11.2" height="34.6" fill="#F5EBB0"/>
<rect x="221.4" y="461.5" width="11.2" height="34.6" fill="#F5EDB8"/>
<rect x="233.6" y="461.5" width="11.2" height="34.6" fill="#F3EFBB"/>
<rect x="245.7" y="461.5" width="11.2" height="34.6" fill="#D8EBD8"/>
<rect x="257.9" y="461.5" width="11.2" height="34.6" fill="#F3EFBB"/>
<rect x="270.1" y="461.5" width="11.2" height="34.6" fill="#F3EBB0"/>
<rect x="282.2" y="461.5" width="11.2" height="34.6" fill="#EFF0C8"/>
<rect x="294.4" y="461.5" width="11.2" height="34.6" fill="#EFF0C8"/>
<rect x="306.6" y="461.5" width="11.2" height="34.6" fill="#BEE0CF"/>
<rect x="318.7" y="461.5" width="11.2" height="34.6" fill="#EFF0C8"/>
<rect x="330.9" y="461.5" width="11.2" height="34.6" fill="#C8E4D0"/>
<rect x="343.1" y="461.5" width="11.2" height="34.6" fill="#8ECDB8"/>
<rect x="355.2" y="461.5" width="11.2" height="34.6" fill="#7EC7B8"/>
<rect x="367.4" y="461.5" width="11.2" height="34.6" fill="#1A8AAD"/>
<rect x="39.8" y="497.2" width="8.3" height="34.6" fill="#9f9f9f"/>
<rect x="51.0" y="497.2" width="11.2" height="34.6" fill="#C7E3D3"/>
<rect x="63.2" y="497.2" width="11.2" height="34.6" fill="#BE2A2C"/>
<rect x="75.3" y="497.2" width="11.2" height="34.6" fill="#E35A2B"/>
<rect x="87.5" y="497.2" width="11.2" height="34.6" fill="#F3B955"/>
<rect x="99.7" y="497.2" width="11.2" height="34.6" fill="#F3BD5E"/>
<rect x="111.8" y="497.2" width="11.2" height="34.6" fill="#EE9A28"/>
<rect x="124.0" y="497.2" width="11.2" height="34.6" fill="#EE9A28"/>
<rect x="136.2" y="497.2" width="11.2" height="34.6" fill="#F0A535"/>
<rect x="148.4" y="497.2" width="11.2" height="34.6" fill="#EE9A28"/>
<rect x="160.5" y="497.2" width="11.2" height="34.6" fill="#E8882A"/>
<rect x="172.7" y="497.2" width="11.2" height="34.6" fill="#EE9A28"/>
<rect x="184.9" y="497.2" width="11.2" height="34.6" fill="#F0AC40"/>
<rect x="197.0" y="497.2" width="11.2" height="34.6" fill="#F5D890"/>
<rect x="209.2" y="497.2" width="11.2" height="34.6" fill="#F3C570"/>
<rect x="221.4" y="497.2" width="11.2" height="34.6" fill="#D8EBD5"/>
<rect x="233.6" y="497.2" width="11.2" height="34.6" fill="#F5DB95"/>
<rect x="245.7" y="497.2" width="11.2" height="34.6" fill="#F3EBB0"/>
<rect x="257.9" y="497.2" width="11.2" height="34.6" fill="#F3C570"/>
<rect x="270.1" y="497.2" width="11.2" height="34.6" fill="#F5DF95"/>
<rect x="282.2" y="497.2" width="11.2" height="34.6" fill="#EFF0C8"/>
<rect x="294.4" y="497.2" width="11.2" height="34.6" fill="#C8E4D0"/>
<rect x="306.6" y="497.2" width="11.2" height="34.6" fill="#D9431F"/>
<rect x="318.7" y="497.2" width="11.2" height="34.6" fill="#1B7FB0"/>
<rect x="330.9" y="497.2" width="11.2" height="34.6" fill="#C8E4D0"/>
<rect x="343.1" y="497.2" width="11.2" height="34.6" fill="#8ECDB8"/>
<rect x="355.2" y="497.2" width="11.2" height="34.6" fill="#A0D3C0"/>
<rect x="367.4" y="497.2" width="11.2" height="34.6" fill="#C8E4D0"/>
<rect x="39.8" y="532.8" width="8.3" height="34.6" fill="#23963f"/>
<rect x="51.0" y="532.8" width="11.2" height="34.6" fill="#CDE6D2"/>
<rect x="63.2" y="532.8" width="11.2" height="34.6" fill="#E5572B"/>
<rect x="75.3" y="532.8" width="11.2" height="34.6" fill="#E8782E"/>
<rect x="87.5" y="532.8" width="11.2" height="34.6" fill="#F3BD5E"/>
<rect x="99.7" y="532.8" width="11.2" height="34.6" fill="#EEA02A"/>
<rect x="111.8" y="532.8" width="11.2" height="34.6" fill="#F0A535"/>
<rect x="124.0" y="532.8" width="11.2" height="34.6" fill="#F0AC40"/>
<rect x="136.2" y="532.8" width="11.2" height="34.6" fill="#F3C265"/>
<rect x="148.4" y="532.8" width="11.2" height="34.6" fill="#F3C265"/>
<rect x="160.5" y="532.8" width="11.2" height="34.6" fill="#E8882A"/>
<rect x="172.7" y="532.8" width="11.2" height="34.6" fill="#F0AC40"/>
<rect x="184.9" y="532.8" width="11.2" height="34.6" fill="#F5D58A"/>
<rect x="197.0" y="532.8" width="11.2" height="34.6" fill="#F3C570"/>
<rect x="209.2" y="532.8" width="11.2" height="34.6" fill="#F5D58A"/>
<rect x="221.4" y="532.8" width="11.2" height="34.6" fill="#8ECDB8"/>
<rect x="233.6" y="532.8" width="11.2" height="34.6" fill="#F3EBB5"/>
<rect x="245.7" y="532.8" width="11.2" height="34.6" fill="#E8F0D0"/>
<rect x="257.9" y="532.8" width="11.2" height="34.6" fill="#E8F0D0"/>
<rect x="270.1" y="532.8" width="11.2" height="34.6" fill="#F5EBB0"/>
<rect x="282.2" y="532.8" width="11.2" height="34.6" fill="#EFF0C8"/>
<rect x="294.4" y="532.8" width="11.2" height="34.6" fill="#D0E8D3"/>
<rect x="306.6" y="532.8" width="11.2" height="34.6" fill="#A7D6C5"/>
<rect x="318.7" y="532.8" width="11.2" height="34.6" fill="#1B78AE"/>
<rect x="330.9" y="532.8" width="11.2" height="34.6" fill="#A0D3C0"/>
<rect x="343.1" y="532.8" width="11.2" height="34.6" fill="#8ECDB8"/>
<rect x="355.2" y="532.8" width="11.2" height="34.6" fill="#7EC7B8"/>
<rect x="367.4" y="532.8" width="11.2" height="34.6" fill="#1F5FAE"/>
<rect x="39.8" y="568.4" width="8.3" height="34.6" fill="#3680c4"/>
<rect x="51.0" y="568.4" width="11.2" height="34.6" fill="#6DBFB0"/>
<rect x="63.2" y="568.4" width="11.2" height="34.6" fill="#5FB9AD"/>
<rect x="75.3" y="568.4" width="11.2" height="34.6" fill="#DDEDD2"/>
<rect x="87.5" y="568.4" width="11.2" height="34.6" fill="#F5D27A"/>
<rect x="99.7" y="568.4" width="11.2" height="34.6" fill="#EEA535"/>
<rect x="111.8" y="568.4" width="11.2" height="34.6" fill="#F5D58A"/>
<rect x="124.0" y="568.4" width="11.2" height="34.6" fill="#F3CB70"/>
<rect x="136.2" y="568.4" width="11.2" height="34.6" fill="#F5D27A"/>
<rect x="148.4" y="568.4" width="11.2" height="34.6" fill="#F5D58A"/>
<rect x="160.5" y="568.4" width="11.2" height="34.6" fill="#F0EFC8"/>
<rect x="172.7" y="568.4" width="11.2" height="34.6" fill="#DDEBD0"/>
<rect x="184.9" y="568.4" width="11.2" height="34.6" fill="#D0E8D3"/>
<rect x="197.0" y="568.4" width="11.2" height="34.6" fill="#F3EBB5"/>
<rect x="209.2" y="568.4" width="11.2" height="34.6" fill="#F3EFC0"/>
<rect x="221.4" y="568.4" width="11.2" height="34.6" fill="#3FAFAE"/>
<rect x="233.6" y="568.4" width="11.2" height="34.6" fill="#A7D6C5"/>
<rect x="245.7" y="568.4" width="11.2" height="34.6" fill="#7EC7B8"/>
<rect x="257.9" y="568.4" width="11.2" height="34.6" fill="#8ECDB8"/>
<rect x="270.1" y="568.4" width="11.2" height="34.6" fill="#C0E0CC"/>
<rect x="282.2" y="568.4" width="11.2" height="34.6" fill="#D8EBD5"/>
<rect x="294.4" y="568.4" width="11.2" height="34.6" fill="#A7D6C5"/>
<rect x="306.6" y="568.4" width="11.2" height="34.6" fill="#2EA5AC"/>
<rect x="318.7" y="568.4" width="11.2" height="34.6" fill="#1F6AB5"/>
<rect x="330.9" y="568.4" width="11.2" height="34.6" fill="#2EA5AC"/>
<rect x="343.1" y="568.4" width="11.2" height="34.6" fill="#2A9DB0"/>
<rect x="355.2" y="568.4" width="11.2" height="34.6" fill="#1F65B0"/>
<rect x="367.4" y="568.4" width="11.2" height="34.6" fill="#2E48A5"/>
<line x1="29.3" y1="407.6" x2="38.3" y2="407.6" stroke="#5a5a5a" stroke-width="0.75"/>
<line x1="29.3" y1="443.2" x2="38.3" y2="443.2" stroke="#5a5a5a" stroke-width="0.75"/>
<line x1="29.3" y1="407.6" x2="29.3" y2="443.2" stroke="#5a5a5a" stroke-width="0.75"/>
<line x1="24.9" y1="425.4" x2="29.3" y2="425.4" stroke="#5a5a5a" stroke-width="0.75"/>
<line x1="24.9" y1="478.8" x2="38.3" y2="478.8" stroke="#5a5a5a" stroke-width="0.75"/>
<line x1="24.9" y1="425.4" x2="24.9" y2="478.8" stroke="#5a5a5a" stroke-width="0.75"/>
<line x1="28.4" y1="514.5" x2="38.3" y2="514.5" stroke="#5a5a5a" stroke-width="0.75"/>
<line x1="28.4" y1="550.1" x2="38.3" y2="550.1" stroke="#5a5a5a" stroke-width="0.75"/>
<line x1="28.4" y1="514.5" x2="28.4" y2="550.1" stroke="#5a5a5a" stroke-width="0.75"/>
<line x1="24.0" y1="452.1" x2="24.9" y2="452.1" stroke="#5a5a5a" stroke-width="0.75"/>
<line x1="24.0" y1="532.3" x2="28.4" y2="532.3" stroke="#5a5a5a" stroke-width="0.75"/>
<line x1="24.0" y1="452.1" x2="24.0" y2="532.3" stroke="#5a5a5a" stroke-width="0.75"/>
<line x1="19.5" y1="492.2" x2="24.0" y2="492.2" stroke="#5a5a5a" stroke-width="0.75"/>
<line x1="19.5" y1="585.7" x2="38.3" y2="585.7" stroke="#5a5a5a" stroke-width="0.75"/>
<line x1="19.5" y1="492.2" x2="19.5" y2="585.7" stroke="#5a5a5a" stroke-width="0.75"/>
<rect x="381.0" y="393.8" width="11.4" height="27.6" fill="#bdbdbd"/>
<text x="459.3" y="406.3" font-size="8" text-anchor="middle">IFN<tspan font-family="Liberation Serif, serif">γ</tspan><tspan dy="-3.0" font-size="5.4">hi</tspan><tspan dy="3.0" font-size="8"> GM-CSF</tspan><tspan dy="-3.0" font-size="5.4">hi</tspan><tspan dy="3.0" font-size="8"> IL2</tspan><tspan dy="-3.0" font-size="5.4">hi</tspan></text>
<text x="459.3" y="416.2" font-size="8" text-anchor="middle">(14.93%)</text>
<rect x="381.0" y="429.4" width="34.9" height="27.6" fill="#bdbdbd"/>
<text x="459.3" y="441.9" font-size="8" text-anchor="middle">IFN<tspan font-family="Liberation Serif, serif">γ</tspan><tspan dy="-3.0" font-size="5.4">hi</tspan><tspan dy="3.0" font-size="8"> GM-CSF</tspan><tspan dy="-3.0" font-size="5.4">hi</tspan><tspan dy="3.0" font-size="8"> IL2</tspan><tspan dy="-3.0" font-size="5.4">lo</tspan></text>
<text x="459.3" y="451.8" font-size="8" text-anchor="middle">(45.73%)</text>
<rect x="381.0" y="465.0" width="6.2" height="27.6" fill="#bdbdbd"/>
<text x="459.3" y="477.5" font-size="8" text-anchor="middle">IFN<tspan font-family="Liberation Serif, serif">γ</tspan><tspan dy="-3.0" font-size="5.4">hi</tspan><tspan dy="3.0" font-size="8"> GM-CSF</tspan><tspan dy="-3.0" font-size="5.4">lo</tspan><tspan dy="3.0" font-size="8"> IL2</tspan><tspan dy="-3.0" font-size="5.4">lo</tspan></text>
<text x="459.3" y="487.4" font-size="8" text-anchor="middle">(8.1%)</text>
<rect x="381.0" y="500.7" width="5.0" height="27.6" fill="#bdbdbd"/>
<text x="459.3" y="513.2" font-size="8" text-anchor="middle">IFN<tspan font-family="Liberation Serif, serif">γ</tspan><tspan dy="-3.0" font-size="5.4">lo</tspan><tspan dy="3.0" font-size="8"> GM-CSF</tspan><tspan dy="-3.0" font-size="5.4">hi</tspan><tspan dy="3.0" font-size="8"> IL2</tspan><tspan dy="-3.0" font-size="5.4">hi</tspan></text>
<text x="459.3" y="523.1" font-size="8" text-anchor="middle">(6.54%)</text>
<rect x="381.0" y="536.3" width="15.1" height="27.6" fill="#bdbdbd"/>
<text x="459.3" y="548.8" font-size="8" text-anchor="middle">IFN<tspan font-family="Liberation Serif, serif">γ</tspan><tspan dy="-3.0" font-size="5.4">lo</tspan><tspan dy="3.0" font-size="8"> GM-CSF</tspan><tspan dy="-3.0" font-size="5.4">hi</tspan><tspan dy="3.0" font-size="8"> IL2</tspan><tspan dy="-3.0" font-size="5.4">hi</tspan></text>
<text x="459.3" y="558.7" font-size="8" text-anchor="middle">(19.74%)</text>
<rect x="381.0" y="571.9" width="3.8" height="27.6" fill="#bdbdbd"/>
<text x="459.3" y="584.4" font-size="8" text-anchor="middle">IFN<tspan font-family="Liberation Serif, serif">γ</tspan><tspan dy="-3.0" font-size="5.4">lo</tspan><tspan dy="3.0" font-size="8"> GM-CSF</tspan><tspan dy="-3.0" font-size="5.4">lo</tspan><tspan dy="3.0" font-size="8"> IL2</tspan><tspan dy="-3.0" font-size="5.4">lo</tspan></text>
<text x="459.3" y="594.3" font-size="8" text-anchor="middle">(4.95%)</text>
<line x1="380.1" y1="603.8" x2="417.1" y2="603.8" stroke="#4d4d4d" stroke-width="0.8"/>
<line x1="380.4" y1="603.8" x2="380.4" y2="605.8" stroke="#4d4d4d" stroke-width="0.8"/>
<line x1="393.4" y1="603.8" x2="393.4" y2="605.8" stroke="#4d4d4d" stroke-width="0.8"/>
<line x1="406.3" y1="603.8" x2="406.3" y2="605.8" stroke="#4d4d4d" stroke-width="0.8"/>
<text x="46.8" y="607.3" font-size="8.1" text-anchor="end" transform="rotate(-90 46.8 607.3)">Cluster</text>
<text x="59.5" y="607.3" font-size="8.1" text-anchor="end" transform="rotate(-90 59.5 607.3)">IFN<tspan font-family="Liberation Serif, serif">γ</tspan></text>
<text x="71.7" y="607.3" font-size="8.1" text-anchor="end" transform="rotate(-90 71.7 607.3)">GM-CSF</text>
<text x="83.8" y="607.3" font-size="8.1" text-anchor="end" transform="rotate(-90 83.8 607.3)">CD39</text>
<text x="96.0" y="607.3" font-size="8.1" text-anchor="end" transform="rotate(-90 96.0 607.3)">Granzyme B</text>
<text x="108.2" y="607.3" font-size="8.1" text-anchor="end" transform="rotate(-90 108.2 607.3)">CD45RA</text>
<text x="120.3" y="607.3" font-size="8.1" text-anchor="end" transform="rotate(-90 120.3 607.3)">IL13</text>
<text x="132.5" y="607.3" font-size="8.1" text-anchor="end" transform="rotate(-90 132.5 607.3)">CD45RO</text>
<text x="144.7" y="607.3" font-size="8.1" text-anchor="end" transform="rotate(-90 144.7 607.3)">Perforin</text>
<text x="156.9" y="607.3" font-size="8.1" text-anchor="end" transform="rotate(-90 156.9 607.3)">HLA-DR</text>
<text x="169.0" y="607.3" font-size="8.1" text-anchor="end" transform="rotate(-90 169.0 607.3)">IL17a</text>
<text x="181.2" y="607.3" font-size="8.1" text-anchor="end" transform="rotate(-90 181.2 607.3)">IL10</text>
<text x="193.4" y="607.3" font-size="8.1" text-anchor="end" transform="rotate(-90 193.4 607.3)">TNF<tspan font-family="Liberation Serif, serif">α</tspan></text>
<text x="205.5" y="607.3" font-size="8.1" text-anchor="end" transform="rotate(-90 205.5 607.3)">CTLA4</text>
<text x="217.7" y="607.3" font-size="8.1" text-anchor="end" transform="rotate(-90 217.7 607.3)">CD3</text>
<text x="229.9" y="607.3" font-size="8.1" text-anchor="end" transform="rotate(-90 229.9 607.3)">IL6</text>
<text x="242.1" y="607.3" font-size="8.1" text-anchor="end" transform="rotate(-90 242.1 607.3)">IL5</text>
<text x="254.2" y="607.3" font-size="8.1" text-anchor="end" transform="rotate(-90 254.2 607.3)">IL3</text>
<text x="266.4" y="607.3" font-size="8.1" text-anchor="end" transform="rotate(-90 266.4 607.3)">IL8</text>
<text x="278.6" y="607.3" font-size="8.1" text-anchor="end" transform="rotate(-90 278.6 607.3)">CD127</text>
<text x="290.7" y="607.3" font-size="8.1" text-anchor="end" transform="rotate(-90 290.7 607.3)">CD25</text>
<text x="302.9" y="607.3" font-size="8.1" text-anchor="end" transform="rotate(-90 302.9 607.3)">CD69</text>
<text x="315.1" y="607.3" font-size="8.1" text-anchor="end" transform="rotate(-90 315.1 607.3)">IL2</text>
<text x="327.2" y="607.3" font-size="8.1" text-anchor="end" transform="rotate(-90 327.2 607.3)">CD161</text>
<text x="339.4" y="607.3" font-size="8.1" text-anchor="end" transform="rotate(-90 339.4 607.3)">IL21</text>
<text x="351.6" y="607.3" font-size="8.1" text-anchor="end" transform="rotate(-90 351.6 607.3)">PD-1</text>
<text x="363.8" y="607.3" font-size="8.1" text-anchor="end" transform="rotate(-90 363.8 607.3)">IL4</text>
<text x="375.9" y="607.3" font-size="8.1" text-anchor="end" transform="rotate(-90 375.9 607.3)">IL22</text>
<text x="383.3" y="607.3" font-size="8.1" text-anchor="end" transform="rotate(-90 383.3 607.3)">0</text>
<text x="396.3" y="607.3" font-size="8.1" text-anchor="end" transform="rotate(-90 396.3 607.3)">50,000</text>
<text x="409.2" y="607.3" font-size="8.1" text-anchor="end" transform="rotate(-90 409.2 607.3)">1e + 05</text>
<text x="398.5" y="644.2" font-size="8" text-anchor="middle">Cell counts</text>
<text x="0.8" y="672.6" font-size="10.5" text-anchor="start" font-weight="bold" fill="#000">C</text>
<rect x="39.6" y="686.2" width="44.9" height="52.1" fill="#d81e8e"/>
<rect x="39.6" y="738.0" width="44.9" height="102.3" fill="#9649a3"/>
<rect x="39.6" y="840.0" width="44.9" height="25.1" fill="#f5821f"/>
<rect x="39.6" y="864.8" width="44.9" height="20.4" fill="#9f9f9f"/>
<rect x="39.6" y="884.9" width="44.9" height="33.0" fill="#23963f"/>
<rect x="39.6" y="917.6" width="44.9" height="7.7" fill="#3680c4"/>
<text x="62.0" y="682.4" font-size="8.4" text-anchor="middle">S005</text>
<rect x="88.7" y="686.2" width="44.9" height="7.5" fill="#d81e8e"/>
<rect x="88.7" y="693.4" width="44.9" height="116.8" fill="#9649a3"/>
<rect x="88.7" y="809.9" width="44.9" height="29.4" fill="#f5821f"/>
<rect x="88.7" y="839.0" width="44.9" height="4.8" fill="#9f9f9f"/>
<rect x="88.7" y="843.6" width="44.9" height="61.7" fill="#23963f"/>
<rect x="88.7" y="904.9" width="44.9" height="20.4" fill="#3680c4"/>
<text x="111.1" y="682.4" font-size="8.4" text-anchor="middle">S006</text>
<rect x="137.7" y="686.2" width="44.9" height="33.7" fill="#d81e8e"/>
<rect x="137.7" y="719.6" width="44.9" height="87.7" fill="#9649a3"/>
<rect x="137.7" y="807.0" width="44.9" height="23.0" fill="#f5821f"/>
<rect x="137.7" y="829.7" width="44.9" height="24.7" fill="#9f9f9f"/>
<rect x="137.7" y="854.1" width="44.9" height="54.0" fill="#23963f"/>
<rect x="137.7" y="907.8" width="44.9" height="17.5" fill="#3680c4"/>
<text x="160.1" y="682.4" font-size="8.4" text-anchor="middle">S007</text>
<rect x="186.7" y="686.2" width="44.9" height="39.5" fill="#d81e8e"/>
<rect x="186.7" y="725.4" width="44.9" height="114.0" fill="#9649a3"/>
<rect x="186.7" y="839.0" width="44.9" height="13.7" fill="#f5821f"/>
<rect x="186.7" y="852.4" width="44.9" height="15.6" fill="#9f9f9f"/>
<rect x="186.7" y="867.7" width="44.9" height="48.1" fill="#23963f"/>
<rect x="186.7" y="915.4" width="44.9" height="9.9" fill="#3680c4"/>
<text x="209.2" y="682.4" font-size="8.4" text-anchor="middle">S008</text>
<rect x="235.8" y="686.2" width="44.9" height="46.4" fill="#d81e8e"/>
<rect x="235.8" y="732.3" width="44.9" height="128.3" fill="#9649a3"/>
<rect x="235.8" y="860.3" width="44.9" height="8.9" fill="#f5821f"/>
<rect x="235.8" y="868.9" width="44.9" height="13.4" fill="#9f9f9f"/>
<rect x="235.8" y="882.0" width="44.9" height="38.7" fill="#23963f"/>
<rect x="235.8" y="920.5" width="44.9" height="4.8" fill="#3680c4"/>
<text x="258.2" y="682.4" font-size="8.4" text-anchor="middle">S014</text>
<line x1="37.0" y1="686.2" x2="39.6" y2="686.2" stroke="#4d4d4d" stroke-width="0.8"/>
<text x="36.0" y="689.1" font-size="8" text-anchor="end">100</text>
<line x1="37.0" y1="745.9" x2="39.6" y2="745.9" stroke="#4d4d4d" stroke-width="0.8"/>
<text x="36.0" y="748.8" font-size="8" text-anchor="end">75</text>
<line x1="37.0" y1="805.6" x2="39.6" y2="805.6" stroke="#4d4d4d" stroke-width="0.8"/>
<text x="36.0" y="808.5" font-size="8" text-anchor="end">50</text>
<line x1="37.0" y1="865.3" x2="39.6" y2="865.3" stroke="#4d4d4d" stroke-width="0.8"/>
<text x="36.0" y="868.2" font-size="8" text-anchor="end">25</text>
<line x1="37.0" y1="925.0" x2="39.6" y2="925.0" stroke="#4d4d4d" stroke-width="0.8"/>
<text x="36.0" y="927.9" font-size="8" text-anchor="end">0</text>
<text x="14.2" y="807.0" font-size="8.5" text-anchor="middle" transform="rotate(-90 14.2 807.0)">Cluster proportion (%)</text>
<text x="0.8" y="946.0" font-size="10.5" text-anchor="start" font-weight="bold" fill="#000">D</text>
<text x="69.2" y="966.2" font-size="8.4" text-anchor="middle">IFN<tspan font-family="Liberation Serif, serif">γ</tspan></text>
<rect x="38.7" y="968.7" width="61.5" height="60.5" fill="none" stroke="#b3b3b3" stroke-width="0.6"/>
<line x1="38.7" y1="968.7" x2="38.7" y2="1029.2" stroke="#5a5a5a" stroke-width="0.8"/>
<line x1="38.7" y1="1029.2" x2="100.2" y2="1029.2" stroke="#5a5a5a" stroke-width="0.8"/>
<line x1="36.9" y1="969.9" x2="38.7" y2="969.9" stroke="#5a5a5a" stroke-width="0.7"/>
<text x="36.5" y="972.8" font-size="8.2" text-anchor="end">10<tspan dy="-3.4" font-size="6.2">4</tspan></text>
<line x1="36.9" y1="982.4" x2="38.7" y2="982.4" stroke="#5a5a5a" stroke-width="0.7"/>
<text x="36.5" y="985.3" font-size="8.2" text-anchor="end">10<tspan dy="-3.4" font-size="6.2">3</tspan></text>
<line x1="36.9" y1="995.1" x2="38.7" y2="995.1" stroke="#5a5a5a" stroke-width="0.7"/>
<text x="36.5" y="998.0" font-size="8.2" text-anchor="end">10<tspan dy="-3.4" font-size="6.2">2</tspan></text>
<line x1="36.9" y1="1007.8" x2="38.7" y2="1007.8" stroke="#5a5a5a" stroke-width="0.7"/>
<text x="36.5" y="1010.7" font-size="8.2" text-anchor="end">10<tspan dy="-3.4" font-size="6.2">1</tspan></text>
<line x1="36.9" y1="1020.0" x2="38.7" y2="1020.0" stroke="#5a5a5a" stroke-width="0.7"/>
<text x="34.7" y="1022.9" font-size="8.2" text-anchor="end">0</text>
<line x1="47.7" y1="1029.2" x2="47.7" y2="1031.0" stroke="#5a5a5a" stroke-width="0.7"/>
<line x1="60.2" y1="1029.2" x2="60.2" y2="1031.0" stroke="#5a5a5a" stroke-width="0.7"/>
<line x1="73.7" y1="1029.2" x2="73.7" y2="1031.0" stroke="#5a5a5a" stroke-width="0.7"/>
<line x1="86.6" y1="1029.2" x2="86.6" y2="1031.0" stroke="#5a5a5a" stroke-width="0.7"/>
<line x1="98.7" y1="1029.2" x2="98.7" y2="1031.0" stroke="#5a5a5a" stroke-width="0.7"/>
<line x1="42.7" y1="1029.2" x2="42.7" y2="1030.2" stroke="#8a8a8a" stroke-width="0.5"/>
<line x1="45.2" y1="1029.2" x2="45.2" y2="1030.2" stroke="#8a8a8a" stroke-width="0.5"/>
<line x1="53.7" y1="1029.2" x2="53.7" y2="1030.2" stroke="#8a8a8a" stroke-width="0.5"/>
<line x1="56.7" y1="1029.2" x2="56.7" y2="1030.2" stroke="#8a8a8a" stroke-width="0.5"/>
<line x1="66.7" y1="1029.2" x2="66.7" y2="1030.2" stroke="#8a8a8a" stroke-width="0.5"/>
<line x1="69.7" y1="1029.2" x2="69.7" y2="1030.2" stroke="#8a8a8a" stroke-width="0.5"/>
<line x1="79.7" y1="1029.2" x2="79.7" y2="1030.2" stroke="#8a8a8a" stroke-width="0.5"/>
<line x1="82.7" y1="1029.2" x2="82.7" y2="1030.2" stroke="#8a8a8a" stroke-width="0.5"/>
<line x1="91.7" y1="1029.2" x2="91.7" y2="1030.2" stroke="#8a8a8a" stroke-width="0.5"/>
<line x1="94.7" y1="1029.2" x2="94.7" y2="1030.2" stroke="#8a8a8a" stroke-width="0.5"/>
<text x="45.3" y="1039.6" font-size="8.2">0 10<tspan dy="-3.4" font-size="6.2">1</tspan><tspan dy="3.4">10</tspan><tspan dy="-3.4" font-size="6.2">2</tspan><tspan dy="3.4">10</tspan><tspan dy="-3.4" font-size="6.2">3</tspan><tspan dy="3.4">10</tspan><tspan dy="-3.4" font-size="6.2">4</tspan></text>
<text x="69.7" y="1051.5" font-size="8.2" text-anchor="middle">CD8</text>
<text x="19.7" y="1000.2" font-size="8.2" text-anchor="middle" transform="rotate(-90 19.7 1000.2)">IFN<tspan font-family="Liberation Serif, serif">γ</tspan></text>
<rect x="61.5" y="978.2" width="19.9" height="23.3" fill="none" stroke="#4d4d4d" stroke-width="0.6"/>
<text x="51.8" y="987.5" font-size="6" text-anchor="middle" fill="#333">IFN<tspan font-family="Liberation Serif, serif">γ</tspan></text>
<text x="48.7" y="994.9" font-size="6" text-anchor="middle" fill="#333">2.17E-3</text>
<rect x="38.7" y="1081.2" width="61.5" height="60.5" fill="none" stroke="#b3b3b3" stroke-width="0.6"/>
<line x1="38.7" y1="1081.2" x2="38.7" y2="1141.7" stroke="#5a5a5a" stroke-width="0.8"/>
<line x1="38.7" y1="1141.7" x2="100.2" y2="1141.7" stroke="#5a5a5a" stroke-width="0.8"/>
<line x1="36.9" y1="1082.4" x2="38.7" y2="1082.4" stroke="#5a5a5a" stroke-width="0.7"/>
<text x="36.5" y="1085.3" font-size="8.2" text-anchor="end">10<tspan dy="-3.4" font-size="6.2">4</tspan></text>
<line x1="36.9" y1="1094.9" x2="38.7" y2="1094.9" stroke="#5a5a5a" stroke-width="0.7"/>
<text x="36.5" y="1097.8" font-size="8.2" text-anchor="end">10<tspan dy="-3.4" font-size="6.2">3</tspan></text>
<line x1="36.9" y1="1107.6" x2="38.7" y2="1107.6" stroke="#5a5a5a" stroke-width="0.7"/>
<text x="36.5" y="1110.5" font-size="8.2" text-anchor="end">10<tspan dy="-3.4" font-size="6.2">2</tspan></text>
<line x1="36.9" y1="1120.3" x2="38.7" y2="1120.3" stroke="#5a5a5a" stroke-width="0.7"/>
<text x="36.5" y="1123.2" font-size="8.2" text-anchor="end">10<tspan dy="-3.4" font-size="6.2">1</tspan></text>
<line x1="36.9" y1="1132.5" x2="38.7" y2="1132.5" stroke="#5a5a5a" stroke-width="0.7"/>
<text x="34.7" y="1135.4" font-size="8.2" text-anchor="end">0</text>
<line x1="47.7" y1="1141.7" x2="47.7" y2="1143.5" stroke="#5a5a5a" stroke-width="0.7"/>
<line x1="60.2" y1="1141.7" x2="60.2" y2="1143.5" stroke="#5a5a5a" stroke-width="0.7"/>
<line x1="73.7" y1="1141.7" x2="73.7" y2="1143.5" stroke="#5a5a5a" stroke-width="0.7"/>
<line x1="86.6" y1="1141.7" x2="86.6" y2="1143.5" stroke="#5a5a5a" stroke-width="0.7"/>
<line x1="98.7" y1="1141.7" x2="98.7" y2="1143.5" stroke="#5a5a5a" stroke-width="0.7"/>
<line x1="42.7" y1="1141.7" x2="42.7" y2="1142.7" stroke="#8a8a8a" stroke-width="0.5"/>
<line x1="45.2" y1="1141.7" x2="45.2" y2="1142.7" stroke="#8a8a8a" stroke-width="0.5"/>
<line x1="53.7" y1="1141.7" x2="53.7" y2="1142.7" stroke="#8a8a8a" stroke-width="0.5"/>
<line x1="56.7" y1="1141.7" x2="56.7" y2="1142.7" stroke="#8a8a8a" stroke-width="0.5"/>
<line x1="66.7" y1="1141.7" x2="66.7" y2="1142.7" stroke="#8a8a8a" stroke-width="0.5"/>
<line x1="69.7" y1="1141.7" x2="69.7" y2="1142.7" stroke="#8a8a8a" stroke-width="0.5"/>
<line x1="79.7" y1="1141.7" x2="79.7" y2="1142.7" stroke="#8a8a8a" stroke-width="0.5"/>
<line x1="82.7" y1="1141.7" x2="82.7" y2="1142.7" stroke="#8a8a8a" stroke-width="0.5"/>
<line x1="91.7" y1="1141.7" x2="91.7" y2="1142.7" stroke="#8a8a8a" stroke-width="0.5"/>
<line x1="94.7" y1="1141.7" x2="94.7" y2="1142.7" stroke="#8a8a8a" stroke-width="0.5"/>
<text x="45.3" y="1152.1" font-size="8.2">0 10<tspan dy="-3.4" font-size="6.2">1</tspan><tspan dy="3.4">10</tspan><tspan dy="-3.4" font-size="6.2">2</tspan><tspan dy="3.4">10</tspan><tspan dy="-3.4" font-size="6.2">3</tspan><tspan dy="3.4">10</tspan><tspan dy="-3.4" font-size="6.2">4</tspan></text>
<text x="69.7" y="1164.0" font-size="8.2" text-anchor="middle">CD8</text>
<text x="19.7" y="1112.7" font-size="8.2" text-anchor="middle" transform="rotate(-90 19.7 1112.7)">IFN<tspan font-family="Liberation Serif, serif">γ</tspan></text>
<rect x="61.3" y="1090.1" width="20.1" height="23.3" fill="none" stroke="#4d4d4d" stroke-width="0.6"/>
<text x="46.5" y="1100.2" font-size="6" text-anchor="middle" fill="#333">IFN<tspan font-family="Liberation Serif, serif">γ</tspan></text>
<text x="46.5" y="1108.5" font-size="6" text-anchor="middle" fill="#333">68.7</text>
<text x="169.2" y="966.2" font-size="8.4" text-anchor="middle">GM-CSF</text>
<rect x="138.7" y="968.7" width="61.5" height="60.5" fill="none" stroke="#b3b3b3" stroke-width="0.6"/>
<line x1="138.7" y1="968.7" x2="138.7" y2="1029.2" stroke="#5a5a5a" stroke-width="0.8"/>
<line x1="138.7" y1="1029.2" x2="200.2" y2="1029.2" stroke="#5a5a5a" stroke-width="0.8"/>
<line x1="136.9" y1="969.9" x2="138.7" y2="969.9" stroke="#5a5a5a" stroke-width="0.7"/>
<text x="136.5" y="972.8" font-size="8.2" text-anchor="end">10<tspan dy="-3.4" font-size="6.2">4</tspan></text>
<line x1="136.9" y1="982.4" x2="138.7" y2="982.4" stroke="#5a5a5a" stroke-width="0.7"/>
<text x="136.5" y="985.3" font-size="8.2" text-anchor="end">10<tspan dy="-3.4" font-size="6.2">3</tspan></text>
<line x1="136.9" y1="995.1" x2="138.7" y2="995.1" stroke="#5a5a5a" stroke-width="0.7"/>
<text x="136.5" y="998.0" font-size="8.2" text-anchor="end">10<tspan dy="-3.4" font-size="6.2">2</tspan></text>
<line x1="136.9" y1="1007.8" x2="138.7" y2="1007.8" stroke="#5a5a5a" stroke-width="0.7"/>
<text x="136.5" y="1010.7" font-size="8.2" text-anchor="end">10<tspan dy="-3.4" font-size="6.2">1</tspan></text>
<line x1="136.9" y1="1020.0" x2="138.7" y2="1020.0" stroke="#5a5a5a" stroke-width="0.7"/>
<text x="134.7" y="1022.9" font-size="8.2" text-anchor="end">0</text>
<line x1="147.7" y1="1029.2" x2="147.7" y2="1031.0" stroke="#5a5a5a" stroke-width="0.7"/>
<line x1="160.2" y1="1029.2" x2="160.2" y2="1031.0" stroke="#5a5a5a" stroke-width="0.7"/>
<line x1="173.7" y1="1029.2" x2="173.7" y2="1031.0" stroke="#5a5a5a" stroke-width="0.7"/>
<line x1="186.6" y1="1029.2" x2="186.6" y2="1031.0" stroke="#5a5a5a" stroke-width="0.7"/>
<line x1="198.7" y1="1029.2" x2="198.7" y2="1031.0" stroke="#5a5a5a" stroke-width="0.7"/>
<line x1="142.7" y1="1029.2" x2="142.7" y2="1030.2" stroke="#8a8a8a" stroke-width="0.5"/>
<line x1="145.2" y1="1029.2" x2="145.2" y2="1030.2" stroke="#8a8a8a" stroke-width="0.5"/>
<line x1="153.7" y1="1029.2" x2="153.7" y2="1030.2" stroke="#8a8a8a" stroke-width="0.5"/>
<line x1="156.7" y1="1029.2" x2="156.7" y2="1030.2" stroke="#8a8a8a" stroke-width="0.5"/>
<line x1="166.7" y1="1029.2" x2="166.7" y2="1030.2" stroke="#8a8a8a" stroke-width="0.5"/>
<line x1="169.7" y1="1029.2" x2="169.7" y2="1030.2" stroke="#8a8a8a" stroke-width="0.5"/>
<line x1="179.7" y1="1029.2" x2="179.7" y2="1030.2" stroke="#8a8a8a" stroke-width="0.5"/>
<line x1="182.7" y1="1029.2" x2="182.7" y2="1030.2" stroke="#8a8a8a" stroke-width="0.5"/>
<line x1="191.7" y1="1029.2" x2="191.7" y2="1030.2" stroke="#8a8a8a" stroke-width="0.5"/>
<line x1="194.7" y1="1029.2" x2="194.7" y2="1030.2" stroke="#8a8a8a" stroke-width="0.5"/>
<text x="145.3" y="1039.6" font-size="8.2">0 10<tspan dy="-3.4" font-size="6.2">1</tspan><tspan dy="3.4">10</tspan><tspan dy="-3.4" font-size="6.2">2</tspan><tspan dy="3.4">10</tspan><tspan dy="-3.4" font-size="6.2">3</tspan><tspan dy="3.4">10</tspan><tspan dy="-3.4" font-size="6.2">4</tspan></text>
<text x="169.7" y="1051.5" font-size="8.2" text-anchor="middle">CD8</text>
<text x="119.7" y="1000.2" font-size="8.2" text-anchor="middle" transform="rotate(-90 119.7 1000.2)">GM-CSF</text>
<rect x="162.3" y="975.0" width="22.7" height="22.5" fill="none" stroke="#4d4d4d" stroke-width="0.6"/>
<text x="150.7" y="984.6" font-size="6" text-anchor="middle" fill="#333">GM-CSF</text>
<text x="150.4" y="990.9" font-size="6" text-anchor="middle" fill="#333">0</text>
<rect x="138.7" y="1081.2" width="61.5" height="60.5" fill="none" stroke="#b3b3b3" stroke-width="0.6"/>
<line x1="138.7" y1="1081.2" x2="138.7" y2="1141.7" stroke="#5a5a5a" stroke-width="0.8"/>
<line x1="138.7" y1="1141.7" x2="200.2" y2="1141.7" stroke="#5a5a5a" stroke-width="0.8"/>
<line x1="136.9" y1="1082.4" x2="138.7" y2="1082.4" stroke="#5a5a5a" stroke-width="0.7"/>
<text x="136.5" y="1085.3" font-size="8.2" text-anchor="end">10<tspan dy="-3.4" font-size="6.2">4</tspan></text>
<line x1="136.9" y1="1094.9" x2="138.7" y2="1094.9" stroke="#5a5a5a" stroke-width="0.7"/>
<text x="136.5" y="1097.8" font-size="8.2" text-anchor="end">10<tspan dy="-3.4" font-size="6.2">3</tspan></text>
<line x1="136.9" y1="1107.6" x2="138.7" y2="1107.6" stroke="#5a5a5a" stroke-width="0.7"/>
<text x="136.5" y="1110.5" font-size="8.2" text-anchor="end">10<tspan dy="-3.4" font-size="6.2">2</tspan></text>
<line x1="136.9" y1="1120.3" x2="138.7" y2="1120.3" stroke="#5a5a5a" stroke-width="0.7"/>
<text x="136.5" y="1123.2" font-size="8.2" text-anchor="end">10<tspan dy="-3.4" font-size="6.2">1</tspan></text>
<line x1="136.9" y1="1132.5" x2="138.7" y2="1132.5" stroke="#5a5a5a" stroke-width="0.7"/>
<text x="134.7" y="1135.4" font-size="8.2" text-anchor="end">0</text>
<line x1="147.7" y1="1141.7" x2="147.7" y2="1143.5" stroke="#5a5a5a" stroke-width="0.7"/>
<line x1="160.2" y1="1141.7" x2="160.2" y2="1143.5" stroke="#5a5a5a" stroke-width="0.7"/>
<line x1="173.7" y1="1141.7" x2="173.7" y2="1143.5" stroke="#5a5a5a" stroke-width="0.7"/>
<line x1="186.6" y1="1141.7" x2="186.6" y2="1143.5" stroke="#5a5a5a" stroke-width="0.7"/>
<line x1="198.7" y1="1141.7" x2="198.7" y2="1143.5" stroke="#5a5a5a" stroke-width="0.7"/>
<line x1="142.7" y1="1141.7" x2="142.7" y2="1142.7" stroke="#8a8a8a" stroke-width="0.5"/>
<line x1="145.2" y1="1141.7" x2="145.2" y2="1142.7" stroke="#8a8a8a" stroke-width="0.5"/>
<line x1="153.7" y1="1141.7" x2="153.7" y2="1142.7" stroke="#8a8a8a" stroke-width="0.5"/>
<line x1="156.7" y1="1141.7" x2="156.7" y2="1142.7" stroke="#8a8a8a" stroke-width="0.5"/>
<line x1="166.7" y1="1141.7" x2="166.7" y2="1142.7" stroke="#8a8a8a" stroke-width="0.5"/>
<line x1="169.7" y1="1141.7" x2="169.7" y2="1142.7" stroke="#8a8a8a" stroke-width="0.5"/>
<line x1="179.7" y1="1141.7" x2="179.7" y2="1142.7" stroke="#8a8a8a" stroke-width="0.5"/>
<line x1="182.7" y1="1141.7" x2="182.7" y2="1142.7" stroke="#8a8a8a" stroke-width="0.5"/>
<line x1="191.7" y1="1141.7" x2="191.7" y2="1142.7" stroke="#8a8a8a" stroke-width="0.5"/>
<line x1="194.7" y1="1141.7" x2="194.7" y2="1142.7" stroke="#8a8a8a" stroke-width="0.5"/>
<text x="145.3" y="1152.1" font-size="8.2">0 10<tspan dy="-3.4" font-size="6.2">1</tspan><tspan dy="3.4">10</tspan><tspan dy="-3.4" font-size="6.2">2</tspan><tspan dy="3.4">10</tspan><tspan dy="-3.4" font-size="6.2">3</tspan><tspan dy="3.4">10</tspan><tspan dy="-3.4" font-size="6.2">4</tspan></text>
<text x="169.7" y="1164.0" font-size="8.2" text-anchor="middle">CD8</text>
<text x="119.7" y="1112.7" font-size="8.2" text-anchor="middle" transform="rotate(-90 119.7 1112.7)">GM-CSF</text>
<rect x="162.5" y="1087.3" width="23.1" height="23.1" fill="none" stroke="#4d4d4d" stroke-width="0.6"/>
<text x="149.4" y="1097.7" font-size="6" text-anchor="middle" fill="#333">GM-CSF</text>
<text x="149.4" y="1104.8" font-size="6" text-anchor="middle" fill="#333">75.8</text>
<text x="273.3" y="966.2" font-size="8.4" text-anchor="middle">IL2</text>
<rect x="242.8" y="968.7" width="61.5" height="60.5" fill="none" stroke="#b3b3b3" stroke-width="0.6"/>
<line x1="242.8" y1="968.7" x2="242.8" y2="1029.2" stroke="#5a5a5a" stroke-width="0.8"/>
<line x1="242.8" y1="1029.2" x2="304.3" y2="1029.2" stroke="#5a5a5a" stroke-width="0.8"/>
<line x1="241.0" y1="969.9" x2="242.8" y2="969.9" stroke="#5a5a5a" stroke-width="0.7"/>
<text x="240.6" y="972.8" font-size="8.2" text-anchor="end">10<tspan dy="-3.4" font-size="6.2">4</tspan></text>
<line x1="241.0" y1="982.4" x2="242.8" y2="982.4" stroke="#5a5a5a" stroke-width="0.7"/>
<text x="240.6" y="985.3" font-size="8.2" text-anchor="end">10<tspan dy="-3.4" font-size="6.2">3</tspan></text>
<line x1="241.0" y1="995.1" x2="242.8" y2="995.1" stroke="#5a5a5a" stroke-width="0.7"/>
<text x="240.6" y="998.0" font-size="8.2" text-anchor="end">10<tspan dy="-3.4" font-size="6.2">2</tspan></text>
<line x1="241.0" y1="1007.8" x2="242.8" y2="1007.8" stroke="#5a5a5a" stroke-width="0.7"/>
<text x="240.6" y="1010.7" font-size="8.2" text-anchor="end">10<tspan dy="-3.4" font-size="6.2">1</tspan></text>
<line x1="241.0" y1="1020.0" x2="242.8" y2="1020.0" stroke="#5a5a5a" stroke-width="0.7"/>
<text x="238.8" y="1022.9" font-size="8.2" text-anchor="end">0</text>
<line x1="251.8" y1="1029.2" x2="251.8" y2="1031.0" stroke="#5a5a5a" stroke-width="0.7"/>
<line x1="264.3" y1="1029.2" x2="264.3" y2="1031.0" stroke="#5a5a5a" stroke-width="0.7"/>
<line x1="277.8" y1="1029.2" x2="277.8" y2="1031.0" stroke="#5a5a5a" stroke-width="0.7"/>
<line x1="290.7" y1="1029.2" x2="290.7" y2="1031.0" stroke="#5a5a5a" stroke-width="0.7"/>
<line x1="302.8" y1="1029.2" x2="302.8" y2="1031.0" stroke="#5a5a5a" stroke-width="0.7"/>
<line x1="246.8" y1="1029.2" x2="246.8" y2="1030.2" stroke="#8a8a8a" stroke-width="0.5"/>
<line x1="249.3" y1="1029.2" x2="249.3" y2="1030.2" stroke="#8a8a8a" stroke-width="0.5"/>
<line x1="257.8" y1="1029.2" x2="257.8" y2="1030.2" stroke="#8a8a8a" stroke-width="0.5"/>
<line x1="260.8" y1="1029.2" x2="260.8" y2="1030.2" stroke="#8a8a8a" stroke-width="0.5"/>
<line x1="270.8" y1="1029.2" x2="270.8" y2="1030.2" stroke="#8a8a8a" stroke-width="0.5"/>
<line x1="273.8" y1="1029.2" x2="273.8" y2="1030.2" stroke="#8a8a8a" stroke-width="0.5"/>
<line x1="283.8" y1="1029.2" x2="283.8" y2="1030.2" stroke="#8a8a8a" stroke-width="0.5"/>
<line x1="286.8" y1="1029.2" x2="286.8" y2="1030.2" stroke="#8a8a8a" stroke-width="0.5"/>
<line x1="295.8" y1="1029.2" x2="295.8" y2="1030.2" stroke="#8a8a8a" stroke-width="0.5"/>
<line x1="298.8" y1="1029.2" x2="298.8" y2="1030.2" stroke="#8a8a8a" stroke-width="0.5"/>
<text x="249.4" y="1039.6" font-size="8.2">0 10<tspan dy="-3.4" font-size="6.2">1</tspan><tspan dy="3.4">10</tspan><tspan dy="-3.4" font-size="6.2">2</tspan><tspan dy="3.4">10</tspan><tspan dy="-3.4" font-size="6.2">3</tspan><tspan dy="3.4">10</tspan><tspan dy="-3.4" font-size="6.2">4</tspan></text>
<text x="273.8" y="1051.5" font-size="8.2" text-anchor="middle">CD8</text>
<text x="223.8" y="1000.2" font-size="8.2" text-anchor="middle" transform="rotate(-90 223.8 1000.2)">IL2</text>
<rect x="261.5" y="975.4" width="28.9" height="25.9" fill="none" stroke="#4d4d4d" stroke-width="0.6"/>
<text x="252.3" y="987.1" font-size="6" text-anchor="middle" fill="#333">IL2</text>
<text x="252.3" y="995.1" font-size="6" text-anchor="middle" fill="#333">0</text>
<rect x="242.8" y="1081.2" width="61.5" height="60.5" fill="none" stroke="#b3b3b3" stroke-width="0.6"/>
<line x1="242.8" y1="1081.2" x2="242.8" y2="1141.7" stroke="#5a5a5a" stroke-width="0.8"/>
<line x1="242.8" y1="1141.7" x2="304.3" y2="1141.7" stroke="#5a5a5a" stroke-width="0.8"/>
<line x1="241.0" y1="1082.4" x2="242.8" y2="1082.4" stroke="#5a5a5a" stroke-width="0.7"/>
<text x="240.6" y="1085.3" font-size="8.2" text-anchor="end">10<tspan dy="-3.4" font-size="6.2">4</tspan></text>
<line x1="241.0" y1="1094.9" x2="242.8" y2="1094.9" stroke="#5a5a5a" stroke-width="0.7"/>
<text x="240.6" y="1097.8" font-size="8.2" text-anchor="end">10<tspan dy="-3.4" font-size="6.2">3</tspan></text>
<line x1="241.0" y1="1107.6" x2="242.8" y2="1107.6" stroke="#5a5a5a" stroke-width="0.7"/>
<text x="240.6" y="1110.5" font-size="8.2" text-anchor="end">10<tspan dy="-3.4" font-size="6.2">2</tspan></text>
<line x1="241.0" y1="1120.3" x2="242.8" y2="1120.3" stroke="#5a5a5a" stroke-width="0.7"/>
<text x="240.6" y="1123.2" font-size="8.2" text-anchor="end">10<tspan dy="-3.4" font-size="6.2">1</tspan></text>
<line x1="241.0" y1="1132.5" x2="242.8" y2="1132.5" stroke="#5a5a5a" stroke-width="0.7"/>
<text x="238.8" y="1135.4" font-size="8.2" text-anchor="end">0</text>
<line x1="251.8" y1="1141.7" x2="251.8" y2="1143.5" stroke="#5a5a5a" stroke-width="0.7"/>
<line x1="264.3" y1="1141.7" x2="264.3" y2="1143.5" stroke="#5a5a5a" stroke-width="0.7"/>
<line x1="277.8" y1="1141.7" x2="277.8" y2="1143.5" stroke="#5a5a5a" stroke-width="0.7"/>
<line x1="290.7" y1="1141.7" x2="290.7" y2="1143.5" stroke="#5a5a5a" stroke-width="0.7"/>
<line x1="302.8" y1="1141.7" x2="302.8" y2="1143.5" stroke="#5a5a5a" stroke-width="0.7"/>
<line x1="246.8" y1="1141.7" x2="246.8" y2="1142.7" stroke="#8a8a8a" stroke-width="0.5"/>
<line x1="249.3" y1="1141.7" x2="249.3" y2="1142.7" stroke="#8a8a8a" stroke-width="0.5"/>
<line x1="257.8" y1="1141.7" x2="257.8" y2="1142.7" stroke="#8a8a8a" stroke-width="0.5"/>
<line x1="260.8" y1="1141.7" x2="260.8" y2="1142.7" stroke="#8a8a8a" stroke-width="0.5"/>
<line x1="270.8" y1="1141.7" x2="270.8" y2="1142.7" stroke="#8a8a8a" stroke-width="0.5"/>
<line x1="273.8" y1="1141.7" x2="273.8" y2="1142.7" stroke="#8a8a8a" stroke-width="0.5"/>
<line x1="283.8" y1="1141.7" x2="283.8" y2="1142.7" stroke="#8a8a8a" stroke-width="0.5"/>
<line x1="286.8" y1="1141.7" x2="286.8" y2="1142.7" stroke="#8a8a8a" stroke-width="0.5"/>
<line x1="295.8" y1="1141.7" x2="295.8" y2="1142.7" stroke="#8a8a8a" stroke-width="0.5"/>
<line x1="298.8" y1="1141.7" x2="298.8" y2="1142.7" stroke="#8a8a8a" stroke-width="0.5"/>
<text x="249.4" y="1152.1" font-size="8.2">0 10<tspan dy="-3.4" font-size="6.2">1</tspan><tspan dy="3.4">10</tspan><tspan dy="-3.4" font-size="6.2">2</tspan><tspan dy="3.4">10</tspan><tspan dy="-3.4" font-size="6.2">3</tspan><tspan dy="3.4">10</tspan><tspan dy="-3.4" font-size="6.2">4</tspan></text>
<text x="273.8" y="1164.0" font-size="8.2" text-anchor="middle">CD8</text>
<text x="223.8" y="1112.7" font-size="8.2" text-anchor="middle" transform="rotate(-90 223.8 1112.7)">IL2</text>
<rect x="261.5" y="1087.3" width="29.3" height="26.5" fill="none" stroke="#4d4d4d" stroke-width="0.6"/>
<text x="252.3" y="1098.6" font-size="6" text-anchor="middle" fill="#333">IL2</text>
<text x="252.3" y="1106.7" font-size="6" text-anchor="middle" fill="#333">32.0</text>
<text x="379.0" y="966.2" font-size="8.4" text-anchor="middle">TNF<tspan font-family="Liberation Serif, serif">α</tspan></text>
<rect x="348.5" y="968.7" width="61.5" height="60.5" fill="none" stroke="#b3b3b3" stroke-width="0.6"/>
<line x1="348.5" y1="968.7" x2="348.5" y2="1029.2" stroke="#5a5a5a" stroke-width="0.8"/>
<line x1="348.5" y1="1029.2" x2="410.0" y2="1029.2" stroke="#5a5a5a" stroke-width="0.8"/>
<line x1="346.7" y1="969.9" x2="348.5" y2="969.9" stroke="#5a5a5a" stroke-width="0.7"/>
<text x="346.3" y="972.8" font-size="8.2" text-anchor="end">10<tspan dy="-3.4" font-size="6.2">4</tspan></text>
<line x1="346.7" y1="982.4" x2="348.5" y2="982.4" stroke="#5a5a5a" stroke-width="0.7"/>
<text x="346.3" y="985.3" font-size="8.2" text-anchor="end">10<tspan dy="-3.4" font-size="6.2">3</tspan></text>
<line x1="346.7" y1="995.1" x2="348.5" y2="995.1" stroke="#5a5a5a" stroke-width="0.7"/>
<text x="346.3" y="998.0" font-size="8.2" text-anchor="end">10<tspan dy="-3.4" font-size="6.2">2</tspan></text>
<line x1="346.7" y1="1007.8" x2="348.5" y2="1007.8" stroke="#5a5a5a" stroke-width="0.7"/>
<text x="346.3" y="1010.7" font-size="8.2" text-anchor="end">10<tspan dy="-3.4" font-size="6.2">1</tspan></text>
<line x1="346.7" y1="1020.0" x2="348.5" y2="1020.0" stroke="#5a5a5a" stroke-width="0.7"/>
<text x="344.5" y="1022.9" font-size="8.2" text-anchor="end">0</text>
<line x1="357.5" y1="1029.2" x2="357.5" y2="1031.0" stroke="#5a5a5a" stroke-width="0.7"/>
<line x1="370.0" y1="1029.2" x2="370.0" y2="1031.0" stroke="#5a5a5a" stroke-width="0.7"/>
<line x1="383.5" y1="1029.2" x2="383.5" y2="1031.0" stroke="#5a5a5a" stroke-width="0.7"/>
<line x1="396.4" y1="1029.2" x2="396.4" y2="1031.0" stroke="#5a5a5a" stroke-width="0.7"/>
<line x1="408.5" y1="1029.2" x2="408.5" y2="1031.0" stroke="#5a5a5a" stroke-width="0.7"/>
<line x1="352.5" y1="1029.2" x2="352.5" y2="1030.2" stroke="#8a8a8a" stroke-width="0.5"/>
<line x1="355.0" y1="1029.2" x2="355.0" y2="1030.2" stroke="#8a8a8a" stroke-width="0.5"/>
<line x1="363.5" y1="1029.2" x2="363.5" y2="1030.2" stroke="#8a8a8a" stroke-width="0.5"/>
<line x1="366.5" y1="1029.2" x2="366.5" y2="1030.2" stroke="#8a8a8a" stroke-width="0.5"/>
<line x1="376.5" y1="1029.2" x2="376.5" y2="1030.2" stroke="#8a8a8a" stroke-width="0.5"/>
<line x1="379.5" y1="1029.2" x2="379.5" y2="1030.2" stroke="#8a8a8a" stroke-width="0.5"/>
<line x1="389.5" y1="1029.2" x2="389.5" y2="1030.2" stroke="#8a8a8a" stroke-width="0.5"/>
<line x1="392.5" y1="1029.2" x2="392.5" y2="1030.2" stroke="#8a8a8a" stroke-width="0.5"/>
<line x1="401.5" y1="1029.2" x2="401.5" y2="1030.2" stroke="#8a8a8a" stroke-width="0.5"/>
<line x1="404.5" y1="1029.2" x2="404.5" y2="1030.2" stroke="#8a8a8a" stroke-width="0.5"/>
<text x="355.1" y="1039.6" font-size="8.2">0 10<tspan dy="-3.4" font-size="6.2">1</tspan><tspan dy="3.4">10</tspan><tspan dy="-3.4" font-size="6.2">2</tspan><tspan dy="3.4">10</tspan><tspan dy="-3.4" font-size="6.2">3</tspan><tspan dy="3.4">10</tspan><tspan dy="-3.4" font-size="6.2">4</tspan></text>
<text x="379.5" y="1051.5" font-size="8.2" text-anchor="middle">CD8</text>
<text x="329.5" y="1000.2" font-size="8.2" text-anchor="middle" transform="rotate(-90 329.5 1000.2)">TNF<tspan font-family="Liberation Serif, serif">α</tspan></text>
<rect x="367.3" y="970.0" width="26.4" height="30.8" fill="none" stroke="#4d4d4d" stroke-width="0.6"/>
<text x="358.0" y="983.8" font-size="6" text-anchor="middle" fill="#333">TNF<tspan font-family="Liberation Serif, serif">α</tspan></text>
<text x="358.0" y="991.9" font-size="6" text-anchor="middle" fill="#333">0.032</text>
<rect x="348.5" y="1081.2" width="61.5" height="60.5" fill="none" stroke="#b3b3b3" stroke-width="0.6"/>
<line x1="348.5" y1="1081.2" x2="348.5" y2="1141.7" stroke="#5a5a5a" stroke-width="0.8"/>
<line x1="348.5" y1="1141.7" x2="410.0" y2="1141.7" stroke="#5a5a5a" stroke-width="0.8"/>
<line x1="346.7" y1="1082.4" x2="348.5" y2="1082.4" stroke="#5a5a5a" stroke-width="0.7"/>
<text x="346.3" y="1085.3" font-size="8.2" text-anchor="end">10<tspan dy="-3.4" font-size="6.2">4</tspan></text>
<line x1="346.7" y1="1094.9" x2="348.5" y2="1094.9" stroke="#5a5a5a" stroke-width="0.7"/>
<text x="346.3" y="1097.8" font-size="8.2" text-anchor="end">10<tspan dy="-3.4" font-size="6.2">3</tspan></text>
<line x1="346.7" y1="1107.6" x2="348.5" y2="1107.6" stroke="#5a5a5a" stroke-width="0.7"/>
<text x="346.3" y="1110.5" font-size="8.2" text-anchor="end">10<tspan dy="-3.4" font-size="6.2">2</tspan></text>
<line x1="346.7" y1="1120.3" x2="348.5" y2="1120.3" stroke="#5a5a5a" stroke-width="0.7"/>
<text x="346.3" y="1123.2" font-size="8.2" text-anchor="end">10<tspan dy="-3.4" font-size="6.2">1</tspan></text>
<line x1="346.7" y1="1132.5" x2="348.5" y2="1132.5" stroke="#5a5a5a" stroke-width="0.7"/>
<text x="344.5" y="1135.4" font-size="8.2" text-anchor="end">0</text>
<line x1="357.5" y1="1141.7" x2="357.5" y2="1143.5" stroke="#5a5a5a" stroke-width="0.7"/>
<line x1="370.0" y1="1141.7" x2="370.0" y2="1143.5" stroke="#5a5a5a" stroke-width="0.7"/>
<line x1="383.5" y1="1141.7" x2="383.5" y2="1143.5" stroke="#5a5a5a" stroke-width="0.7"/>
<line x1="396.4" y1="1141.7" x2="396.4" y2="1143.5" stroke="#5a5a5a" stroke-width="0.7"/>
<line x1="408.5" y1="1141.7" x2="408.5" y2="1143.5" stroke="#5a5a5a" stroke-width="0.7"/>
<line x1="352.5" y1="1141.7" x2="352.5" y2="1142.7" stroke="#8a8a8a" stroke-width="0.5"/>
<line x1="355.0" y1="1141.7" x2="355.0" y2="1142.7" stroke="#8a8a8a" stroke-width="0.5"/>
<line x1="363.5" y1="1141.7" x2="363.5" y2="1142.7" stroke="#8a8a8a" stroke-width="0.5"/>
<line x1="366.5" y1="1141.7" x2="366.5" y2="1142.7" stroke="#8a8a8a" stroke-width="0.5"/>
<line x1="376.5" y1="1141.7" x2="376.5" y2="1142.7" stroke="#8a8a8a" stroke-width="0.5"/>
<line x1="379.5" y1="1141.7" x2="379.5" y2="1142.7" stroke="#8a8a8a" stroke-width="0.5"/>
<line x1="389.5" y1="1141.7" x2="389.5" y2="1142.7" stroke="#8a8a8a" stroke-width="0.5"/>
<line x1="392.5" y1="1141.7" x2="392.5" y2="1142.7" stroke="#8a8a8a" stroke-width="0.5"/>
<line x1="401.5" y1="1141.7" x2="401.5" y2="1142.7" stroke="#8a8a8a" stroke-width="0.5"/>
<line x1="404.5" y1="1141.7" x2="404.5" y2="1142.7" stroke="#8a8a8a" stroke-width="0.5"/>
<text x="355.1" y="1152.1" font-size="8.2">0 10<tspan dy="-3.4" font-size="6.2">1</tspan><tspan dy="3.4">10</tspan><tspan dy="-3.4" font-size="6.2">2</tspan><tspan dy="3.4">10</tspan><tspan dy="-3.4" font-size="6.2">3</tspan><tspan dy="3.4">10</tspan><tspan dy="-3.4" font-size="6.2">4</tspan></text>
<text x="379.5" y="1164.0" font-size="8.2" text-anchor="middle">CD8</text>
<text x="329.5" y="1112.7" font-size="8.2" text-anchor="middle" transform="rotate(-90 329.5 1112.7)">TNF<tspan font-family="Liberation Serif, serif">α</tspan></text>
<rect x="366.7" y="1082.5" width="27.0" height="30.8" fill="none" stroke="#4d4d4d" stroke-width="0.6"/>
<text x="359.0" y="1098.1" font-size="6" text-anchor="middle" fill="#333">TNF<tspan font-family="Liberation Serif, serif">α</tspan></text>
<text x="359.0" y="1106.7" font-size="6" text-anchor="middle" fill="#333">48.8</text>
<text x="482.8" y="966.2" font-size="8.4" text-anchor="middle">PD-1</text>
<rect x="452.3" y="968.7" width="61.5" height="60.5" fill="none" stroke="#b3b3b3" stroke-width="0.6"/>
<line x1="452.3" y1="968.7" x2="452.3" y2="1029.2" stroke="#5a5a5a" stroke-width="0.8"/>
<line x1="452.3" y1="1029.2" x2="513.8" y2="1029.2" stroke="#5a5a5a" stroke-width="0.8"/>
<line x1="450.5" y1="969.9" x2="452.3" y2="969.9" stroke="#5a5a5a" stroke-width="0.7"/>
<text x="450.1" y="972.8" font-size="8.2" text-anchor="end">10<tspan dy="-3.4" font-size="6.2">4</tspan></text>
<line x1="450.5" y1="982.4" x2="452.3" y2="982.4" stroke="#5a5a5a" stroke-width="0.7"/>
<text x="450.1" y="985.3" font-size="8.2" text-anchor="end">10<tspan dy="-3.4" font-size="6.2">3</tspan></text>
<line x1="450.5" y1="995.1" x2="452.3" y2="995.1" stroke="#5a5a5a" stroke-width="0.7"/>
<text x="450.1" y="998.0" font-size="8.2" text-anchor="end">10<tspan dy="-3.4" font-size="6.2">2</tspan></text>
<line x1="450.5" y1="1007.8" x2="452.3" y2="1007.8" stroke="#5a5a5a" stroke-width="0.7"/>
<text x="450.1" y="1010.7" font-size="8.2" text-anchor="end">10<tspan dy="-3.4" font-size="6.2">1</tspan></text>
<line x1="450.5" y1="1020.0" x2="452.3" y2="1020.0" stroke="#5a5a5a" stroke-width="0.7"/>
<text x="448.3" y="1022.9" font-size="8.2" text-anchor="end">0</text>
<line x1="461.3" y1="1029.2" x2="461.3" y2="1031.0" stroke="#5a5a5a" stroke-width="0.7"/>
<line x1="473.8" y1="1029.2" x2="473.8" y2="1031.0" stroke="#5a5a5a" stroke-width="0.7"/>
<line x1="487.3" y1="1029.2" x2="487.3" y2="1031.0" stroke="#5a5a5a" stroke-width="0.7"/>
<line x1="500.2" y1="1029.2" x2="500.2" y2="1031.0" stroke="#5a5a5a" stroke-width="0.7"/>
<line x1="512.3" y1="1029.2" x2="512.3" y2="1031.0" stroke="#5a5a5a" stroke-width="0.7"/>
<line x1="456.3" y1="1029.2" x2="456.3" y2="1030.2" stroke="#8a8a8a" stroke-width="0.5"/>
<line x1="458.8" y1="1029.2" x2="458.8" y2="1030.2" stroke="#8a8a8a" stroke-width="0.5"/>
<line x1="467.3" y1="1029.2" x2="467.3" y2="1030.2" stroke="#8a8a8a" stroke-width="0.5"/>
<line x1="470.3" y1="1029.2" x2="470.3" y2="1030.2" stroke="#8a8a8a" stroke-width="0.5"/>
<line x1="480.3" y1="1029.2" x2="480.3" y2="1030.2" stroke="#8a8a8a" stroke-width="0.5"/>
<line x1="483.3" y1="1029.2" x2="483.3" y2="1030.2" stroke="#8a8a8a" stroke-width="0.5"/>
<line x1="493.3" y1="1029.2" x2="493.3" y2="1030.2" stroke="#8a8a8a" stroke-width="0.5"/>
<line x1="496.3" y1="1029.2" x2="496.3" y2="1030.2" stroke="#8a8a8a" stroke-width="0.5"/>
<line x1="505.3" y1="1029.2" x2="505.3" y2="1030.2" stroke="#8a8a8a" stroke-width="0.5"/>
<line x1="508.3" y1="1029.2" x2="508.3" y2="1030.2" stroke="#8a8a8a" stroke-width="0.5"/>
<text x="458.9" y="1039.6" font-size="8.2">0 10<tspan dy="-3.4" font-size="6.2">1</tspan><tspan dy="3.4">10</tspan><tspan dy="-3.4" font-size="6.2">2</tspan><tspan dy="3.4">10</tspan><tspan dy="-3.4" font-size="6.2">3</tspan><tspan dy="3.4">10</tspan><tspan dy="-3.4" font-size="6.2">4</tspan></text>
<text x="483.3" y="1051.5" font-size="8.2" text-anchor="middle">CD8</text>
<text x="433.3" y="1000.2" font-size="8.2" text-anchor="middle" transform="rotate(-90 433.3 1000.2)">PD-1</text>
<rect x="475.2" y="976.9" width="28.9" height="22.2" fill="none" stroke="#4d4d4d" stroke-width="0.6"/>
<text x="464.0" y="984.9" font-size="6" text-anchor="middle" fill="#333">PD-1</text>
<text x="464.0" y="993.8" font-size="6" text-anchor="middle" fill="#333">2.17E-3</text>
<rect x="452.3" y="1081.2" width="61.5" height="60.5" fill="none" stroke="#b3b3b3" stroke-width="0.6"/>
<line x1="452.3" y1="1081.2" x2="452.3" y2="1141.7" stroke="#5a5a5a" stroke-width="0.8"/>
<line x1="452.3" y1="1141.7" x2="513.8" y2="1141.7" stroke="#5a5a5a" stroke-width="0.8"/>
<line x1="450.5" y1="1082.4" x2="452.3" y2="1082.4" stroke="#5a5a5a" stroke-width="0.7"/>
<text x="450.1" y="1085.3" font-size="8.2" text-anchor="end">10<tspan dy="-3.4" font-size="6.2">4</tspan></text>
<line x1="450.5" y1="1094.9" x2="452.3" y2="1094.9" stroke="#5a5a5a" stroke-width="0.7"/>
<text x="450.1" y="1097.8" font-size="8.2" text-anchor="end">10<tspan dy="-3.4" font-size="6.2">3</tspan></text>
<line x1="450.5" y1="1107.6" x2="452.3" y2="1107.6" stroke="#5a5a5a" stroke-width="0.7"/>
<text x="450.1" y="1110.5" font-size="8.2" text-anchor="end">10<tspan dy="-3.4" font-size="6.2">2</tspan></text>
<line x1="450.5" y1="1120.3" x2="452.3" y2="1120.3" stroke="#5a5a5a" stroke-width="0.7"/>
<text x="450.1" y="1123.2" font-size="8.2" text-anchor="end">10<tspan dy="-3.4" font-size="6.2">1</tspan></text>
<line x1="450.5" y1="1132.5" x2="452.3" y2="1132.5" stroke="#5a5a5a" stroke-width="0.7"/>
<text x="448.3" y="1135.4" font-size="8.2" text-anchor="end">0</text>
<line x1="461.3" y1="1141.7" x2="461.3" y2="1143.5" stroke="#5a5a5a" stroke-width="0.7"/>
<line x1="473.8" y1="1141.7" x2="473.8" y2="1143.5" stroke="#5a5a5a" stroke-width="0.7"/>
<line x1="487.3" y1="1141.7" x2="487.3" y2="1143.5" stroke="#5a5a5a" stroke-width="0.7"/>
<line x1="500.2" y1="1141.7" x2="500.2" y2="1143.5" stroke="#5a5a5a" stroke-width="0.7"/>
<line x1="512.3" y1="1141.7" x2="512.3" y2="1143.5" stroke="#5a5a5a" stroke-width="0.7"/>
<line x1="456.3" y1="1141.7" x2="456.3" y2="1142.7" stroke="#8a8a8a" stroke-width="0.5"/>
<line x1="458.8" y1="1141.7" x2="458.8" y2="1142.7" stroke="#8a8a8a" stroke-width="0.5"/>
<line x1="467.3" y1="1141.7" x2="467.3" y2="1142.7" stroke="#8a8a8a" stroke-width="0.5"/>
<line x1="470.3" y1="1141.7" x2="470.3" y2="1142.7" stroke="#8a8a8a" stroke-width="0.5"/>
<line x1="480.3" y1="1141.7" x2="480.3" y2="1142.7" stroke="#8a8a8a" stroke-width="0.5"/>
<line x1="483.3" y1="1141.7" x2="483.3" y2="1142.7" stroke="#8a8a8a" stroke-width="0.5"/>
<line x1="493.3" y1="1141.7" x2="493.3" y2="1142.7" stroke="#8a8a8a" stroke-width="0.5"/>
<line x1="496.3" y1="1141.7" x2="496.3" y2="1142.7" stroke="#8a8a8a" stroke-width="0.5"/>
<line x1="505.3" y1="1141.7" x2="505.3" y2="1142.7" stroke="#8a8a8a" stroke-width="0.5"/>
<line x1="508.3" y1="1141.7" x2="508.3" y2="1142.7" stroke="#8a8a8a" stroke-width="0.5"/>
<text x="458.9" y="1152.1" font-size="8.2">0 10<tspan dy="-3.4" font-size="6.2">1</tspan><tspan dy="3.4">10</tspan><tspan dy="-3.4" font-size="6.2">2</tspan><tspan dy="3.4">10</tspan><tspan dy="-3.4" font-size="6.2">3</tspan><tspan dy="3.4">10</tspan><tspan dy="-3.4" font-size="6.2">4</tspan></text>
<text x="483.3" y="1164.0" font-size="8.2" text-anchor="middle">CD8</text>
<text x="433.3" y="1112.7" font-size="8.2" text-anchor="middle" transform="rotate(-90 433.3 1112.7)">PD-1</text>
<rect x="475.2" y="1089.5" width="28.9" height="21.8" fill="none" stroke="#4d4d4d" stroke-width="0.6"/>
<text x="464.0" y="1097.5" font-size="6" text-anchor="middle" fill="#333">PD-1</text>
<text x="464.0" y="1105.3" font-size="6" text-anchor="middle" fill="#333">3.68E-3</text>
<text x="7.8" y="1000.3" font-size="8.4" text-anchor="middle" font-weight="bold" fill="#000" transform="rotate(-90 7.8 1000.3)">Unstim</text>
<text x="7.8" y="1111.7" font-size="8.4" text-anchor="middle" font-weight="bold" fill="#000" transform="rotate(-90 7.8 1111.7)">Stim</text>
<defs><filter id="bl" x="-30%" y="-30%" width="160%" height="160%"><feGaussianBlur stdDeviation="0.45"/></filter><filter id="bl2" x="-50%" y="-50%" width="200%" height="200%"><feGaussianBlur stdDeviation="1.0"/></filter></defs>
<g filter="url(#bl2)" opacity="0.2">
<ellipse cx="75.3" cy="1007.2" rx="5.5" ry="4.8" fill="#8d92e6"/>
</g>
<g filter="url(#bl)">
<path d="M77.6 1006.1h.1M70.1 1012.5h.1M70.3 1014.2h.1M73.5 1005.4h.1M69.7 1015.5h.1M72.4 1007.0h.1M70.3 1007.5h.1M75.6 1005.0h.1M70.2 1011.4h.1M80.9 1016.5h.1M79.6 1013.8h.1M70.2 1014.1h.1M69.9 1013.7h.1M69.4 1008.8h.1M71.3 1017.9h.1M70.5 1016.0h.1M70.8 1011.6h.1M75.0 1007.3h.1M76.6 1006.6h.1M80.6 1019.2h.1M69.4 1019.3h.1M71.1 1012.2h.1M69.9 1010.3h.1" stroke="#3a4cc0" stroke-width="0.8" stroke-linecap="round" opacity="0.8"/>
<path d="M74.5 1005.6h.1M80.8 1012.4h.1M74.3 1004.5h.1M79.8 1011.6h.1M80.5 1012.7h.1M70.1 1008.7h.1M79.6 1008.4h.1M71.3 1005.0h.1M81.5 1009.3h.1M81.2 1016.5h.1M80.1 1007.5h.1M80.8 1015.4h.1M79.2 1008.1h.1M69.3 1018.3h.1M69.8 1009.4h.1M70.9 1009.3h.1M79.5 1019.2h.1M80.9 1011.4h.1M80.2 1014.3h.1M80.5 1007.6h.1M71.3 1015.2h.1M79.4 1010.3h.1M69.4 1015.7h.1M69.5 1011.4h.1" stroke="#8a8fe4" stroke-width="0.8" stroke-linecap="round" opacity="0.7"/>
<path d="M70.8 1020.2L70.8 1011.0Q70.8 1006.5 75.3 1006.5Q79.8 1006.5 79.8 1011.0L79.8 1020.2Z" fill="#2d4db2"/>
<defs><radialGradient id="g1"><stop offset="0" stop-color="#43ba97" stop-opacity="1"/><stop offset="0.15" stop-color="#40b9a4" stop-opacity="1"/><stop offset="0.3" stop-color="#3ab6bc" stop-opacity="1"/><stop offset="0.45" stop-color="#34afd3" stop-opacity="1"/><stop offset="0.6" stop-color="#309dd1" stop-opacity="1"/><stop offset="0.75" stop-color="#2b88cf" stop-opacity="1"/><stop offset="0.9" stop-color="#2b70c3" stop-opacity="0.6"/><stop offset="1.0" stop-color="#2a5fba" stop-opacity="0"/></radialGradient></defs>
<ellipse cx="75.4" cy="1015.8" rx="3.6" ry="5.6" fill="url(#g1)"/>
</g>
<g filter="url(#bl2)" opacity="0.2">
<ellipse cx="175.0" cy="1004.8" rx="5.6" ry="4.8" fill="#8d92e6"/>
</g>
<g filter="url(#bl)">
<path d="M170.9 1019.4h.1M180.9 1006.3h.1M169.8 1015.6h.1M169.5 1007.7h.1M179.7 1016.2h.1M181.0 1013.2h.1M170.2 1017.7h.1M169.4 1016.4h.1M170.9 1011.7h.1M173.5 1001.8h.1M179.4 1016.0h.1M176.0 1003.1h.1M169.0 1016.2h.1M179.0 1005.4h.1M181.0 1007.9h.1M177.7 1004.3h.1M181.3 1006.7h.1M176.8 1004.0h.1M180.4 1011.9h.1M172.0 1002.1h.1M174.8 1003.9h.1M180.7 1012.8h.1M173.8 1002.3h.1M180.7 1006.1h.1M169.1 1008.7h.1M170.6 1009.3h.1M170.4 1016.0h.1M180.3 1015.4h.1" stroke="#3a4cc0" stroke-width="0.8" stroke-linecap="round" opacity="0.8"/>
<path d="M172.5 1004.2h.1M172.6 1001.9h.1M180.0 1013.0h.1M173.5 1004.4h.1M181.4 1014.4h.1M181.4 1011.2h.1M175.7 1002.5h.1M170.6 1011.8h.1M180.6 1010.2h.1M178.3 1002.1h.1M169.4 1017.5h.1M179.6 1007.6h.1M169.7 1018.5h.1M172.1 1002.4h.1M170.9 1004.9h.1M179.9 1007.3h.1M170.8 1002.6h.1M180.5 1012.4h.1M181.0 1014.2h.1M179.5 1008.8h.1M171.0 1006.8h.1M179.3 1011.4h.1M169.9 1006.4h.1M168.9 1016.7h.1M172.3 1003.2h.1M173.1 1002.9h.1" stroke="#8a8fe4" stroke-width="0.8" stroke-linecap="round" opacity="0.7"/>
<path d="M170.4 1019.6L170.4 1008.6Q170.4 1004.0 175.0 1004.0Q179.6 1004.0 179.6 1008.6L179.6 1019.6Z" fill="#2d4db2"/>
<defs><radialGradient id="g2"><stop offset="0" stop-color="#aed944" stop-opacity="1"/><stop offset="0.15" stop-color="#97d44d" stop-opacity="1"/><stop offset="0.3" stop-color="#6bc863" stop-opacity="1"/><stop offset="0.45" stop-color="#47bc88" stop-opacity="1"/><stop offset="0.6" stop-color="#3ab5bf" stop-opacity="1"/><stop offset="0.75" stop-color="#309dd1" stop-opacity="1"/><stop offset="0.9" stop-color="#2b79c8" stop-opacity="0.6"/><stop offset="1.0" stop-color="#2a5fba" stop-opacity="0"/></radialGradient></defs>
<ellipse cx="175.0" cy="1014.5" rx="3.8" ry="7.5" fill="url(#g2)"/>
</g>
<g filter="url(#bl2)" opacity="0.2">
<ellipse cx="279.7" cy="1009.2" rx="5.5" ry="4.8" fill="#8d92e6"/>
</g>
<g filter="url(#bl)">
<path d="M284.6 1017.0h.1M285.5 1010.2h.1M275.2 1014.0h.1M284.9 1015.1h.1M279.6 1007.1h.1M274.7 1009.8h.1M284.0 1012.1h.1M274.5 1013.8h.1M275.1 1011.0h.1M285.9 1019.7h.1M284.8 1019.5h.1M278.5 1006.6h.1M284.6 1019.8h.1M275.3 1011.9h.1M277.4 1006.3h.1M273.7 1014.0h.1M273.7 1019.6h.1M279.8 1007.3h.1" stroke="#3a4cc0" stroke-width="0.8" stroke-linecap="round" opacity="0.8"/>
<path d="M275.7 1014.3h.1M275.5 1014.3h.1M278.8 1008.4h.1M275.7 1014.8h.1M283.1 1007.7h.1M282.1 1007.9h.1M274.2 1019.8h.1M274.9 1013.7h.1M284.8 1017.5h.1M285.2 1010.3h.1M275.0 1010.8h.1M284.2 1014.1h.1M276.8 1007.5h.1M274.7 1019.8h.1M275.7 1006.4h.1M278.1 1007.5h.1M274.5 1014.9h.1M285.2 1019.4h.1M276.5 1006.7h.1M278.8 1008.0h.1M274.6 1016.1h.1M274.5 1015.1h.1" stroke="#8a8fe4" stroke-width="0.8" stroke-linecap="round" opacity="0.7"/>
<path d="M275.2 1020.0L275.2 1013.0Q275.2 1008.5 279.7 1008.5Q284.2 1008.5 284.2 1013.0L284.2 1020.0Z" fill="#2d4db2"/>
<defs><radialGradient id="g3"><stop offset="0" stop-color="#47bc88" stop-opacity="1"/><stop offset="0.15" stop-color="#43bb96" stop-opacity="1"/><stop offset="0.3" stop-color="#3db7b0" stop-opacity="1"/><stop offset="0.45" stop-color="#36b3d0" stop-opacity="1"/><stop offset="0.6" stop-color="#31a1d1" stop-opacity="1"/><stop offset="0.75" stop-color="#2c8bcf" stop-opacity="1"/><stop offset="0.9" stop-color="#2b71c4" stop-opacity="0.6"/><stop offset="1.0" stop-color="#2a5fba" stop-opacity="0"/></radialGradient></defs>
<ellipse cx="279.7" cy="1016.3" rx="3.6" ry="5.0" fill="url(#g3)"/>
</g>
<g filter="url(#bl2)" opacity="0.2">
<ellipse cx="385.0" cy="1004.2" rx="5.0" ry="4.8" fill="#8d92e6"/>
</g>
<g filter="url(#bl)">
<path d="M390.5 1006.8h.1M388.4 1002.5h.1M386.5 1002.3h.1M380.3 1012.4h.1M388.4 1008.1h.1M389.8 1017.2h.1M389.2 1011.0h.1M379.6 1012.1h.1M388.6 1004.3h.1M380.2 1014.0h.1M380.7 1019.5h.1M381.2 1012.4h.1M388.7 1002.9h.1M379.5 1012.3h.1M390.4 1019.4h.1M389.3 1015.7h.1M389.9 1006.5h.1M388.8 1014.4h.1M380.8 1014.5h.1M382.4 1004.1h.1M383.8 1004.3h.1M382.1 1002.1h.1M380.8 1009.3h.1M389.9 1008.2h.1M380.7 1018.2h.1M381.5 1010.8h.1M389.1 1018.2h.1M379.8 1012.2h.1M379.8 1009.5h.1M390.4 1017.5h.1M379.6 1005.5h.1M389.5 1019.4h.1M388.8 1015.4h.1M389.8 1012.3h.1" stroke="#3a4cc0" stroke-width="0.8" stroke-linecap="round" opacity="0.8"/>
<path d="M385.8 1002.3h.1M379.7 1019.1h.1M381.4 1012.5h.1M382.6 1003.8h.1M388.5 1003.9h.1M380.2 1016.7h.1M389.0 1004.8h.1M389.3 1009.3h.1M389.9 1009.6h.1M381.0 1003.5h.1M379.7 1016.1h.1M389.0 1013.5h.1M387.0 1003.1h.1M380.6 1007.3h.1M385.9 1002.5h.1M390.7 1017.1h.1M380.6 1009.0h.1M382.4 1004.2h.1M390.7 1012.9h.1M389.3 1007.2h.1M380.2 1009.6h.1M388.6 1007.6h.1" stroke="#8a8fe4" stroke-width="0.8" stroke-linecap="round" opacity="0.7"/>
<path d="M381.0 1019.6L381.0 1007.5Q381.0 1003.5 385.0 1003.5Q389.0 1003.5 389.0 1007.5L389.0 1019.6Z" fill="#2d4db2"/>
<defs><radialGradient id="g4"><stop offset="0" stop-color="#bdda42" stop-opacity="1"/><stop offset="0.15" stop-color="#a8d845" stop-opacity="1"/><stop offset="0.3" stop-color="#7acc5b" stop-opacity="1"/><stop offset="0.45" stop-color="#49be7d" stop-opacity="1"/><stop offset="0.6" stop-color="#3cb6b7" stop-opacity="1"/><stop offset="0.75" stop-color="#31a0d1" stop-opacity="1"/><stop offset="0.9" stop-color="#2b7ac9" stop-opacity="0.6"/><stop offset="1.0" stop-color="#2a5fba" stop-opacity="0"/></radialGradient></defs>
<ellipse cx="385.0" cy="1013.8" rx="3.4" ry="7.2" fill="url(#g4)"/>
</g>
<g filter="url(#bl2)" opacity="0.2">
<ellipse cx="489.4" cy="1004.2" rx="5.4" ry="4.8" fill="#8d92e6"/>
</g>
<g filter="url(#bl)">
<path d="M483.7 1012.5h.1M485.1 1010.4h.1M484.9 1015.2h.1M494.8 1009.6h.1M494.3 1007.2h.1M495.5 1011.0h.1M484.2 1011.0h.1M486.1 1002.5h.1M495.3 1010.2h.1M484.5 1009.1h.1M484.8 1013.3h.1M484.7 1008.6h.1M492.8 1003.3h.1M493.6 1004.1h.1M495.3 1011.3h.1M495.1 1010.4h.1M494.1 1016.8h.1M495.2 1011.3h.1M493.5 1002.5h.1M483.5 1004.9h.1M484.6 1008.3h.1M484.3 1010.2h.1M489.5 1003.6h.1M484.3 1012.2h.1M489.6 1004.4h.1M486.4 1002.3h.1M491.3 1001.8h.1M493.4 1016.1h.1M494.3 1018.4h.1M485.2 1007.2h.1M485.1 1011.3h.1" stroke="#3a4cc0" stroke-width="0.8" stroke-linecap="round" opacity="0.8"/>
<path d="M484.6 1010.7h.1M483.7 1012.6h.1M494.5 1011.1h.1M493.3 1015.3h.1M484.4 1008.9h.1M491.6 1002.9h.1M493.3 1001.3h.1M483.9 1017.9h.1M484.0 1016.1h.1M494.6 1009.9h.1M483.9 1017.6h.1M485.2 1017.5h.1M485.3 1011.3h.1M485.4 1014.4h.1M483.4 1008.4h.1M495.4 1014.0h.1M495.0 1016.3h.1M495.6 1014.4h.1M485.5 1003.0h.1M494.3 1013.8h.1M493.4 1008.0h.1M483.7 1007.2h.1M487.7 1004.1h.1" stroke="#8a8fe4" stroke-width="0.8" stroke-linecap="round" opacity="0.7"/>
<path d="M485.0 1019.2L485.0 1007.9Q485.0 1003.5 489.4 1003.5Q493.8 1003.5 493.8 1007.9L493.8 1019.2Z" fill="#2d4db2"/>
<defs><radialGradient id="g5"><stop offset="0" stop-color="#43ba97" stop-opacity="1"/><stop offset="0.15" stop-color="#40b9a4" stop-opacity="1"/><stop offset="0.3" stop-color="#3ab6bc" stop-opacity="1"/><stop offset="0.45" stop-color="#34afd3" stop-opacity="1"/><stop offset="0.6" stop-color="#309dd1" stop-opacity="1"/><stop offset="0.75" stop-color="#2b88cf" stop-opacity="1"/><stop offset="0.9" stop-color="#2b70c3" stop-opacity="0.6"/><stop offset="1.0" stop-color="#2a5fba" stop-opacity="0"/></radialGradient></defs>
<ellipse cx="489.4" cy="1015.2" rx="3.7" ry="6.0" fill="url(#g5)"/>
</g>
<g filter="url(#bl2)" opacity="0.2">
<ellipse cx="73.5" cy="1096.0" rx="7.0" ry="5.5" fill="#8d92e6"/>
</g>
<g filter="url(#bl)">
<path d="M78.0 1114.4h.1M75.3 1093.3h.1M78.4 1132.5h.1M76.3 1091.7h.1M74.2 1092.9h.1M67.8 1125.7h.1M78.6 1093.8h.1M75.2 1094.2h.1M78.8 1116.3h.1M78.3 1129.4h.1M67.3 1112.6h.1M75.7 1092.4h.1M68.3 1123.4h.1M70.6 1094.1h.1M68.2 1095.7h.1M67.6 1129.2h.1M79.5 1109.0h.1M78.5 1127.4h.1M68.9 1093.6h.1M77.3 1094.2h.1M75.7 1093.0h.1M67.8 1102.3h.1M77.1 1094.2h.1M68.8 1127.7h.1M72.5 1091.7h.1M78.8 1126.0h.1M66.9 1131.1h.1M66.4 1101.0h.1M79.8 1106.9h.1M67.3 1110.4h.1M68.8 1130.8h.1M78.4 1119.2h.1M68.7 1119.6h.1M66.7 1117.4h.1M79.8 1116.3h.1M78.8 1091.5h.1M75.3 1092.4h.1M79.2 1122.2h.1M67.5 1104.3h.1M68.0 1116.3h.1M67.1 1110.6h.1M67.9 1128.5h.1M68.3 1105.2h.1M72.4 1093.7h.1M66.4 1096.8h.1M78.2 1132.4h.1M66.9 1124.6h.1M66.8 1124.5h.1M67.8 1091.9h.1M74.0 1093.0h.1M79.8 1115.2h.1M74.5 1092.8h.1M79.5 1109.8h.1M77.5 1126.6h.1M66.7 1100.4h.1M78.7 1103.1h.1M79.2 1099.1h.1M67.2 1116.9h.1M79.8 1102.7h.1M79.5 1121.2h.1M77.9 1128.1h.1M74.8 1091.7h.1M66.7 1094.8h.1" stroke="#3a4cc0" stroke-width="0.8" stroke-linecap="round" opacity="0.8"/>
<path d="M77.6 1130.3h.1M75.4 1094.7h.1M67.4 1128.5h.1M73.4 1094.4h.1M78.1 1126.0h.1M67.0 1122.2h.1M67.3 1102.1h.1M68.0 1114.4h.1M72.4 1092.5h.1M79.9 1106.3h.1M67.4 1109.9h.1M67.7 1113.8h.1M67.8 1120.0h.1M78.8 1099.0h.1M78.0 1129.9h.1M78.8 1099.9h.1M70.8 1093.9h.1M66.6 1123.2h.1M77.7 1094.5h.1M68.4 1124.0h.1M79.8 1104.9h.1M79.8 1099.4h.1M68.6 1117.5h.1M77.8 1094.4h.1M68.1 1108.1h.1M67.9 1118.3h.1M67.3 1126.8h.1M68.3 1109.3h.1M66.4 1100.1h.1M66.9 1105.0h.1M68.2 1116.9h.1M67.3 1127.9h.1M79.7 1107.1h.1M68.3 1119.4h.1M68.0 1116.6h.1M77.7 1131.8h.1M67.4 1118.0h.1M79.6 1112.8h.1M78.7 1121.8h.1M78.4 1106.4h.1M73.4 1093.7h.1M67.6 1095.3h.1M76.5 1094.3h.1M78.5 1093.0h.1M79.6 1130.1h.1M78.1 1092.9h.1M78.8 1093.7h.1M66.9 1109.9h.1M78.1 1131.1h.1M68.3 1120.6h.1M76.3 1094.0h.1M79.1 1127.6h.1M67.1 1099.2h.1M68.0 1100.9h.1M68.1 1120.5h.1M79.4 1126.2h.1M71.8 1091.5h.1M74.2 1094.3h.1M76.3 1094.6h.1M68.1 1097.4h.1M80.5 1103.3h.1M67.4 1104.8h.1M66.8 1119.7h.1M77.9 1128.6h.1M69.1 1094.2h.1M79.5 1125.8h.1M68.5 1109.9h.1M78.6 1122.6h.1M67.6 1102.7h.1M78.3 1114.8h.1M67.6 1120.2h.1M80.5 1105.6h.1M66.8 1096.7h.1" stroke="#8a8fe4" stroke-width="0.8" stroke-linecap="round" opacity="0.7"/>
<path d="M68.3 1132.6L67.8 1099.2Q67.8 1093.7 73.5 1093.7Q79.3 1093.7 79.3 1099.2L77.8 1132.6Z" fill="#2d4db2"/>
<defs><radialGradient id="g6"><stop offset="0" stop-color="#79cc5c" stop-opacity="1"/><stop offset="0.15" stop-color="#64c666" stop-opacity="1"/><stop offset="0.3" stop-color="#49be7e" stop-opacity="1"/><stop offset="0.45" stop-color="#3fb8a7" stop-opacity="1"/><stop offset="0.6" stop-color="#35b1d3" stop-opacity="1"/><stop offset="0.75" stop-color="#2e95d0" stop-opacity="1"/><stop offset="0.9" stop-color="#2b76c6" stop-opacity="0.6"/><stop offset="1.0" stop-color="#2a5fba" stop-opacity="0"/></radialGradient></defs>
<ellipse cx="73.0" cy="1123.0" rx="4.6" ry="9.0" fill="url(#g6)"/>
<defs><radialGradient id="g7" fx="0.5" fy="0.45"><stop offset="0" stop-color="#dc301c" stop-opacity="1"/><stop offset="0.15" stop-color="#e3511e" stop-opacity="1"/><stop offset="0.3" stop-color="#f08d22" stop-opacity="1"/><stop offset="0.45" stop-color="#f2d93a" stop-opacity="1"/><stop offset="0.6" stop-color="#92d34f" stop-opacity="1"/><stop offset="0.75" stop-color="#40b9a6" stop-opacity="1"/><stop offset="0.9" stop-color="#2c8cd0" stop-opacity="0.6"/><stop offset="1.0" stop-color="#2a5fba" stop-opacity="0"/></radialGradient></defs>
<ellipse cx="73.1" cy="1102.5" rx="5.3" ry="10.0" fill="url(#g7)"/>
</g>
<g filter="url(#bl2)" opacity="0.2">
<ellipse cx="172.5" cy="1092.0" rx="6.5" ry="5.5" fill="#8d92e6"/>
</g>
<g filter="url(#bl)">
<path d="M167.5 1099.1h.1M177.7 1128.4h.1M172.6 1088.5h.1M167.1 1104.4h.1M177.7 1097.9h.1M168.7 1089.3h.1M166.8 1107.8h.1M165.9 1100.8h.1M166.8 1108.6h.1M177.6 1093.7h.1M166.6 1102.2h.1M176.7 1114.8h.1M165.8 1102.5h.1M168.2 1130.8h.1M178.5 1103.7h.1M167.1 1119.5h.1M176.4 1090.1h.1M175.3 1089.7h.1M167.4 1120.8h.1M171.3 1088.4h.1M177.5 1088.5h.1M166.0 1093.7h.1M175.0 1090.6h.1M174.7 1089.0h.1M177.8 1110.5h.1M166.6 1112.0h.1M167.3 1112.3h.1M177.0 1100.8h.1M174.4 1088.1h.1M173.0 1090.3h.1M166.9 1103.4h.1M173.7 1088.3h.1M178.9 1112.2h.1M177.7 1108.1h.1M178.2 1101.0h.1M173.5 1091.0h.1M177.1 1112.4h.1M166.5 1099.5h.1M178.3 1129.9h.1M166.1 1112.5h.1M169.9 1091.1h.1M173.2 1089.5h.1M175.4 1091.1h.1M178.4 1128.1h.1M178.2 1121.6h.1M177.4 1111.2h.1M176.5 1089.6h.1M167.8 1121.6h.1M178.7 1106.1h.1M171.0 1089.0h.1M173.9 1088.5h.1M166.3 1103.1h.1M179.3 1099.0h.1M177.0 1113.2h.1M167.0 1100.4h.1M177.2 1117.9h.1M166.1 1113.3h.1M175.7 1090.2h.1M177.6 1105.4h.1M167.5 1118.3h.1M171.3 1089.0h.1M170.0 1089.7h.1M166.7 1094.2h.1M175.7 1088.8h.1M169.4 1088.9h.1M165.8 1093.3h.1M173.6 1091.1h.1M167.6 1089.9h.1M176.5 1130.2h.1M166.0 1119.3h.1M176.8 1114.3h.1M167.9 1089.3h.1M166.6 1101.1h.1M167.7 1121.2h.1M167.5 1099.1h.1" stroke="#3a4cc0" stroke-width="0.8" stroke-linecap="round" opacity="0.8"/>
<path d="M178.0 1117.6h.1M166.0 1091.8h.1M169.5 1089.7h.1M177.0 1090.4h.1M177.4 1116.1h.1M177.0 1100.6h.1M179.2 1102.7h.1M166.3 1095.2h.1M173.4 1089.8h.1M167.4 1115.6h.1M177.0 1130.8h.1M178.2 1125.1h.1M167.7 1109.4h.1M166.0 1101.7h.1M177.5 1094.5h.1M166.9 1127.3h.1M172.1 1090.4h.1M171.2 1091.1h.1M166.0 1117.1h.1M177.1 1091.0h.1M165.9 1113.7h.1M165.9 1108.0h.1M166.6 1123.6h.1M165.9 1115.3h.1M178.3 1101.9h.1M166.3 1131.2h.1M172.7 1088.3h.1M177.1 1106.1h.1M171.9 1089.1h.1M171.5 1090.3h.1M176.7 1090.5h.1M179.1 1107.9h.1M165.9 1104.8h.1M166.0 1096.6h.1M168.6 1090.4h.1M173.6 1088.8h.1M166.8 1104.3h.1M165.7 1096.0h.1M169.8 1091.2h.1M168.9 1089.7h.1M167.4 1090.3h.1M166.1 1105.9h.1M176.8 1119.3h.1M177.2 1101.7h.1M166.6 1103.6h.1M166.8 1120.7h.1M178.3 1116.3h.1M172.4 1089.3h.1M167.7 1090.8h.1M166.1 1101.7h.1M172.3 1090.0h.1M169.6 1088.6h.1M165.8 1101.6h.1M178.5 1097.3h.1M178.7 1098.1h.1M167.6 1090.1h.1M166.7 1124.9h.1M177.4 1090.0h.1M177.3 1112.9h.1M176.5 1128.5h.1M178.0 1117.7h.1M170.3 1088.8h.1M177.9 1130.3h.1M168.1 1130.9h.1M166.5 1096.0h.1M166.3 1122.0h.1M171.6 1090.6h.1M166.7 1093.7h.1M177.8 1090.3h.1M166.3 1131.0h.1M177.9 1111.5h.1M166.2 1116.9h.1M166.5 1093.5h.1" stroke="#8a8fe4" stroke-width="0.8" stroke-linecap="round" opacity="0.7"/>
<path d="M167.6 1132.5L167.2 1094.2Q167.2 1090.2 172.5 1090.2Q177.8 1090.2 177.8 1094.2L176.6 1132.5Z" fill="#2d4db2"/>
<defs><radialGradient id="g8"><stop offset="0" stop-color="#35b3d3" stop-opacity="1"/><stop offset="0.15" stop-color="#34aed3" stop-opacity="1"/><stop offset="0.3" stop-color="#32a5d2" stop-opacity="1"/><stop offset="0.45" stop-color="#2f9ad1" stop-opacity="1"/><stop offset="0.6" stop-color="#2c8dd0" stop-opacity="1"/><stop offset="0.75" stop-color="#2b7dca" stop-opacity="1"/><stop offset="0.9" stop-color="#2b6cc1" stop-opacity="0.6"/><stop offset="1.0" stop-color="#2a5fba" stop-opacity="0"/></radialGradient></defs>
<ellipse cx="172.2" cy="1119.0" rx="3.6" ry="12.5" fill="url(#g8)"/>
<defs><radialGradient id="g9"><stop offset="0" stop-color="#aed944" stop-opacity="1"/><stop offset="0.15" stop-color="#97d44d" stop-opacity="1"/><stop offset="0.3" stop-color="#6bc863" stop-opacity="1"/><stop offset="0.45" stop-color="#47bc88" stop-opacity="1"/><stop offset="0.6" stop-color="#3ab5bf" stop-opacity="1"/><stop offset="0.75" stop-color="#309dd1" stop-opacity="1"/><stop offset="0.9" stop-color="#2b79c8" stop-opacity="0.6"/><stop offset="1.0" stop-color="#2a5fba" stop-opacity="0"/></radialGradient></defs>
<ellipse cx="172.3" cy="1105.5" rx="4.2" ry="3.6" fill="url(#g9)"/>
<ellipse cx="172.2" cy="1099.0" rx="3.0" ry="5.0" fill="#f1efb8"/>
</g>
<g filter="url(#bl2)" opacity="0.2">
<ellipse cx="277.9" cy="1093.0" rx="6.9" ry="5.5" fill="#8d92e6"/>
</g>
<g filter="url(#bl)">
<path d="M272.0 1101.9h.1M270.8 1103.8h.1M279.5 1089.0h.1M270.6 1129.1h.1M271.5 1119.7h.1M271.6 1098.5h.1M270.8 1132.0h.1M284.0 1131.1h.1M271.5 1122.3h.1M284.8 1120.6h.1M271.3 1111.1h.1M272.2 1118.2h.1M285.4 1099.6h.1M278.9 1090.4h.1M271.0 1114.0h.1M271.3 1109.4h.1M284.3 1123.9h.1M283.8 1100.2h.1M272.3 1110.4h.1M275.7 1088.5h.1M276.9 1089.8h.1M271.4 1131.8h.1M282.0 1089.7h.1M284.6 1130.4h.1M284.9 1123.7h.1M284.9 1094.3h.1M283.3 1093.0h.1M284.6 1131.9h.1M283.6 1106.5h.1M283.5 1113.5h.1M285.4 1091.4h.1M276.7 1089.2h.1M281.6 1089.8h.1M272.2 1118.3h.1M271.4 1110.0h.1M277.3 1090.7h.1M276.5 1089.1h.1M284.7 1111.0h.1M285.0 1102.6h.1M273.1 1088.1h.1M271.9 1104.5h.1M271.1 1098.7h.1M272.1 1106.9h.1M277.3 1089.2h.1M281.6 1090.6h.1M281.6 1091.1h.1M271.7 1092.0h.1M285.4 1095.5h.1M283.6 1115.2h.1M272.1 1117.5h.1M285.3 1092.4h.1M272.4 1090.8h.1M283.4 1108.5h.1M280.9 1090.4h.1M284.7 1108.6h.1M272.5 1132.2h.1M271.7 1091.3h.1M272.1 1122.4h.1M278.6 1089.4h.1M283.9 1098.8h.1M272.7 1099.5h.1M270.6 1099.6h.1M271.5 1091.6h.1M284.1 1116.0h.1M272.4 1104.8h.1M282.9 1089.6h.1M283.5 1114.0h.1M285.2 1129.0h.1M279.5 1089.9h.1M284.0 1121.4h.1M284.7 1120.7h.1M279.4 1090.5h.1M272.7 1117.7h.1M271.7 1115.7h.1M285.5 1132.4h.1M272.2 1099.1h.1M283.7 1131.9h.1M270.6 1098.6h.1M273.9 1088.7h.1M285.6 1112.1h.1M271.1 1131.9h.1M272.8 1095.4h.1M278.8 1089.6h.1M285.0 1096.8h.1M275.2 1090.7h.1M284.0 1129.9h.1M284.5 1129.3h.1M281.6 1088.0h.1M284.6 1093.1h.1M277.7 1089.5h.1M282.5 1088.7h.1M283.7 1129.5h.1" stroke="#3a4cc0" stroke-width="0.8" stroke-linecap="round" opacity="0.8"/>
<path d="M272.3 1116.6h.1M285.6 1121.0h.1M270.7 1129.2h.1M283.9 1103.1h.1M274.7 1090.3h.1M281.9 1088.2h.1M272.1 1092.4h.1M284.8 1104.3h.1M273.9 1088.6h.1M276.5 1089.4h.1M272.9 1090.7h.1M285.1 1098.8h.1M271.1 1129.3h.1M285.4 1127.7h.1M280.1 1089.0h.1M283.2 1116.7h.1M279.2 1088.4h.1M284.8 1128.2h.1M285.4 1118.5h.1M284.4 1109.9h.1M284.6 1102.5h.1M283.9 1097.4h.1M283.6 1123.2h.1M270.6 1116.9h.1M281.1 1088.5h.1M275.0 1090.9h.1M271.6 1117.3h.1M270.8 1108.0h.1M284.9 1097.0h.1M285.4 1097.5h.1M272.5 1124.0h.1M271.9 1130.0h.1M284.9 1102.7h.1M283.8 1101.3h.1M271.3 1131.5h.1M282.0 1091.1h.1M285.1 1100.2h.1M280.4 1088.5h.1M273.5 1088.6h.1M283.6 1091.6h.1M283.2 1098.6h.1M278.5 1090.5h.1M284.7 1107.0h.1M272.7 1130.9h.1M285.3 1106.6h.1M272.4 1119.0h.1M283.3 1098.3h.1M283.3 1116.0h.1M272.4 1111.5h.1M271.1 1107.6h.1M272.7 1115.7h.1M283.3 1091.9h.1M276.0 1091.0h.1M272.3 1119.7h.1M283.8 1121.7h.1M277.9 1091.1h.1" stroke="#8a8fe4" stroke-width="0.8" stroke-linecap="round" opacity="0.7"/>
<path d="M272.2 1132.5L272.2 1095.2Q272.2 1090.2 278.0 1090.2Q283.8 1090.2 283.8 1095.2L283.8 1132.5Z" fill="#2d4db2"/>
<defs><radialGradient id="g10"><stop offset="0" stop-color="#39b5c4" stop-opacity="1"/><stop offset="0.15" stop-color="#36b4ce" stop-opacity="1"/><stop offset="0.3" stop-color="#33acd2" stop-opacity="1"/><stop offset="0.45" stop-color="#319fd1" stop-opacity="1"/><stop offset="0.6" stop-color="#2d91d0" stop-opacity="1"/><stop offset="0.75" stop-color="#2b80cc" stop-opacity="1"/><stop offset="0.9" stop-color="#2b6dc2" stop-opacity="0.6"/><stop offset="1.0" stop-color="#2a5fba" stop-opacity="0"/></radialGradient></defs>
<ellipse cx="277.6" cy="1102.0" rx="3.6" ry="8.0" fill="url(#g10)"/>
<defs><radialGradient id="g11"><stop offset="0" stop-color="#4cbf72" stop-opacity="1"/><stop offset="0.15" stop-color="#48bd81" stop-opacity="1"/><stop offset="0.3" stop-color="#42ba9d" stop-opacity="1"/><stop offset="0.45" stop-color="#39b5c1" stop-opacity="1"/><stop offset="0.6" stop-color="#32a7d2" stop-opacity="1"/><stop offset="0.75" stop-color="#2d8fd0" stop-opacity="1"/><stop offset="0.9" stop-color="#2b73c5" stop-opacity="0.6"/><stop offset="1.0" stop-color="#2a5fba" stop-opacity="0"/></radialGradient></defs>
<ellipse cx="277.6" cy="1113.0" rx="3.4" ry="8.0" fill="url(#g11)"/>
<defs><radialGradient id="g12"><stop offset="0" stop-color="#df3e1d" stop-opacity="1"/><stop offset="0.15" stop-color="#e65e1f" stop-opacity="1"/><stop offset="0.3" stop-color="#f09926" stop-opacity="1"/><stop offset="0.45" stop-color="#eedf3c" stop-opacity="1"/><stop offset="0.6" stop-color="#89d054" stop-opacity="1"/><stop offset="0.75" stop-color="#3eb8ab" stop-opacity="1"/><stop offset="0.9" stop-color="#2c8bcf" stop-opacity="0.6"/><stop offset="1.0" stop-color="#2a5fba" stop-opacity="0"/></radialGradient></defs>
<ellipse cx="277.6" cy="1123.5" rx="4.8" ry="9.0" fill="url(#g12)"/>
</g>
<g filter="url(#bl2)" opacity="0.2">
<ellipse cx="382.8" cy="1096.0" rx="6.8" ry="5.5" fill="#8d92e6"/>
</g>
<g filter="url(#bl)">
<path d="M387.1 1108.3h.1M387.9 1108.4h.1M388.7 1100.6h.1M377.6 1119.4h.1M384.4 1092.9h.1M386.4 1122.8h.1M382.6 1094.9h.1M386.2 1130.8h.1M380.8 1094.5h.1M377.9 1107.7h.1M376.4 1127.6h.1M386.9 1131.4h.1M388.0 1116.4h.1M388.0 1101.1h.1M388.7 1109.2h.1M388.7 1100.6h.1M388.4 1114.9h.1M386.2 1114.3h.1M388.9 1104.1h.1M388.7 1101.7h.1M388.2 1094.3h.1M377.8 1094.8h.1M377.2 1093.9h.1M376.2 1104.3h.1M377.7 1100.8h.1M377.7 1125.1h.1M387.1 1126.3h.1M388.2 1101.7h.1M381.3 1094.2h.1M381.0 1093.6h.1M386.2 1126.3h.1M383.7 1092.4h.1M388.4 1095.0h.1M387.1 1108.5h.1M383.5 1092.8h.1M387.6 1117.6h.1M376.8 1121.6h.1M379.7 1093.7h.1M387.6 1109.1h.1M377.5 1108.7h.1M385.8 1094.2h.1M381.6 1093.7h.1M377.5 1103.1h.1M376.8 1096.0h.1M387.2 1112.5h.1M381.6 1094.0h.1M376.1 1113.0h.1M385.3 1130.4h.1M386.8 1126.3h.1M377.3 1119.9h.1M380.4 1092.5h.1M387.1 1122.0h.1M387.0 1131.9h.1M378.2 1094.5h.1M377.7 1093.4h.1M377.6 1092.2h.1M377.5 1127.6h.1M388.7 1097.9h.1M387.1 1127.6h.1M386.9 1130.1h.1M387.6 1116.8h.1M387.2 1126.4h.1M382.2 1093.2h.1M377.7 1108.1h.1M376.0 1111.4h.1M388.9 1100.9h.1M376.8 1106.9h.1M376.4 1103.9h.1M375.9 1108.0h.1M382.9 1093.0h.1M388.0 1114.7h.1M385.5 1131.3h.1M387.4 1102.5h.1M378.4 1094.8h.1M377.8 1101.7h.1M385.3 1130.0h.1M386.1 1116.6h.1" stroke="#3a4cc0" stroke-width="0.8" stroke-linecap="round" opacity="0.8"/>
<path d="M388.0 1121.3h.1M378.0 1127.1h.1M387.7 1125.1h.1M376.8 1123.1h.1M387.0 1112.5h.1M383.2 1093.3h.1M387.1 1119.3h.1M387.6 1125.3h.1M376.7 1127.7h.1M377.1 1100.5h.1M377.2 1095.1h.1M377.1 1122.4h.1M377.1 1122.8h.1M377.9 1122.7h.1M387.3 1106.3h.1M377.2 1109.0h.1M384.8 1093.5h.1M377.5 1116.1h.1M387.7 1094.2h.1M377.2 1119.8h.1M376.1 1098.2h.1M385.8 1094.9h.1M385.7 1094.7h.1M386.3 1116.9h.1M376.9 1098.2h.1M387.9 1105.4h.1M387.3 1128.8h.1M387.0 1116.9h.1M377.0 1109.4h.1M377.8 1095.0h.1M377.7 1130.5h.1M377.3 1094.2h.1M387.1 1092.3h.1M376.7 1095.0h.1M387.6 1110.4h.1M388.6 1105.2h.1M376.0 1099.6h.1M377.8 1119.8h.1M379.9 1092.2h.1M377.5 1097.3h.1M385.1 1130.4h.1M388.3 1111.3h.1M384.6 1094.8h.1M387.3 1121.7h.1M388.1 1099.0h.1M380.3 1092.4h.1M387.4 1102.3h.1M380.6 1094.2h.1M387.3 1128.3h.1M386.8 1117.0h.1M377.5 1092.1h.1M387.4 1119.8h.1M386.6 1114.6h.1M377.8 1092.3h.1M377.0 1110.2h.1M388.2 1100.9h.1M381.7 1094.6h.1" stroke="#8a8fe4" stroke-width="0.8" stroke-linecap="round" opacity="0.7"/>
<path d="M377.8 1132.5L377.2 1099.0Q377.2 1094.0 382.8 1094.0Q388.3 1094.0 388.3 1099.0L385.5 1132.5Z" fill="#2d4db2"/>
<defs><radialGradient id="g13"><stop offset="0" stop-color="#df3e1d" stop-opacity="1"/><stop offset="0.15" stop-color="#e65e1f" stop-opacity="1"/><stop offset="0.3" stop-color="#f09926" stop-opacity="1"/><stop offset="0.45" stop-color="#eedf3c" stop-opacity="1"/><stop offset="0.6" stop-color="#89d054" stop-opacity="1"/><stop offset="0.75" stop-color="#3eb8ab" stop-opacity="1"/><stop offset="0.9" stop-color="#2c8bcf" stop-opacity="0.6"/><stop offset="1.0" stop-color="#2a5fba" stop-opacity="0"/></radialGradient></defs>
<ellipse cx="382.5" cy="1112.8" rx="4.6" ry="14.5" fill="url(#g13)"/>
</g>
<g filter="url(#bl2)" opacity="0.2">
<ellipse cx="487.1" cy="1117.0" rx="7.2" ry="5.5" fill="#8d92e6"/>
</g>
<g filter="url(#bl)">
<path d="M481.5 1128.9h.1M492.3 1117.7h.1M479.7 1131.9h.1M494.8 1124.2h.1M487.1 1118.6h.1M481.0 1126.0h.1M493.0 1129.6h.1M480.7 1130.8h.1M493.7 1125.4h.1M480.0 1121.9h.1M480.9 1130.9h.1M493.8 1126.6h.1M493.1 1120.0h.1M490.6 1116.3h.1M493.8 1131.7h.1M488.4 1115.9h.1M480.0 1129.5h.1M493.4 1119.3h.1M493.6 1131.8h.1M481.3 1123.1h.1M493.4 1128.4h.1M489.4 1116.0h.1M479.8 1122.4h.1M479.9 1124.0h.1M481.3 1119.0h.1" stroke="#3a4cc0" stroke-width="0.8" stroke-linecap="round" opacity="0.8"/>
<path d="M480.8 1130.2h.1M494.7 1120.7h.1M485.1 1117.2h.1M491.8 1116.7h.1M493.0 1123.3h.1M486.1 1117.6h.1M493.9 1127.0h.1M480.7 1126.3h.1M485.0 1118.7h.1M481.4 1130.6h.1M494.1 1122.0h.1M481.7 1121.3h.1M484.6 1117.2h.1M480.4 1126.1h.1M493.5 1130.8h.1M488.0 1118.6h.1M493.0 1130.6h.1M481.2 1126.3h.1M493.7 1128.2h.1M481.5 1128.8h.1M485.9 1118.5h.1M493.6 1121.7h.1M493.0 1125.6h.1M494.3 1119.2h.1M484.8 1118.6h.1M480.2 1124.4h.1M484.1 1118.0h.1" stroke="#8a8fe4" stroke-width="0.8" stroke-linecap="round" opacity="0.7"/>
<path d="M481.2 1132.9L481.2 1123.0Q481.2 1118.0 487.2 1118.0Q493.2 1118.0 493.2 1123.0L493.2 1132.9Z" fill="#2d4db2"/>
<defs><radialGradient id="g14"><stop offset="0" stop-color="#aed944" stop-opacity="1"/><stop offset="0.15" stop-color="#97d44d" stop-opacity="1"/><stop offset="0.3" stop-color="#6bc863" stop-opacity="1"/><stop offset="0.45" stop-color="#47bc88" stop-opacity="1"/><stop offset="0.6" stop-color="#3ab5bf" stop-opacity="1"/><stop offset="0.75" stop-color="#309dd1" stop-opacity="1"/><stop offset="0.9" stop-color="#2b79c8" stop-opacity="0.6"/><stop offset="1.0" stop-color="#2a5fba" stop-opacity="0"/></radialGradient></defs>
<ellipse cx="487.2" cy="1130.0" rx="4.5" ry="7.0" fill="url(#g14)"/>
</g>
<text x="7.6" y="1204.6" font-size="8.4" text-anchor="middle" font-weight="bold" fill="#000" transform="rotate(-90 7.6 1204.6)">Histogram</text>
<path d="M37.7 1222.0C38.4 1221.8 40.0 1222.0 42.0 1221.0C44.0 1220.0 47.7 1217.8 50.0 1216.2C52.3 1214.6 54.5 1212.2 56.0 1211.2C57.5 1210.2 58.0 1209.7 59.2 1210.2C60.5 1210.7 62.2 1213.7 63.5 1214.2C64.8 1214.7 65.8 1214.7 67.0 1213.2C68.2 1211.7 69.8 1208.5 71.0 1205.0C72.2 1201.5 73.2 1195.9 74.0 1192.0C74.8 1188.1 75.5 1183.5 76.0 1181.5C76.5 1179.5 76.8 1180.2 77.2 1180.2C77.6 1180.2 78.0 1179.0 78.5 1181.5C79.0 1184.0 79.5 1189.4 80.0 1195.0C80.5 1200.6 81.0 1210.0 81.5 1215.0C82.0 1220.0 82.5 1223.0 83.0 1225.0C83.5 1227.0 84.3 1226.5 84.6 1226.8" fill="none" stroke="#ef6a62" stroke-width="1.2"/>
<path d="M37.7 1222.0C38.4 1221.8 40.0 1221.6 42.0 1221.0C44.0 1220.4 47.7 1219.8 50.0 1218.5C52.3 1217.2 54.5 1214.5 56.0 1213.5C57.5 1212.5 58.0 1212.0 59.2 1212.5C60.5 1213.0 62.2 1216.0 63.5 1216.5C64.8 1217.0 65.8 1217.4 67.0 1215.5C68.2 1213.6 69.8 1208.9 71.0 1205.0C72.2 1201.1 73.2 1195.8 74.0 1192.0C74.8 1188.2 75.5 1184.0 76.0 1182.1C76.5 1180.2 76.8 1180.7 77.2 1180.7C77.6 1180.7 78.0 1179.7 78.5 1182.1C79.0 1184.5 79.5 1189.5 80.0 1195.0C80.5 1200.5 81.0 1210.0 81.5 1215.0C82.0 1220.0 82.5 1223.0 83.0 1225.0C83.5 1227.0 84.3 1226.5 84.6 1226.8" fill="none" stroke="#ef6a62" stroke-width="1.2"/>
<path d="M37.7 1222.0C38.4 1221.8 40.0 1221.1 42.0 1221.0C44.0 1220.9 47.7 1222.2 50.0 1221.5C52.3 1220.8 54.5 1217.5 56.0 1216.5C57.5 1215.5 58.0 1215.0 59.2 1215.5C60.5 1216.0 62.2 1219.0 63.5 1219.5C64.8 1220.0 65.8 1220.9 67.0 1218.5C68.2 1216.1 69.8 1209.4 71.0 1205.0C72.2 1200.6 73.2 1195.7 74.0 1192.0C74.8 1188.3 75.5 1184.5 76.0 1182.7C76.5 1180.9 76.8 1181.2 77.2 1181.2C77.6 1181.2 78.0 1180.4 78.5 1182.7C79.0 1185.0 79.5 1189.6 80.0 1195.0C80.5 1200.4 81.0 1210.0 81.5 1215.0C82.0 1220.0 82.5 1223.0 83.0 1225.0C83.5 1227.0 84.3 1226.5 84.6 1226.8" fill="none" stroke="#ef6a62" stroke-width="1.2"/>
<path d="M37.7 1222.0C38.4 1221.8 40.0 1220.7 42.0 1221.0C44.0 1221.3 47.7 1224.3 50.0 1224.0C52.3 1223.7 54.5 1220.0 56.0 1219.0C57.5 1218.0 58.0 1217.5 59.2 1218.0C60.5 1218.5 62.2 1221.5 63.5 1222.0C64.8 1222.5 65.8 1223.8 67.0 1221.0C68.2 1218.2 69.8 1209.8 71.0 1205.0C72.2 1200.2 73.2 1195.6 74.0 1192.0C74.8 1188.4 75.5 1185.0 76.0 1183.3C76.5 1181.6 76.8 1181.7 77.2 1181.7C77.6 1181.7 78.0 1181.1 78.5 1183.3C79.0 1185.5 79.5 1189.7 80.0 1195.0C80.5 1200.3 81.0 1210.0 81.5 1215.0C82.0 1220.0 82.5 1223.0 83.0 1225.0C83.5 1227.0 84.3 1226.5 84.6 1226.8" fill="none" stroke="#ef6a62" stroke-width="1.2"/>
<path d="M37.7 1179.5C37.7 1185.8 37.5 1210.1 37.7 1217.0C37.9 1223.9 37.8 1219.9 39.0 1221.0C40.2 1222.1 41.5 1222.8 45.0 1223.5C48.5 1224.2 53.4 1225.0 60.0 1225.5C66.6 1226.0 80.5 1226.4 84.6 1226.6" fill="none" stroke="#22b3b3" stroke-width="1.0"/>
<path d="M37.7 1179.5C37.7 1185.8 37.5 1210.0 37.7 1217.0C37.9 1224.0 37.8 1220.6 39.0 1221.8C40.2 1223.0 41.5 1223.4 45.0 1224.0C48.5 1224.6 53.4 1225.1 60.0 1225.5C66.6 1225.9 80.5 1226.4 84.6 1226.6" fill="none" stroke="#22b3b3" stroke-width="1.0"/>
<path d="M37.7 1179.5C37.7 1185.8 37.5 1209.8 37.7 1217.0C37.9 1224.2 37.8 1221.3 39.0 1222.6C40.2 1223.8 41.5 1224.0 45.0 1224.5C48.5 1225.0 53.4 1225.2 60.0 1225.5C66.6 1225.8 80.5 1226.4 84.6 1226.6" fill="none" stroke="#22b3b3" stroke-width="1.0"/>
<path d="M148.0 1225.5C149.2 1225.1 153.0 1224.8 155.0 1223.0C157.0 1221.2 158.2 1217.3 160.0 1215.0C161.8 1212.7 164.3 1209.5 166.0 1209.0C167.7 1208.5 168.7 1213.5 170.0 1212.0C171.3 1210.5 172.8 1204.0 174.0 1200.0C175.2 1196.0 176.0 1191.6 177.0 1188.0C178.0 1184.4 179.0 1179.7 179.8 1178.5C180.6 1177.3 181.3 1178.2 182.0 1181.0C182.7 1183.8 182.7 1187.8 183.8 1195.0C184.9 1202.2 187.7 1218.8 188.7 1224.0C189.7 1229.2 189.8 1226.1 190.0 1226.5" fill="none" stroke="#ef6a62" stroke-width="0.95"/>
<path d="M148.0 1225.5C149.2 1225.1 153.0 1224.1 155.0 1223.0C157.0 1221.9 158.2 1220.7 160.0 1219.0C161.8 1217.3 164.3 1213.5 166.0 1213.0C167.7 1212.5 168.7 1218.2 170.0 1216.0C171.3 1213.8 172.8 1204.7 174.0 1200.0C175.2 1195.3 175.8 1191.6 177.0 1188.0C178.2 1184.4 180.0 1179.7 181.0 1178.5C182.0 1177.3 182.5 1178.2 183.2 1181.0C183.9 1183.8 184.1 1187.8 185.0 1195.0C185.9 1202.2 187.9 1218.8 188.7 1224.0C189.5 1229.2 189.8 1226.1 190.0 1226.5" fill="none" stroke="#ef6a62" stroke-width="0.95"/>
<path d="M148.0 1225.5C149.2 1225.1 153.0 1223.6 155.0 1223.0C157.0 1222.4 158.2 1223.2 160.0 1222.0C161.8 1220.8 164.3 1216.5 166.0 1216.0C167.7 1215.5 168.7 1221.7 170.0 1219.0C171.3 1216.3 172.8 1205.2 174.0 1200.0C175.2 1194.8 175.5 1191.6 177.0 1188.0C178.5 1184.4 181.6 1179.7 183.0 1178.5C184.4 1177.3 184.5 1178.2 185.2 1181.0C185.9 1183.8 186.4 1187.8 187.0 1195.0C187.6 1202.2 188.2 1218.8 188.7 1224.0C189.2 1229.2 189.8 1226.1 190.0 1226.5" fill="none" stroke="#ef6a62" stroke-width="0.95"/>
<path d="M148.0 1225.5C149.2 1225.1 153.0 1223.1 155.0 1223.0C157.0 1222.9 158.2 1225.7 160.0 1225.0C161.8 1224.3 164.3 1219.5 166.0 1219.0C167.7 1218.5 168.7 1225.2 170.0 1222.0C171.3 1218.8 172.8 1205.7 174.0 1200.0C175.2 1194.3 175.3 1191.6 177.0 1188.0C178.7 1184.4 182.5 1179.7 184.0 1178.5C185.5 1177.3 185.5 1178.2 186.2 1181.0C186.9 1183.8 187.6 1187.8 188.0 1195.0C188.4 1202.2 188.4 1218.8 188.7 1224.0C189.0 1229.2 189.8 1226.1 190.0 1226.5" fill="none" stroke="#ef6a62" stroke-width="0.95"/>
<path d="M148.0 1225.5C149.2 1225.1 153.0 1222.8 155.0 1223.0C157.0 1223.2 158.2 1227.3 160.0 1227.0C161.8 1226.7 164.3 1221.5 166.0 1221.0C167.7 1220.5 168.7 1227.5 170.0 1224.0C171.3 1220.5 172.8 1206.0 174.0 1200.0C175.2 1194.0 175.6 1191.6 177.0 1188.0C178.4 1184.4 181.2 1179.7 182.5 1178.5C183.8 1177.3 184.0 1178.2 184.7 1181.0C185.4 1183.8 185.8 1187.8 186.5 1195.0C187.2 1202.2 188.1 1218.8 188.7 1224.0C189.3 1229.2 189.8 1226.1 190.0 1226.5" fill="none" stroke="#ef6a62" stroke-width="0.95"/>
<path d="M141.7 1178.0C141.7 1184.1 141.5 1208.2 141.7 1214.4C141.9 1220.6 142.1 1216.3 143.0 1215.0C143.9 1213.7 145.5 1208.9 147.0 1206.3C148.5 1203.7 150.4 1201.3 152.0 1199.3C153.6 1197.3 155.3 1194.6 156.5 1194.3C157.7 1194.0 158.1 1194.3 159.0 1197.3C159.9 1200.2 160.8 1207.8 162.0 1212.0C163.2 1216.2 164.7 1220.2 166.0 1222.5C167.3 1224.8 166.0 1225.3 170.0 1226.0C174.0 1226.7 186.7 1226.5 190.0 1226.6" fill="none" stroke="#22b3b3" stroke-width="0.9"/>
<path d="M141.7 1178.0C141.7 1184.1 141.5 1208.3 141.7 1214.4C141.9 1220.5 142.1 1215.6 143.0 1214.7C143.9 1213.8 145.5 1211.1 147.0 1209.0C148.5 1206.9 150.4 1204.0 152.0 1202.0C153.6 1200.0 155.3 1197.3 156.5 1197.0C157.7 1196.7 158.1 1197.5 159.0 1200.0C159.9 1202.5 160.8 1208.2 162.0 1212.0C163.2 1215.8 164.7 1220.2 166.0 1222.5C167.3 1224.8 166.0 1225.3 170.0 1226.0C174.0 1226.7 186.7 1226.5 190.0 1226.6" fill="none" stroke="#22b3b3" stroke-width="0.9"/>
<path d="M141.7 1178.0C141.7 1184.1 141.5 1208.3 141.7 1214.4C141.9 1220.5 142.1 1214.8 143.0 1214.4C143.9 1214.0 145.5 1213.6 147.0 1212.0C148.5 1210.4 150.4 1207.0 152.0 1205.0C153.6 1203.0 155.3 1200.3 156.5 1200.0C157.7 1199.7 158.1 1201.0 159.0 1203.0C159.9 1205.0 160.8 1208.8 162.0 1212.0C163.2 1215.2 164.7 1220.2 166.0 1222.5C167.3 1224.8 166.0 1225.3 170.0 1226.0C174.0 1226.7 186.7 1226.5 190.0 1226.6" fill="none" stroke="#22b3b3" stroke-width="0.9"/>
<path d="M141.7 1178.0C141.7 1184.1 141.5 1208.4 141.7 1214.4C141.9 1220.4 142.1 1214.0 143.0 1214.1C143.9 1214.2 145.5 1216.0 147.0 1215.0C148.5 1214.0 150.4 1210.0 152.0 1208.0C153.6 1206.0 155.3 1203.3 156.5 1203.0C157.7 1202.7 158.1 1204.5 159.0 1206.0C159.9 1207.5 160.8 1209.2 162.0 1212.0C163.2 1214.8 164.7 1220.2 166.0 1222.5C167.3 1224.8 166.0 1225.3 170.0 1226.0C174.0 1226.7 186.7 1226.5 190.0 1226.6" fill="none" stroke="#22b3b3" stroke-width="0.9"/>
<path d="M141.7 1178.0C141.7 1184.1 141.5 1208.4 141.7 1214.4C141.9 1220.4 142.1 1213.2 143.0 1213.8C143.9 1214.4 145.5 1218.5 147.0 1218.0C148.5 1217.5 150.4 1213.0 152.0 1211.0C153.6 1209.0 155.3 1206.3 156.5 1206.0C157.7 1205.7 158.1 1208.0 159.0 1209.0C159.9 1210.0 160.8 1209.8 162.0 1212.0C163.2 1214.2 164.7 1220.2 166.0 1222.5C167.3 1224.8 166.0 1225.3 170.0 1226.0C174.0 1226.7 186.7 1226.5 190.0 1226.6" fill="none" stroke="#22b3b3" stroke-width="0.9"/>
<path d="M241.2 1212.3C241.7 1212.6 242.9 1214.7 244.0 1214.0C245.1 1213.3 246.5 1211.2 248.0 1208.0C249.5 1204.8 251.5 1198.7 253.0 1194.6C254.5 1190.5 256.0 1185.9 257.0 1183.6C258.0 1181.3 258.3 1180.4 259.1 1180.6C259.9 1180.8 260.9 1182.1 262.0 1184.6C263.1 1187.1 264.7 1193.3 266.0 1195.5C267.3 1197.7 268.5 1197.9 269.7 1197.5C270.9 1197.1 271.8 1194.4 273.0 1193.0C274.2 1191.6 275.9 1189.0 277.1 1189.0C278.3 1189.0 279.0 1189.8 280.0 1193.0C281.0 1196.2 282.0 1203.2 283.0 1208.0C284.0 1212.8 285.1 1218.9 286.0 1222.0C286.9 1225.1 288.1 1225.8 288.5 1226.5" fill="none" stroke="#ef6a62" stroke-width="0.95"/>
<path d="M241.2 1212.3C241.7 1212.6 242.9 1214.9 244.0 1214.0C245.1 1213.1 246.5 1209.5 248.0 1207.0C249.5 1204.5 251.5 1202.2 253.0 1199.0C254.5 1195.8 256.0 1190.3 257.0 1188.0C258.0 1185.7 258.3 1184.8 259.1 1185.0C259.9 1185.2 260.9 1186.0 262.0 1189.0C263.1 1192.0 264.7 1200.3 266.0 1203.0C267.3 1205.7 268.5 1205.5 269.7 1205.0C270.9 1204.5 271.8 1201.5 273.0 1200.0C274.2 1198.5 275.9 1196.0 277.1 1196.0C278.3 1196.0 279.0 1198.0 280.0 1200.0C281.0 1202.0 282.0 1204.3 283.0 1208.0C284.0 1211.7 285.1 1218.9 286.0 1222.0C286.9 1225.1 288.1 1225.8 288.5 1226.5" fill="none" stroke="#ef6a62" stroke-width="0.95"/>
<path d="M241.2 1212.3C241.7 1212.6 242.9 1215.0 244.0 1214.0C245.1 1213.0 246.5 1207.8 248.0 1206.0C249.5 1204.2 251.5 1205.3 253.0 1203.0C254.5 1200.7 256.0 1194.3 257.0 1192.0C258.0 1189.7 258.3 1188.8 259.1 1189.0C259.9 1189.2 260.9 1190.2 262.0 1193.0C263.1 1195.8 264.7 1203.5 266.0 1206.0C267.3 1208.5 268.5 1208.3 269.7 1208.0C270.9 1207.7 271.8 1205.3 273.0 1204.0C274.2 1202.7 275.9 1200.0 277.1 1200.0C278.3 1200.0 279.0 1202.7 280.0 1204.0C281.0 1205.3 282.0 1205.0 283.0 1208.0C284.0 1211.0 285.1 1218.9 286.0 1222.0C286.9 1225.1 288.1 1225.8 288.5 1226.5" fill="none" stroke="#ef6a62" stroke-width="0.95"/>
<path d="M241.2 1212.3C241.7 1212.6 242.9 1215.2 244.0 1214.0C245.1 1212.8 246.5 1206.3 248.0 1205.0C249.5 1203.7 251.5 1207.7 253.0 1206.0C254.5 1204.3 256.0 1197.3 257.0 1195.0C258.0 1192.7 258.3 1191.8 259.1 1192.0C259.9 1192.2 260.9 1193.3 262.0 1196.0C263.1 1198.7 264.7 1205.7 266.0 1208.0C267.3 1210.3 268.5 1210.2 269.7 1210.0C270.9 1209.8 271.8 1208.2 273.0 1207.0C274.2 1205.8 275.9 1203.0 277.1 1203.0C278.3 1203.0 279.0 1206.2 280.0 1207.0C281.0 1207.8 282.0 1205.5 283.0 1208.0C284.0 1210.5 285.1 1218.9 286.0 1222.0C286.9 1225.1 288.1 1225.8 288.5 1226.5" fill="none" stroke="#ef6a62" stroke-width="0.95"/>
<path d="M241.2 1212.3C241.7 1212.6 242.9 1214.7 244.0 1214.0C245.1 1213.3 246.5 1211.3 248.0 1208.0C249.5 1204.7 251.5 1197.7 253.0 1194.0C254.5 1190.3 256.0 1187.7 257.0 1186.0C258.0 1184.3 258.3 1183.7 259.1 1184.0C259.9 1184.3 260.9 1184.5 262.0 1188.0C263.1 1191.5 264.7 1199.7 266.0 1205.0C267.3 1210.3 268.5 1216.7 270.0 1220.0C271.5 1223.3 272.0 1223.9 275.0 1225.0C278.0 1226.1 285.8 1226.3 288.0 1226.6" fill="none" stroke="#ef6a62" stroke-width="0.95"/>
<path d="M241.2 1179.5C241.2 1186.1 240.9 1212.0 241.2 1219.0C241.5 1226.0 242.2 1221.2 243.0 1221.5C243.8 1221.8 245.0 1220.3 246.0 1220.5C247.0 1220.7 247.5 1221.9 249.0 1222.5C250.5 1223.1 251.5 1223.5 255.0 1224.0C258.5 1224.5 264.3 1225.2 270.0 1225.6C275.7 1226.0 285.8 1226.4 289.0 1226.6" fill="none" stroke="#22b3b3" stroke-width="0.9"/>
<path d="M241.2 1179.5C241.2 1186.1 240.9 1212.1 241.2 1219.0C241.5 1225.9 242.2 1220.8 243.0 1221.1C243.8 1221.4 245.0 1220.8 246.0 1221.0C247.0 1221.2 247.5 1222.0 249.0 1222.5C250.5 1223.0 251.5 1223.5 255.0 1224.0C258.5 1224.5 264.3 1225.2 270.0 1225.6C275.7 1226.0 285.8 1226.4 289.0 1226.6" fill="none" stroke="#22b3b3" stroke-width="0.9"/>
<path d="M241.2 1179.5C241.2 1186.1 240.9 1212.1 241.2 1219.0C241.5 1225.9 242.2 1220.3 243.0 1220.7C243.8 1221.1 245.0 1221.2 246.0 1221.5C247.0 1221.8 247.5 1222.1 249.0 1222.5C250.5 1222.9 251.5 1223.5 255.0 1224.0C258.5 1224.5 264.3 1225.2 270.0 1225.6C275.7 1226.0 285.8 1226.4 289.0 1226.6" fill="none" stroke="#22b3b3" stroke-width="0.9"/>
<path d="M241.2 1179.5C241.2 1186.1 240.9 1212.2 241.2 1219.0C241.5 1225.8 242.2 1219.8 243.0 1220.3C243.8 1220.8 245.0 1221.6 246.0 1222.0C247.0 1222.4 247.5 1222.2 249.0 1222.5C250.5 1222.8 251.5 1223.5 255.0 1224.0C258.5 1224.5 264.3 1225.2 270.0 1225.6C275.7 1226.0 285.8 1226.4 289.0 1226.6" fill="none" stroke="#22b3b3" stroke-width="0.9"/>
<path d="M348.6 1179.5C348.6 1184.6 348.0 1204.6 348.6 1210.0C349.2 1215.4 350.8 1212.9 352.0 1212.0C353.2 1211.1 354.7 1206.7 356.0 1204.4C357.3 1202.1 358.8 1199.7 360.0 1198.4C361.2 1197.1 362.4 1196.2 363.4 1196.4C364.4 1196.6 365.1 1197.0 366.0 1199.4C366.9 1201.8 368.0 1207.2 369.0 1211.0C370.0 1214.8 371.0 1219.5 372.0 1222.0C373.0 1224.5 371.2 1225.2 375.0 1226.0C378.8 1226.8 391.7 1226.5 395.0 1226.6" fill="none" stroke="#22b3b3" stroke-width="0.9"/>
<path d="M348.6 1179.5C348.6 1184.6 348.0 1204.6 348.6 1210.0C349.2 1215.4 350.8 1212.0 352.0 1211.7C353.2 1211.4 354.7 1209.6 356.0 1208.0C357.3 1206.4 358.8 1203.3 360.0 1202.0C361.2 1200.7 362.4 1199.8 363.4 1200.0C364.4 1200.2 365.1 1201.2 366.0 1203.0C366.9 1204.8 368.0 1207.8 369.0 1211.0C370.0 1214.2 371.0 1219.5 372.0 1222.0C373.0 1224.5 371.2 1225.2 375.0 1226.0C378.8 1226.8 391.7 1226.5 395.0 1226.6" fill="none" stroke="#22b3b3" stroke-width="0.9"/>
<path d="M348.6 1179.5C348.6 1184.6 348.0 1204.7 348.6 1210.0C349.2 1215.3 350.8 1210.7 352.0 1211.4C353.2 1212.1 354.7 1214.6 356.0 1214.0C357.3 1213.4 358.8 1209.3 360.0 1208.0C361.2 1206.7 362.4 1205.8 363.4 1206.0C364.4 1206.2 365.1 1208.2 366.0 1209.0C366.9 1209.8 368.0 1208.8 369.0 1211.0C370.0 1213.2 371.0 1219.5 372.0 1222.0C373.0 1224.5 371.2 1225.2 375.0 1226.0C378.8 1226.8 391.7 1226.5 395.0 1226.6" fill="none" stroke="#22b3b3" stroke-width="0.9"/>
<path d="M348.6 1179.5C348.6 1184.6 348.0 1204.7 348.6 1210.0C349.2 1215.3 350.8 1209.8 352.0 1211.1C353.2 1212.4 354.7 1217.8 356.0 1218.0C357.3 1218.2 358.8 1213.3 360.0 1212.0C361.2 1210.7 362.4 1209.8 363.4 1210.0C364.4 1210.2 365.1 1212.8 366.0 1213.0C366.9 1213.2 368.0 1209.5 369.0 1211.0C370.0 1212.5 371.0 1219.5 372.0 1222.0C373.0 1224.5 371.2 1225.2 375.0 1226.0C378.8 1226.8 391.7 1226.5 395.0 1226.6" fill="none" stroke="#22b3b3" stroke-width="0.9"/>
<path d="M348.0 1222.5C349.2 1221.9 352.7 1220.6 355.0 1219.0C357.3 1217.4 359.9 1215.0 362.0 1213.0C364.1 1211.0 366.1 1209.7 367.6 1207.0C369.1 1204.3 369.9 1200.7 371.0 1197.0C372.1 1193.3 373.2 1187.7 374.0 1185.0C374.8 1182.3 375.2 1180.9 376.0 1180.6C376.8 1180.3 377.9 1183.0 379.0 1183.0C380.1 1183.0 381.4 1180.1 382.4 1180.6C383.4 1181.1 384.1 1182.8 385.0 1186.0C385.9 1189.2 387.0 1195.2 388.0 1200.0C389.0 1204.8 389.8 1210.6 391.0 1215.0C392.2 1219.4 394.3 1224.4 395.0 1226.3" fill="none" stroke="#ef6a62" stroke-width="0.95"/>
<path d="M348.0 1222.5C349.2 1221.9 352.7 1220.6 355.0 1219.0C357.3 1217.4 359.9 1215.0 362.0 1213.0C364.1 1211.0 366.1 1209.7 367.6 1207.0C369.1 1204.3 369.9 1200.7 371.0 1197.0C372.1 1193.3 373.2 1187.7 374.0 1185.0C374.8 1182.3 375.2 1181.3 376.0 1181.0C376.8 1180.7 377.9 1183.0 379.0 1183.0C380.1 1183.0 381.4 1180.6 382.4 1181.1C383.4 1181.6 384.1 1182.8 385.0 1186.0C385.9 1189.2 387.0 1195.2 388.0 1200.0C389.0 1204.8 389.8 1210.6 391.0 1215.0C392.2 1219.4 394.3 1224.4 395.0 1226.3" fill="none" stroke="#ef6a62" stroke-width="0.95"/>
<path d="M348.0 1222.5C349.2 1221.9 352.7 1220.6 355.0 1219.0C357.3 1217.4 359.9 1215.0 362.0 1213.0C364.1 1211.0 366.1 1209.7 367.6 1207.0C369.1 1204.3 369.9 1200.7 371.0 1197.0C372.1 1193.3 373.2 1187.6 374.0 1185.0C374.8 1182.4 375.2 1181.7 376.0 1181.4C376.8 1181.1 377.9 1183.0 379.0 1183.0C380.1 1183.0 381.4 1181.1 382.4 1181.6C383.4 1182.1 384.1 1182.9 385.0 1186.0C385.9 1189.1 387.0 1195.2 388.0 1200.0C389.0 1204.8 389.8 1210.6 391.0 1215.0C392.2 1219.4 394.3 1224.4 395.0 1226.3" fill="none" stroke="#ef6a62" stroke-width="0.95"/>
<path d="M348.0 1222.5C349.2 1221.9 352.7 1220.6 355.0 1219.0C357.3 1217.4 359.9 1215.0 362.0 1213.0C364.1 1211.0 366.1 1209.7 367.6 1207.0C369.1 1204.3 369.9 1200.7 371.0 1197.0C372.1 1193.3 373.2 1187.5 374.0 1185.0C374.8 1182.5 375.2 1182.1 376.0 1181.8C376.8 1181.5 377.9 1183.0 379.0 1183.0C380.1 1183.0 381.4 1181.6 382.4 1182.1C383.4 1182.6 384.1 1183.0 385.0 1186.0C385.9 1189.0 387.0 1195.2 388.0 1200.0C389.0 1204.8 389.8 1210.6 391.0 1215.0C392.2 1219.4 394.3 1224.4 395.0 1226.3" fill="none" stroke="#ef6a62" stroke-width="0.95"/>
<path d="M348.0 1222.5C349.2 1221.9 352.7 1220.6 355.0 1219.0C357.3 1217.4 359.9 1215.0 362.0 1213.0C364.1 1211.0 366.1 1209.7 367.6 1207.0C369.1 1204.3 369.9 1200.7 371.0 1197.0C372.1 1193.3 373.2 1187.7 374.0 1185.0C374.8 1182.3 375.2 1181.0 376.0 1181.0C376.8 1181.0 378.0 1182.7 379.0 1185.0C380.0 1187.3 381.0 1191.3 382.0 1195.0C383.0 1198.7 383.8 1202.8 385.0 1207.0C386.2 1211.2 387.7 1216.8 389.0 1220.0C390.3 1223.2 392.3 1225.2 393.0 1226.3" fill="none" stroke="#ef6a62" stroke-width="0.95"/>
<path d="M453.7 1215.0C454.1 1214.8 454.9 1214.5 456.0 1214.0C457.1 1213.5 458.7 1212.5 460.0 1212.0C461.3 1211.5 462.8 1211.0 464.0 1210.8C465.2 1210.5 465.8 1210.2 467.0 1210.5C468.2 1210.8 469.7 1211.2 471.0 1212.5C472.3 1213.8 473.6 1215.9 475.0 1218.0C476.4 1220.1 477.9 1223.9 479.6 1225.3C481.3 1226.7 481.1 1226.1 485.0 1226.3C488.9 1226.5 500.0 1226.5 503.0 1226.6" fill="none" stroke="#ef6a62" stroke-width="0.95"/>
<path d="M453.7 1215.0C454.1 1214.8 454.9 1214.2 456.0 1214.0C457.1 1213.8 458.7 1213.8 460.0 1213.5C461.3 1213.2 462.8 1212.5 464.0 1212.3C465.2 1212.0 465.8 1211.7 467.0 1212.0C468.2 1212.3 469.7 1213.0 471.0 1214.0C472.3 1215.0 473.6 1216.1 475.0 1218.0C476.4 1219.9 477.9 1223.9 479.6 1225.3C481.3 1226.7 481.1 1226.1 485.0 1226.3C488.9 1226.5 500.0 1226.5 503.0 1226.6" fill="none" stroke="#ef6a62" stroke-width="0.95"/>
<path d="M453.7 1178.0C453.7 1184.2 453.3 1208.9 453.7 1215.0C454.1 1221.1 454.9 1214.7 456.0 1214.5C457.1 1214.3 458.7 1214.2 460.0 1214.0C461.3 1213.8 462.8 1213.1 464.0 1213.0C465.2 1212.9 465.8 1213.1 467.0 1213.5C468.2 1213.9 469.7 1214.6 471.0 1215.5C472.3 1216.4 473.6 1217.3 475.0 1219.0C476.4 1220.7 477.9 1224.4 479.6 1225.6C481.3 1226.8 481.0 1226.1 485.0 1226.3C489.0 1226.5 500.6 1226.5 503.7 1226.6" fill="none" stroke="#22b3b3" stroke-width="0.9"/>
<path d="M453.7 1178.0C453.7 1184.2 453.3 1208.9 453.7 1215.0C454.1 1221.1 454.9 1214.4 456.0 1214.5C457.1 1214.6 458.7 1215.5 460.0 1215.5C461.3 1215.5 462.8 1214.6 464.0 1214.5C465.2 1214.4 465.8 1214.6 467.0 1215.0C468.2 1215.4 469.7 1216.3 471.0 1217.0C472.3 1217.7 473.6 1217.6 475.0 1219.0C476.4 1220.4 477.9 1224.4 479.6 1225.6C481.3 1226.8 481.0 1226.1 485.0 1226.3C489.0 1226.5 500.6 1226.5 503.7 1226.6" fill="none" stroke="#22b3b3" stroke-width="0.9"/>
<path d="M453.7 1178.0C453.7 1184.2 453.3 1208.9 453.7 1215.0C454.1 1221.1 454.9 1214.2 456.0 1214.5C457.1 1214.8 458.7 1216.8 460.0 1217.0C461.3 1217.2 462.8 1216.1 464.0 1216.0C465.2 1215.9 465.8 1216.1 467.0 1216.5C468.2 1216.9 469.7 1218.1 471.0 1218.5C472.3 1218.9 473.6 1217.8 475.0 1219.0C476.4 1220.2 477.9 1224.4 479.6 1225.6C481.3 1226.8 481.0 1226.1 485.0 1226.3C489.0 1226.5 500.6 1226.5 503.7 1226.6" fill="none" stroke="#22b3b3" stroke-width="0.9"/>
<line x1="34.9" y1="1227.8" x2="85.9" y2="1227.8" stroke="#4d4d4d" stroke-width="0.8"/>
<line x1="138.6" y1="1227.8" x2="191.4" y2="1227.8" stroke="#4d4d4d" stroke-width="0.8"/>
<line x1="239.0" y1="1227.8" x2="289.8" y2="1227.8" stroke="#4d4d4d" stroke-width="0.8"/>
<line x1="346.4" y1="1227.8" x2="396.2" y2="1227.8" stroke="#4d4d4d" stroke-width="0.8"/>
<line x1="450.8" y1="1227.8" x2="503.7" y2="1227.8" stroke="#4d4d4d" stroke-width="0.8"/>
<line x1="45.5" y1="1227.8" x2="45.5" y2="1229.6" stroke="#4d4d4d" stroke-width="0.7"/>
<text x="45.5" y="1238.6" font-size="8.8" text-anchor="middle">3.0</text>
<line x1="58.6" y1="1227.8" x2="58.6" y2="1229.6" stroke="#4d4d4d" stroke-width="0.7"/>
<text x="58.6" y="1238.6" font-size="8.8" text-anchor="middle">3.5</text>
<line x1="72.1" y1="1227.8" x2="72.1" y2="1229.6" stroke="#4d4d4d" stroke-width="0.7"/>
<text x="72.1" y="1238.6" font-size="8.8" text-anchor="middle">4.0</text>
<line x1="85.1" y1="1227.8" x2="85.1" y2="1229.6" stroke="#4d4d4d" stroke-width="0.7"/>
<text x="85.1" y="1238.6" font-size="8.8" text-anchor="middle">4.5</text>
<line x1="149.0" y1="1227.8" x2="149.0" y2="1229.6" stroke="#4d4d4d" stroke-width="0.7"/>
<text x="149.0" y="1238.6" font-size="8.8" text-anchor="middle">3.0</text>
<line x1="161.0" y1="1227.8" x2="161.0" y2="1229.6" stroke="#4d4d4d" stroke-width="0.7"/>
<text x="161.0" y="1238.6" font-size="8.8" text-anchor="middle">3.5</text>
<line x1="173.5" y1="1227.8" x2="173.5" y2="1229.6" stroke="#4d4d4d" stroke-width="0.7"/>
<text x="173.5" y="1238.6" font-size="8.8" text-anchor="middle">4.0</text>
<line x1="185.5" y1="1227.8" x2="185.5" y2="1229.6" stroke="#4d4d4d" stroke-width="0.7"/>
<text x="185.5" y="1238.6" font-size="8.8" text-anchor="middle">4.5</text>
<line x1="247.5" y1="1227.8" x2="247.5" y2="1229.6" stroke="#4d4d4d" stroke-width="0.7"/>
<text x="247.5" y="1238.6" font-size="8.8" text-anchor="middle">3.0</text>
<line x1="259.5" y1="1227.8" x2="259.5" y2="1229.6" stroke="#4d4d4d" stroke-width="0.7"/>
<text x="259.5" y="1238.6" font-size="8.8" text-anchor="middle">3.5</text>
<line x1="272.5" y1="1227.8" x2="272.5" y2="1229.6" stroke="#4d4d4d" stroke-width="0.7"/>
<text x="272.5" y="1238.6" font-size="8.8" text-anchor="middle">4.0</text>
<line x1="285.5" y1="1227.8" x2="285.5" y2="1229.6" stroke="#4d4d4d" stroke-width="0.7"/>
<text x="285.5" y="1238.6" font-size="8.8" text-anchor="middle">4.5</text>
<line x1="354.9" y1="1227.8" x2="354.9" y2="1229.6" stroke="#4d4d4d" stroke-width="0.7"/>
<text x="354.9" y="1238.6" font-size="8.8" text-anchor="middle">3.0</text>
<line x1="367.5" y1="1227.8" x2="367.5" y2="1229.6" stroke="#4d4d4d" stroke-width="0.7"/>
<text x="367.5" y="1238.6" font-size="8.8" text-anchor="middle">3.5</text>
<line x1="380.3" y1="1227.8" x2="380.3" y2="1229.6" stroke="#4d4d4d" stroke-width="0.7"/>
<text x="380.3" y="1238.6" font-size="8.8" text-anchor="middle">4.0</text>
<line x1="393.0" y1="1227.8" x2="393.0" y2="1229.6" stroke="#4d4d4d" stroke-width="0.7"/>
<text x="393.0" y="1238.6" font-size="8.8" text-anchor="middle">4.5</text>
<line x1="461.3" y1="1227.8" x2="461.3" y2="1229.6" stroke="#4d4d4d" stroke-width="0.7"/>
<text x="461.3" y="1238.6" font-size="8.8" text-anchor="middle">3.0</text>
<line x1="475.8" y1="1227.8" x2="475.8" y2="1229.6" stroke="#4d4d4d" stroke-width="0.7"/>
<text x="475.8" y="1238.6" font-size="8.8" text-anchor="middle">3.5</text>
<line x1="490.2" y1="1227.8" x2="490.2" y2="1229.6" stroke="#4d4d4d" stroke-width="0.7"/>
<text x="490.2" y="1238.6" font-size="8.8" text-anchor="middle">4.0</text>
</svg>
</body></html>
